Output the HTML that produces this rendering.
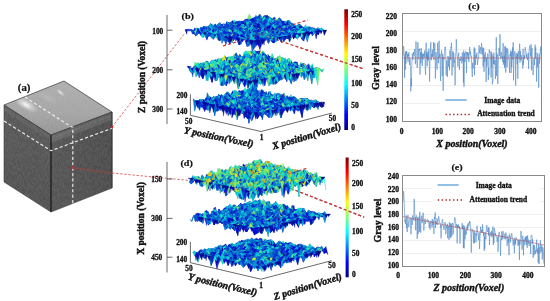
<!DOCTYPE html>
<html><head><meta charset="utf-8"><style>
html,body{margin:0;padding:0;background:#fff;width:550px;height:301px;overflow:hidden}
svg{display:block}
.pl path{stroke-width:3}
text{font-family:"Liberation Serif",serif;font-weight:bold;fill:#111;stroke:#111;stroke-width:.32}
.pl2{stroke-width:.2}
.tt{stroke-width:.42}
.j0{fill:#0a0d6f;stroke:#0a0d6f}.j1{fill:#0a0d88;stroke:#0a0d88}.j2{fill:#0a0da0;stroke:#0a0da0}.j3{fill:#0a0db9;stroke:#0a0db9}.j4{fill:#0a0dd2;stroke:#0a0dd2}.j5{fill:#0a27d2;stroke:#0a27d2}.j6{fill:#0a43d2;stroke:#0a43d2}.j7{fill:#0a5ed2;stroke:#0a5ed2}.j8{fill:#0a7ad2;stroke:#0a7ad2}.j9{fill:#0a95d2;stroke:#0a95d2}.j10{fill:#0ab1d2;stroke:#0ab1d2}.j11{fill:#0accd2;stroke:#0accd2}.j12{fill:#0ae8d2;stroke:#0ae8d2}.j13{fill:#24e8b9;stroke:#24e8b9}.j14{fill:#40e8a0;stroke:#40e8a0}.j15{fill:#5be888;stroke:#5be888}.j16{fill:#77e86f;stroke:#77e86f}.j17{fill:#92e856;stroke:#92e856}.j18{fill:#aee83d;stroke:#aee83d}.j19{fill:#c9e824;stroke:#c9e824}.j20{fill:#e5e80c;stroke:#e5e80c}.j21{fill:#e5cc0c;stroke:#e5cc0c}.j22{fill:#e5b10c;stroke:#e5b10c}.j23{fill:#e5950c;stroke:#e5950c}
</style></head><body>
<svg width="550" height="301" viewBox="0 0 550 301">
<defs><linearGradient id="jet" x1="0" y1="0" x2="0" y2="1"><stop offset="0.0000" stop-color="#7f0000"/><stop offset="0.0625" stop-color="#bf0000"/><stop offset="0.1250" stop-color="#ff0000"/><stop offset="0.1875" stop-color="#ff3f00"/><stop offset="0.2500" stop-color="#ff7f00"/><stop offset="0.3125" stop-color="#ffbf00"/><stop offset="0.3750" stop-color="#ffff00"/><stop offset="0.4375" stop-color="#bfff3f"/><stop offset="0.5000" stop-color="#7fff7f"/><stop offset="0.5625" stop-color="#3fffbf"/><stop offset="0.6250" stop-color="#00ffff"/><stop offset="0.6875" stop-color="#00bfff"/><stop offset="0.7500" stop-color="#007fff"/><stop offset="0.8125" stop-color="#003fff"/><stop offset="0.8750" stop-color="#0000ff"/><stop offset="0.9375" stop-color="#0000bf"/><stop offset="1.0000" stop-color="#00007f"/></linearGradient>
<filter id="nz" x="0" y="0" width="1" height="1"><feTurbulence type="fractalNoise" baseFrequency="0.9 0.25" numOctaves="2" seed="3"/><feColorMatrix values="0 0 0 0 1  0 0 0 0 1  0 0 0 0 1  0 0 0 .25 0"/><feComposite in2="SourceGraphic" operator="in"/></filter><filter id="nz2" x="0" y="0" width="1" height="1"><feTurbulence type="fractalNoise" baseFrequency="1.6 0.35" numOctaves="2" seed="5"/><feColorMatrix values="0 0 0 0 1  0 0 0 0 1  0 0 0 0 1  0 0 0 .3 -.02"/><feComposite in2="SourceGraphic" operator="in"/></filter>
</defs>
<g id="cube">
<linearGradient id="gt" x1="0" y1="0" x2="0" y2="1"><stop offset="0" stop-color="#acacac"/><stop offset=".6" stop-color="#a2a2a2"/><stop offset="1" stop-color="#929292"/></linearGradient>
<linearGradient id="gl" x1="0" y1="0" x2="0" y2="1"><stop offset="0" stop-color="#525252"/><stop offset="1" stop-color="#494949"/></linearGradient>
<linearGradient id="gr" x1="0" y1="0" x2="1" y2="0"><stop offset="0" stop-color="#4e4e4e"/><stop offset="1" stop-color="#444"/></linearGradient>
<radialGradient id="wp"><stop offset="0" stop-color="#fff" stop-opacity=".75"/><stop offset="1" stop-color="#fff" stop-opacity="0"/></radialGradient>
<polygon points="64,81 112,112 51,135 4,105" fill="url(#gt)"/>
<polygon points="4,105 51,135 51,212 4,182" fill="url(#gl)"/>
<polygon points="51,135 112,112 112,188 51,212" fill="url(#gr)"/>
<ellipse cx="26" cy="104.5" rx="14" ry="5.5" transform="rotate(30 26 104.5)" fill="url(#wp)"/>
<ellipse cx="26" cy="105" rx="6" ry="2.5" transform="rotate(30 26 105)" fill="url(#wp)" opacity=".7"/>
<ellipse cx="60.5" cy="92.5" rx="5.5" ry="2.2" transform="rotate(42 60.5 92.5)" fill="url(#wp)" opacity=".85"/>
<ellipse cx="48" cy="98" rx="12" ry="4" transform="rotate(30 48 98)" fill="url(#wp)" opacity=".2"/>
<polygon points="51,135 112,112 112,120 51,143" fill="#fff" opacity=".1"/>
<polygon points="4,105 51,135 51,141 4,111" fill="#fff" opacity=".05"/>
<polygon points="64,81 112,112 51,135 4,105" fill="#fff"  filter="url(#nz)" opacity=".45"/>
<polygon points="4,105 51,135 51,212 4,182" fill="#fff" filter="url(#nz2)" opacity=".55"/>
<polygon points="51,135 112,112 112,188 51,212" fill="#fff" filter="url(#nz2)" opacity=".55"/>
<line x1="51" y1="135" x2="51" y2="212" stroke="#1a1a1a" stroke-width="1.3"/>
<polyline points="4,105 51,135 112,112" fill="none" stroke="#333" stroke-width=".9"/>
<line x1="112" y1="112" x2="112" y2="188" stroke="#2a2a2a" stroke-width=".9"/>
<line x1="52" y1="138.2" x2="111.5" y2="115.8" stroke="#bbb" stroke-width=".5" stroke-dasharray="1 1.2" opacity=".6"/>
<polyline points="4,105 64,81 112,112" fill="none" stroke="#4a4a4a" stroke-width=".8"/>
<polyline points="112,112 112,188 51,212 4,182 4,105" fill="none" stroke="#3c3c3c" stroke-width=".6"/>
<polyline points="25,97 71.5,127 72.8,127 72.8,203.5" fill="none" stroke="#f2f2f2" stroke-width="1.1" stroke-dasharray="3.2 2.2"/>
<polyline points="4,121 51,150.7 112,128.3" fill="none" stroke="#f2f2f2" stroke-width="1.1" stroke-dasharray="3.2 2.2"/>
</g>
<text font-size="9.9" transform="translate(17.8 90.8) scale(1.1 1)" class="pl2">(a)</text>
<line x1="112" y1="127" x2="185" y2="33" stroke="#d45050" stroke-width=".85" stroke-dasharray="2.4 1.7" fill="none"/>
<line x1="72.8" y1="167.8" x2="112" y2="173" stroke="#c04040" stroke-opacity=".35" stroke-width="1.8"/>
<line x1="112" y1="173" x2="190" y2="180.5" stroke="#d45050" stroke-width=".85" stroke-dasharray="2.4 1.7" fill="none"/>
<circle cx="112" cy="127" r="1.3" fill="#e02020"/>
<circle cx="72.8" cy="167.8" r="1.3" fill="#e02020"/>
<line x1="223" y1="46" x2="308" y2="20" stroke="#c83c3c" stroke-width="1.15" stroke-dasharray="3 2.2" fill="none"/>
<line x1="223.6" y1="192.8" x2="308" y2="168" stroke="#c83c3c" stroke-width="1.15" stroke-dasharray="3 2.2" fill="none"/>
<line x1="256" y1="33" x2="364" y2="69" stroke="#c83c3c" stroke-width="1.15" stroke-dasharray="3 2.2" fill="none"/>
<line x1="290.5" y1="188.4" x2="364.2" y2="217.2" stroke="#c83c3c" stroke-width="1.15" stroke-dasharray="3 2.2" fill="none"/><g class="pl"><g transform="scale(.1)"><path class="j4" d="M2616 200l18-20l21-29l-17 10z"/><path class="j5" d="M2578 165l17 21l21 14l-17-60z"/><path class="j8" d="M2599 140l17 60l22-39l-18 21z"/><path class="j1" d="M2514 222l18 22l21-63l-17 12z"/><path class="j4" d="M2574 167l18 10l21-16l-18 25zM2631 198l17 22l21-67l-17 35z"/><path class="j5" d="M2553 181l18 4l21-8l-18-10zM2595 186l18-25l21 19l-18 20zM2652 188l17-35l21 18l-18 1z"/><path class="j6" d="M2634 180l18 8l20-16l-17-21zM2669 153l18 14l21 10l-18-6z"/><path class="j7" d="M2536 193l17-12l21-14l-17-13z"/><path class="j9" d="M2557 154l17 13l21 19l-17-21z"/><path class="j10" d="M2592 177l18 6l21 15l-18-37z"/><path class="j14" d="M2613 161l18 37l21-10l-18-8z"/><path class="j2" d="M2610 183l17 7l21 30l-17-22zM2627 190l18 17l21-15l-18 28z"/><path class="j3" d="M2451 193l18 22l21-22l-18-3zM2532 244l18-71l21 12l-18-4zM2571 185l18 8l21-10l-18-6zM2645 207l17 9l21 10l-17-34z"/><path class="j4" d="M2568 197l17-12l21 6l-17 2zM2722 195l17 5l21-8l-18-23z"/><path class="j5" d="M2529 183l18 1l21 13l-18-24zM2648 220l18-28l21-25l-18-14z"/><path class="j6" d="M2666 192l17 34l21-34l-17-25z"/><path class="j7" d="M2511 184l18-1l21-10l-18 71zM2550 173l18 24l21-4l-18-8z"/><path class="j8" d="M2589 193l17-2l21-1l-17-7z"/><path class="j10" d="M2606 191l18 15l21 1l-18-17zM2704 192l18 3l20-26l-17 15z"/><path class="j12" d="M2490 193l18-1l21-9l-18 1zM2683 226l18-34l21 3l-18-3z"/><path class="j15" d="M2493 138l18 46l21 60l-18-22zM2687 167l17 25l21-8l-17-7z"/><path class="j16" d="M2472 190l18 3l21-9l-18-46z"/><path class="j3" d="M2448 201l18-3l21 9l-18 8zM2487 207l18 39l21-5l-18-49zM2603 218l18 15l20-60l-17 33zM2662 216l18-14l21-10l-18 34z"/><path class="j4" d="M2409 209l18 69l21-77l-18 13zM2508 192l18 49l21-57l-18-1zM2505 246l17-16l21 17l-17-6zM2701 192l17 0l21 8l-17-5zM2718 192l18 58l21-50l-18 0z"/><path class="j5" d="M2427 278l18-45l21-35l-18 3zM2526 241l17 6l21-50l-17-13zM2582 207l18 2l21 24l-18-15zM2698 169l17 35l21 46l-18-58z"/><path class="j6" d="M2388 272l18-27l21 33l-18-69zM2543 247l18-32l21-8l-18-10zM2736 250l18 17l20-65l-17-2z"/><path class="j7" d="M2430 214l18-13l21 14l-18-22zM2469 215l18-8l21-15l-18 1zM2466 198l18 66l21-18l-18-39zM2585 185l18 33l21-12l-18-15zM2641 173l18 6l21 23l-18 14zM2680 202l18-33l20 23l-17 0zM2774 202l18-24l20 16l-17 1z"/><path class="j8" d="M2547 184l17 13l21-12l-17 12z"/><path class="j9" d="M2564 197l18 10l21 11l-18-33zM2659 179l18 50l21-60l-18 33z"/><path class="j12" d="M2624 206l17-33l21 43l-17-9z"/><path class="j13" d="M2621 233l17-29l21-25l-18-6z"/><path class="j15" d="M2757 200l17 2l21-7l-17-2z"/><path class="j18" d="M2739 200l18 0l21-7l-18-1z"/><path class="j2" d="M2463 247l17-35l21-6l-17 58zM2484 264l17-58l21 24l-17 16z"/><path class="j3" d="M2346 204l18 14l21-6l-18 93zM2403 307l18-56l21-22l-18-18zM2733 194l17 44l21 1l-17 28zM2750 238l18-17l21-7l-18 25zM2809 239l18-27l21 2l-18 6z"/><path class="j4" d="M2385 212l18 95l21-96l-18 34zM2442 229l17-8l21-9l-17 35zM2519 226l18-7l21 11l-18 4zM2635 250l18-26l21-5l-18 2zM2789 214l17 15l21-17l-18 27z"/><path class="j5" d="M2501 206l18 20l21 8l-18-4zM2597 266l17 30l21-46l-18-28z"/><path class="j6" d="M2406 245l18-34l21 22l-18 45zM2522 230l18 4l21-19l-18 32zM2540 234l18-4l21-14l-18-1zM2579 216l18 50l20-44l-17-13zM2617 222l18 28l21-29l-18-17zM2638 204l18 17l21 8l-18-50zM2792 178l17 61l21-19l-18-26z"/><path class="j7" d="M2367 305l18-93l21 33l-18 27zM2364 218l18 4l21 85l-18-95zM2561 215l18 1l21-7l-18-2zM2694 203l18 32l21-41l-18 10zM2754 267l17-28l21-61l-18 24z"/><path class="j8" d="M2445 233l18 14l21 17l-18-66zM2600 209l17 13l21-18l-17 29zM2656 221l18-2l20-16l-17 26zM2715 204l18-10l21 73l-18-17zM2771 239l18-25l20 25l-17-61z"/><path class="j9" d="M2558 230l18 15l21 21l-18-50zM2674 219l17 23l21-7l-18-32z"/><path class="j10" d="M2424 211l18 18l21 18l-18-14zM2480 212l18 32l21-18l-18-20z"/><path class="j12" d="M2324 205l18 28l22-15l-18-14zM2677 229l17-26l21 1l-17-35zM2712 235l18 27l20-24l-17-44zM2827 212l17 4l21-5l-17 3z"/><path class="j2" d="M2282 227l18 4l21 15l-18-14zM2300 231l18-8l21 85l-18-62zM2321 246l18 62l22-77l-19 2zM2421 251l18-24l20-6l-17 8zM2498 244l18-6l21-19l-18 7zM2537 219l18 5l21 21l-18-15zM2534 225l18 40l21-22l-18-19zM2614 296l18-45l21-27l-18 26zM2671 274l17-44l21 70l-18-58zM2709 300l18-76l20 2l-17 36z"/><path class="j3" d="M2303 232l18 14l21-13l-18-28zM2342 233l19-2l21-9l-18-4zM2632 251l18-45l21 68l-18-50zM2653 224l18 50l20-32l-17-23z"/><path class="j4" d="M2361 231l18-4l21-18l-18 13zM2379 227l18 9l21-7l-18-20zM2576 245l18-12l20 63l-17-30zM2747 226l18 49l21-19l-18-35zM2806 229l18 25l20-38l-17-4zM2824 254l17-23l21 104l-18-119z"/><path class="j5" d="M2261 239l18-15l21 7l-18-4zM2555 224l18 19l21-10l-18 12zM2727 224l17-7l21 58l-18-49z"/><path class="j6" d="M2477 221l18 2l21 15l-18 6zM2611 219l18 44l21-57l-18 45zM2650 206l18 22l20 2l-17 44zM2691 242l18 58l21-38l-18-27zM2768 221l18 35l20-27l-17-15zM2765 275l18-1l20-57l-17 39zM2841 231l18 16l21-44l-18 132z"/><path class="j7" d="M2382 222l18-13l21 42l-18 56zM2439 227l17-8l21 2l-18 0zM2459 221l18 0l21 23l-18-32zM2495 223l18 42l21-40l-18 13zM2803 217l18 55l20-41l-17 23z"/><path class="j8" d="M2400 209l18 20l21-2l-18 24zM2418 229l18 38l20-48l-17 8zM2516 238l18-13l21-1l-18-5zM2594 233l17-14l21 32l-18 45zM2688 230l18 2l21-8l-18 76zM2730 262l17-36l21-5l-18 17zM2880 203l17 152l21-123l-18-23z"/><path class="j9" d="M2339 308l19-61l21-20l-18 4zM2844 216l18 119l20-98l-17-26zM2862 335l18-132l20 6l-18 28z"/><path class="j10" d="M2786 256l17-39l21 37l-18-25z"/><path class="j11" d="M2456 219l18 67l21-63l-18-2zM2573 243l18-16l20-8l-17 14z"/><path class="j1" d="M2800 333l18-61l21-38l-18 38z"/><path class="j2" d="M2198 226l18 37l21 21l-18-36zM2626 248l18 27l21-33l-18 19zM2685 226l18 61l21-28l-18-27zM2839 234l17 8l21 23l-18-18z"/><path class="j3" d="M2219 248l18 36l21-9l-18-14zM2316 253l18-10l21 18l-18-29zM2397 236l18-19l21 50l-18-38zM2394 285l18 15l21-78l-18-5zM2436 267l18-9l20 28l-18-67zM2433 222l18 38l21-10l-18 8zM2744 217l18 9l21 48l-18 1zM2818 272l18 48l20-78l-17-8zM2859 247l18 18l20 90l-17-152z"/><path class="j4" d="M2415 217l18 5l21 36l-18 9zM2474 286l18-54l21 33l-18-42zM2513 265l18-37l21 37l-18-40zM2591 227l17 8l21 28l-18-44zM2608 235l18 13l21 13l-18 2zM2703 287l18-4l21-67l-18 43zM2894 262l18 24l20-48l-17-4z"/><path class="j5" d="M2258 275l18-31l21 2l-18-22zM2358 247l18-6l21-5l-18-9zM2355 261l18-16l21 40l-18-44zM2821 272l18-38l20 13l-18-16zM2856 242l18 24l20-4l-17 3z"/><path class="j6" d="M2279 224l18 22l21-23l-18 8zM2297 246l19 7l21-21l-19-9zM2318 223l19 9l21 15l-19 61zM2454 258l18-8l20-18l-18 54zM2549 235l18 68l21-64l-18 15zM2629 263l18-2l21-33l-18-22zM2647 261l18-19l20-16l-17 2zM2668 228l17-2l21 6l-18-2zM2706 232l18 27l20-42l-17 7z"/><path class="j7" d="M2240 261l18 14l21-51l-18 15zM2237 284l18-41l21 1l-18 31zM2276 244l19 18l21-9l-19-7zM2376 241l18 44l21-68l-18 19zM2492 232l18 11l21-15l-18 37zM2552 265l18-11l21-27l-18 16zM2665 242l18 1l20 44l-18-61zM2742 216l17 21l21 37l-18-48zM2780 274l18-4l20 2l-18 61zM2877 265l17-3l21-28l-18 121zM2897 355l18-121l20 126l-17-128z"/><path class="j8" d="M2472 250l18-20l20 13l-18-11zM2510 243l18 38l21-46l-18-7zM2531 228l18 7l21 19l-18 11zM2762 226l18 48l20 59l-17-59zM2783 274l17 59l21-61l-18-55zM2915 234l17 4l20 63l-17 59z"/><path class="j10" d="M2570 254l18-15l20-4l-17-8zM2724 259l18-43l20 10l-18-9zM2932 238l18 72l20-53l-18 44z"/><path class="j11" d="M2337 232l18 29l21-20l-18 6zM2588 239l18 4l20 5l-18-13z"/><path class="j1" d="M2795 329l17-46l21 18l-18-43z"/><path class="j2" d="M2370 258l18 59l21-71l-18 1zM2700 244l18 18l21 12l-18 9zM2798 270l17-12l21 62l-18-48zM2836 320l17-52l21-2l-18-24zM2909 363l18-60l20-46l-18-3zM2985 331l17-84l20 18l-17 4z"/><path class="j3" d="M2134 259l19-18l21 40l-18-15zM2412 300l18-61l21 21l-18-38zM2567 303l18-73l21 13l-18-4zM2644 275l18-32l21 0l-18-1zM2721 283l18-9l20-37l-17-21zM2853 268l18-18l20-1l-17 17zM2967 269l18 62l20-62l-17-23z"/><path class="j4" d="M2216 263l18-23l21 3l-18 41zM2213 248l19 52l21-53l-19-7zM2352 272l18-14l21-11l-18-2zM2391 247l18-1l21-7l-18 61zM2487 263l18-4l21 2l-18-21zM2546 255l18 14l21-39l-18 73zM2564 269l18-31l21 13l-18-21zM2606 243l18 1l20 31l-18-27zM2624 244l17-22l21 21l-18 32zM2739 274l18-45l20 31l-18-23zM2759 237l18 23l21 10l-18 4zM2757 229l17 18l21 82l-18-69zM2833 301l18-3l20-48l-18 18zM2912 286l17-32l21 56l-18-72z"/><path class="j5" d="M2234 240l19 7l21 31l-19-35zM2253 247l18 2l21-3l-18 32zM2373 245l18 2l21 53l-18-15zM2430 239l18 14l21 53l-18-46zM2469 306l18-43l21-23l-18-10zM2526 261l18-21l20 29l-18-14zM2683 243l17 1l21 39l-18 4zM2874 266l17-17l21 37l-18-24zM2891 249l18 114l20-109l-17 32z"/><path class="j6" d="M2156 266l18 15l21-39l-18-2zM2174 281l18-29l21-4l-18-6zM2195 242l18 6l21-8l-18 23zM2255 243l19 35l21-16l-19-18zM2292 246l18 47l21-44l-18-21zM2331 249l18 6l21 3l-18 14zM2490 230l18 10l20 41l-18-38zM2508 240l18 21l20-6l-18 26zM2777 260l18 69l20-71l-17 12zM2929 254l18 3l20 12l-17 41z"/><path class="j7" d="M2274 278l18-32l21-18l-18 34zM2295 262l18-34l21 15l-18 10zM2448 253l18-6l21 16l-18 43zM2528 281l18-26l21 48l-18-68zM2662 243l18-23l20 24l-17-1zM2871 250l18 35l20 78l-18-114zM2950 310l17-41l21-23l-18 11z"/><path class="j8" d="M2177 240l18 2l21 21l-18-37zM2313 228l18 21l21 23l-18-29zM2603 251l18 36l20-65l-17 22zM2815 258l18 43l20-33l-17 52z"/><path class="j9" d="M2585 230l18 21l21-7l-18-1zM2641 222l18 37l21-39l-18 23z"/><path class="j10" d="M2680 220l18 27l20 15l-18-18z"/><path class="j11" d="M2718 262l18-23l21-10l-18 45zM2947 257l17 3l21 71l-18-62z"/><path class="j12" d="M2451 260l18 46l21-76l-18 20z"/><path class="j13" d="M2409 246l18 58l21-51l-18-14z"/><path class="j17" d="M2334 243l18 29l21-27l-18 16z"/><path class="j1" d="M2812 283l18-2l21 17l-18 3z"/><path class="j2" d="M2310 293l18 5l21-43l-18-6zM2406 263l19-9l20 39l-18 11zM2427 304l18-11l21-46l-18 6zM2810 262l18 69l20-75l-18 25zM2889 285l17-41l21 59l-18 60z"/><path class="j3" d="M2347 254l18 4l21 17l-19-14zM2562 267l18 38l20-57l-18-10zM2580 305l18-48l20 40l-18-49zM2754 277l18-2l20-20l-18-8zM2774 247l18 8l20 28l-17 46zM2772 275l17-6l21-7l-18-7zM2906 244l18 10l20 61l-17-12z"/><path class="j4" d="M2388 317l18-54l21 41l-18-58zM2386 275l18 50l21-71l-19 9zM2463 256l19-5l20 9l-18-9zM2502 260l18 4l21-20l-18 11zM2544 240l18 27l20-29l-18 31zM2541 244l18 60l21 1l-18-38zM2582 238l18 10l21 39l-18-36zM2621 287l18-35l20 7l-18-37zM2639 252l18 5l20 15l-18-13zM2695 256l18 31l20 27l-17-58zM2982 245l18 12l20 52l-18-62z"/><path class="j5" d="M2192 252l19 43l21 5l-19-52zM2307 287l19 5l21-38l-19 44zM2367 261l19 14l20-12l-18 54zM2677 272l18-16l21 0l-18-9zM2698 247l18 9l20-17l-18 23z"/><path class="j6" d="M2092 256l19-13l21 9l-19 31zM2132 252l18 34l21-25l-18-20zM2153 241l18 20l21-9l-18 29zM2232 300l18-42l21-9l-18-2zM2657 257l18 3l20-4l-18 16zM2848 256l18 49l20-45l-18-8zM2944 315l18-41l20-29l-18 15zM2964 260l18-15l20 2l-17 84zM3020 309l17-24l21-38l-18 28z"/><path class="j7" d="M2071 265l19 21l21-43l-19 13zM2211 295l18-10l21-27l-18 42zM2349 255l18 6l21 56l-18-59zM2466 247l18 4l21 8l-18 4zM2484 251l18 9l21-5l-18 4zM2523 255l18-11l21 23l-18-27zM2736 239l18 38l20-30l-17-18zM2830 281l18-25l20-4l-17 46zM2851 298l17-46l21 33l-18-35z"/><path class="j8" d="M2111 243l18 60l21-17l-18-34zM2268 216l19 43l20 28l-18-49zM2289 238l18 49l21 11l-18-5zM2792 255l18 7l20 19l-18 2zM3000 257l17 5l20 23l-17 24z"/><path class="j9" d="M2171 261l19-24l21 58l-19-43zM2271 249l18-11l21 55l-18-47zM2733 314l18-56l21 17l-18 2zM2927 303l17 12l20-55l-17-3zM2962 274l17 12l21-29l-18-12z"/><path class="j10" d="M2113 283l19-31l21-11l-19 18zM2190 237l18 39l21 9l-18 10zM2229 285l18-21l21-48l-18 42zM2425 254l18 38l20-36l-18 37zM2659 259l18 13l21-25l-18-27zM2924 254l18 21l20-1l-18 41z"/><path class="j11" d="M2600 248l18 49l21-45l-18 35zM2716 256l17 58l21-37l-18-38zM2868 252l18 8l20-16l-17 41zM3002 247l18 62l20-34l-18-10z"/><path class="j12" d="M2328 298l19-44l20 7l-18-6zM2445 293l18-37l21-5l-18-4zM2505 259l18-4l21-15l-18 21zM2618 297l18-47l21 7l-18-5zM2886 260l18-4l20-2l-18-10zM3037 285l18-10l20 7l-17-35z"/><path class="j13" d="M2150 286l19-24l21-25l-19 24zM2250 258l18-42l21 22l-18 11z"/><path class="j2" d="M2108 263l19 65l21-15l-19-10zM2129 303l19 10l21-51l-19 24zM2127 328l18 25l21-77l-18 37zM2559 304l18-33l21-14l-18 48zM2942 275l17-2l20 13l-17-12z"/><path class="j3" d="M2047 276l19 60l21-19l-18-44zM2245 272l18 91l21-122l-18 79zM2365 258l18 13l21 54l-18-50zM2520 264l18 54l21-14l-18-60zM2556 264l19 76l20-65l-18-4zM2577 271l18 4l21 0l-18-18zM2595 275l18 2l21-12l-18 10zM2654 279l18 14l20-8l-17-25zM2675 260l17 25l21 2l-18-31zM2672 293l18 22l20-51l-18 21zM2789 269l18 38l21 24l-18-69zM2828 331l17-73l21 47l-18-49zM2863 269l18 118l20-103l-18-17zM2979 286l18 23l20-47l-17-5zM3072 272l18 9l20 0l-18-15zM3090 281l18 9l20-13l-18 4z"/><path class="j4" d="M2362 265l18 16l21-19l-18 9zM2443 292l18-32l21-9l-19 5zM2482 251l18 33l20-20l-18-4zM2692 285l18-21l21 3l-18 20zM2866 305l17-38l21-11l-18 4zM2921 272l18-7l20 8l-17 2zM2977 258l18 36l20-4l-18 19zM2997 309l18-19l20 69l-18-97zM3052 288l18-17l20 10l-18-9z"/><path class="j5" d="M2090 286l18-23l21 40l-18-60zM2205 252l19 22l21-2l-19-6zM2344 292l18-27l21 6l-18-13zM2634 265l18 50l20-22l-18-14zM2713 287l18-20l20-9l-18 56zM2749 266l18 11l20-19l-18 0zM3017 262l18 97l20-84l-18 10z"/><path class="j6" d="M2029 270l18 6l22-3l-19-7zM2148 313l18-37l21-14l-18 0zM2208 276l18-10l21-2l-18 21zM2226 266l19 6l21 48l-19-56zM2247 264l19 56l21-61l-19-43zM2287 259l18 36l21-3l-19-5zM2323 259l18 38l21-32l-18 27zM2383 271l18-9l21-18l-18 81zM2518 251l18 14l20-1l-18 54zM2538 318l18-54l21 7l-18 33zM2883 267l18 17l20-12l-17-16zM2901 284l18 45l20-64l-18 7z"/><path class="j7" d="M2087 317l19-82l21 93l-19-65zM2326 292l18 0l21-34l-18-4zM2616 275l18-10l20 14l-18-29zM2636 250l18 29l21-19l-18-3z"/><path class="j8" d="M2050 266l19 7l21 13l-19-21zM2169 262l18 0l21 14l-18-39zM2266 320l18-79l21 54l-18-36zM2479 267l18 58l21-74l-18 33zM2710 264l18 4l21-2l-18 1zM2751 258l18 0l20 11l-17 6zM2825 273l18-18l20 14l-18-11zM3015 290l17-16l20 14l-17 71z"/><path class="j9" d="M2069 273l18 44l21-54l-18 23zM2422 244l18 42l21-26l-18 32zM2904 256l17 16l21 3l-18-21z"/><path class="j10" d="M2008 271l18 12l21-7l-18-6zM2187 262l18-10l21 14l-18 10zM2404 325l18-81l21 48l-18-38zM2401 262l18 13l21 11l-18-42zM2461 260l18 7l21 17l-18-33zM2500 284l18-33l20 67l-18-54zM2598 257l18 18l20-25l-18 47zM2787 258l18-8l20 23l-18 34zM2939 265l18-6l20-1l-18 15zM2959 273l18-15l20 51l-18-23z"/><path class="j11" d="M2166 276l19-9l20-15l-18 10zM2284 241l18 47l21-29l-18 36zM2440 286l18-25l21 6l-18-7zM2731 267l18-1l20-8l-18 0zM2769 258l18 0l20 49l-18-38zM2845 258l18 11l20-2l-17 38zM3035 359l17-71l20-16l-17 3z"/><path class="j12" d="M2305 295l18-36l21 33l-18 0zM2807 307l18-34l20-15l-17 73zM3055 275l17-3l20-6l-17 16z"/><path class="j1" d="M2321 309l18 7l21-29l-19 10zM2575 340l18-10l20-53l-18-2z"/><path class="j2" d="M2026 283l19-1l21 54l-19-60zM2045 282l19 41l21-47l-19 60zM2164 338l18-39l21 53l-18-85zM2339 316l18-28l21 4l-18-5zM2536 265l18 84l21-9l-19-76zM2746 275l18 101l20-32l-17-67zM2764 376l18-86l20-18l-18 72zM2992 309l18-25l20 27l-18 2z"/><path class="j3" d="M2224 274l18 5l21 84l-18-91zM2302 288l19 21l20-12l-18-38zM2360 287l18 5l21-17l-19 6zM2458 261l19 20l20 44l-18-58zM2670 377l18-70l20 9l-18-1zM2899 285l17-4l21-4l-18 52zM2974 292l18 17l20 4l-17-19zM3108 290l17 9l20-16l-17-6zM3143 283l17 10l20 9l-18 86z"/><path class="j4" d="M2066 336l19-60l21-41l-19 82zM2064 323l18-50l21 54l-18-51zM2456 283l18 48l21-52l-18 2zM2515 261l18 24l21 64l-18-84zM2708 316l18-46l20 5l-18-7zM2843 255l18 14l20 118l-18-118zM2861 269l18 118l20-102l-18 102zM2919 329l18-52l20-18l-18 6zM2916 281l18 5l20 15l-17-24zM2937 277l17 24l20-9l-17-33z"/><path class="j5" d="M2182 299l19 22l20-14l-18 45zM2263 363l19-91l20 16l-18-47zM2378 292l18-18l21-8l-18 9zM2477 281l18-2l20-18l-18 64zM2533 285l19 52l20-52l-18 64zM2554 349l18-64l21 45l-18 10zM2613 277l18-13l21 51l-18-50zM2652 315l18 62l20-62l-18-22zM2767 277l17 67l21-94l-18 8zM2784 344l18-72l21-2l-18-20zM2840 283l18 0l21 104l-18-118zM2879 387l17-79l20-27l-17 4zM3125 299l18-16l19 105l-17-105z"/><path class="j6" d="M1987 299l18 18l21-34l-18-12zM2106 235l18 47l21 71l-18-25zM2145 353l19-15l21-71l-19 9zM2143 286l18 0l21 13l-18 39zM2185 267l18 85l21-78l-19-22zM2203 352l18-45l21-28l-18-5zM2221 307l19-18l21-7l-19-3zM2242 279l19 3l21-10l-19 91zM2261 282l18 1l21 2l-18-13zM2341 297l19-10l20-6l-18-16zM2572 285l18-7l21 6l-18 46zM2802 272l18 47l20-36l-17-13zM2881 387l18-102l20 44l-18-45zM2954 301l18-43l20 51l-18-17zM3012 313l18-2l20 41l-18-78zM3105 287l18 72l20-76l-18 16z"/><path class="j7" d="M2024 280l19-20l21 63l-19-41zM2495 279l18 0l20 6l-18-24zM2631 264l18 13l21 100l-18-62zM2688 307l18 11l20-48l-18 46zM3032 274l18 78l20-81l-18 17zM3030 311l18 14l20-48l-18 75zM3068 277l17 15l20-5l-17 30z"/><path class="j8" d="M1966 280l18 10l21 27l-18-18zM2124 282l19 4l21 52l-19 15zM2300 285l18-7l21 38l-18-7zM2593 330l18-46l20-20l-18 13zM2690 315l18 1l20-48l-18-4zM2805 250l18 20l20-15l-18 18zM2995 294l17 19l20-39l-17 16zM3070 271l18 46l20-27l-18-9z"/><path class="j9" d="M2726 270l18 23l20 83l-18-101zM3050 352l18-75l20 40l-18-46z"/><path class="j10" d="M2005 317l19-37l21 2l-19 1zM2085 276l18 51l21-45l-18-47zM2103 327l19 57l21-98l-19-4zM2380 281l19-6l20 0l-18-13zM2419 275l19 6l20-20l-18 25zM2611 284l18 21l20-28l-18-13zM2649 277l18 43l21-13l-18 70zM2957 259l17 33l21 2l-18-36zM3088 317l17-30l20 12l-17-9z"/><path class="j11" d="M1944 279l19 36l21-25l-18-10zM2417 266l18 96l21-79l-18-2z"/><path class="j12" d="M1984 290l19 17l21-27l-19 37zM2438 281l18 2l21-2l-19-20zM2823 270l17 13l21-14l-18-14z"/><path class="j14" d="M2282 272l18 13l21 24l-19-21zM2728 268l18 7l21 2l-18-11z"/><path class="j15" d="M2497 325l18-64l21 4l-18-14z"/><path class="j16" d="M2399 275l18-9l21 15l-19-6z"/><path class="j2" d="M1921 299l19 16l21 35l-19-12zM2159 298l19 66l20-58l-18-22zM2198 306l19 39l21-32l-19-35zM2552 337l18-26l20-33l-18 7zM2629 305l18 15l20 0l-18-43zM2667 320l18-29l21 27l-18-11zM2858 283l18 8l20 17l-17 79z"/><path class="j3" d="M2082 273l19 11l21 100l-19-57zM2298 293l18 2l21 2l-19-19zM2394 308l18-16l21-3l-18-3zM2435 362l19-73l20 42l-18-48zM2549 352l19-55l20-16l-18 30zM2570 311l18-30l20 39l-18-42zM2590 278l18 42l21-15l-18-21zM2665 311l18-25l20 49l-18-44zM2706 318l18-1l20-24l-18-23zM2703 335l18-37l21 31l-18-12zM2818 339l18 35l20-88l-18 13zM2876 291l18-16l20 44l-18-11zM3045 335l18-21l20-25l-18 2z"/><path class="j4" d="M1923 337l19 1l21-23l-19-36zM1942 338l19 12l21-51l-19 16zM1982 299l19 0l21 20l-19-12zM2001 299l18 39l21-46l-18 27zM2101 284l18 39l21-33l-18 94zM2238 313l18-14l21-19l-19 72zM2279 283l19 10l20-15l-18 7zM2277 280l18 10l21 5l-18-2zM2376 292l18 16l21-22l-19-12zM2472 275l18 73l21-35l-19-28zM2511 313l18-14l20 53l-18-83zM2744 293l18-13l20 10l-18 86zM2762 280l18 17l20-24l-18 17zM2782 290l18-17l20 46l-18-47zM2780 297l18-5l20 47l-18-66zM3028 281l17 54l20-44l-17 34zM3103 272l17 11l20 56l-17 20zM3160 293l18-15l20 12l-18 12z"/><path class="j5" d="M2003 307l19 12l21-59l-19 20zM2022 319l18-27l21 15l-18-47zM2415 286l18 3l21 0l-19 73zM2531 269l18 83l21-41l-18 26zM2626 285l19 34l20-8l-18 9zM2742 329l18-31l20-1l-18-17zM2838 299l18-13l20 5l-18-8zM2856 286l18 50l20-61l-18 16zM3010 284l18-3l20 44l-18-14zM3140 339l18-38l20-23l-18 15z"/><path class="j6" d="M1881 292l19 10l21-3l-19-6zM1902 293l19 6l21 39l-19-1zM2061 307l19-22l21-1l-19-11zM2080 285l19 55l20-17l-18-39zM2119 323l19-36l21 11l-19-8zM2219 278l19 35l20 39l-18-63zM2258 352l19-72l21 13l-19-10zM2337 297l18-21l21 16l-19-4zM2820 319l18-20l20-16l-18 0zM3083 289l17 10l20-16l-17-11z"/><path class="j7" d="M2396 274l19 12l20 76l-18-96zM2433 289l18 6l21-20l-18 14zM2685 291l18 44l21-18l-18 1zM2724 317l18 12l20-49l-18 13zM2896 308l18 11l20-33l-18-5zM2894 275l18 27l20-12l-18 29zM2934 286l18 3l20-31l-18 43zM2972 258l18 33l20-7l-18 25zM3065 291l18-2l20-17l-18 20z"/><path class="j8" d="M2040 292l19 25l21-32l-19 22zM2161 286l19-2l21 37l-19-22zM2180 284l18 22l21-28l-18 43zM2240 289l18 63l21-69l-18-1zM2318 278l19 19l20-9l-18 28zM2800 273l18 66l20-40l-18 20zM3085 292l18-20l20 87l-18-72zM3123 359l17-20l20-46l-17-10z"/><path class="j9" d="M2140 290l19 8l21-14l-19 2zM2201 321l18-43l21 11l-19 18zM2357 288l19 4l20-18l-18 18zM2588 281l18 32l20-28l-18 35zM2932 290l18-1l20-9l-18 9zM3008 308l17 2l20 25l-17-54zM3048 325l17-34l20 1l-17-15zM3178 278l17 18l20-20l-17 14z"/><path class="j10" d="M1961 350l19-69l21 18l-19 0zM2043 260l18 47l21-34l-18 50zM2122 384l18-94l21-4l-18 0zM2355 276l18 2l21 30l-18-16zM2492 285l19 28l20-44l-18 10zM2647 320l18-9l20-20l-18 29z"/><path class="j11" d="M1963 315l19-16l21 8l-19-17zM2454 289l18-14l20 10l-18 46zM2513 279l18-10l21 68l-19-52zM2914 319l18-29l20-1l-18-3zM2952 289l18-9l20 11l-18-33zM2970 280l18 16l20 12l-18-17zM3195 296l18 28l19-34l-17-14z"/><path class="j12" d="M2316 295l18 3l21-22l-18 21zM2474 331l18-46l21-6l-18 0zM2990 291l18 17l20-27l-18 3zM3158 301l17-12l20 7l-17-18z"/><path class="j13" d="M2608 320l18-35l21 35l-18-15zM3120 283l18 7l20 11l-18 38z"/><path class="j2" d="M2038 304l19 48l21-53l-19 18zM2078 299l18 62l21-51l-18 30zM2096 361l19-45l21 8l-19-14zM2217 345l18-47l21 1l-18 14zM2488 331l18-27l21-1l-19 49z"/><path class="j3" d="M2057 352l19-5l20 14l-18-62zM2117 310l19 14l21 4l-19-41zM2175 345l19-45l21 30l-19-32zM2235 298l19 0l21 30l-19-29zM2314 309l18-14l21 5l-19-2zM2392 322l18-17l21 63l-19-76zM2410 305l19-15l20 17l-18 61zM2565 296l19 64l20-55l-18-21zM2624 274l18 73l21 18l-18-46zM2816 306l18 10l20-17l-18 75zM2892 328l18 36l20-78l-18 16zM2988 296l17 7l20 7l-17-2z"/><path class="j4" d="M1879 308l19 0l21-11l-19 5zM1900 302l19-5l21 18l-19-16zM1919 297l19 19l21-19l-19 18zM2157 328l18 17l21-47l-18 66zM2451 295l19 18l20 35l-18-73zM2490 348l18 4l21-53l-18 14zM2701 359l18-17l20-3l-18-41zM2721 298l18 41l21-41l-18 31zM2719 342l18-40l20 53l-18-16zM2760 298l18-13l20 7l-18 5zM2834 316l18-8l20 9l-18-18zM2872 317l18-31l20 78l-18-36zM3005 303l18 37l20-31l-18 1zM3175 289l18 12l20 23l-18-28zM3173 310l18 2l20 1l-18-12z"/><path class="j5" d="M1860 301l19 7l21-6l-19-10zM1940 315l19-18l21-16l-19 69zM1977 281l19 31l21 51l-19-37zM2099 340l18-30l21-23l-19 36zM2178 364l18-66l21 47l-19-39zM2254 298l18 28l21 7l-18-5zM2470 313l18 18l20 21l-18-4zM2508 352l19-49l20-32l-18 28zM2529 299l18-28l21 26l-19 55zM2586 284l18 21l20-31l-18 39zM2796 299l18 3l20 14l-18-10zM2874 336l18-8l20-26l-18-27zM2910 364l18-31l20-45l-18-2zM3098 281l18 52l20-21l-18-15zM3136 312l17 10l20-12l-17 34zM3156 344l17-34l20-9l-18-12z"/><path class="j6" d="M1998 326l19 37l21-59l-19 34zM2138 287l19 41l21 36l-19-66zM2295 290l19 19l20-11l-18-3zM2293 333l19-24l20-14l-18 14zM2373 278l19 44l20-30l-18 16zM2431 368l18-61l21 6l-19-18zM2547 271l18 25l21-12l-18 13zM2645 319l18 46l20-79l-18 25zM2836 374l18-75l20 37l-18-50zM2950 289l18 18l20-11l-18-16zM2948 288l17 32l20 47l-17-60zM3023 340l18-25l20 38l-18-44z"/><path class="j7" d="M1898 308l19 5l21 3l-19-19zM2017 363l19-33l21 22l-19-48zM2196 298l19 32l20-32l-18 47zM2334 298l19 2l20-22l-18-2zM2353 300l18 51l21-29l-19-44zM2412 292l19 76l20-73l-18-6zM2604 305l18 29l20 13l-18-73zM2642 347l19-50l20 5l-18 63zM2663 365l18-63l20 57l-18-73zM2683 286l18 73l20-61l-18 37zM2739 339l18 16l21-70l-18 13zM3043 309l18 44l20-34l-18-5zM3138 290l18 54l19-55l-17 12z"/><path class="j8" d="M2256 299l19 29l20-38l-18-10zM2371 351l19-60l20 14l-18 17zM2527 303l18 1l20-8l-18-25zM2681 302l18 53l20-13l-18 17zM2968 307l17 60l20-64l-17-7zM3025 310l18-1l20 5l-18 21zM3193 301l18 12l19-17l-17 28z"/><path class="j9" d="M1959 297l18-16l21 45l-18-45zM2019 338l19-34l21 13l-19-25zM2332 295l19 83l20-27l-18-51zM2757 355l18-53l21-3l-18-14zM2854 299l18 18l20 11l-18 8zM2912 302l18-16l20 3l-18 1zM2985 367l18-64l20 37l-18-37zM3063 314l18 5l19-20l-17-10zM3061 353l17-13l20-59l-17 38zM3100 299l18-2l20-7l-18-7z"/><path class="j10" d="M2059 317l19-18l21 41l-19-55zM2215 330l18-31l21-1l-19 0z"/><path class="j11" d="M1980 281l18 45l21 12l-18-39zM2449 307l18-9l21 33l-18-18zM3081 319l17-38l20 16l-18 2zM3118 297l18 15l20 32l-18-54zM3213 324l17-28l20 36l-18-42z"/><path class="j12" d="M2606 313l18-39l21 45l-19-34zM2778 285l18 14l20 7l-18-14zM2798 292l18 14l20 68l-18-35z"/><path class="j13" d="M2568 297l18-13l20 29l-18-32zM2930 286l18 2l20 19l-18-18z"/><path class="j14" d="M1938 316l19 37l20-72l-18 16zM2136 324l19-16l20 37l-18-17z"/><path class="j15" d="M2275 328l18 5l21-24l-19-19z"/><path class="j2" d="M1994 324l19 28l21-39l-19 26zM2015 339l19-26l21 63l-19-46zM2055 376l19 1l20-42l-18 12zM2312 309l18 100l21-31l-19-83zM2525 314l18 84l20-86l-18-8z"/><path class="j3" d="M1936 314l18 45l21-16l-18 10zM1975 343l19-19l21 15l-19-27zM2113 301l19 67l21-9l-19 34zM2134 393l19-34l20-65l-18 14zM2153 359l18 3l21-33l-19-35zM2173 294l19 35l21 25l-19-54zM2194 300l19 54l20-55l-18 31zM2310 302l18 36l21-22l-19 93zM2447 313l18-3l21 35l-19-47zM2465 310l19 50l20 15l-18-30zM2543 398l18-78l20-18l-18 10zM2602 295l18 67l20-52l-18 24zM2658 301l19 25l20 46l-18-72zM2814 302l18 15l20-9l-18 8zM2850 314l18-13l20 32l-18 35zM2890 286l18 23l20 24l-18 31zM2963 337l18 11l20-11l-18-29zM3153 322l18 14l20-24l-18-2z"/><path class="j4" d="M1957 353l18-10l21-31l-19-31zM2115 316l19 77l21-85l-19 16zM2369 319l19-6l20-3l-18-19zM2563 312l18-10l21-7l-18 65zM2735 313l18 21l20-18l-18-9zM2755 307l18 9l20-12l-18-2zM2812 322l18-16l20 8l-18 3zM2908 309l18 8l19-14l-17 30zM2945 303l18 34l20-29l-18 12zM3039 368l18-51l19-2l-17-2z"/><path class="j5" d="M1996 312l19 27l21-9l-19 33zM2076 347l18-12l21-19l-19 45zM2074 377l18-60l21-16l-19 34zM2330 409l19-93l20 3l-18 59zM2390 291l18 19l21-20l-19 15zM2584 360l18-65l20 39l-18-29zM2661 297l18 3l20 55l-18-53zM2699 355l18-53l20 0l-18 40zM2775 302l18 2l21-2l-18-3zM2793 304l19 18l20-5l-18-15zM2852 308l18 60l20-82l-18 31zM2928 333l17-30l20 17l-17-32zM3078 340l18-28l20 21l-18-52zM3096 312l18-19l20 22l-18 18zM3134 315l17-6l20 27l-18-14z"/><path class="j6" d="M2192 329l19-18l20 16l-18 27zM2252 314l18 31l21 9l-19-28zM2291 354l19-52l20 107l-18-100zM2427 311l18 39l20-40l-18 3zM2581 302l19 17l20 43l-18-67zM2622 334l18-24l21-13l-19 50zM2640 310l18-9l21-1l-18-3zM2679 300l18 72l20-70l-18 53z"/><path class="j7" d="M1917 313l19 1l21 39l-19-37zM1954 359l19-51l21 16l-19 19zM2272 326l19 28l21-45l-19 24zM2467 298l19 47l20-41l-18 27zM2545 304l18 8l21 48l-19-64zM2697 372l18-59l20 0l-18-11zM3001 337l18 54l20-23l-18-56z"/><path class="j8" d="M2213 354l18-27l21-13l-19-15zM2231 327l19-2l20 20l-18-31zM2408 310l19 1l20 2l-18-23zM2506 304l19 10l20-10l-18-1zM2620 362l18-41l20-20l-18 9zM2717 302l18 11l20-6l-18-5zM2773 316l18-21l21 27l-19-18zM2832 317l18-3l20 54l-18-60zM3059 313l17 2l20-3l-18 28zM3116 333l18-18l19 7l-17-10zM3114 293l18 27l19-11l-17 6z"/><path class="j9" d="M2155 308l18-14l21 6l-19 45zM2233 299l19 15l20 12l-18-28zM2351 378l18-59l21-28l-19 60zM2388 313l18 3l21-5l-19-1zM2486 345l18 30l21-61l-19-10zM2737 302l18 5l20-5l-18 53z"/><path class="j10" d="M2034 313l19-10l21 74l-19-1zM2349 316l18-16l21 13l-19 6zM2504 375l19-34l20 57l-18-84zM2983 308l18 29l20-25l-18-9zM3041 315l18-2l19 27l-17 13zM3076 315l18-7l20-15l-18 19z"/><path class="j11" d="M2870 368l18-35l20-24l-18-23zM2888 333l18-19l20 3l-18-8zM2926 317l17-4l20 24l-18-34zM3021 312l18 56l20-55l-18 2z"/><path class="j12" d="M2036 330l19 46l21-29l-19 5zM2094 335l19-34l21 92l-19-77z"/><path class="j13" d="M2429 290l18 23l20-15l-18 9zM2965 320l18-12l20-5l-18 64zM3003 303l18 9l20 3l-18 25z"/><path class="j14" d="M2270 345l19-25l21-18l-19 52z"/><path class="j1" d="M2484 360l18-39l21 20l-19 34zM3019 391l18 20l20-94l-18 51z"/><path class="j2" d="M2425 315l18 32l20-24l-18 27zM2502 321l19 48l20-36l-18 8zM2961 348l18-12l20-2l-18 14z"/><path class="j3" d="M2404 345l19-17l20 19l-18-32zM2638 321l18 65l21-60l-19-25zM2753 334l18 27l20-66l-18 21zM2866 303l18 40l20 45l-18-62zM2941 328l18 5l20 3l-18 12zM2999 334l18 48l20 29l-18-20z"/><path class="j4" d="M1973 308l19 26l21 18l-19-28zM2013 352l19-33l21-16l-19 10zM2169 319l19 15l21-2l-19-30zM2229 311l19-8l20 47l-18-25zM2445 350l18-27l21 37l-19-50zM2482 314l18 13l21 42l-19-48zM2561 320l18 4l21-5l-19-17zM2790 348l18-20l20 61l-18-73zM2981 348l18-14l20 57l-18-54zM3057 317l17 102l20-111l-18 7z"/><path class="j5" d="M2053 303l19 23l20-9l-18 60zM2151 317l18 2l21-17l-19 60zM2406 316l19-1l20 35l-18-39zM2656 386l19-8l20-54l-18 2zM2715 313l18 47l20-26l-18-21zM2791 295l19 21l20-10l-18 16zM2830 306l18 28l20-33l-18 13z"/><path class="j6" d="M2211 311l18 0l21 14l-19 2zM2287 316l19 69l20-28l-18-43zM2386 323l18 22l21-30l-19 1zM2463 323l19-9l20 7l-18 39zM2521 369l18-47l20-14l-18 25zM2541 333l18-25l20 16l-18-4zM2675 378l18-4l20-20l-18-30zM2695 324l18 30l20 6l-18-47zM2733 360l18-35l20 36l-18-27zM2828 389l18-77l20-9l-18 31zM3017 382l18-49l20 12l-18 66zM3037 411l18-66l19 74l-17-102z"/><path class="j7" d="M2090 347l19 20l21-39l-19-17zM2308 314l18 43l21-64l-19 45zM2365 347l19-19l20 17l-18-22zM2443 347l19 31l20-64l-19 9zM2523 341l18-8l20-13l-18 78zM2559 308l19 18l20 25l-19-27zM2600 319l18-10l20 12l-18 41zM2979 336l18-6l20 52l-18-48z"/><path class="j8" d="M1992 334l19 23l21-38l-19 33zM2051 323l19 67l20-43l-18-21zM2130 328l19 4l20-13l-18-2zM2171 362l19-60l21 9l-19 18zM2328 338l19-45l20 7l-18 16zM2751 325l18 80l21-57l-19 13zM2906 314l18-3l19 2l-17 4zM2904 388l18-39l19-21l-17-17zM2924 311l17 17l20 20l-18-35z"/><path class="j9" d="M2032 319l19 4l21 3l-19-23zM2250 325l18 25l21-30l-19 25zM2367 300l19 23l20-7l-18-3zM2618 309l18 7l20 70l-18-65zM2636 316l19-6l20 68l-19 8zM2677 326l18-2l20-11l-18 59zM2771 361l19-13l20-32l-19-21zM3055 345l17-9l20-14l-18 97z"/><path class="j10" d="M2209 332l18-17l21-12l-19 8zM2326 357l19-36l20 26l-18-54zM2579 324l19 27l20-42l-18 10zM2713 354l18-11l20-18l-18 35zM2868 301l18 25l20-12l-18 19zM2886 326l18 62l20-77l-18 3zM2943 313l18 35l20 0l-18-11z"/><path class="j11" d="M2092 317l19-6l21 57l-19-67zM2132 368l19-51l20 45l-18-3zM2190 302l19 30l20-21l-18 0zM2268 350l19-34l21-2l-19 6zM2347 293l18 54l21-24l-19-23zM3074 419l18-97l20-16l-18 2zM3094 308l18-2l20 14l-18-27z"/><path class="j12" d="M2011 357l19 22l21-56l-19-4zM2072 326l18 21l21-36l-19 6zM2248 303l19 19l20-6l-19 34zM2848 334l18-31l20 23l-18-25z"/><path class="j13" d="M2111 311l19 17l21-11l-19 51zM2598 351l18-29l20-6l-18-7z"/><path class="j14" d="M2289 320l19-6l20 24l-18-36z"/><path class="j18" d="M2810 316l18 73l20-55l-18-28z"/><path class="j1" d="M2304 369l19-14l20 33l-19-38z"/><path class="j2" d="M2691 396l18-25l20-34l-18-1zM2977 383l18-29l20-19l-18-5z"/><path class="j3" d="M2049 314l19 87l20-78l-18 67zM2225 336l19 24l21-36l-19 35zM2267 322l18 9l21 54l-19-69zM2324 350l19 38l20-62l-18-5zM2421 350l18 44l21-95l-19 76zM2500 327l19 18l20-23l-18 47zM2557 327l19 4l20 33l-18-38zM2578 326l18 38l20-42l-18 29zM2922 349l18-9l19-7l-18-5zM3015 335l18 26l20-34l-18 6z"/><path class="j4" d="M2068 401l19-67l20 1l-19-12zM2149 332l18-24l21 26l-19-15zM2207 390l18-54l21 23l-19-44zM2246 359l19-35l20 7l-18-9zM2265 324l18 7l21 38l-19-38zM2480 312l18 34l21-1l-19-18zM2537 395l19-15l20-49l-19-4zM2596 364l18 37l20-75l-18-4zM2614 401l19-66l20-28l-19 19zM2673 311l18 85l20-60l-18 38zM2864 327l18 8l20-7l-18 15zM3035 333l18-6l19 9l-17 9z"/><path class="j5" d="M2227 315l19 44l21-37l-19-19zM2539 322l18 5l21-1l-19-18zM2729 337l19 13l20 17l-19-40zM2846 312l18 15l20 16l-18-40zM2884 343l18-15l20 21l-18 39zM2920 346l18-2l20 34l-18-38zM2940 340l18 38l19 5l-18-50zM2959 333l18 50l20-53l-18 6z"/><path class="j6" d="M2070 390l18-67l21 44l-19-20zM2167 308l19 24l21 58l-19-56zM2306 385l18-35l21-29l-19 36zM2343 388l19-9l20-76l-19 23zM2902 328l18 18l20-6l-18 9zM2958 378l18-33l19 9l-18 29z"/><path class="j7" d="M2088 323l19 12l21 15l-19 17zM2285 331l19 38l20-19l-18 35zM2363 326l19-23l20 14l-18 11zM2423 328l18 47l21 3l-19-31zM2462 378l18-66l20 15l-18-13zM2460 299l18 31l20 16l-18-34zM2498 346l19-17l20 66l-18-50zM2576 331l18 3l20 67l-18-37zM2616 322l18 4l21-16l-19 6zM2653 307l18 56l20 33l-18-85zM2693 374l18-38l20 7l-18 11zM2731 343l18-16l20 78l-18-80zM2768 367l18-13l20-14l-18 0zM2826 333l18-6l20 0l-18-15zM2844 327l18 56l20-48l-18-8zM2995 354l18-13l20 20l-18-26z"/><path class="j8" d="M2030 379l19-65l21 76l-19-67zM2788 340l18 0l20-7l-18-5zM2882 335l18-12l20 23l-18-18z"/><path class="j9" d="M2188 334l19 56l20-75l-18 17zM2345 321l18 5l21 2l-19 19zM2382 303l18 82l21-35l-19-33zM2402 317l19 33l20 25l-18-47zM2634 326l19-19l20 4l-18-1z"/><path class="j10" d="M2109 367l19-17l21-18l-19-4zM2384 328l18-11l21 11l-19 17zM2519 345l18 50l20-68l-18-5zM2711 336l18 1l20-10l-18 16zM2769 405l19-65l20-12l-18 20zM2808 328l18 5l20-21l-18 77z"/><path class="j11" d="M2147 335l19-3l20 0l-19-24zM2186 332l19-10l20 14l-18 54z"/><path class="j12" d="M2107 335l19-3l21 3l-19 15zM2128 350l19-15l20-27l-18 24zM2806 340l18-18l20 5l-18 6z"/><path class="j13" d="M2655 310l18 1l20 63l-18 4zM2997 330l18 5l20-2l-18 49z"/><path class="j14" d="M2441 375l19-76l20 13l-18 66z"/><path class="j15" d="M2749 327l19 40l20-27l-19 65z"/><path class="j1" d="M2669 391l19-7l20-23l-19 18zM2842 395l18-5l20-50l-18 43z"/><path class="j2" d="M2203 399l19-65l20 79l-18-53zM2689 379l19-18l20-24l-19 34zM2936 386l18-40l20 48l-18-42z"/><path class="j3" d="M2164 340l19 61l20-2l-19-70zM2380 343l19 28l20-43l-19 57zM2613 335l18 63l20 13l-18-76zM2860 390l18-49l20 2l-18-3zM2898 343l18-11l20 54l-18-28zM2918 358l18 28l20-34l-18-8z"/><path class="j4" d="M2087 334l19 7l20-9l-19 3zM2283 331l19-9l21 33l-19 14zM2321 427l18-82l21-10l-19-12zM2400 385l19-57l20 66l-18-44zM2574 341l18-2l21-4l-19-1zM2784 346l18 30l20-27l-18-24zM2862 383l18-43l20-17l-18 12zM2976 345l18-14l19 10l-18 13z"/><path class="j5" d="M2106 341l18 0l21 41l-19-50zM2282 422l18-41l21 46l-19-105zM2323 355l18-32l21 56l-19 9zM2341 323l19 12l20 8l-18 36zM2439 394l19-60l20-4l-18-31zM2786 354l18-29l20-3l-18 18zM2804 325l18 24l20 46l-18-73zM2880 340l18 3l20 15l-18-35zM2938 344l18 8l20-7l-18 33z"/><path class="j6" d="M2145 382l19-42l20-11l-18 3zM2205 322l19 38l20 0l-19-24zM2244 360l19 0l20-29l-18-7zM2242 413l19-60l21 69l-19-62zM2263 360l19 62l20-100l-19 9zM2302 322l19 105l20-104l-18 32zM2360 335l18 8l21 28l-19-28zM2458 334l18-27l21 38l-19-15zM2535 336l19 11l20-6l-18 39zM2594 334l19 1l20 0l-19 66zM2631 398l18-16l20 9l-18 20zM2651 411l18-20l20-12l-18-16zM2709 371l19-34l20 13l-19-13zM2728 337l18-11l20 15l-18 9zM2824 322l18 73l20-12l-18-56z"/><path class="j7" d="M2184 329l19 70l21-39l-19-38zM2224 360l18 53l21-53l-19 0zM2517 329l18 7l21 44l-19 15zM2708 361l18-18l20-17l-18 11zM2822 349l18 38l20 3l-18 5z"/><path class="j8" d="M2166 332l18-3l21-7l-19 10zM2476 307l19 119l20-86l-18 5zM2515 340l19 63l20-56l-19-11zM2554 347l18 1l20-9l-18 2z"/><path class="j9" d="M2124 341l19-26l21 25l-19 42zM2478 330l19 15l20-16l-19 17zM2633 335l18 76l20-48l-18-56zM2766 341l18 5l20-21l-18 29z"/><path class="j10" d="M2126 332l19 50l21-50l-19 3zM2419 328l19 41l20-35l-19 60zM2556 380l18-39l20-7l-18-3zM2748 350l18-9l20 13l-18 13z"/><path class="j11" d="M2362 379l18-36l20 42l-18-82zM2497 345l18-5l20-4l-18-7zM2900 323l18 35l20-14l-18 2z"/><path class="j12" d="M2399 371l18-26l21 24l-19-41zM2438 369l18-5l20-57l-18 27zM2671 363l18 16l20-8l-18 25zM2956 352l18 42l20-63l-18 14z"/><path class="j14" d="M2592 339l19 5l20 54l-18-63zM2746 326l18 20l20 0l-18-5z"/><path class="j1" d="M2162 367l19-1l21 38l-19-3z"/><path class="j2" d="M2455 356l18 19l20 12l-18-33zM2475 354l18 33l21 24l-19 15zM2514 411l18-60l20 47l-18 5zM2534 403l18-5l20-50l-18-1zM2724 351l19 79l20-82l-19 56zM2840 387l19-32l19-14l-18 49z"/><path class="j3" d="M2183 401l19 3l20-70l-19 65zM2220 357l19 23l21-25l-19-12zM2706 379l18-28l20 53l-18-61zM2744 404l19-56l19 19l-18-21zM2763 348l18 9l20 38l-19-28zM2877 334l18 83l20-42l-18 31z"/><path class="j4" d="M2260 355l18 24l21-29l-19-9zM2358 364l19-28l20 22l-19-15zM2397 358l19-13l20-7l-19 7zM2532 351l19 20l20-48l-19 75zM2611 344l18 1l20 37l-18 16zM2668 336l18 23l20 20l-18 5zM2686 359l18 34l20-42l-18 28zM2821 317l18 99l20-61l-19 32z"/><path class="j5" d="M2377 336l19 25l20-16l-19 13zM2417 345l19-7l20 26l-18 5zM2416 345l18 11l21 0l-19-18zM2591 350l18 50l20-55l-18-1zM2649 382l19-46l20 48l-19 7zM2782 367l19 28l20-78l-19 59zM2802 376l19-59l19 70l-18-38zM2801 395l18-58l20 79l-18-99zM2916 332l18 7l20 7l-18 40z"/><path class="j6" d="M2181 366l19-24l20 15l-18 47zM2202 404l18-47l21-14l-19-9zM2319 344l19-2l20 22l-19-19zM2339 345l19 19l20-21l-18-8zM2436 338l19 18l20-2l-19 10zM2456 364l19-10l20 72l-19-119zM2493 387l19 13l20-49l-18 60zM2764 346l18 21l20 9l-18-30zM2839 416l18-65l20-17l-18 21zM2878 341l19 65l19-74l-18 11z"/><path class="j7" d="M2280 341l19 9l20-6l-19 37zM2338 342l19 42l20-48l-19 28zM2552 398l19-75l20 27l-19-2zM2572 348l19 2l20-6l-19-5zM2726 343l18 61l20-58l-18-20z"/><path class="j8" d="M2222 334l19 9l20 10l-19 60zM2261 353l19-12l20 40l-18 41zM2571 323l18 32l20 45l-18-50zM2609 400l19-53l20 2l-19-4z"/><path class="j9" d="M2378 343l19 15l20-13l-18 26zM2648 349l18 10l20 0l-18-23zM2859 355l18-21l20 72l-19-65z"/><path class="j10" d="M2299 350l19 20l20-28l-19 2zM2897 406l18-31l19-36l-18-7z"/><path class="j12" d="M2143 315l19 52l21 34l-19-61zM2495 426l19-15l20-8l-19-63zM2629 345l19 4l20-13l-19 46z"/><path class="j13" d="M2241 343l19 12l20-14l-19 12z"/><path class="j15" d="M2688 384l18-5l20-36l-18 18z"/><path class="j17" d="M2300 381l19-37l20 1l-18 82z"/><path class="j1" d="M2277 377l19 1l20 22l-19 39z"/><path class="j2" d="M2239 380l19 6l20-7l-18-24zM2355 382l19 9l20-12l-19-17zM2492 378l18-29l21 58l-19-7zM2512 400l19 7l20-36l-19-20zM2510 349l19 123l20-107l-18 42zM2646 358l19 37l20 39l-19-75zM2723 422l18 4l20-68l-18 72zM2741 426l19-53l19-3l-18-12z"/><path class="j3" d="M2278 379l19 60l21-69l-19-20zM2414 381l19-5l20-12l-19-8zM2453 364l19 12l20 2l-19-3zM2569 359l19 30l20-16l-19-18zM2589 355l19 18l20-26l-19 53z"/><path class="j4" d="M2318 370l18-4l21 18l-19-42zM2357 384l18-22l21-1l-19-25zM2396 361l18 20l20-25l-18-11zM2549 365l19 45l20-21l-19-30zM2703 354l18 64l20 8l-18-4z"/><path class="j5" d="M2219 434l19-60l20 12l-19-6zM2394 379l19 16l20-19l-19 5zM2588 389l18-39l20 14l-18 9zM2666 359l19 75l19-41l-18-34zM2704 393l19 29l20 8l-19-79zM2819 337l18 15l20-1l-18 65z"/><path class="j6" d="M2258 386l19-9l20 62l-19-60zM2531 407l18-42l20-6l-18 12zM2551 371l18-12l20-4l-18-32zM2779 370l19 23l20-34l-19 10z"/><path class="j7" d="M2238 374l19 74l20-71l-19 9zM2297 439l19-39l20-34l-18 4zM2473 375l19 3l20 22l-19-13zM2472 376l18 33l20-60l-18 29zM2665 395l18-30l20-11l-18 80zM2685 434l18-80l20 68l-19-29z"/><path class="j8" d="M2200 342l19 92l20-54l-19-23zM2336 366l19 16l20-20l-18 22zM2608 373l18-9l20-6l-18-11zM2781 357l18 12l20-32l-18 58zM2857 351l18 7l20 59l-18-83z"/><path class="j9" d="M2628 347l18 11l20 1l-18-10zM2743 430l18-72l20-1l-18-9z"/><path class="j10" d="M2433 376l19 24l20-24l-19-12zM2761 358l18 12l20-1l-18-12zM2799 369l19-10l19-7l-18-15z"/><path class="j11" d="M2434 356l19 8l20 11l-18-19zM2818 359l18 4l20 23l-19-34zM2837 352l19 34l19-28l-18-7z"/><path class="j12" d="M2316 400l19-42l20 24l-19-16zM2626 364l19 37l20-6l-19-37z"/><path class="j13" d="M2375 362l19 17l20 2l-18-20z"/><path class="j1" d="M2470 463l19-2l20-83l-19 31zM2529 472l19-88l20 26l-19-45z"/><path class="j2" d="M2257 448l19-72l20 2l-19-1zM2432 374l18-5l20 94l-18-63zM2509 378l19-2l20 8l-19 88zM2778 377l18-5l20 56l-18-35z"/><path class="j3" d="M2276 376l18-5l21-6l-19 13zM2296 378l19-13l20-7l-19 42zM2452 400l18 63l20-54l-18-33zM2548 384l18-7l20-12l-18 45zM2605 439l18-53l20-15l-18-2z"/><path class="j4" d="M2411 418l19-37l20-12l-18 5zM2528 376l18-17l20 18l-18 7zM2566 377l19-19l20 81l-19-74zM2721 418l19-42l20-3l-19 53z"/><path class="j5" d="M2335 358l19 47l20-14l-19-9zM2334 354l18 31l21-22l-19 42zM2373 363l18 9l20 46l-18-45zM2413 395l19-21l20 26l-19-24zM2720 367l18-3l20 55l-18-43z"/><path class="j6" d="M2315 365l19-11l20 51l-19-47zM2682 419l18-17l20-35l-18 5zM2702 372l18-5l20 9l-19 42zM2798 393l18 35l20-65l-18-4z"/><path class="j7" d="M2683 365l19 7l19 46l-18-64zM2758 419l19-32l19-15l-18 5z"/><path class="j8" d="M2294 371l19 37l21-54l-19 11zM2450 369l19 22l20 70l-19 2zM2643 371l19-7l20 55l-19-60z"/><path class="j9" d="M2354 405l19-42l20 10l-19 18zM2374 391l19-18l20 22l-19-16zM2586 365l19 74l20-70l-19-19zM2625 369l18 2l20-12l-18 42zM2645 401l18-42l20 6l-18 30z"/><path class="j10" d="M2760 373l18 4l20 16l-19-23z"/><path class="j11" d="M2568 410l18-45l20-15l-18 39z"/><path class="j12" d="M2393 373l18 45l21-44l-19 21zM2740 376l18 43l20-42l-18-4z"/><path class="j13" d="M2606 350l19 19l20 32l-19-37z"/><path class="j14" d="M2490 409l19-31l20 94l-19-123z"/><path class="j15" d="M2489 461l19-124l20 39l-19 2z"/><path class="j16" d="M2663 359l19 60l20-47l-19-7z"/><path class="j2" d="M2351 382l19 6l20 62l-19-44zM2506 394l19-7l20 60l-19-36z"/><path class="j3" d="M2565 440l19-33l20-24l-19-25zM2719 396l18 10l20-23l-19-19z"/><path class="j4" d="M2313 408l19-43l20 20l-18-31zM2352 385l19 21l20-34l-18-9zM2429 377l19 7l20 30l-19-15zM2546 359l19 81l20-82l-19 19zM2545 447l19-39l20-1l-19 33z"/><path class="j5" d="M2468 414l19-37l19 17l-18 7z"/><path class="j6" d="M2391 372l19 3l20 6l-19 37zM2430 381l19 18l20-8l-19-22zM2469 391l19 10l20-64l-19 124zM2585 358l19 25l19 3l-18 53zM2622 384l19 2l20 8l-19-35zM2662 364l18 12l20 26l-18 17z"/><path class="j7" d="M2332 365l19 17l20 24l-19-21zM2390 450l19-13l20-60l-19-2zM2526 411l19 36l20-7l-19-81zM2642 359l19 35l19-18l-18-12zM2661 394l18-6l20-2l-19-10z"/><path class="j8" d="M2449 399l19 15l20-13l-19-10zM2604 383l18 1l20-25l-19 27zM2680 376l19 10l20 10l-19 6z"/><path class="j9" d="M2738 364l19 19l20 4l-19 32z"/><path class="j10" d="M2371 406l19 44l20-75l-19-3zM2488 401l18-7l20 17l-18-74zM2584 407l18-20l20-3l-18-1z"/><path class="j11" d="M2623 386l19-27l20 5l-19 7zM2699 386l19 4l19 16l-18-10z"/><path class="j13" d="M2410 375l19 2l20 22l-19-18zM2508 337l18 74l20-52l-18 17zM2700 402l19-6l19-32l-18 3z"/><path class="j2" d="M2370 388l19-9l20 58l-19 13z"/><path class="j3" d="M2505 394l19-16l20 41l-19-32zM2601 436l19-59l20 32l-19-20z"/><path class="j4" d="M2428 392l19-4l20-2l-19-2zM2467 386l18 34l20-26l-18-17zM2525 387l19 32l20-11l-19 39zM2564 408l19 30l19-51l-18 20zM2602 387l19 2l20-3l-19-2zM2679 388l19-11l20 13l-19-4z"/><path class="j5" d="M2389 379l19 66l20-53l-19 45zM2448 384l19 2l20-9l-19 37zM2583 438l18-2l20-47l-19-2z"/><path class="j6" d="M2447 388l18-7l20 39l-18-34zM2621 389l19 20l19-21l-18-2zM2641 386l18 2l20 0l-18 6z"/><path class="j7" d="M2485 420l19-41l20-1l-19 16zM2524 378l19 17l20-19l-19 43zM2640 409l18-21l20 9l-19-9zM2659 388l19 9l20-20l-19 11z"/><path class="j8" d="M2544 419l19-43l20 62l-19-30z"/><path class="j9" d="M2408 445l19-67l20 10l-19 4zM2487 377l18 17l20-7l-19 7z"/><path class="j10" d="M2409 437l19-45l20-8l-19-7zM2563 376l18 53l20 7l-18 2z"/><path class="j4" d="M2543 395l19 12l19 22l-18-53zM2581 429l19-33l20-19l-19 59zM2580 394l19 101l20-54l-19-45z"/><path class="j5" d="M2465 381l19 60l20-62l-19 41zM2503 402l19-8l20 5l-19-11zM2542 399l19-5l19 0l-18 13z"/><path class="j6" d="M2464 407l19-6l20 1l-19 39zM2600 396l19 45l20-50l-19-14zM2620 377l19 14l19-3l-18 21z"/><path class="j7" d="M2562 407l18-13l20 2l-19 33z"/><path class="j9" d="M2446 401l18 6l20 34l-19-60z"/><path class="j10" d="M2427 378l19 23l19-20l-18 7z"/><path class="j11" d="M2523 388l19 11l20 8l-19-12z"/><path class="j12" d="M2484 441l19-39l20-14l-19-9zM2504 379l19 9l20 7l-19-17z"/><path class="j3" d="M2561 394l18 50l20 51l-19-101z"/><path class="j5" d="M2541 405l19 55l19-16l-18-50z"/><path class="j6" d="M2521 522l19-35l20-27l-19-55z"/><path class="j7" d="M2502 393l19 129l20-117l-19-11z"/><path class="j9" d="M2483 401l19-8l20 1l-19 8z"/><path class="j13" d="M2522 394l19 11l20-11l-19 5z"/><path class="j1" d="M2026 326l39 0l-17 25zM2283 370l39 0l-18 47zM2369 384l32 0l-17 21zM3024 332l38 0l-14 56zM2625 395l21 0l-5 57zM2497 405l31 0l-13 48zM2924 348l29 0l-17 44zM3166 310l34 0l-14 42zM3063 326l36 0l-16 41zM2788 369l28 0l-21 25zM2876 356l30 0l-8 62zM3228 300l40 0l-26 55z"/><path class="j2" d="M2556 406l24 0l-19 30zM3164 311l25 0l-13 38zM2305 372l23 0l-13 40zM3078 325l25 0l-19 16zM2134 344l30 0l-18 22zM2977 340l31 0l-12 27zM2566 403l38 0l-18 41zM3194 307l28 0l-11 33zM3092 321l39 0l-22 20zM1849 295l26 0l-7 48zM2540 407l34 0l-15 29zM2291 370l21 0l-7 13zM2766 373l22 0l-10 31zM3077 324l36 0l-22 32zM2932 347l26 0l-18 30zM2607 397l39 0l-20 48zM2489 403l25 0l-14 49zM2511 408l31 0l-22 34zM2291 370l29 0l-18 21zM2562 404l37 0l-17 49z"/><path class="j3" d="M2460 398l22 0l-18 35zM2837 361l35 0l-20 33z"/><path class="j4" d="M2408 391l35 0l-21 32z"/></g>
<g transform="scale(.1)"><path class="j4" d="M2531 514l19 43l19-45l-19 9zM2550 557l19 20l19-67l-19 2z"/><path class="j14" d="M2512 520l19 8l19 29l-19-43z"/><path class="j4" d="M2531 557l19 58l19-87l-19-23zM2550 505l19 23l19 47l-19 2z"/><path class="j5" d="M2493 535l19 2l19 20l-19-47zM2569 577l19-2l20-71l-20 6z"/><path class="j8" d="M2493 516l19-6l19 18l-19-8z"/><path class="j10" d="M2512 510l19 47l19-52l-19 23z"/><path class="j11" d="M2569 528l20 56l19-47l-20 38z"/><path class="j12" d="M2531 528l19-23l19 72l-19-20z"/><path class="j13" d="M2456 508l18 15l19 12l-19-20zM2474 515l19 20l19-25l-19 6z"/><path class="j16" d="M2608 537l19-27l19 19l-19 15z"/><path class="j20" d="M2588 575l20-38l19 7l-19-40z"/><path class="j3" d="M2569 598l19-66l20 76l-19-24z"/><path class="j4" d="M2646 537l19 16l19-7l-19 34z"/><path class="j5" d="M2399 629l19-26l19 17l-19-6zM2512 567l19-28l19 1l-19 1z"/><path class="j8" d="M2512 537l19 4l19 74l-19-58zM2627 510l19 27l19 43l-19-51zM2627 526l19 15l19 12l-19-16z"/><path class="j9" d="M2531 541l19-1l19 58l-19 17z"/><path class="j10" d="M2456 659l18-119l19-31l-19 14zM2588 532l20 83l19-89l-19 82z"/><path class="j11" d="M2474 540l19 12l19 15l-19-58zM2550 615l19-17l20-14l-20-56z"/><path class="j12" d="M2437 528l19 131l18-136l-18-15zM2589 584l19 24l19-98l-19 27zM2608 608l19-82l19 11l-19-27z"/><path class="j13" d="M2418 614l19 6l19 39l-19-131z"/><path class="j14" d="M2437 620l18-79l19-1l-18 119zM2550 540l19-1l19-7l-19 66zM2665 553l19 90l19-64l-19-33z"/><path class="j17" d="M2474 523l19-14l19 28l-19-2z"/><path class="j19" d="M2493 509l19 58l19-26l-19-4z"/><path class="j1" d="M2684 643l19 15l19 4l-19-83z"/><path class="j2" d="M2380 629l19-81l19 55l-19 26z"/><path class="j3" d="M2380 565l19 75l18-66l-18-26zM2418 603l18-50l19-12l-18 79z"/><path class="j4" d="M2399 548l18 26l19-21l-18 50zM2493 552l19 66l19-79l-19 28zM2646 557l19 76l19-78l-19 27zM2684 555l19 13l19 3l-19 87z"/><path class="j5" d="M2569 539l19 12l20 64l-20-83zM2608 615l19-35l19-39l-19-15zM2646 541l19 41l19 61l-19-90z"/><path class="j6" d="M2342 550l19 23l19-8l-19-38zM2531 539l19 67l19-67l-19 1z"/><path class="j7" d="M2474 596l19-34l19 56l-19-66zM2493 562l19 2l19-3l-19 57zM2627 580l19-23l19 25l-19-41z"/><path class="j8" d="M2361 527l19 38l19-17l-19 81zM2455 606l19 54l19-98l-19 34zM2703 658l19-87l20 30l-20 61z"/><path class="j10" d="M2436 553l19 53l19-10l-19-55zM2455 541l19 55l19-44l-19-12zM2569 586l19-20l19-27l-19 12zM2722 571l19 20l20 23l-19-13z"/><path class="j11" d="M2417 574l19-14l19 46l-19-53zM2588 551l19-12l20 41l-19 35z"/><path class="j13" d="M2550 606l19-20l19-35l-19-12z"/><path class="j14" d="M2512 618l19-57l19 45l-19-67zM2531 561l19 63l19-38l-19 20zM2665 582l19-27l19 103l-19-15z"/><path class="j17" d="M2607 539l19 31l20-13l-19 23z"/><path class="j3" d="M2436 560l19 5l19 95l-19-54zM2665 633l19-11l19-54l-19-13z"/><path class="j4" d="M2436 561l19 63l19-37l-19-22zM2512 564l19 1l19 59l-19-63zM2664 578l19-7l20 41l-19 10z"/><path class="j5" d="M2342 547l19 59l19 3l-19-36zM2399 640l18-67l19-13l-19 14zM2493 562l19 22l19-19l-19-1zM2531 565l19 57l19-55l-19 57zM2607 602l19-42l19-1l-19 11zM2741 591l20-8l19-9l-19 40z"/><path class="j6" d="M2361 606l18-6l19-55l-18 64z"/><path class="j7" d="M2380 609l18-64l19 28l-18 67zM2398 545l19 76l19-60l-19 12zM2588 562l19 45l19-47l-19 42z"/><path class="j8" d="M2323 565l19 47l19-6l-19-59zM2474 587l18 29l20-32l-19-22zM2550 622l19 12l19-72l-19 5zM2722 538l19 82l20-37l-20 8zM2780 637l19-50l19 65l-19-98z"/><path class="j9" d="M2361 573l19 36l19 31l-19-75zM2569 567l19-5l19 40l-19-36zM2741 620l19-6l20 23l-19-54z"/><path class="j10" d="M2455 565l19 22l19-25l-19 98zM2550 624l19-57l19-1l-19 20zM2588 566l19 36l19-32l-19-31zM2626 570l19-11l20 74l-19-76zM2645 559l19 19l20 44l-19 11z"/><path class="j11" d="M2474 660l19-98l19 2l-19-2zM2512 584l18 48l20-10l-19-57z"/><path class="j12" d="M2286 570l18 44l19-49l-19-1zM2417 573l19-12l19 4l-19-5z"/><path class="j13" d="M2626 560l19-1l19 19l-19-19zM2703 612l19-37l19 45l-19-82z"/><path class="j14" d="M2304 564l19 1l19-18l-19 65zM2684 622l19-10l19-74l-19 30zM2703 568l19-30l19 53l-19-20zM2761 583l19 54l19-83l-19 20z"/><path class="j19" d="M2323 612l19-65l19 26l-19-23z"/><path class="j2" d="M2492 616l19 61l19-45l-18-48z"/><path class="j3" d="M2416 571l19 81l19 21l-18-89zM2511 677l19-40l19-52l-19 47z"/><path class="j4" d="M2549 585l19 34l19-31l-18 46zM2664 639l19-24l19-27l-19-17z"/><path class="j5" d="M2360 576l19 9l19-5l-19 20zM2645 559l19 80l19-68l-19 7zM2702 588l19-4l20 26l-19-35z"/><path class="j6" d="M2721 584l19 19l20-10l-19 17z"/><path class="j7" d="M2285 595l19-7l19 15l-19 11zM2323 603l18 23l19-50l-18 36zM2568 619l19-40l19 3l-19 6zM2799 587l19-12l20 8l-20 69zM2837 657l19 0l20-17l-19-56z"/><path class="j8" d="M2248 571l18 13l19 11l-18-19zM2304 614l19-11l19 9l-19-47zM2304 588l18-15l19 53l-18-23zM2341 626l19-38l19-3l-19-9zM2379 600l19-20l19 41l-19-76zM2398 580l18-9l20 13l-19 37zM2417 621l19-37l19 40l-19-63zM2454 673l19-44l19-17l-19-11zM2530 632l19-47l20 49l-19-12zM2683 571l19 17l20-13l-19 37zM2683 615l19 38l19-69l-19 4zM2722 575l19 35l19 4l-19 6zM2760 614l19-48l20 21l-19 50zM2798 578l19 32l20 47l-19-82z"/><path class="j9" d="M2492 612l19-22l19 47l-19 40zM2569 634l18-46l20 19l-19-45zM2606 582l19-3l19-1l-18 69z"/><path class="j10" d="M2267 576l18 19l19 19l-18-44zM2436 584l18 89l19-72l-18 23z"/><path class="j11" d="M2229 628l18-71l19 27l-18-13zM2342 612l18-36l19 24l-18 6zM2455 624l18-23l19 15l-18-29zM2473 601l19 11l19 65l-19-61zM2626 647l18-69l20 61l-19-80zM2818 575l19 82l20-73l-19-1z"/><path class="j12" d="M2741 610l19-17l19-27l-19 48z"/><path class="j13" d="M2266 584l19-14l19 18l-19 7zM2530 637l19-61l19 43l-19-34zM2587 588l19-6l20 65l-19-40z"/><path class="j14" d="M2607 607l19 40l19-88l-19 1zM2760 593l19-8l19-7l-19-12z"/><path class="j15" d="M2644 578l19 9l20 28l-19 24z"/><path class="j16" d="M2779 566l19 12l20-3l-19 12z"/><path class="j18" d="M2379 585l18-4l19-10l-18 9z"/><path class="j1" d="M2435 652l19 74l19-97l-19 44z"/><path class="j3" d="M2454 726l18-42l19-86l-18 31zM2682 632l19 25l20-26l-19 22zM2894 659l20 14l19-13l-19-53z"/><path class="j4" d="M2191 623l18-24l19-17l-18 8zM2360 588l18 102l19-109l-18 4zM2359 683l19-78l19-14l-19 99zM2434 592l19-16l19 108l-18 42zM2511 590l18 63l20-77l-19 61zM2548 651l19-23l19-59l-18 91z"/><path class="j5" d="M2644 590l19 38l19 4l-19-45zM2702 653l19-22l19-28l-19-19z"/><path class="j6" d="M2247 557l19 78l19-65l-19 14zM2856 642l19-10l19 27l-19-68z"/><path class="j7" d="M2247 599l18 33l19-28l-18 31zM2378 690l19-99l19 46l-19-56zM2529 653l19-2l20 9l-19-84z"/><path class="j8" d="M2285 570l18 17l19-14l-18 15zM2397 591l18 6l19-5l-18 45zM2625 579l19 11l19-3l-19-9zM2817 587l19 29l20 26l-20-46zM2856 657l19-66l20-8l-19 57z"/><path class="j9" d="M2209 599l19 36l19-36l-19-17zM2472 684l19-67l19-16l-19-3z"/><path class="j10" d="M2549 576l19 84l19-81l-19 40zM2701 657l19-46l20 25l-19-5zM2836 596l20 46l19-51l-19 66z"/><path class="j11" d="M2172 592l18-5l19 12l-18 24zM2284 604l18-12l19 0l-18-5zM2321 592l19 10l19 81l-18-89zM2491 598l19 3l19 52l-18-63zM2663 628l19-16l19 45l-19-25z"/><path class="j12" d="M2303 587l18 5l20 2l-19-21zM2341 594l18 89l19 7l-18-102zM2416 637l18-45l20 134l-19-74zM2473 629l18-31l20-8l-19 22zM2568 660l18-91l20 55l-19-45z"/><path class="j13" d="M2397 581l19 56l19 15l-19-81zM2587 579l19 45l19-45l-19 3zM2721 631l19 5l19 31l-19-64zM2759 667l19-82l20-19l-19 19zM2798 566l19 21l19 9l-19 14zM2817 610l19-14l20 61l-19 0z"/><path class="j14" d="M2266 635l18-31l19-17l-18-17zM2510 601l19 34l19 16l-19 2zM2586 569l19 41l19-48l-18 62zM2663 587l19 45l20 21l-19-38zM2740 636l19-23l19-28l-19 82zM2779 585l19-19l19 44l-19-32zM2875 591l19 68l20-52l-19-24z"/><path class="j15" d="M2606 624l18-62l20 28l-19-11z"/><path class="j16" d="M2322 573l19 21l19-6l-19 38zM2624 562l19 44l20 22l-19-38zM2740 603l19 64l20-82l-19 8z"/><path class="j17" d="M2778 585l19 67l20-65l-19-21z"/><path class="j19" d="M2210 590l18-8l19-25l-18 71z"/><path class="j20" d="M2228 582l19 17l19 36l-19-78z"/><path class="j3" d="M2227 638l18-30l19 16l-18 85zM2358 638l19-30l19 67l-18-70zM2509 657l19-40l19 7l-18 11zM2643 606l19 106l20-100l-19 16zM2777 648l19-14l20-5l-19 23zM2914 673l19-48l19-8l-19 43z"/><path class="j4" d="M2491 617l18 40l20-22l-19-34zM2529 635l18-11l20 4l-19 23zM2547 624l19 52l20-83l-19 35zM2759 613l18 35l20 4l-19-67zM2758 625l19 13l19-4l-19 14zM2952 714l19-79l20 44l-19-59z"/><path class="j5" d="M2134 602l19 77l19-72l-19 1zM2228 635l18 74l19-77l-18-33zM2414 698l19-98l19-1l-18 7zM2681 626l19-4l19 87l-19-98zM2700 611l19 98l20-117l-19 19zM2739 592l19 33l19 23l-18-35zM2874 638l19-14l20 29l-19-35zM2933 625l19 89l20-94l-20-3z"/><path class="j6" d="M2396 675l18 23l20-92l-19-9zM2453 576l19-3l19 44l-19 67zM2662 712l19-86l19-15l-18 1zM2719 709l19-88l20 4l-19-33z"/><path class="j7" d="M2209 588l18 50l19 71l-18-74zM2378 605l18 70l19-78l-18-6zM2415 597l19 9l19-30l-19 16zM2567 628l19-35l19 17l-19-41zM2605 610l19 26l19-30l-19-44zM2816 629l19 108l20-130l-19 9zM2835 737l19-121l20 22l-19-31zM2875 632l19-14l20 55l-20-14z"/><path class="j8" d="M2153 608l19-1l18-20l-18 5zM2190 652l18-9l19-5l-18-50zM2302 592l19-1l19 11l-19-10zM2472 573l18 40l19 44l-18-40zM2490 613l19 35l19-31l-19 40zM2566 676l19-62l19-5l-18-16zM2604 609l19 53l19-16l-18-10zM2642 646l19-13l20-7l-19 86zM2682 612l18-1l20 0l-19 46z"/><path class="j9" d="M2321 591l18 17l19 30l-18-36zM2340 602l18 36l20-33l-19 78zM2339 608l19-9l19 9l-19 30zM2377 608l18 72l19 18l-18-23z"/><path class="j10" d="M2116 649l18-47l19 77l-19-77zM2153 679l18-78l19 51l-18-45zM2586 593l18 16l20 27l-19-26zM2796 634l19 23l20 80l-19-108zM2894 618l19 35l20-28l-19 48z"/><path class="j11" d="M2190 587l19 1l19 47l-19-36zM2246 709l18-85l19-37l-18 45zM2264 624l19-19l19-5l-19-13zM2528 617l19 25l19 34l-19-52zM2624 636l18 10l20 66l-19-106zM2797 652l19-23l20-13l-19-29z"/><path class="j12" d="M2452 599l19-3l19 17l-18-40zM2855 607l19 31l20-20l-19 14zM2913 653l19-11l20 72l-19-89z"/><path class="j13" d="M2172 607l18 45l19-64l-19-1zM2302 600l18 93l19-85l-18-17zM2720 611l19-19l20 21l-19 23zM2836 616l19-9l20 25l-19 10z"/><path class="j14" d="M2434 606l18-7l20-26l-19 3z"/><path class="j16" d="M2283 587l19 13l19-9l-19 1z"/><path class="j17" d="M2265 632l18-45l19 5l-18 12z"/><path class="j2" d="M2301 683l18-65l19 37l-18 38z"/><path class="j3" d="M2207 635l18 29l19-44l-18 102zM2283 605l18 78l19 10l-18-93zM2585 614l18 83l20-35l-19-53zM2584 661l18 17l20-69l-19 88zM2603 697l19-88l20 43l-19 10zM2718 630l19 9l20 60l-19-78z"/><path class="j4" d="M2320 693l18-38l20-56l-19 9zM2376 682l18-69l20 70l-19-3zM2951 633l19 39l20-4l-19-33z"/><path class="j5" d="M2226 722l18-102l19 29l-18-41zM2338 655l19-8l19 35l-18-83zM2414 683l18-69l19 4l-18-18zM2432 614l18 16l20 42l-19-54zM2623 662l19-10l19-19l-19 13zM2776 667l19-23l19-17l-18 18zM2892 650l19-4l20-17l-19 12z"/><path class="j6" d="M2097 632l18-27l19-3l-18 47zM2208 643l18 79l19-114l-18 30zM2394 613l19 36l19-35l-18 69zM2661 633l19-8l20-3l-19 4zM2700 622l18 8l20-9l-19 88zM2834 622l19-13l20 118l-19-111zM2931 629l19 11l20 32l-19-39z"/><path class="j7" d="M2244 620l18 11l20 31l-19-13zM2358 599l18 83l19-2l-18-72zM2527 596l19 16l19 36l-18-6zM2565 648l19 13l19 36l-18-83zM2642 652l18-21l20-6l-19 8zM2815 657l19-35l20-6l-19 121zM2971 635l19 33l20-12l-19 23zM2970 672l19 83l20-127l-19 40zM2990 668l19-40l20 13l-19 15z"/><path class="j8" d="M2078 635l18 20l19-50l-18 27zM2152 619l18-4l19 38l-18-52zM2171 601l18 52l19-10l-18 9zM2395 680l19 3l19-83l-19 98zM2680 625l19 41l19-36l-18-8zM2854 616l19 111l20-103l-19 14zM2873 727l19-77l20-9l-19-17z"/><path class="j9" d="M2133 668l18-72l19 19l-18 4zM2509 648l18-52l20 46l-19-25zM2546 612l18 31l20 18l-19-13zM2893 624l19 17l20 1l-19 11zM2932 642l19-9l20 2l-19 79z"/><path class="j10" d="M2189 653l18-18l19 87l-18-79zM2263 649l19 13l19 21l-18-78zM2470 672l18 1l20-51l-19-41zM2508 622l18 38l20-48l-19-16zM2814 627l19 62l20-80l-19 13z"/><path class="j11" d="M2059 612l18-1l19 44l-18-20zM2170 615l18 53l19-33l-18 18zM2282 662l18-19l19-25l-18 65zM2357 647l18-17l19-17l-18 69zM2433 600l18 18l20-22l-19 3z"/><path class="j12" d="M2115 605l18 63l19-49l-18-17zM2245 608l18 41l20-44l-19 19zM2738 621l19 78l20-61l-19-13zM2777 638l19 7l19 12l-19-23z"/><path class="j13" d="M2096 655l18-19l19 32l-18-63zM2134 602l18 17l19-18l-18 78zM2319 618l18 9l20 20l-19 8zM2471 596l18-15l20 67l-19-35zM2660 631l19 8l20 27l-19-41zM2796 645l18-18l20-5l-19 35zM2853 609l19 19l20 22l-19 77zM2912 641l19-12l20 4l-19 9z"/><path class="j14" d="M2489 581l19 41l19-26l-18 52zM2547 642l18 6l20-34l-19 62zM2699 666l19-34l19 7l-19-9zM2737 639l19 14l20 14l-19 32z"/><path class="j15" d="M2451 618l19 54l19-91l-18 15zM2622 609l19 12l19 10l-18 21zM2757 699l19-32l20-22l-19-7z"/><path class="j18" d="M3009 628l19 6l20 92l-19-85z"/><path class="j3" d="M2488 673l19 7l19-20l-18-38z"/><path class="j4" d="M2113 681l18-47l19 8l-18-1zM2188 668l18-54l19 50l-18-29zM2243 743l18-114l20-4l-19 6zM2318 631l18 8l20 15l-19-27zM2337 627l19 27l19-24l-18 17zM2621 636l19 44l19-15l-18-44zM2988 700l19 13l20-74l-19 2z"/><path class="j5" d="M2151 596l18 103l19-31l-18-53zM2281 625l18 19l19-13l-18 12zM2300 643l18-12l19-4l-18-9zM2375 630l18 4l20 15l-19-36zM2545 630l18 94l20-66l-19-15zM2756 653l19-38l20 29l-19 23zM2871 650l19 22l20 25l-19-71zM3028 634l19 5l21 16l-20 71zM3047 639l19 53l21-54l-19 17z"/><path class="j6" d="M2076 643l18 34l19 4l-18-12zM2132 641l18 1l19 57l-18-103zM2261 629l19 10l19 5l-18-19zM2374 637l18 75l20-30l-19-48zM2525 685l19-38l19 77l-18-94zM2601 641l19 1l20 38l-19-44zM2679 639l19 3l20-10l-19 34zM2872 628l19-2l20 20l-19 4zM2910 697l19-6l20-57l-19-2zM2969 686l19 14l20-59l-19 114z"/><path class="j7" d="M2393 634l19 48l19-43l-18 10zM2891 626l19 71l20-65l-19 14zM3008 641l19-2l20 0l-19-5z"/><path class="j8" d="M2040 697l18-53l19-33l-18 1zM2077 611l18 58l19-33l-18 19zM2095 669l18 12l19-40l-18-5zM2225 664l18 79l19-112l-18-11zM2469 634l18 26l20 20l-19-7zM2736 645l19 7l20-37l-19 38zM2795 644l18-4l20 49l-19-62z"/><path class="j9" d="M2299 644l18-22l19 17l-18-8zM2412 682l18-39l19 42l-18-46zM2431 639l18 46l20-51l-19-4zM2507 680l18 5l20-55l-19 30zM2564 643l19 15l19 20l-18-17zM2563 724l19-92l19 9l-18 17zM2678 637l19 37l19 39l-18-71zM2813 640l19 9l20-4l-19 44zM2950 640l19 46l20 69l-19-83zM3066 692l20 2l20-33l-19-23z"/><path class="j10" d="M2021 631l18-6l19 19l-18 53zM2058 644l18-1l19 26l-18-58zM2150 642l18-1l19 51l-18 7zM2336 639l19-19l19 17l-18 17zM2356 654l18-17l19-3l-18-4zM2449 685l19-39l19 14l-18-26zM2755 652l19 4l20-5l-19-36zM2833 689l19-44l20-17l-19-19zM2930 632l19 2l20 52l-19-46zM2949 634l19 28l20 38l-19-14z"/><path class="j11" d="M2187 692l18-28l19-53l-18 3zM2262 631l19-6l19 18l-18 19zM2413 649l18-10l19-9l-18-16zM2718 632l18 13l20 8l-19-14zM2832 649l19-17l20 18l-19-5zM2911 646l19-14l20 8l-19-11z"/><path class="j12" d="M2114 636l18 5l19-45l-18 72zM2450 630l19 4l19 39l-18-1zM2526 660l19-30l19 13l-18-31zM2794 651l18-14l20 12l-19-9z"/><path class="j13" d="M2224 611l18 8l19 10l-18 114zM2602 678l19-42l20-15l-19-12zM2698 642l18 71l20-68l-18-13zM2852 645l19 5l20-24l-19 2zM2989 755l19-114l20-7l-19-6z"/><path class="j14" d="M2039 625l18 5l19 13l-18 1zM2169 699l18-7l19-78l-18 54zM2583 658l18-17l20-5l-19 42zM2775 615l19 36l19-11l-18 4z"/><path class="j15" d="M2206 614l18-3l19 132l-18-79zM2487 660l19-16l19 41l-18-5z"/><path class="j16" d="M2002 628l18 41l19-44l-18 6zM2640 680l18-37l20-6l-19 28z"/><path class="j17" d="M2659 665l19-28l20 5l-19-3z"/><path class="j18" d="M3027 639l19 15l20 38l-19-53z"/><path class="j19" d="M2641 621l18 44l20-26l-19-8zM2716 713l19-61l20 0l-19-7z"/><path class="j3" d="M2373 670l18 9l20-37l-19 70zM2392 712l19-70l19 1l-18 39zM2391 679l18-26l20 116l-18-127zM2677 683l19 88l19-34l-18-63zM2850 703l19 0l20 44l-19-83zM2968 662l19 1l20 50l-19-13zM3006 671l19 75l20-51l-19-24z"/><path class="j4" d="M2001 697l18-65l19 47l-18-10zM2429 769l18-127l20-4l-19 66zM2544 647l18 39l20-54l-19 92zM2543 740l18-79l20-1l-19 26zM2715 737l19-43l20-57l-19 15zM2773 712l18-79l20 92l-19-55zM2870 664l19 83l20-93l-19 18z"/><path class="j5" d="M1964 631l18 56l19 10l-18-40zM2355 620l18 50l19 42l-18-75zM2468 646l18 15l20-17l-19 16zM2506 644l18-9l20 12l-19 38zM2524 635l19 105l19-54l-18-39zM2562 686l19-26l19-9l-18-19zM2600 651l19 31l20-33l-19-7zM2889 747l19-73l20-5l-19-15z"/><path class="j6" d="M2131 634l18-15l19 22l-18 1zM2167 621l18 81l19-18l-18-64zM2316 692l18-36l19 31l-18-45zM2657 661l19-3l20 113l-19-88z"/><path class="j7" d="M1983 657l18 40l19-28l-18-41zM2038 679l18-62l19 30l-18-17zM2811 725l19-75l20 53l-19-79zM2909 654l19 15l20-31l-19 53zM2928 669l19-6l20-5l-19-20zM3007 713l19-42l20-17l-19-15zM3045 695l19 57l20-106l-19 100zM3084 646l20 47l20 60l-19-76z"/><path class="j8" d="M2112 637l18 7l19-25l-18 15zM2223 661l18 38l19-86l-18 6zM2298 643l18 49l19-50l-18-20zM2505 635l18 24l20 81l-19-105z"/><path class="j9" d="M2335 642l18 45l20-17l-18-50zM2448 704l19-66l19 23l-18-15zM2582 632l18 19l20-9l-19-1zM2639 649l18 12l20 22l-19-40zM2658 643l19 40l20-9l-19-37zM2697 674l18 63l20-85l-19 61zM2812 637l19-13l20 8l-19 17zM2831 624l19 79l20-39l-19-32z"/><path class="j10" d="M2075 647l18 1l19-11l-18 40zM2186 620l18 64l19-23l-18 3zM2205 664l18-3l19-42l-18-8zM2278 662l19-17l19 47l-18-49zM2620 642l19 7l19-6l-18 37zM2696 771l18-106l20 29l-19 43zM2734 694l19 44l20-26l-19-75zM2890 672l19-18l20 37l-19 6zM2967 658l19 14l20-1l-19-8zM3046 654l19 92l21-52l-20-2z"/><path class="j11" d="M1982 687l18-37l19-18l-18 65zM2020 669l18 10l19-49l-18-5zM2019 632l18-1l19-14l-18 62zM2260 613l18 49l20-19l-18-4zM2792 670l19 55l20-101l-19 13zM2851 632l19 32l20 8l-19-22zM2929 691l19-53l20 24l-19-28zM3026 671l19 24l20 51l-19-92zM3105 677l19 76l20-50l-19-66z"/><path class="j12" d="M2057 630l18 17l19 30l-18-34zM2204 684l18-26l19 41l-18-38zM2317 622l18 20l20-22l-19 19zM2735 652l19-15l20 19l-19-4z"/><path class="j13" d="M2242 619l18-6l20 26l-19-10zM2241 699l18-40l19 3l-18-49zM2774 656l18 14l20-33l-18 14z"/><path class="j14" d="M2056 617l18 21l19 10l-18-1zM2411 642l18 127l19-65l-18-61zM2619 682l18 81l20-102l-18-12zM2948 638l19 20l20 5l-19-1zM3086 694l19-17l20-40l-19 24zM3124 753l19-64l20-15l-19 29z"/><path class="j15" d="M2094 677l18-40l19-3l-18 47zM2149 619l18 2l19-1l-18 21zM2168 641l18-21l19 44l-18 28zM2353 687l19-48l19 40l-18-9zM2467 638l18-20l20 17l-19 26z"/><path class="j16" d="M2093 648l17 41l20-45l-18-7zM3065 746l19-100l21 31l-19 17z"/><path class="j17" d="M1946 625l17 5l19 57l-18-56zM2130 644l18-29l19 6l-18-2zM2280 639l18 4l19-21l-18 22z"/><path class="j18" d="M2430 643l18 61l20-58l-19 39zM2486 661l19-26l19 0l-18 9zM2754 637l19 75l19-42l-18-14zM2987 663l19 8l20 0l-19 42z"/><path class="j20" d="M2581 660l18-32l20 54l-19-31z"/><path class="j2" d="M2906 759l19-57l20 6l-18 72zM3063 766l19-24l20-19l-19-39z"/><path class="j3" d="M1889 688l17 33l19-38l-17-4zM2523 659l18 36l20-34l-18 79zM2714 665l19 2l20 71l-19-44zM3024 679l19 117l20-30l-19-93zM3083 684l19 39l21-40l-19 10zM3142 761l19-44l20-36l-19 31z"/><path class="j4" d="M1908 679l17 4l19-26l-17 114zM2074 638l17 30l19 21l-17-41zM2315 659l18 50l19-56l-18 3zM2656 650l18 43l20 24l-18-59zM2676 658l18 59l20-52l-18 106zM2947 663l19 80l20-71l-19-14zM3064 752l19-68l21 9l-20-47zM3104 693l19-10l20 6l-19 64z"/><path class="j5" d="M1925 683l18 26l19-70l-18 18zM2222 658l18-13l19 14l-18 40zM2372 639l18 34l19-20l-18 26zM2503 643l19 15l19 37l-18-36zM2771 670l19 4l20 59l-19-100zM2791 633l19 100l20-83l-19 75zM2984 677l19 44l21-42l-19 22z"/><path class="j6" d="M1999 671l17 39l19-24l-17 19zM2185 702l18-17l19-27l-18 26zM2240 645l18 41l19-34l-18 7zM2277 652l18 82l20-75l-18-14zM2370 703l19 46l19-102l-18 26zM2694 717l19-62l20 12l-19-2zM2751 672l19-30l20 32l-19-4zM2829 673l18 45l21-49l-19-28zM2849 641l19 28l20 37l-19-3zM2888 706l18 53l21 21l-19-106z"/><path class="j7" d="M2018 705l17-19l19-52l-17-3zM2054 634l18 1l19 33l-17-30zM2221 741l18-63l19 8l-18-41zM2258 686l18-35l19 83l-18-82zM2637 763l19-113l20 8l-19 3zM2868 669l18 17l20 73l-18-53zM3162 712l19-31l21 5l-20-2z"/><path class="j8" d="M1963 630l18 25l19-5l-18 37zM2522 658l18-2l20 13l-19 26zM2560 669l18 3l20-17l-19 10zM2713 655l18 101l20-84l-18-5zM2810 733l19-60l20-32l-19 9zM2966 743l18-66l21 24l-19-29z"/><path class="j9" d="M2446 661l18 44l20 27l-19-66zM2465 666l19 66l19-89l-18-25zM2908 674l19 106l20-117l-19 6zM3102 723l19-58l21 96l-19-78z"/><path class="j10" d="M2000 650l18 55l19-74l-18 1zM2072 635l18 18l19 39l-18-24zM2091 668l18 24l19-10l-18 7zM2165 766l18-120l20 39l-18 17zM2259 659l18-7l20-7l-19 17zM2295 734l18-4l20-21l-18-50zM2333 709l18 0l19-6l-18-50zM2409 653l19-18l19 7l-18 127zM2674 693l19-22l20-16l-19 62zM2790 674l19 8l20-9l-19 60zM2945 708l19 1l20-32l-18 66zM3123 683l19 78l20-49l-19-23z"/><path class="j11" d="M2183 646l18 19l20 76l-18-56zM2334 656l18-3l20-14l-19 48zM2636 659l19 93l19-59l-18-43zM2733 667l18 5l20-2l-18 68zM2986 672l19 29l20 45l-19-75zM3005 701l19-22l20-6l-19 73zM3025 746l19-73l20 79l-19-57zM3143 689l19 23l20-28l-19-10z"/><path class="j12" d="M2128 682l18 45l19 39l-17-151zM2148 615l17 151l20-64l-18-81zM2203 685l18 56l19-96l-18 13zM2541 695l19-26l19-4l-18-4zM2579 665l19-10l20-26l-19-1zM2598 655l18 18l20-14l-18-30zM2927 780l18-72l21 35l-19-80z"/><path class="j13" d="M1927 771l17-114l19-27l-17-5z"/><path class="j14" d="M2109 692l18-1l19 36l-18-45zM2428 635l18 26l19 5l-18-24zM2484 732l18-60l20-14l-19-15zM2561 661l18 4l20-37l-18 32zM2599 628l19 1l19 134l-18-81zM2830 650l19-9l20 62l-19 0zM3044 673l19 93l20-82l-19 68z"/><path class="j15" d="M2037 631l17 3l20 4l-18-21zM2035 686l18-21l19-30l-18-1zM2110 689l18-7l20-67l-18 29zM2485 618l18 25l20 16l-18-24z"/><path class="j16" d="M1981 655l18 16l19 34l-18-55zM2352 653l18 50l20-30l-18-34zM2753 738l18-68l20-37l-18 79z"/><path class="j17" d="M2390 673l18-26l20-12l-19 18zM2447 642l18 24l20-48l-18 20zM2618 629l18 30l20-9l-19 113zM2869 703l19 3l20-32l-19 73z"/><path class="j18" d="M2297 645l18 14l19-3l-18 36z"/><path class="j19" d="M1962 639l18-12l19 44l-18-16zM2146 727l18-80l19-1l-18 120zM3181 681l19 20l21 22l-19-37z"/><path class="j20" d="M1944 657l18-18l19 16l-18-25z"/><path class="j21" d="M2408 647l18 2l20 12l-18-26z"/><path class="j2" d="M2016 710l18 58l19-103l-18 21zM2052 704l17 38l20-48l-18 63zM2219 719l18-2l19-27l-17-12zM2276 651l18 95l19-16l-18 4zM2351 709l18-27l20 67l-19-46zM2635 702l18 9l20 10l-18 31zM2886 686l19 74l20-58l-19 57z"/><path class="j3" d="M1906 721l18 10l19-22l-18-26zM1942 672l17-7l19 77l-17 23zM2015 669l17 5l20 30l-18 64zM2071 757l18-63l19 27l-18-68zM2090 653l18 68l19-30l-18 1zM2444 687l19 11l19 10l-18-3zM2464 705l18 3l20-36l-18 60zM2482 708l19-24l19 12l-18-24zM2577 696l18 93l20-108l-19-9zM3061 691l19 52l21-19l-19 18zM3101 724l19 18l20 39l-19-116z"/><path class="j4" d="M1997 667l18 2l19 99l-18-58zM2034 768l18-64l19 53l-18-92zM2201 665l18 54l20-41l-18 63zM2200 671l18 24l19 22l-18 2zM2711 704l19-25l20-8l-19 85zM2885 742l19 23l20-84l-19 79zM3080 743l19-56l21 55l-19-18z"/><path class="j5" d="M2126 671l17 11l20-32l-18 62zM2331 667l18 11l20 4l-18 27zM2502 672l18 24l20-40l-18 2zM2501 684l18 36l20-42l-19 18zM2944 671l19 25l20 0l-19 13zM3002 732l19-44l20 12l-19 40zM3140 781l19-105l21 4l-19 37z"/><path class="j6" d="M1870 666l18-5l18 60l-17-33zM1980 627l17 40l19 43l-17-39zM2127 691l18 21l19-65l-18 80zM2164 647l18 35l19-17l-18-19zM2163 650l17 36l20-15l-18 11zM2425 695l18-28l20 31l-19-11zM2963 696l19-16l20 52l-19-36zM2983 696l19 36l20 8l-19-19zM3003 721l19 19l21 56l-19-117zM3022 740l19-40l20-9l-18 105z"/><path class="j7" d="M1905 680l17 45l20-53l-18 59zM1924 731l18-59l19 93l-18-56zM1978 742l18-49l19-24l-18-2zM2239 678l17 12l20-39l-18 35zM2256 690l18 33l20 23l-18-95zM2653 711l19-20l20 13l-19 17zM2692 704l18-3l20-22l-19 25z"/><path class="j8" d="M2237 717l18-9l19 15l-18-33zM2312 737l18-34l19-25l-18-11zM2693 671l18 33l20 52l-18-101zM2769 674l18 74l20-67l-18 82zM2809 682l18-8l20 44l-18-45zM2846 688l19 9l20 45l-19-92zM3041 700l19 0l20 43l-19-52zM3161 717l19-37l20 21l-19-20z"/><path class="j9" d="M2108 721l18-50l19 41l-18-21zM2349 678l19 23l19-29l-18 10zM2369 682l18-10l20-3l-18 80zM2407 669l18 26l19-8l-18-38zM2426 649l18 38l20 18l-18-44zM2463 698l18 51l20-65l-19 24zM2655 752l18-31l20-50l-19 22zM2847 718l19-68l20 36l-18-17zM2964 709l19-13l20 25l-19-44z"/><path class="j10" d="M1888 661l17 19l19 51l-18-10zM2294 746l18-9l19-70l-18 63zM2520 696l19-18l19-10l-18-12zM2540 656l18 12l20 4l-18-3zM2925 702l19-31l20 38l-19-1zM2924 681l18 8l21 7l-19-25zM3043 796l18-105l21 51l-19 24zM3121 665l19 116l21-64l-19 44zM3120 742l19-57l20-9l-19 105zM3200 701l19 0l21-14l-19 36z"/><path class="j11" d="M1961 765l17-23l19-75l-17-40zM2313 730l18-63l20 42l-18 0zM2731 756l19-85l20-29l-19 30zM2730 679l19 65l20-70l-19-3zM2789 763l18-82l20-7l-18 8zM2807 681l19 63l20-56l-19-14zM2827 674l19 14l20-38l-19 68zM2866 650l19 92l20 18l-19-74z"/><path class="j12" d="M1943 709l18 56l19-138l-18 12zM2145 712l18-62l19 32l-18-35zM2274 723l18-54l20 68l-18 9zM2387 672l18 65l20-42l-18-26zM2558 668l19 28l19-24l-18 0zM2770 642l19 121l20-81l-19-8z"/><path class="j13" d="M2053 665l18 92l19-104l-18-18zM2673 721l19-17l19 0l-18-33zM3082 742l19-18l20-59l-19 58z"/><path class="j14" d="M2089 694l17-21l20-2l-18 50zM2539 678l18 28l20-10l-19-28zM2616 673l19 29l20 50l-19-93zM2905 760l19-79l20-10l-19 31zM3180 680l19 6l20 15l-19 0z"/><path class="j16" d="M2182 682l18-11l19 48l-18-54zM2578 672l18 0l20 1l-18-18zM2750 671l19 3l20 89l-19-121zM3159 676l19 176l21-166l-19-6z"/><path class="j17" d="M2389 749l18-80l19-20l-18-2zM2596 672l19 9l20 21l-19-29z"/><path class="j19" d="M2615 681l18 3l20 27l-18-9z"/><path class="j2" d="M2218 695l18 72l19-59l-18 9zM2517 681l18 87l20-8l-18-52z"/><path class="j3" d="M1994 779l18-84l19 62l-18-81zM2537 708l18 52l20-76l-18 22z"/><path class="j4" d="M1959 665l18 10l19 18l-18 49zM2013 676l18 81l19-77l-18-6zM2273 678l18 58l19-23l-18-44zM2595 789l18-115l20 10l-18-3zM2708 695l19 68l20 0l-19-86zM2787 748l19-61l20 57l-19-63zM2922 716l19 98l20-133l-19 8zM3058 694l19 113l21-77l-19-30zM3079 700l19 30l20 106l-19-149zM3099 687l19 149l21-151l-19 57z"/><path class="j5" d="M1958 667l17 49l19 63l-17-104zM2105 688l17 8l20-7l-18-13zM2328 675l18 30l20-15l-18 11zM2404 723l18-29l19-23l-18 8zM2652 688l18 6l20-15l-18 12z"/><path class="j6" d="M2180 686l18-1l20 10l-18-24zM2557 706l18-22l20 105l-18-93zM2593 685l19 11l20 51l-19-73zM2672 691l18-12l20 22l-18 3zM2826 744l18-46l21-1l-19-9zM2883 718l19 65l20-67l-18 49zM2982 680l18 6l21 2l-19 44z"/><path class="j7" d="M2031 757l18-28l19-50l-18 1zM2068 679l17 65l20-56l-18-25zM2253 715l18-30l20 51l-18-58zM2690 679l18 16l20-18l-18 24zM2728 677l19 86l20-56l-18 37zM2904 765l18-49l20-27l-18-8z"/><path class="j8" d="M2142 689l17-3l20 26l-18-44zM2161 668l18 44l19-27l-18 1zM2216 670l18 59l19-14l-17 52zM2461 707l18 22l20-38l-18 58zM2844 698l19 68l20-48l-18-21z"/><path class="j9" d="M1922 725l18-27l19-33l-17 7zM1996 693l17-17l19-2l-17-5zM2106 673l18 3l19 6l-17-11zM2236 767l17-52l20-37l-18 30zM2310 713l18-38l20 26l-18 2zM2330 703l18-2l20 0l-19-23zM2368 701l18-51l19 87l-18-65zM2443 667l18 40l20 42l-18-51zM2710 701l18-24l21 67l-19-65zM2749 744l18-37l20 41l-18-74zM2747 763l18-32l21-35l-19 11zM2824 794l19-93l20 65l-19-68zM2902 783l19-70l20 101l-19-98zM2941 814l19-131l20 36l-19-38zM3098 730l19-17l20-18l-19 141z"/><path class="j10" d="M2069 742l18-79l19 10l-17 21zM2087 663l18 25l19-12l-18-3zM2198 685l18-15l20 97l-18-72zM2366 690l18-1l20 34l-18-73zM2575 684l18 1l20-11l-18 115zM2632 747l18-65l20 12l-18-6zM2670 694l18 9l20-8l-18-16zM2961 681l19 38l20-33l-18-6zM3118 836l19-141l21 79l-19-89z"/><path class="j11" d="M1940 698l18-31l19 8l-18-10zM2179 712l18-9l19-33l-18 15zM2255 708l18-30l19-9l-18 54zM2441 671l18 26l20 32l-18-22zM2942 689l19-8l21-1l-19 16zM3019 721l19-11l20-16l-18 20zM3060 700l19 0l20-13l-19 56z"/><path class="j12" d="M2386 650l18 73l19-44l-18 58zM2481 749l18-58l20 29l-18-36zM2613 674l19 73l20-59l-19-4zM2767 707l19-11l20-9l-19 61zM2863 766l19-21l20 38l-19-65zM3139 685l19 89l20 78l-19-176z"/><path class="j13" d="M2292 669l18 44l20-10l-18 34zM2499 691l18-10l20 27l-18 12zM2786 696l18 69l20 29l-18-107zM2806 687l18 107l20-96l-18 46zM2980 719l19 2l20 0l-19-35zM3021 688l19 26l20-14l-19 0z"/><path class="j14" d="M2291 736l18-39l19-22l-18 38zM2423 679l18-8l20 36l-18-40zM2865 697l18 21l21 47l-19-23zM3040 714l18-20l21 6l-19 0z"/><path class="j15" d="M2032 674l18 6l19 62l-17-38zM2143 682l18-14l19 18l-17-36zM2479 729l18-38l20-10l-18 10zM2555 760l19-103l19 28l-18-1zM2633 684l19 4l20 3l-19 20z"/><path class="j16" d="M2124 676l18 13l19-21l-18 14zM2348 701l18-11l20-40l-18 51zM2405 737l18-58l20-12l-18 28z"/><path class="j17" d="M1977 675l17 104l19-103l-17 17zM2519 720l18-12l20-2l-18-28zM3000 686l19 35l21-7l-19-26z"/><path class="j19" d="M2050 680l18-1l19-16l-18 79z"/><path class="j2" d="M2012 695l17 93l20-59l-18 28zM2103 775l18 49l19-133l-18 5zM2214 752l18 17l20-86l-18 46zM2725 778l19-61l20 9l-19 33zM2882 745l18 23l21-55l-19 70z"/><path class="j3" d="M2010 756l18-61l19 10l-18 83zM2029 788l18-83l19-10l-17 34zM2066 695l18 1l19 79l-18-31z"/><path class="j4" d="M1992 733l18 23l19 32l-17-93zM2232 769l18-33l20 54l-18-107zM2271 685l18 46l20-34l-18 39zM2384 689l18 40l20-35l-18 29zM2707 692l18 86l20-19l-18 4zM2880 707l19 14l20 5l-19 42zM2900 768l19-42l20-22l-18 9z"/><path class="j5" d="M2084 696l17 7l20 121l-18-49zM2122 696l18-5l19-5l-17 3zM2121 824l17-71l20-52l-18-10zM2535 768l19-82l20-29l-19 103zM2648 820l19-108l20 25l-19-34zM2688 703l19-11l20 71l-19-68zM2765 731l19 31l20 3l-18-69zM2764 726l18-21l20 5l-18 52zM2802 710l19 38l20-32l-18-24zM2843 701l18 47l21-3l-19 21zM2841 716l19 10l20-19l-19 41zM2921 713l18-9l21-21l-19 131zM2958 809l19-74l20-29l-19 51z"/><path class="j6" d="M2159 686l18 45l20-28l-18 9zM2309 697l18-3l19 11l-18-30zM2440 784l18-103l20 15l-19 1zM2668 703l19 34l20-45l-19 11zM2919 726l19-7l20 90l-19-105z"/><path class="j7" d="M1975 716l17 17l20-38l-18 84zM2402 729l18-33l20 88l-18-90zM2516 685l18 67l20-66l-19 82zM2534 752l18-49l20 91l-18-108zM2554 686l18 108l20-102l-18-35zM2612 696l18-6l20-8l-18 65zM2630 690l18 130l20-117l-18-21z"/><path class="j8" d="M2197 703l17 49l20-23l-18-59zM2252 683l18 107l19-59l-18-46zM2289 731l18-36l20-1l-18 3zM2307 695l18 12l20 17l-18-30zM2346 705l18 45l20-61l-18 1zM2459 697l19-1l19-5l-18 38zM2458 681l18 63l20-20l-18-28zM2496 724l18-22l20 50l-18-67zM2997 706l19 67l20-83l-18 20zM3038 710l19-19l20 116l-19-113z"/><path class="j9" d="M2047 705l17 2l20-11l-18-1zM2085 744l18 31l19-79l-17-8zM2234 729l18-46l19 2l-18 30zM2422 694l18 90l19-87l-18-26zM2572 794l18-84l20-19l-18 1zM2745 759l19-33l20 36l-19-31z"/><path class="j10" d="M2270 790l17 7l20-102l-18 36zM2420 696l18-1l20-14l-18 103zM2592 692l18-1l20-1l-18 6zM2610 691l18 13l20 116l-18-130zM2784 762l18-52l21-18l-19 73zM2861 748l19-41l20 61l-18-23zM2939 704l19 105l20-52l-18-74z"/><path class="j11" d="M2049 729l17-34l19 49l-17-65zM2158 701l17-22l20 39l-18 13zM2727 763l18-4l20-28l-18 32zM3057 691l19 30l20 20l-19 66z"/><path class="j12" d="M2650 682l18 21l20 0l-18-9zM3018 710l18-20l21 1l-19 19z"/><path class="j13" d="M2140 691l18 10l19 30l-18-45zM2177 731l18-13l19 34l-17-49zM2195 718l18-14l19 65l-18-17zM2497 691l19-6l19 83l-18-87zM3036 690l19 48l21-17l-19-30z"/><path class="j14" d="M2327 694l18 30l19 26l-18-45zM2804 765l19-73l20 9l-19 93z"/><path class="j15" d="M2382 689l18 17l20-10l-18 33z"/><path class="j16" d="M2478 696l18 28l20-39l-19 6zM3077 807l19-66l21-28l-19 17z"/><path class="j17" d="M2345 724l17-26l20-9l-18 61zM2364 750l18-61l20 40l-18-40zM2574 657l18 35l20 4l-19-11zM2978 757l19-51l21 4l-19 11z"/><path class="j18" d="M2687 737l18 5l20 36l-18-86zM2823 692l18 24l20 32l-18-47zM2960 683l18 74l21-36l-19-2z"/><path class="j20" d="M2999 721l19-11l20 0l-19 11z"/><path class="j1" d="M2211 748l18 20l19 30l-18-63z"/><path class="j2" d="M2101 703l18 34l19 16l-17 71z"/><path class="j3" d="M2268 689l18 48l19 29l-18 31zM2436 706l18 77l20-59l-18 44zM2742 810l18-51l20-43l-18 16zM2878 717l19 81l20-16l-18-61zM2936 815l18-90l21 7l-19 31z"/><path class="j4" d="M2028 695l17 20l19-8l-17-2zM2119 737l17-37l20-1l-18 54zM2286 737l17-27l20 26l-18 30zM2325 707l18 42l19-51l-17 26zM2476 744l18 59l20-101l-18 22zM2685 796l18-72l20-36l-18 54zM2899 721l18 61l21-63l-19 7z"/><path class="j5" d="M2064 707l18 4l19-8l-17-7zM2138 753l18-54l19-20l-17 22zM2418 733l18-27l20 62l-18-73zM2456 768l18-44l20 79l-18-59zM2628 704l18-10l21 18l-19 108zM2723 688l19 122l20-78l-18-15zM2821 748l18-32l21 10l-19-10zM2819 721l18 6l21 18l-19-29zM2897 798l18-77l21 94l-19-33zM2995 740l19 15l20-30l-18 48z"/><path class="j6" d="M2099 728l18 38l19-66l-17 37zM2398 753l18-3l20-44l-18 27zM2438 695l18 73l20-24l-18-63zM2780 716l19 5l20 0l-18-2zM2938 719l18 44l21-28l-19 74z"/><path class="j7" d="M2082 711l17 17l20 9l-18-34zM2175 679l18 29l20-4l-18 14zM2305 766l18-30l20 13l-18-42zM2705 742l18-54l21 29l-19 61zM2917 782l19 33l20-52l-18-44z"/><path class="j8" d="M2550 814l18-71l20-25l-18 10zM2626 705l19 27l20 24l-19-62zM2667 712l18 84l20-54l-18-5zM2801 719l18 2l20-5l-18 32z"/><path class="j9" d="M2287 797l18-31l20-59l-18-12zM2323 736l18 15l20-49l-18 47zM2512 713l18 63l20 38l-18-113zM2762 732l18-16l21 3l-19-14zM2839 716l19 29l20-28l-18 9z"/><path class="j10" d="M2045 715l17 91l20-95l-18-4zM2062 806l18 2l19-80l-17-17zM2156 699l18 88l19-79l-18-29zM2213 704l17 31l20 1l-18 33zM2362 698l18-2l20 10l-18-17zM2532 701l18 113l20-86l-18-25zM2744 717l18 15l20-27l-18 21zM2782 705l19 14l20 29l-19-38zM3016 773l18-48l21 13l-19-48z"/><path class="j11" d="M2343 749l18-47l19-6l-18 2zM2400 706l18 27l20-38l-18 1zM2494 803l18-90l20-12l-18 1zM2552 703l18 25l20-18l-18 84zM2588 718l18 46l20-59l-18-9zM2665 756l18-19l20-13l-18 72zM2858 745l18-17l21 70l-19-81z"/><path class="j12" d="M2230 735l18 63l20-109l-18 47zM2361 702l18 18l19 33l-18-57zM2570 728l18-10l20-22l-18 14zM2860 726l18-9l21 4l-19-14zM2956 763l19-31l20 8l-18-5zM2977 735l18 5l21 33l-19-67z"/><path class="j13" d="M2136 700l18 4l20 83l-18-88zM2193 708l18 40l19-13l-17-31zM2514 702l18-1l20 2l-18 49z"/><path class="j14" d="M2474 724l18 22l20-33l-18 90z"/><path class="j15" d="M2250 736l18-47l19 108l-17-7zM2248 798l18-12l20-49l-18-48zM2975 732l18-22l21 45l-19-15z"/><path class="j16" d="M2380 696l18 57l20-20l-18-27zM2646 694l19 62l20 40l-18-84z"/><path class="j18" d="M2174 787l17-36l20-3l-18-40z"/><path class="j20" d="M2590 710l18-14l20 8l-18-13zM2608 696l18 9l20-11l-18 10z"/><path class="j21" d="M2703 724l18-24l21 110l-19-122z"/><path class="j3" d="M2246 744l18 54l20-73l-18 61zM2303 710l18 32l20 9l-18-15zM2379 720l17 3l20 27l-18 3zM2416 750l18-25l20 58l-18-77z"/><path class="j4" d="M2264 798l18-71l19 30l-17-32zM2284 725l17 32l20-15l-18-32zM2301 757l18-25l20-22l-18 32zM2528 874l18-147l20-2l-18 27zM2719 812l19 32l20-82l-18-32z"/><path class="j5" d="M2227 703l17 13l20 82l-18-54zM2341 751l18-29l20-2l-18-18zM2339 710l18 16l20 105l-18-109zM2530 776l18-24l20-9l-18 71zM2778 756l19 44l20-12l-18-67zM2856 725l18 7l21 53l-19-57zM2913 841l19-121l20 23l-18-9z"/><path class="j6" d="M2115 693l17 37l20-10l-17 2zM2377 831l17-109l20 7l-18-6zM2681 755l18-13l20 70l-18-56zM2797 800l18-1l20-34l-18 23z"/><path class="j7" d="M2117 766l18-44l19-18l-18-4zM2154 704l18 14l19 33l-17 36zM2229 768l17-24l20 42l-18 12zM2396 723l18 6l20-4l-18 25zM2586 706l18 34l20-36l-18 60z"/><path class="j8" d="M2209 702l18 1l19 41l-17 24zM2606 764l18-60l21 28l-19-27zM2624 704l19 26l20 11l-18-9zM2663 741l18 14l20 1l-18-19z"/><path class="j9" d="M2359 722l18 109l19-108l-17-3zM2492 746l18-16l20 46l-18-63zM2548 752l18-27l20-19l-18 37zM2566 725l18 13l20 2l-18-34z"/><path class="j10" d="M2191 751l18-49l20 66l-18-20zM2414 729l18 4l20 29l-18-37zM2472 697l18 35l20-2l-18 16zM2568 743l18-37l20 58l-18-46zM2701 756l18 56l21-82l-19-30zM2874 732l19 55l20 54l-18-56z"/><path class="j11" d="M2098 722l17-29l20 29l-18 44zM2152 720l18 85l19-66l-17-21zM2266 786l18-61l19-15l-17 27zM2452 762l18-30l20 0l-18-35zM2510 730l18 144l20-122l-18 24zM2604 740l18-18l21 8l-19-26zM2643 730l18 10l20 15l-18-14zM2683 737l18 19l20-56l-18 24zM2799 721l18 67l20-61l-18-6zM2895 785l18 56l21-107l-19-13z"/><path class="j12" d="M2490 732l18-8l20 150l-18-144zM2721 700l19 30l20 29l-18 51z"/><path class="j13" d="M2080 808l18-86l19 44l-18-38zM2837 727l19-2l20 3l-18 17zM2835 765l19-34l20 1l-18-7zM2934 734l18 9l21-16l-19-2zM2954 725l19 2l20-17l-18 22z"/><path class="j14" d="M2758 762l18-31l21 69l-19-44zM2817 788l18-23l21-40l-19 2zM2876 728l19 57l20-64l-18 77zM2915 721l19 13l20-9l-18 90z"/><path class="j15" d="M2321 742l18-32l20 12l-18 29zM2434 725l18 37l20-65l-18 86zM2454 783l18-86l20 49l-18-22zM2645 732l18 9l20-4l-18 19zM2740 730l18 32l20-6l-18 3z"/><path class="j16" d="M2135 722l17-2l20-2l-18-14zM2172 718l17 21l20-37l-18 49z"/><path class="j18" d="M2189 739l18 41l20-77l-18-1z"/><path class="j19" d="M2760 759l18-3l21-35l-19-5z"/><path class="j1" d="M2736 826l18 16l20-50l-18 23z"/><path class="j3" d="M2132 730l18 77l20-2l-18-85zM2170 805l17-49l20 24l-18-41zM2262 859l17-40l20-73l-17-19zM2526 798l18-18l20-21l-18-32z"/><path class="j4" d="M2244 716l18 143l20-132l-18 71zM2602 763l18 46l21-67l-19-20zM2620 809l18-52l21 2l-18-17zM2661 740l18 3l20-1l-18 13zM2795 748l18 45l20-6l-18 12zM2833 787l19-53l20 67l-18-70z"/><path class="j5" d="M2242 773l18-41l19 87l-17 40zM2299 746l18-16l20-6l-18 8zM2317 730l18 16l20 4l-18-26zM2374 736l18-13l20 56l-18-57zM2412 779l18-38l20 77l-18-85zM2699 742l18-6l21 108l-19-32zM2697 772l18-33l21 87l-19-90zM2738 844l18-29l20-84l-18 31zM2872 801l19-27l20 47l-18-34z"/><path class="j6" d="M2224 735l18 38l20 86l-18-143zM2430 741l18 10l20-13l-18 80zM2774 792l18 6l21-5l-18-45z"/><path class="j7" d="M2392 723l18 23l20-5l-18 38zM2470 732l18-26l20 18l-18 8zM2544 780l18-41l20 5l-18 15zM2659 759l18-7l20 20l-18-29zM2679 743l18 29l20-36l-18 6zM2756 815l18-23l21-44l-19-17zM2893 787l18 34l21-101l-19 121z"/><path class="j8" d="M2168 747l17-31l20 2l-18 38zM2355 750l17-8l20-19l-18 13zM2776 731l19 17l20 51l-18 1zM2813 793l18-13l21-46l-19 53z"/><path class="j9" d="M2357 726l17 10l20-14l-17 109zM2641 742l18 17l20-16l-18-3z"/><path class="j10" d="M2150 807l18-60l19 9l-17 49zM2337 724l18 26l19-14l-17-10zM2394 722l18 57l20-46l-18-4zM2468 738l18 8l20-24l-18-16zM2508 724l18 74l20-71l-18 147zM2717 736l19 90l20-11l-18 29zM2854 731l18 70l21-14l-19-55z"/><path class="j11" d="M2205 718l17 80l20-25l-18-38z"/><path class="j12" d="M2187 756l18-38l19 17l-17 45zM2207 780l17-45l20-19l-17-13zM2564 759l18-15l20 19l-18-25zM2582 744l18-1l20 66l-18-46zM2852 734l18 85l21-45l-19 27z"/><path class="j13" d="M2282 727l17 19l20-14l-18 25zM2432 733l18 85l20-86l-18 30z"/><path class="j14" d="M2546 727l18 32l20-21l-18-13z"/><path class="j15" d="M2450 818l18-80l20-32l-18 26zM2622 722l19 20l20-2l-18-10z"/><path class="j16" d="M2279 819l18-84l20-5l-18 16zM2488 706l18 16l20 76l-18-74zM2584 738l18 25l20-41l-18 18z"/><path class="j17" d="M2319 732l18-8l20 2l-18-16zM2815 799l18-12l21-56l-19 34z"/><path class="j21" d="M2506 722l18-3l20 61l-18 18z"/><path class="j2" d="M2202 851l18 7l20-8l-18-52zM2295 804l17 9l20-22l-17-46zM2733 781l18-14l21 57l-18 18z"/><path class="j3" d="M2240 850l17-32l20-82l-17-4zM2713 775l18 43l20-51l-18 14zM2754 842l18-18l20-26l-18-6zM2772 824l18-16l21-64l-19 54zM2831 780l18 3l21 36l-18-85z"/><path class="j4" d="M2335 746l17 33l20-37l-17 8zM2332 791l18-41l20-14l-18 43zM2560 750l18 67l20-61l-18-1zM2636 758l18-2l20 41l-18-42z"/><path class="j5" d="M2297 735l18 10l20 1l-18-16zM2408 733l17 73l21 22l-18-34zM2790 808l18-52l21 4l-18-16z"/><path class="j6" d="M2352 779l18-43l20 21l-18-15zM2524 719l18 27l20-7l-18 41zM2521 772l18 24l21-46l-18-4zM2600 743l18 1l20 13l-18 52z"/><path class="j7" d="M2410 746l18 48l20-43l-18-10zM2580 755l18 1l20-12l-18-1zM2656 755l18 42l21-41l-18-4zM2792 798l19-54l20 36l-18 13z"/><path class="j8" d="M2220 858l18-120l19 80l-17 32zM2260 732l17 4l20-1l-18 84zM2562 739l18 16l20-12l-18 1zM2618 744l18 14l20-3l-18 2zM2638 757l18-2l21-3l-18 7z"/><path class="j9" d="M2222 798l18 52l20-118l-18 41zM2370 736l18 16l20-19l-18 24zM2504 745l17 27l21-26l-18-27z"/><path class="j10" d="M2428 794l18 34l20-65l-18-12zM2598 756l18 24l20-22l-18-14zM2677 752l18 4l20-17l-18 33z"/><path class="j11" d="M2185 716l17 135l20-53l-17-80zM2257 818l18-64l20 50l-18-68zM2277 736l18 68l20-59l-18-10zM2466 763l17-17l21-1l-18 1zM2483 746l18-8l20 34l-17-27zM2674 797l18-31l21 9l-18-19zM2751 767l19-19l20 60l-18 16z"/><path class="j12" d="M2446 828l17-27l20-55l-17 17zM2695 756l18 19l20 6l-18-42z"/><path class="j13" d="M2315 745l17 46l20-12l-17-33z"/><path class="j14" d="M2542 746l18 4l20 5l-18-16zM2715 739l18 42l21 61l-18-16zM2811 744l18 16l20 23l-18-3z"/><path class="j15" d="M2390 757l18-24l20 61l-18-48zM2486 746l18-1l20-26l-18 3z"/><path class="j16" d="M2372 742l18 15l20-11l-18-23z"/><path class="j18" d="M2448 751l18 12l20-17l-18-8z"/><path class="j3" d="M2330 792l18 9l20-10l-18-41zM2595 836l18-73l21 98l-18-81zM2692 766l19 4l20 48l-18-43z"/><path class="j4" d="M2385 793l18 39l20-79l-18-2zM2501 738l18 37l20 21l-18-24zM2537 807l18 0l20-13l-18-66z"/><path class="j5" d="M2575 794l18-11l20-20l-18 73zM2770 748l18 22l20-14l-18 52z"/><path class="j6" d="M2405 751l18 2l20-19l-18 72zM2749 768l18-4l21 6l-18-22z"/><path class="j7" d="M2275 754l17-7l20 66l-17-9zM2423 753l18 9l20-4l-18-24zM2539 796l18-68l21 89l-18-67zM2654 756l18-18l20 28l-18 31zM2652 791l18-26l20-17l-18-10z"/><path class="j8" d="M2272 759l18 83l20-31l-18-64zM2310 811l18-25l20 15l-18-9zM2425 806l18-72l20 67l-17 27zM2499 840l18 69l20-102l-18-32zM2578 817l17 19l21-56l-18-24z"/><path class="j9" d="M2350 750l18 41l20-39l-18-16zM2443 734l18 24l20 6l-18 37zM2731 818l18-50l21-20l-19 19z"/><path class="j10" d="M2616 780l18 81l20-105l-18 2zM2711 770l18 27l20-29l-18 50zM2729 797l18 34l20-67l-18 4z"/><path class="j11" d="M2255 748l17 11l20-12l-17 7zM2292 747l18 64l20-19l-18 21zM2312 813l18-21l20-42l-18 41zM2461 758l18 125l20-43l-18-76zM2519 775l18 32l20-79l-18 68zM2634 861l18-70l20-53l-18 18z"/><path class="j12" d="M2348 801l17-55l20 47l-17-2zM2463 801l18-37l20-26l-18 8zM2613 763l18 0l21 28l-18 70z"/><path class="j13" d="M2388 752l17-1l20 55l-17-73zM2557 728l18 66l20 42l-17-19z"/><path class="j14" d="M2368 791l17 2l20-42l-17 1zM2672 738l18 10l21 22l-19-4z"/><path class="j16" d="M2481 764l18 76l20-65l-18-37z"/><path class="j17" d="M2690 748l18 10l21 39l-18-27z"/><path class="j18" d="M2238 738l17 10l20 6l-18 64z"/><path class="j1" d="M2479 883l17-114l21 140l-18-69z"/><path class="j3" d="M2365 746l18 143l20-57l-18-39zM2667 778l18 12l21 50l-18 17z"/><path class="j4" d="M2383 889l17-121l21 43l-18 21zM2514 771l18 20l20 6l-18 10zM2552 797l18-21l20 40l-17-38z"/><path class="j5" d="M2328 786l17 54l20-94l-17 55zM2534 807l18-10l21-19l-18 29zM2629 766l18 91l20-79l-18 0z"/><path class="j6" d="M2458 771l18 4l20-6l-17 114zM2517 909l17-102l21 0l-18 0zM2573 778l17 38l21-16l-18-17zM2708 758l18 84l21-11l-18-34z"/><path class="j7" d="M2593 783l18 17l20-37l-18 0z"/><path class="j8" d="M2345 840l18-45l20 94l-18-143zM2441 762l17 9l21 112l-18-125z"/><path class="j9" d="M2290 842l18-78l20 22l-18 25zM2308 764l17-1l20 77l-17-54zM2555 807l18-29l20 5l-18 11z"/><path class="j10" d="M2438 792l18-11l20-6l-18-4zM2611 800l18-34l20 12l-18-15zM2688 857l18-17l20 2l-18-84z"/><path class="j11" d="M2403 832l18-21l20-49l-18-9zM2649 778l18 0l21 79l-18-92z"/><path class="j12" d="M2421 811l17-19l20-21l-17-9z"/><path class="j13" d="M2496 769l18 2l20 36l-17 102z"/><path class="j14" d="M2363 795l17 80l20-107l-17 121zM2400 768l18 6l20 18l-17 19z"/><path class="j15" d="M2631 763l18 15l21-13l-18 26zM2670 765l18 92l20-99l-18-10z"/><path class="j16" d="M2325 763l17 39l21-7l-18 45zM2590 816l18 11l21-61l-18 34z"/><path class="j17" d="M2476 775l18 4l20-8l-18-2z"/><path class="j3" d="M2360 796l18 42l20-59l-18 96zM2532 791l18 61l20-76l-18 21z"/><path class="j4" d="M2436 803l17-21l20 4l-17-5zM2473 786l18 22l20-19l-17-10zM2491 808l18 1l20-31l-18 11zM2626 798l18-26l20 19l-17 66z"/><path class="j5" d="M2398 779l17-7l21 31l-18-29zM2567 778l18 5l21 61l-18-69z"/><path class="j6" d="M2418 774l18 29l20-22l-18 11zM2494 779l17 10l21 2l-18-20z"/><path class="j7" d="M2378 838l17-54l20-12l-17 7zM2570 776l18-1l20 52l-18-11zM2608 827l18-29l21 59l-18-91zM2647 857l17-66l21-1l-18-12z"/><path class="j8" d="M2453 782l18 5l20 21l-18-22zM2606 844l17-57l21-15l-18 26z"/><path class="j9" d="M2588 775l18 69l20-46l-18 29z"/><path class="j10" d="M2415 772l18 46l20-36l-17 21zM2511 789l18-11l21 74l-18-61z"/><path class="j11" d="M2529 778l18 147l20-147l-17 74z"/><path class="j14" d="M2342 802l18-6l20 79l-17-80zM2380 875l18-96l20-5l-18-6z"/><path class="j18" d="M2456 781l17 5l21-7l-18-4z"/><path class="j19" d="M2550 852l17-74l21-3l-18 1z"/><path class="j3" d="M2544 794l18 34l20 9l-17 51z"/><path class="j4" d="M2430 840l18 33l20-51l-18-28z"/><path class="j6" d="M2450 794l18 28l20 13l-17-48zM2547 925l18-37l20-105l-18-5z"/><path class="j7" d="M2468 822l17-31l21 14l-18 30z"/><path class="j8" d="M2412 782l18 58l20-46l-17 24zM2471 787l17 48l21-26l-18-1zM2509 809l17-18l21 134l-18-147zM2506 805l18-3l20-8l-18-3zM2526 791l18 3l21 94l-18 37z"/><path class="j10" d="M2565 888l17-51l21-19l-18-35z"/><path class="j11" d="M2488 835l18-30l20-14l-17 18z"/><path class="j12" d="M2395 784l17-2l21 36l-18-46zM2585 783l18 35l20-31l-17 57z"/><path class="j14" d="M2433 818l17-24l21-7l-18-5z"/><path class="j6" d="M2524 802l17 47l21-21l-18-34z"/><path class="j7" d="M2465 845l17-69l21 26l-18-11z"/><path class="j10" d="M2448 873l17-28l20-54l-17 31z"/><path class="j12" d="M2485 791l18 11l21 0l-18 3zM2482 776l18 111l21-78l-18-7z"/><path class="j14" d="M2503 802l18 7l20 40l-17-47z"/><path class="j1" d="M2917 739l39 0l-18 61zM2491 808l39 0l-23 37zM2475 807l21 0l-16 48zM2427 797l36 0l-14 16zM2609 791l22 0l-10 51zM2552 799l29 0l-10 35zM2549 800l25 0l-14 31zM2193 739l20 0l-10 44zM2398 790l36 0l-11 30zM2047 705l25 0l-11 50zM1966 687l31 0l-15 51zM2121 723l30 0l-21 25zM2954 735l21 0l-12 45zM2102 719l33 0l-12 24zM2212 746l37 0l-12 18zM2405 791l29 0l-19 22z"/><path class="j2" d="M2925 739l28 0l-17 49zM2200 743l34 0l-11 35zM2722 772l31 0l-23 35zM2483 809l25 0l-10 21zM2319 771l36 0l-14 53zM1957 684l24 0l-19 28zM1872 665l39 0l-13 18zM3112 709l23 0l-6 42zM2042 705l30 0l-9 36zM1950 682l25 0l-6 35zM2284 762l30 0l-15 40zM2535 802l25 0l-10 56zM2960 732l39 0l-23 63zM1956 684l26 0l-13 34zM2481 808l23 0l-7 36zM2212 746l34 0l-11 13zM3061 716l38 0l-12 38z"/><path class="j3" d="M2525 804l29 0l-15 21zM2279 762l39 0l-20 15z"/></g>
<g transform="scale(.1)"><path class="j6" d="M2468 901l21 30l16-49l-21 8z"/><path class="j7" d="M2484 890l21-8l16 67l-21 62z"/><path class="j10" d="M2505 882l20-34l16 36l-20 65z"/><path class="j2" d="M2493 906l20 34l16 22l-20-55zM2529 962l21-43l16 11l-20-21z"/><path class="j6" d="M2457 933l20-12l16-15l-20-1zM2509 907l20 55l17-53l-21-61zM2546 909l20 21l16-22l-20-21zM2566 930l20 75l17-83l-21-14z"/><path class="j7" d="M2421 924l20 80l16-71l-20-36z"/><path class="j8" d="M2473 905l20 1l16 1l-20 24zM2525 848l21 61l16-22l-21-3z"/><path class="j11" d="M2489 931l20-24l16-59l-20 34z"/><path class="j12" d="M2437 897l20 36l16-28l-21-25z"/><path class="j14" d="M2452 880l21 25l16 26l-21-30z"/><path class="j2" d="M2441 1004l20-87l16 4l-20 12zM2554 959l20 39l16-82l-20 13zM2570 929l20-13l17 54l-21 35z"/><path class="j4" d="M2389 905l20 8l16-9l-20 48zM2461 917l20-26l16 40l-20-10zM2477 921l20 10l16 9l-20-34zM2497 931l20-21l16-18l-20 48zM2517 910l20 26l17 23l-21-67z"/><path class="j5" d="M2425 904l20 51l16-38l-20 87z"/><path class="j6" d="M2373 932l20 31l16-50l-20-8zM2513 940l20-48l17 27l-21 43zM2607 970l20-68l17 24l-21-30z"/><path class="j7" d="M2405 952l20-48l16 100l-20-80zM2409 913l20 2l16 40l-20-51z"/><path class="j8" d="M2533 892l21 67l16-30l-20-10zM2627 902l21 53l16-39l-20 10z"/><path class="j9" d="M2481 891l20 8l16 11l-20 21zM2550 919l20 10l16 76l-20-75zM2590 916l21 49l16-63l-20 68z"/><path class="j12" d="M2445 955l20-35l16-29l-20 26z"/><path class="j15" d="M2586 1005l21-35l16-74l-20 26z"/><path class="j1" d="M2358 936l19 76l16-49l-20-31zM2377 1012l20-84l16 11l-20 24z"/><path class="j2" d="M2651 964l21 6l17-52l-21 44z"/><path class="j4" d="M2393 963l20-24l16-24l-20-2zM2429 915l20 53l16-48l-20 35zM2501 899l20 38l16-1l-20-26z"/><path class="j5" d="M2413 939l19 23l17 6l-20-53zM2449 968l19-45l17 30l-20-33zM2557 921l21 5l16-18l-20 90zM2611 965l20-45l17 35l-21-53z"/><path class="j6" d="M2505 933l19-25l17 19l-20 10zM2537 936l20-15l17 77l-20-39zM2578 926l20 18l16-46l-20 10zM2594 908l20-10l17 22l-20 45zM2648 955l20 7l17 18l-21-64z"/><path class="j7" d="M2361 922l20 27l16-21l-20 84zM2397 928l19 1l16 33l-19-23zM2432 962l20-19l16-20l-19 45zM2541 927l20 74l17-75l-21-5z"/><path class="j8" d="M2689 918l20 87l17-15l-20-75z"/><path class="j9" d="M2342 903l19 19l16 90l-19-76zM2465 920l20 33l16-54l-20-8zM2485 953l20-20l16 4l-20-38z"/><path class="j10" d="M2631 920l20 44l17-2l-20-7z"/><path class="j11" d="M2574 998l20-90l17 57l-21-49zM2614 898l21 21l16 45l-20-44z"/><path class="j12" d="M2668 962l21-44l17-3l-21 65z"/><path class="j13" d="M2326 908l19 67l16-53l-19-19zM2468 923l20 22l17-12l-20 20zM2521 937l20-10l16-6l-20 15z"/><path class="j2" d="M2472 963l19-26l17 6l-20 2zM2655 937l20 82l17-83l-20 34zM2692 936l20 9l18 50l-21 10zM2712 945l21 5l17 7l-20 38z"/><path class="j3" d="M2294 959l19 49l16-71l-19 5zM2400 958l20-36l16 30l-20-23zM2420 922l19 58l16-42l-19 14zM2561 1001l20-68l17 11l-20-18zM2672 970l20-34l17 69l-20-87zM2709 1005l21-10l17-65l-21 60z"/><path class="j4" d="M2310 942l19-5l16 38l-19-67zM2384 955l19-11l17-22l-20 36zM2416 929l20 23l16-9l-20 19zM2488 945l20-2l16-35l-19 25zM2601 1050l20-94l17-29l-20 52zM2618 979l20-52l17 10l-20-18zM2638 927l20 12l17 80l-20-82zM2675 1019l20-59l17-15l-20-9z"/><path class="j5" d="M2345 975l20-66l16 40l-20-27zM2349 932l19 5l16 18l-19-46zM2455 938l20 7l16-8l-19 26zM2528 967l20 27l16-10l-20-46zM2544 938l20 46l17-51l-20 68zM2598 944l20 35l17-60l-21-21zM2635 919l20 18l17 33l-21-6z"/><path class="j6" d="M2313 1008l19-79l17 3l-20 5zM2436 952l19-14l17 25l-20-20zM2750 957l20 65l18-90l-21 4z"/><path class="j8" d="M2278 917l19 21l16 70l-19-49zM2365 909l19 46l16 3l-19-9zM2581 933l20 117l17-71l-20-35z"/><path class="j9" d="M2508 943l20 24l16-29l-20-30zM2564 984l20-31l17 97l-20-117z"/><path class="j10" d="M2381 949l19 9l16-29l-19-1zM2524 908l20 30l17 63l-20-74z"/><path class="j11" d="M2329 937l20-5l16-23l-20 66zM2491 937l20 3l17 27l-20-24z"/><path class="j12" d="M2452 943l20 20l16-18l-20-22zM2730 995l20-38l17-21l-20-6z"/><path class="j1" d="M2548 994l19-15l17-26l-20 31z"/><path class="j2" d="M2587 976l20-18l17-8l-20 57zM2624 950l20 54l17-58l-20 51zM2733 950l20 25l17 47l-20-65zM2736 974l20 33l17-63l-20 31zM2811 965l21 83l17-64l-20-40z"/><path class="j3" d="M2247 947l18 106l16-115l-19-14zM2265 1053l19-47l16 16l-19-84zM2423 953l19-29l17 34l-20 22zM2495 931l19 88l17-48l-20-31zM2604 1007l20-57l17 47l-20-41zM2678 1018l20-86l18 39l-21-11zM2698 932l20 65l18-23l-20-3zM2716 971l20 3l17 1l-20-25zM2773 944l21 16l17 5l-20 0z"/><path class="j4" d="M2403 944l20 9l16 27l-19-58zM2567 979l20-3l17 31l-20-54zM2641 997l20-51l17 72l-20-79z"/><path class="j5" d="M2231 959l19-8l15 102l-18-106zM2297 938l19 11l16-20l-19 79zM2478 988l19 23l17 8l-19-88zM2584 953l20 54l17-51l-20 94zM2753 975l20-31l18 21l-21 57z"/><path class="j6" d="M2475 945l20-14l16 9l-20-3zM2514 1019l20-63l17-30l-20 45zM2658 939l20 79l17-58l-20 59z"/><path class="j7" d="M2300 1022l19-59l16 22l-19-36zM2387 922l19 16l17 15l-20-9zM2442 924l19 17l17 47l-19-30zM2551 926l19 30l17 20l-20 3zM2695 960l21 11l17-21l-21-5zM2791 965l20 0l18-21l-21-2z"/><path class="j8" d="M2262 924l19 14l16 0l-19-21zM2368 937l19-15l16 22l-19 11zM2531 971l20-45l16 53l-19 15zM2621 956l20 41l17-58l-20-12zM2661 946l20 11l17-25l-20 86zM2770 1022l21-57l17-23l-20-10z"/><path class="j9" d="M2332 929l20-27l16 35l-19-5zM2335 985l20-41l16-6l-19-36zM2371 938l19 19l16-19l-19-16zM2406 938l20 21l16-35l-19 29zM2459 958l19 30l17-57l-20 14z"/><path class="j10" d="M2511 940l20 31l17 23l-20-27z"/><path class="j11" d="M2316 949l19 36l17-83l-20 27z"/><path class="j12" d="M2281 938l19 84l16-73l-19-11z"/><path class="j14" d="M2439 980l20-22l16-13l-20-7z"/><path class="j15" d="M2352 902l19 36l16-16l-19 15z"/><path class="j1" d="M2284 1006l19-4l16-39l-19 59z"/><path class="j2" d="M2218 970l18 8l16-20l-18 103zM2303 1002l19-20l16-26l-19 7zM2497 1011l20-54l17-1l-20 63zM2647 964l19 23l18-13l-20-9z"/><path class="j3" d="M2390 957l19 35l17-33l-20-21zM2664 965l20 9l17-22l-20 5zM2684 974l20 29l17-2l-20-49zM2739 948l20 10l17 34l-20 15zM2794 960l20 21l18 67l-21-83zM2852 973l21-13l18 17l-21-19z"/><path class="j4" d="M2199 967l19 3l16 91l-19-120zM2338 956l19 78l17-84l-19-6zM2409 992l19 47l17-84l-19 4zM2573 1011l19 51l18-99l-20 24zM2607 958l20 6l17 40l-20-54zM2610 963l19 25l18-24l-20 0zM2814 981l20-8l18 0l-20 75zM2832 1048l20-75l18-15l-21 26zM2834 973l21 16l18-29l-21 13z"/><path class="j5" d="M2250 951l18-18l16 73l-19 47zM2268 933l19 11l16 58l-19 4zM2287 944l19 10l16 28l-19 20zM2500 981l20 3l16 20l-19-47zM2759 958l20 27l17 44l-20-37z"/><path class="j6" d="M2570 956l20 31l17-29l-20 18zM2627 964l20 0l17 1l-20 39zM2776 992l20 37l18-48l-20-21z"/><path class="j7" d="M2252 958l19-3l16-11l-19-11zM2534 956l19-12l17 12l-19-30zM2553 944l20 67l17-24l-20-31zM2590 987l20-24l17 1l-20-6zM2718 997l21-49l17 59l-20-33zM2721 1001l20 67l18-110l-20-10z"/><path class="j8" d="M2234 1061l18-103l16-25l-18 18zM2357 1034l19-71l17 41l-19-54zM2426 959l19-4l16-14l-19-17zM2461 941l20 7l16 63l-19-23zM2536 1004l20-37l17 44l-20-67zM2796 1029l21 32l17-88l-20 8zM2873 960l20 39l18-53l-20 31z"/><path class="j9" d="M2393 1004l19-53l16 88l-19-47zM2517 957l19 47l17-60l-19 12zM2701 952l20 49l18-53l-21 49z"/><path class="j11" d="M2319 963l19-7l17-12l-20 41zM2644 1004l20-39l17-8l-20-11z"/><path class="j12" d="M2355 944l19 6l16 7l-19-19zM2374 950l19 54l16-12l-19-35zM2428 1039l19-76l17 21l-19-29zM2464 984l19-26l17 23l-19-33zM2481 948l19 33l17-24l-20 54zM2681 957l20-5l17 45l-20-65zM2756 1007l20-15l18-32l-21-16z"/><path class="j13" d="M2183 953l19 3l16 14l-19-3zM2322 982l19-46l16 98l-19-78zM2445 955l19 29l17-36l-20-7z"/><path class="j14" d="M2215 941l19 120l16-110l-19 8z"/><path class="j1" d="M2520 984l19 42l17-59l-20 37zM2704 1003l20-21l17 86l-20-67z"/><path class="j2" d="M2857 989l20 25l18-45l-20 51z"/><path class="j3" d="M2273 949l19 23l16 12l-19 70zM2486 967l19-2l17 53l-19-27zM2595 988l19 11l18-39l-20 9zM2724 982l19-20l18 15l-20 91zM2761 977l20 9l18-20l-20 19zM2779 985l20-19l18 95l-21-32z"/><path class="j4" d="M2170 1008l18-14l16 36l-18-86zM2186 944l18 86l16-76l-18 2zM2236 978l19-33l16 10l-19 3zM2271 955l18 99l17-100l-19-10zM2343 996l19-11l16-8l-18-30zM2539 1026l19-46l17-7l-19-6zM2632 960l19 15l18-11l-20 8zM2649 972l20-8l17-4l-20 27zM2686 960l20 25l18-3l-20 21z"/><path class="j5" d="M2204 1030l18-66l17 4l-19-14zM2255 945l18 4l16 105l-18-99zM2289 1054l19-70l16 51l-18-81zM2308 984l19-5l16 17l-19 39zM2431 989l19-1l17 21l-20-46zM2503 991l19 27l17 8l-19-42zM2522 1018l19-73l17 35l-19 46zM2592 1062l20-93l17 19l-19-25zM2741 1068l20-91l18 8l-20-27zM2855 989l20 31l18-21l-20-39z"/><path class="j6" d="M2136 997l18-15l16 26l-18 2zM2202 956l18-2l16 24l-18-8zM2414 950l19-3l17 41l-19 1zM2450 988l19-13l17-8l-19 42zM2483 958l20 33l17-7l-20-3zM2799 966l20 36l18-4l-20 63zM2819 1002l20-69l18 56l-20 9zM2934 965l20 52l19 7l-21-51z"/><path class="j7" d="M2168 980l18-36l16 12l-19-3zM2669 964l19 18l18 3l-20-25zM2914 975l20-10l18 8l-20 33z"/><path class="j8" d="M2152 1010l18-2l16-64l-18 36zM2341 936l19 11l16 16l-19 71zM2412 951l19 38l16-26l-19 76zM2447 963l20 46l16-51l-19 26zM2575 973l20 15l17-19l-20 93zM2612 969l20-9l17 12l-20 16zM2666 987l20-27l18 43l-20-29zM2743 962l20 72l18-48l-20-9z"/><path class="j9" d="M2220 954l19 14l16-23l-19 33zM2306 954l18 81l17-99l-19 46zM2376 963l19-13l17 1l-19 53zM2395 950l19 0l17 39l-19-38zM2467 1009l19-42l17 24l-20-33zM2556 967l19 6l17 89l-19-51zM2875 1020l20-51l19 6l-21 24z"/><path class="j10" d="M2239 968l18-2l16-17l-18-4zM2558 980l20-3l17 11l-20-15zM2629 988l20-16l17 15l-19-23zM2817 1061l20-63l18-9l-21-16zM2837 998l20-9l18 31l-20-31z"/><path class="j11" d="M2324 1035l19-39l17-49l-19-11zM2706 985l20-17l17-6l-19 20zM2781 986l20 9l18 7l-20-36z"/><path class="j12" d="M2893 999l21-24l18 31l-21-60z"/><path class="j13" d="M2378 977l19-4l17-23l-19 0z"/><path class="j14" d="M2895 969l21 4l18-8l-20 10z"/><path class="j20" d="M2360 947l18 30l17-27l-19 13z"/><path class="j1" d="M2154 982l18 28l16-16l-18 14zM2954 1017l21 94l18-100l-20 13zM2956 1052l21-42l18-20l-20 121zM2975 1111l20-121l19 28l-21-7z"/><path class="j2" d="M2138 962l18 51l16-3l-18-28zM2294 1029l18-28l17-28l-19 33zM2763 1034l20-60l18 21l-20-9z"/><path class="j3" d="M2104 991l18-14l16-15l-18 74zM2190 954l18 47l16-13l-18-2zM2364 985l18 35l17-45l-18-7zM2803 984l20 0l18 3l-20 10zM2877 1014l21-27l18-14l-21-4zM2936 988l20 64l19 59l-21-94z"/><path class="j4" d="M2156 1013l18-38l16-21l-18 56zM2224 988l19-12l16-16l-18 7zM2310 1006l19-33l16-18l-18 24zM2381 968l18 7l17-3l-19 1zM2399 975l19 90l17-104l-19 11zM2653 971l20 26l17 1l-19 23z"/><path class="j5" d="M2241 967l18-7l16 14l-18-8zM2345 955l19 30l17-17l-19 17zM2433 947l19 23l17 5l-19 13zM2452 970l19 13l17-5l-19-3zM2541 945l19 16l18 16l-20 3zM2578 977l19-42l17 64l-19-11z"/><path class="j6" d="M2222 964l19 3l16-1l-18 2zM2362 985l19-17l16 5l-19 4zM2397 973l19-1l17-25l-19 3zM2416 972l19-11l17 9l-19-23zM2505 965l19-6l17-14l-19 73zM2560 961l20 86l17-112l-19 42zM2597 935l19 141l18-75l-20-2zM2634 1001l19-30l18 50l-20-46zM2783 974l20 10l18 13l-20-2zM2801 995l20 2l18-64l-20 69zM2821 997l20-10l18-19l-20-35z"/><path class="j7" d="M2122 977l18 33l16 3l-18-51zM2188 994l18-8l16-22l-18 66zM2327 979l18-24l17 30l-19 11zM2469 975l19 3l17-13l-19 2zM2471 983l19 9l17-1l-19-13zM2726 968l20-32l17 98l-20-72zM2841 987l20-11l18-5l-20-3zM2918 975l20-1l18 78l-20-64z"/><path class="j8" d="M2524 959l19 22l17-20l-19-16zM2671 1021l19-23l18-35l-20 19zM2688 982l20-19l18 5l-20 17zM2728 1041l19-31l18-27l-19-47zM2898 987l20-12l18 13l-20-15zM2995 990l21-5l18 4l-20 29z"/><path class="j9" d="M2088 976l18-3l16 4l-18 14zM2292 972l18 34l17-27l-19 5zM2507 991l19-9l17-1l-19-22zM2580 1047l19-26l17 55l-19-141zM2651 975l20 46l17-39l-19-18zM2690 998l20-10l18 53l-20-78zM2916 973l20 15l18 29l-20-52z"/><path class="j10" d="M2488 978l19 13l17-32l-19 6zM2543 981l19-2l18 68l-20-86zM2879 971l21 11l18-7l-20 12z"/><path class="j11" d="M2120 1036l18-74l16 20l-18 15zM2206 986l18 2l17-21l-19-3zM2275 974l19 55l16-23l-18-34zM2435 961l19 25l17-3l-19-13zM2746 936l19 47l18-9l-20 60z"/><path class="j12" d="M2172 1010l18-56l16 32l-18 8zM2329 973l18 67l17-55l-19-30zM2614 999l20 2l17-26l-19-15zM2616 1076l20-117l17 12l-19 30zM2765 983l20 60l18-59l-20-10z"/><path class="j13" d="M2257 966l18 8l17-2l-19-23zM2259 960l18-11l17 80l-19-55zM2708 963l20 78l18-105l-20 32zM2859 968l20 3l19 16l-21 27z"/><path class="j17" d="M2839 933l20 35l18 46l-20-25z"/><path class="j2" d="M2296 985l18 7l16 44l-18-35zM2312 1001l18 35l17 4l-18-67zM2330 1036l19-45l17-12l-19 61zM2767 989l20 41l18-46l-20 59zM2787 1030l20 5l18-12l-20-39z"/><path class="j3" d="M2041 999l17-7l16 0l-17 29zM2124 981l18 42l16-57l-18 44zM2208 1001l18-16l17-9l-19 12zM2226 985l18 57l17-62l-18-4zM2401 993l19-12l17-7l-19 91zM2473 1020l18-46l18 16l-19 2zM2490 992l19-2l17-8l-19 9zM2673 997l19-10l18 1l-20 10zM2785 1043l20-59l18 0l-20 0zM2881 1023l20-22l19 19l-20-38zM3016 985l20 11l19 23l-21-30z"/><path class="j4" d="M2192 976l18 1l16 8l-18 16zM2244 1042l18-57l17-10l-18 5zM2314 992l18 8l17-9l-19 45zM2347 1040l19-61l16 41l-18-35zM2382 1020l19-27l17 72l-19-90zM2526 982l19 7l17-10l-19 2zM2528 990l19 27l17-38l-19 10zM2562 979l19-19l18 61l-19 26zM2710 988l20 9l17 13l-19 31zM2805 984l20 39l18-33l-20-6zM2938 974l20 4l19 32l-21 42z"/><path class="j5" d="M2090 968l18 7l16 6l-18-8zM2142 1023l17-46l17-11l-18 0zM2176 966l17 26l17-15l-18-1zM2418 1065l19-91l17 12l-19-25zM2712 1027l19-46l18 36l-19-20zM2730 997l19 20l18-28l-20 21zM2861 976l20 47l19-41l-21-11zM2900 982l20 38l18-46l-20 1zM3057 985l20 16l19 2l-20-17z"/><path class="j6" d="M2158 966l18 0l16 10l-18-1zM2243 976l18 4l16-31l-18 11zM2454 986l19 34l17-28l-19-9zM2491 974l19 36l18-20l-19 0zM2564 979l19-1l18 14l-20-32zM2977 1010l20-22l19-3l-21 5zM2997 988l21 4l18 4l-20-11z"/><path class="j7" d="M2057 1021l17-29l16-24l-18-41zM2210 977l18-8l16 73l-18-57zM2545 989l19-10l17-19l-19 19zM2618 987l19 39l18-28l-19-39zM2940 1052l20-13l19-42l-21-19zM3018 992l20 0l19-7l-21 11zM3036 996l21-11l19 1l-21 33z"/><path class="j8" d="M2277 949l19 36l16 16l-18 28zM2366 979l18 4l17 10l-19 27zM2455 985l19 12l17-23l-18 46zM2601 992l19 43l17-9l-19-39zM2636 959l19 39l18-1l-20-26zM2674 987l20 73l18-33l-20-40zM2747 1010l20-21l18 54l-20-60zM2843 990l20 35l18-2l-20-47z"/><path class="j9" d="M2072 927l18 41l16 5l-18 3zM2140 1010l18-44l16 9l-18 38zM2261 980l18-5l17 10l-19-36zM2349 991l18-12l17 4l-18-4zM2823 984l20 6l18-14l-20 11zM2825 1023l20-30l18 32l-20-35zM2863 1025l20-32l18 8l-20 22zM2901 1001l20 47l19 4l-20-32zM2920 1020l20 32l18-74l-20-4z"/><path class="j10" d="M2074 992l18-22l16 5l-18-7zM2108 975l17 58l17-10l-18-42zM2749 1017l20-30l18 43l-20-41zM2958 978l21 19l18-9l-20 22z"/><path class="j11" d="M2174 975l18 1l16 25l-18-47zM2279 975l18 1l17 16l-18-7zM2509 990l19 0l17-1l-19-7z"/><path class="j12" d="M2420 981l18 6l17-2l-18-11zM2437 974l18 11l18 35l-19-34zM2692 987l20 40l18-30l-20-9z"/><path class="j13" d="M2106 973l18 8l16 29l-18-33zM2599 1021l19-34l18-28l-20 117z"/><path class="j14" d="M2581 960l20 32l17-5l-19 34zM2655 998l19-11l18 0l-19 10z"/><path class="j15" d="M2384 983l19 20l17-22l-19 12zM2637 1026l20-30l17-9l-19 11z"/><path class="j16" d="M2979 997l20 46l19-51l-21-4z"/><path class="j1" d="M1993 1051l17-59l16 25l-17 54z"/><path class="j2" d="M2009 1071l17-54l16 23l-17 34zM2125 1033l18-16l16-40l-17 46zM2143 1017l18 13l16 16l-18-69zM2177 1046l18-34l16-8l-18-12zM2602 1011l19 20l18-28l-19 32zM2620 1035l19-32l18-7l-20 30z"/><path class="j3" d="M2092 970l17 80l16-17l-17-58zM2246 1003l18 19l16-36l-18-1zM2386 1023l18-30l17 24l-18-14zM2510 1010l19-15l18 22l-19-27zM2584 1053l19-39l18 17l-19-20zM2676 993l19 9l18 26l-19 32zM2713 1028l20-3l18-21l-20-23zM2751 1004l19 11l18-6l-19-22zM2769 987l19 22l19 26l-20-5zM2883 993l20 19l18 36l-20-47z"/><path class="j4" d="M2042 1040l18-63l16 9l-18 6zM2193 992l18 12l17-35l-18 8zM2228 969l18 34l16-18l-18 57zM2264 1022l18-19l16-19l-18 2zM2297 976l18 21l17 3l-18-8zM2350 992l19 4l17 27l-19-44zM2404 993l18 5l18-3l-19 22zM2440 995l18 63l18-68l-19 0zM2512 1031l18-31l18 78l-19-83zM2548 1078l19-11l17-14l-19-66zM2565 987l19 66l18-42l-19-33zM2731 981l20 23l18-17l-20 30zM2770 1015l20 55l18-63l-20 2zM2826 1033l20-30l18-22l-19 12zM2903 1012l20 81l18-125l-20 80zM2961 1102l20-45l19 47l-20-83zM3077 1001l21 6l19-6l-21 2z"/><path class="j5" d="M2127 1032l17 11l17-13l-18-13zM2229 993l18 1l17 28l-18-19zM2333 989l19-8l17 15l-19-4zM2476 990l18 13l18 28l-19-76zM2657 996l19-3l18 67l-20-73zM2788 1009l20-2l18 26l-19 2zM2884 1020l20-12l19 85l-20-81zM2923 1093l19-47l19 56l-20-134zM2960 1039l20-18l19 22l-20-46zM3058 1051l21-55l19 11l-21-6zM3098 1007l20-3l19 55l-20-58z"/><path class="j6" d="M2026 1017l18 56l16-96l-18 63zM2093 986l18 15l16 31l-18 18zM2421 1017l19-22l17-5l-19-3zM2457 990l19 0l17-35l-19 42zM2583 978l19 33l18 24l-19-43zM2621 1031l19-22l18 42l-19-48zM2658 1051l19-61l18 12l-19-9zM2941 968l20 134l19-81l-20 18zM2980 1021l20 83l19-103l-20 42zM3000 1104l20-32l19-88l-20 17z"/><path class="j7" d="M2159 977l18 69l16-54l-17-26zM2195 1012l18-18l16-1l-18 11zM2298 984l19 34l16-29l-18 8zM2369 996l18 18l17-21l-18 30zM2845 993l19-12l19 12l-20 32zM3118 1004l20 15l20-11l-21 51z"/><path class="j8" d="M2315 997l18-8l17 3l-18 8zM2403 1003l18 14l17-30l-18-6zM2694 1060l19-32l18-47l-19 46zM2864 981l20 39l19-8l-20-19zM2921 1048l20-80l19 71l-20 13zM2999 1043l20-42l19-9l-20 0z"/><path class="j9" d="M2058 992l18-6l16-16l-18 22zM2109 1050l18-18l16-15l-18 16zM2262 985l18 1l17-10l-18-1zM2367 979l19 44l17-20l-19-20zM2438 987l19 3l17 7l-19-12zM2695 1002l19 6l19 17l-20 3zM2733 1025l19 66l18-76l-19-11zM2807 1035l19-2l19-40l-20 30zM2808 1007l20 37l18-41l-20 30zM2846 1003l20 23l18-6l-20-39z"/><path class="j10" d="M2025 1074l17-34l16-48l-17 7zM2076 986l17 0l16 64l-17-80zM2161 1030l17 46l17-64l-18 34zM2211 1004l18-11l17 10l-18-34zM2332 1000l18-8l17-13l-18 12zM2493 955l19 76l17-36l-19 15zM2529 995l19 83l17-91l-18 30zM2547 1017l18-30l18-9l-19 1zM2639 1003l19 48l18-58l-19 3z"/><path class="j12" d="M2060 977l17 10l16-1l-17 0zM2280 986l18-2l17 13l-18-21zM3019 1001l20-17l19 67l-20-59zM3039 984l20 15l20-3l-21 55z"/><path class="j13" d="M2474 997l19-42l17 55l-19-36z"/><path class="j14" d="M3079 996l20 35l19-27l-20 3z"/><path class="j16" d="M3038 992l20 59l19-50l-20-16z"/><path class="j0" d="M2981 1057l20 48l19-33l-20 32z"/><path class="j1" d="M2982 1018l20 53l19 104l-20-70zM3179 1053l21-18l19 40l-20-16z"/><path class="j2" d="M2028 994l17 8l16 97l-17-26zM2162 1027l17-26l17 6l-18 69zM2300 998l18 29l17 16l-18-25zM2530 1000l19 7l18 60l-19 11zM2641 1050l19 38l18-73l-19-2zM2714 1008l20 31l18 52l-19-66zM2734 1039l19-21l18-11l-19 84z"/><path class="j3" d="M2010 992l18 2l16 79l-18-56zM2011 1010l17 28l17-36l-17-8zM2045 1002l17 8l16 62l-17 27zM2094 1026l18-30l16 38l-17-33zM2265 1000l18 23l17-25l-18 5zM2318 1027l18-24l17-6l-18 46zM2513 1009l18 26l18-28l-19-7zM2622 1010l19 40l18-37l-19-4zM2715 1081l20-68l18 5l-19 21zM2924 1013l20 37l18-42l-20 38zM2942 1046l20-38l19 49l-20 45z"/><path class="j4" d="M1979 1077l16-83l16 16l-17-9zM2077 987l17 39l17-25l-18-15zM2317 1018l18 25l17-62l-19 8zM2352 981l18 31l17 2l-18-18zM2459 992l19 36l17 42l-18-65zM2477 1005l18 65l18-61l-19-6zM2549 1007l19 18l18-23l-19 65zM2696 1006l19 75l19-42l-20-31zM2752 1091l19-84l19 63l-20-55zM2904 1008l20 5l18 33l-19 47zM2944 1050l19-41l19 9l-20-10zM2962 1008l20 10l19 87l-20-48zM3060 1014l21 9l19-15l-20 6zM3138 1019l21-21l19 26l-20-16zM3159 998l20 55l20 6l-21-35z"/><path class="j5" d="M1978 1025l16-24l16-9l-17 59zM2044 1073l17 26l16-112l-17-10zM2078 1072l17-31l17-45l-18 30zM2213 994l17 43l17-43l-18-1zM2370 1012l18-12l17-7l-18 21zM2640 1009l19 4l18-23l-19 61zM2678 1015l19 75l18-9l-19-75zM2791 1017l19 9l19-34l-20 13zM3021 1175l20-152l19-9l-20-31z"/><path class="j6" d="M1962 999l17 78l15-76l-16 24zM2111 1001l17 33l16 9l-17-11zM2178 1076l18-69l17-13l-18 18zM2282 1003l18-5l17 20l-19-34zM2441 1013l18-21l18 13l-19 53zM2603 1014l19-4l18-1l-19 22zM2753 1018l19 50l19-51l-20-10zM2847 1007l20 31l18-21l-19 9zM3001 1105l20 70l19-192l-20 89zM3100 1008l20 46l20-50l-21 10z"/><path class="j7" d="M2061 1099l17-27l16-46l-17-39zM2230 1037l18-45l17 8l-18-6zM2247 994l18 6l17 3l-18 19zM2248 992l18 45l17-14l-18-23zM2494 1003l19 6l17-9l-18 31zM2495 1070l19-52l17 17l-18-26zM2531 1035l19 44l18-54l-19-18zM2790 1070l19-65l19 39l-20-37zM3080 1014l20-6l19 6l-20 17z"/><path class="j8" d="M2335 1043l18-46l17 15l-18-31zM2387 1014l18-21l17 5l-18-5zM2422 998l19 15l17 45l-18-63zM2458 1058l19-53l17-2l-18-13zM2567 1067l19-65l17 12l-19 39zM2677 990l19 16l18 2l-19-6zM2885 1017l20 9l19-13l-20-5zM2905 1026l20 9l19 15l-20-37zM3119 1014l21-10l19-6l-21 21z"/><path class="j9" d="M1946 1112l17-61l16 26l-17-78zM2112 996l17 19l16-12l-17 31zM2145 1003l18-5l16 3l-17 26zM2586 1002l18 68l18-60l-19 4zM2809 1005l20-13l18 15l-19 37zM2829 992l19 45l19 1l-20-31z"/><path class="j10" d="M2144 1043l18-16l16 49l-17-46zM2283 1023l18-20l17 24l-18-29zM2353 997l18 11l17-8l-18 12zM2771 1007l20 10l18-12l-19 65zM3040 983l20 31l20 0l-21-15zM3099 1031l20-17l19 5l-20-15z"/><path class="j11" d="M1994 1001l17 9l17-16l-18-2zM2179 1001l18 41l17 39l-18-74zM2405 993l19 17l17 3l-19-15zM2828 1044l19-37l19 19l-20-23zM2867 1038l19-19l19 7l-20-9zM3020 1072l20-89l19 16l-20-15zM3059 999l21 15l19 17l-20-35zM3140 1004l20 11l19 38l-20-55z"/><path class="j12" d="M2214 1081l17-17l17-72l-18 45zM2568 1025l18-22l18 67l-18-68zM2604 1070l19-15l18-5l-19-40zM2659 1013l19 2l18-9l-19-16zM2866 1026l19-9l19-9l-20 12z"/><path class="j13" d="M2128 1034l17-31l17 24l-18 16zM2388 1000l18-6l18 16l-19-17z"/><path class="j16" d="M2196 1007l18 74l16-44l-17-43zM2424 1010l18 5l17-23l-18 21z"/><path class="j1" d="M2587 1030l19 77l18 88l-19-160zM2605 1035l19 160l18-138l-19-2zM2623 1055l19 2l18 31l-19-38z"/><path class="j2" d="M1947 1001l16 12l16 45l-16-7zM1963 1013l17-11l16 100l-17-44zM2371 1063l18-26l18-21l-18 18zM2550 1079l19-7l17-69l-18 22zM2698 1049l19 26l18-67l-19 74zM2925 1035l19 103l19-129l-19 41zM3200 1035l20-17l20 46l-21 11z"/><path class="j3" d="M2095 1041l17-18l17-8l-17-19zM2197 1042l17 3l17 19l-17 17zM2231 1064l18-40l17 13l-18-45zM2496 1019l18 30l18-28l-18-3zM2569 1072l18-42l18 5l-19-32zM2642 1057l19-48l18 7l-19 72zM2773 1021l19 8l19-11l-20 47zM2925 1095l20-64l19 0l-20 107zM2983 1012l20 15l19 7l-20 37zM3002 1071l20-37l19-11l-20 152zM3081 1048l20-19l20 34l-20-41z"/><path class="j4" d="M2129 1015l17-8l17-9l-18 5zM2146 1007l18 69l16-80l-17 2zM2267 1106l17-60l17-1l-17-35zM2354 979l17 84l18-29l-18-26zM2407 1016l18 46l18-52l-19-3zM2849 1076l19-81l19 32l-19-8zM3042 1025l20 32l19-9l-20 51zM3101 1022l20 41l19-18l-20 9zM3140 1045l21 17l19-48l-20 1z"/><path class="j5" d="M2029 1014l17 3l16 4l-17-7zM2130 1007l17 64l17 5l-18-69zM2460 1018l18-7l18 8l-18 9zM2810 1026l19 60l19-49l-19-45zM2811 1018l19 7l19 51l-20 10zM2887 1027l19-2l19 70l-19-28zM2944 1138l20-107l19-19l-20-3zM3121 1063l20 16l20-17l-21-17z"/><path class="j6" d="M1963 1051l16 7l16-64l-16 83zM2062 1021l17 82l17-85l-17-23zM2112 1023l18-16l16 0l-17 8zM2163 998l17-2l17 46l-18-41zM2180 996l18 6l16 43l-17-3zM2198 1002l17-27l17 41l-18 29zM2336 1003l18-24l17 29l-18-11zM2586 1003l19 32l18 20l-19 15zM2679 1016l19 33l18 33l-19 8zM2754 1025l19-4l18 44l-19 3zM2772 1068l19-3l19-39l-19-9zM2906 1067l19 28l19 43l-19-103z"/><path class="j7" d="M1979 1058l17 44l16-72l-17-36zM2012 1030l17-16l16 0l-17 24zM2028 1038l17-24l17-4l-17-8zM2045 1014l17 7l17-26l-17 15zM2164 1076l17 29l17-103l-18-6zM2214 1045l18-29l17 8l-18 40zM2266 1037l18-27l17-7l-18 20zM2478 1011l19-4l17 42l-18-30zM2886 1019l20 48l19-32l-20-9zM3180 1014l21 12l19-8l-20 17z"/><path class="j8" d="M1930 985l17 16l16 50l-17 61zM2336 1000l18 21l17 42l-17-84zM2389 1034l18-18l17-9l-18-13zM2532 1021l19 2l18 49l-19 7zM2551 1023l18 23l18-16l-18 42zM3081 1023l20-1l19 32l-20-46z"/><path class="j9" d="M1995 994l17 36l16 8l-17-28zM2062 1010l17-15l16 46l-17 31zM2249 1024l18 82l17-96l-18 27zM2442 1015l18 3l18 10l-19-36zM2478 1028l18-9l18-1l-19 52zM2514 1018l18 3l18 58l-19-44zM2514 1049l19-41l18 15l-19-2zM2624 1195l19-120l18-66l-19 48zM2697 1090l19-8l19-69l-20 68zM2716 1082l19-74l19 17l-19-12zM2735 1013l19 12l18 43l-19-50zM2735 1008l19 13l19 0l-19 4zM2829 1086l20-10l19-57l-20 18zM3022 1034l20-9l19 74l-20-76zM3160 1015l20-1l20 21l-21 18zM3161 1062l20 34l20-70l-21-12z"/><path class="j10" d="M2301 1003l17 1l18-1l-18 24zM2318 1004l18-4l18-21l-18 24zM2406 994l18 13l18 8l-18-5zM2424 1007l19 3l17 8l-18-3zM2443 1010l18 53l17-52l-18 7zM2661 1009l19 11l18 29l-19-33zM2791 1065l20-47l18 68l-19-60zM2868 1019l19 8l19 40l-20-48zM2964 1031l20-8l19 4l-20-15zM3003 1027l20 24l19-26l-20 9zM3061 1099l20-51l20-26l-20 1zM3120 1054l20-9l20-30l-20-11z"/><path class="j11" d="M1996 1102l17-80l16-8l-17 16zM2079 995l17 23l16 5l-17 18zM2232 1016l18-30l17 120l-18-82zM2284 1010l17 35l17-41l-17-1zM2660 1088l19-72l18 74l-19-75zM2963 1009l20 3l19 59l-20-53z"/><path class="j12" d="M2301 1045l18-24l17-21l-18 4zM2848 1037l20-18l18 0l-19 19z"/><path class="j13" d="M2096 1018l17-27l17 16l-18 16z"/><path class="j14" d="M2371 1008l18 26l17-40l-18 6z"/><path class="j15" d="M3041 1023l20 76l20-76l-21-9z"/><path class="j1" d="M2080 1068l17 57l16-71l-17 3zM2130 1024l17 132l17-102l-17 17z"/><path class="j2" d="M2461 1049l18 108l18-106l-18-36zM2570 1035l18 33l18 36l-18-68zM3023 1051l20 5l19 1l-20-32zM3101 1029l20 17l20 33l-20-16z"/><path class="j3" d="M2013 1022l17 28l16-33l-17-3zM2113 1054l17 12l17 90l-17-132zM2250 986l17 73l17-13l-17 60zM2443 1082l18-33l18-34l-18 48zM2588 1036l18 68l18-62l-18 65zM2680 1020l19 9l18 46l-19-26zM2773 1023l19 33l19-21l-19-6zM2869 1040l19 3l19 42l-20-59zM2965 1089l19-34l19-20l-19-12zM3062 1089l20-74l20 31l-20 53z"/><path class="j4" d="M2013 1019l17 63l16-67l-16 35zM2030 1050l16-35l17-5l-17 7zM2046 1015l17 17l17 36l-17-58zM2113 991l17 33l17 47l-17-64zM2164 1054l17-33l17 34l-17 50zM2284 1046l18-52l17 27l-18 24zM2699 1029l18 6l19-27l-19 67zM2754 1021l19 2l19 6l-19-8zM2830 1025l19 8l19-38l-19 81zM2830 1024l20 19l19-3l-20-7zM2945 1075l20-38l19 18l-19 34zM2984 1055l20-23l19 26l-20-23zM3003 1035l20 23l20-2l-20-5z"/><path class="j5" d="M1980 1002l17 12l16 8l-17 80zM2063 1010l17 58l16-11l-17 46zM2181 1105l17-50l17-80l-17 27zM2354 1021l18 29l17-13l-18 26zM2425 1062l18 20l18-19l-18-53zM2606 1104l19-65l18-16l-19 19zM2717 1075l19-67l18 13l-19-13zM2792 1029l19 6l19-10l-19-7z"/><path class="j6" d="M2147 1156l17-125l17-10l-17 33zM2215 1001l18 36l17-42l-18 30zM2479 1015l18 36l18-45l-18 1zM2515 1006l18 20l18 3l-18-21zM2533 1026l19 11l18-2l-19-6zM2606 1107l18-65l19 33l-19 120zM2717 1035l19 34l19-39l-19-22zM3082 1099l20-53l19 0l-20-17z"/><path class="j7" d="M2147 1071l17-17l17 51l-17-29zM2232 1025l18-30l17 64l-17-73zM2267 1059l18-20l17-45l-18 52zM2355 994l17 74l18-20l-18 2zM2624 1042l19-19l18 9l-18 43zM2643 1023l19 12l18 37l-19-40zM2926 1046l19 29l20 14l-20-58zM3023 1058l20-48l19 79l-19-33zM3102 1046l20 8l19-14l-20 6z"/><path class="j8" d="M2079 1103l17-46l17-66l-17 27zM2096 1057l17-3l17-30l-17-33zM2215 975l17 50l18-39l-18 30zM2533 1008l18 21l18 17l-18-23zM2569 1046l19-10l18 71l-19-77zM2643 1075l18-43l19-12l-19-11zM3141 1079l20-49l20 66l-20-34z"/><path class="j9" d="M2250 995l17 46l18-2l-18 20zM2285 1039l17-21l17 11l-17-35zM2497 1051l18-14l18-11l-18-20zM2755 1030l19-2l18 28l-19-33zM2792 1056l20-15l18-17l-19 11zM2887 1026l20 59l19-39l-20-21zM2907 1085l19-65l19 55l-19-29zM2945 1031l20 58l19-66l-20 8zM3062 1057l20 42l19-70l-20 19zM3121 1046l20-6l20-10l-20 49z"/><path class="j10" d="M1997 1014l16 5l17 31l-17-28zM2046 1017l17-7l16 93l-17-82zM2337 1027l18-33l17 56l-18-29zM2425 1001l18 35l18 13l-18 33zM2497 1007l18-1l18 2l-19 41zM2661 1032l19 40l19-43l-19-9zM2849 1033l20 7l18-14l-19-31zM2906 1025l20 21l19-15l-20 64z"/><path class="j11" d="M2181 1021l17 46l17-66l-17 54zM2390 1048l18 11l17-58l-18 20zM2407 1021l18-20l18 81l-18-20zM2680 1072l19-35l18-2l-18-6zM2984 1023l19 12l20 16l-20-24z"/><path class="j12" d="M2198 1055l17-54l17 24l-17-50zM2319 1021l18 6l17-6l-18-21zM2319 1029l18 51l18-86l-18 33zM2461 1063l18-48l18-8l-19 4zM2551 1029l19 6l18 1l-19 10z"/><path class="j13" d="M2736 1008l19 22l18-7l-19-2zM2811 1035l19-11l19 9l-19-8zM2868 995l19 31l19-1l-19 2zM3043 1056l19 33l20 10l-20-42z"/><path class="j14" d="M2372 1050l18-2l17-27l-18 16zM2389 1037l18-16l18 41l-18-46z"/><path class="j17" d="M2302 994l17 35l18-2l-18-6z"/><path class="j0" d="M2570 1086l18 16l18 32l-18-66z"/><path class="j1" d="M2588 1102l18-64l19 61l-19 35z"/><path class="j2" d="M2080 1036l17 33l17-46l-17 102zM2302 1134l18-103l17 24l-17 121zM2337 1055l18-27l17 50l-17-8zM2355 1070l17 8l18-50l-18 40zM2372 1068l18-40l18 31l-18-11zM2533 1064l19-11l18 33l-18-49zM2552 1037l18 49l18-18l-18-33zM2699 1037l19 30l18 2l-19-34zM2831 1034l19 38l19 36l-19-65zM2850 1043l19 65l19-65l-19-3z"/><path class="j3" d="M2030 1082l17 34l16-84l-17-17zM2047 1116l16-89l17 9l-17-4zM2164 1031l17-3l17 39l-17-46zM2164 1034l17 30l18-29l-18-7zM2320 1176l17-121l18 15l-18 10zM2552 1053l18-10l18 59l-18-16zM2774 1106l19-22l19-39l-19-12z"/><path class="j4" d="M2130 1090l17-80l17 24l-17-5zM2199 1035l17-10l17 67l-17-51zM2233 1092l17-25l17 11l-17-26zM2426 1020l17 163l18-164l-18 17zM2515 1043l18-12l19 22l-19 11zM2625 1099l18-50l19-18l-19 74zM2643 1105l19-74l18 42l-18-38zM2662 1031l18-6l19 30l-19 18zM2755 1042l19 64l19-73l-19-5zM2793 1033l19 12l19-11l-19 7zM2926 1039l20 8l19 4l-19-7zM3023 1119l20-62l20-11l-20-36z"/><path class="j5" d="M2097 1125l17-102l16 43l-17-12zM2302 1018l18 158l17-96l-18-51zM2390 1028l18 5l18-13l-18 39zM2479 1157l18-92l18-28l-18 14zM2869 1108l19-54l19-12l-19 1zM2946 1044l19 7l19-31l-19 17z"/><path class="j6" d="M2233 1037l17 15l17-11l-17-46zM2267 1078l18-45l17 101l-17-101zM2408 1059l18-39l17 16l-18-35zM2443 1036l18-17l18 138l-18-108zM2461 1019l18 42l18 4l-18 92zM2625 1039l18 66l19-70l-19-12zM2736 1069l19-27l19-14l-19 2zM2850 1072l19-32l19 14l-19 54zM2888 1054l19-2l19-13l-19 3zM2926 1020l20 24l19-7l-20 38zM3063 1046l19 6l20 46l-20-83z"/><path class="j7" d="M2114 1023l16 67l17-61l-17 37zM2147 1029l17 5l17-6l-17 3zM2408 1033l18 57l17 93l-17-163zM2443 1183l18-73l18-49l-18-42zM2497 1065l18-22l18 21l-18-27zM2812 1041l19-7l19 9l-20-19zM2812 1045l19 71l19-44l-19-38zM2965 1037l19-17l20 12l-20 23zM2965 1051l19-32l20 15l-20-14zM3004 1034l19 19l20 4l-20 62z"/><path class="j8" d="M2130 1066l17-37l17 2l-17 125zM2515 1037l18 27l19-27l-19-11zM2588 1068l18 66l19-95l-19 65zM2606 1134l19-35l18 6l-18-66zM2680 1073l19-18l19 12l-19-30z"/><path class="j9" d="M2267 1041l18-8l17-15l-17 21zM2662 1035l18 38l19-36l-19 35zM2699 1055l19-8l18 28l-18-8zM2774 1028l19 5l19 8l-20 15zM3004 1032l19 87l20-109l-20 48zM3043 1057l19 24l20-29l-19-6zM3082 1015l20 83l20-44l-20-8z"/><path class="j10" d="M2063 1027l17 11l17 31l-17-33zM2181 1028l18 7l17 6l-18 26zM2198 1067l18-26l17-4l-18-36z"/><path class="j11" d="M2063 1032l17 4l17 89l-17-57zM2097 1069l17-28l16 49l-16-67zM2337 1080l18-10l17-2l-17-74zM2718 1067l18 8l19-33l-19 27zM2907 1042l19-3l20 5l-20-24z"/><path class="j12" d="M2250 1052l17 26l18-45l-18 8zM2736 1075l19-28l19 59l-19-64zM3043 1010l20 36l19-31l-20 74z"/><path class="j13" d="M2984 1020l20 14l19 85l-19-87z"/><path class="j14" d="M2479 1061l18-19l18 1l-18 22zM2888 1043l19-1l19-22l-19 65z"/><path class="j15" d="M2285 1033l17 101l18 42l-18-158zM2372 1078l18-82l18 37l-18-5z"/><path class="j17" d="M2216 1041l17 51l17-40l-17-15z"/><path class="j1" d="M2426 1090l17-17l18 37l-18 73z"/><path class="j2" d="M2643 1058l18-13l19 75l-18-28zM2793 1084l18-28l20 60l-19-71zM2984 1095l19-14l20 70l-19-94z"/><path class="j3" d="M2354 1059l18 137l18-178l-18 59zM2408 1047l17 73l18-47l-17 17zM2717 1054l19 29l19 6l-19-43zM2811 1056l19 23l19-24l-18 61zM2888 1044l19 19l19 41l-19-52zM2907 1063l19 1l19-11l-19 51z"/><path class="j4" d="M2147 1010l17 71l17-17l-17-30zM2285 1033l17 13l18-15l-18 103zM2479 1052l18 70l18-5l-18-75zM2497 1042l18 75l18-86l-18 12zM2588 1099l18 24l19-102l-19 17zM2643 1049l19 43l18-67l-18 6zM2680 1120l18-17l19-49l-18 20zM2718 1047l18-1l19 1l-19 28zM2945 1053l19 3l20 39l-19-45z"/><path class="j5" d="M2080 1038l17 1l17 2l-17 28zM2114 1041l16-4l17-27l-17 80zM2164 1081l17 28l17-92l-17 47zM2181 1064l17-47l18 8l-17 10zM2215 1045l17 50l18-39l-17-5zM2302 1046l17 4l18 23l-17-42zM2355 1028l17 49l18-81l-18 82zM2390 996l18 51l18 43l-18-57zM2461 1053l18-22l18 91l-18-70zM2533 1068l18-11l19-20l-19-2zM2606 1123l18-71l19 6l-18-37zM2736 1046l19 43l19-41l-19-1zM2755 1047l19 1l19 36l-19 22zM2755 1089l18-28l19 44l-18-57zM3004 1057l19 94l20-100l-20 2z"/><path class="j6" d="M2113 1038l17 8l17 22l-17-31zM2198 1017l17 28l18 6l-17-26zM2233 1051l17 5l17-29l-17 40zM2792 1105l19-4l19-22l-19-23zM2984 1019l20 38l19-4l-19-19z"/><path class="j7" d="M2337 1073l17-14l18 18l-17-49zM2372 1077l18-59l18 29l-18-51zM2390 1018l17 43l18 59l-17-73zM2443 1073l18-20l18-1l-18 58zM2515 1117l18-49l18-33l-18-4zM2662 1092l18 28l19-46l-19-49zM2831 1116l18-61l20-15l-19 32z"/><path class="j8" d="M2181 1109l17-52l17-12l-17-28zM2284 1053l18-14l17 11l-17-4zM2425 1120l18 2l18-69l-18 20zM2461 1110l18-58l18-10l-18 19zM2774 1048l18 57l19-49l-18 28zM2830 1079l19 3l19-25l-19-2zM2965 1050l19 45l20-38l-20-38zM3023 1053l20-2l19 30l-19-24z"/><path class="j9" d="M2147 1068l17 44l17-3l-17-28zM2570 1043l18 56l18-61l-18 64zM2849 1055l19 2l20-13l-19-4zM2869 1040l19 4l19 8l-19 2z"/><path class="j10" d="M2130 1037l17 31l17 13l-17-71zM2216 1025l17 26l17 16l-17 25zM2250 1067l17-40l18 6l-18 45zM2320 1031l17 42l18-45l-18 27zM2533 1031l18 4l19 8l-18 10zM2625 1021l18 37l19 34l-19-43zM2680 1025l19 49l19-27l-19 8zM2699 1074l18-20l19-8l-18 1zM2868 1057l19-21l20 27l-19-19z"/><path class="j11" d="M2497 1122l18-85l18 31l-18 49zM2551 1035l19 2l18 62l-18-56zM2907 1052l19 52l20-57l-20-8z"/><path class="j12" d="M2097 1039l16-1l17-1l-16 4zM2319 1050l18-4l17 13l-17 14zM2570 1037l18-16l18 102l-18-24zM2926 1104l19-51l20-3l-19-3zM2946 1047l19 3l19-31l-19 32z"/><path class="j14" d="M2606 1038l19-17l18 28l-18 50z"/><path class="j15" d="M2250 1056l17-4l17 1l-17-26zM2267 1027l17 26l18-7l-17-13z"/><path class="j2" d="M2266 1058l17 44l18-45l-17 16zM2407 1061l18-13l18 74l-18-2z"/><path class="j3" d="M2147 1044l16 66l18-23l-17 25zM2163 1110l17-53l17-15l-16 45zM2198 1057l17-13l17 51l-17-50zM2887 1065l19 42l19-36l-19-4z"/><path class="j4" d="M2232 1052l17 7l17-1l-17-8zM2249 1050l17 8l18 15l-17-21zM2302 1039l17 54l18-47l-18 4zM2319 1093l17-47l18 7l-17-7zM2588 1021l18 63l18-32l-18 71zM2754 1116l19-57l19 6l-19-4zM2925 1071l19 0l20-1l-19-19z"/><path class="j5" d="M2181 1087l16-45l18 2l-17 13zM2232 1095l17-45l18 2l-17 4zM2336 1046l17 22l18-23l-17 8zM2372 1196l17-56l18-79l-17-43zM2389 1140l18-92l18 0l-18 13zM2407 1048l17 17l18-21l-17 4zM2515 1037l18 5l18 15l-18 11zM2569 1046l18 46l19-8l-18-63zM2587 1092l18-10l19-18l-18 20zM2624 1052l18 5l19-12l-18 13zM2849 1082l19-20l19-26l-19 21zM2849 1062l18 12l20-9l-19-3zM2887 1036l19 31l20-3l-19-1zM2926 1064l19-13l19 5l-19-3zM2964 1056l20 57l19-32l-19 14z"/><path class="j6" d="M2164 1112l17-25l17-30l-17 52zM2301 1057l17 7l18-18l-17 47zM2371 1045l18 93l18-90l-18 92zM2442 1044l18 7l18 12l-17-8zM2479 1031l18 67l18-61l-18 85zM2514 1066l18 2l19-4l-18-22zM2551 1057l18-11l19-25l-18 16zM2698 1103l19-53l19 33l-19-29zM2773 1059l18 22l20-32l-19 16zM2906 1067l19 4l20-20l-19 13z"/><path class="j7" d="M2130 1046l17-2l17 68l-17-44zM2197 1042l17 13l18-3l-17-8zM2354 1053l17-8l18 95l-17 56zM2606 1084l18-20l18-7l-18-5zM2661 1045l19 5l18 53l-18 17zM2735 1052l19 42l19-35l-19 57zM2773 1061l19 4l19 36l-19 4z"/><path class="j8" d="M2215 1044l17 8l17-2l-17 45zM2284 1073l17-16l18 36l-17-54zM2425 1048l17-4l19 11l-18 67zM2533 1042l18 22l18-18l-18 11zM2551 1064l17 1l19 27l-18-46zM2642 1057l19-6l19-1l-19-5zM2792 1065l19-16l19-19l-19 71z"/><path class="j9" d="M2661 1051l18 16l19 18l-18-35zM2945 1051l19 19l20 43l-20-57z"/><path class="j10" d="M2443 1122l18-67l18-24l-18 22zM2717 1050l18 2l19 64l-18-33zM2736 1083l18 33l19-55l-18 28z"/><path class="j11" d="M2478 1063l18-6l18 9l-17 32z"/><path class="j12" d="M2267 1052l17 21l18-34l-18 14zM2337 1046l17 7l18 143l-18-137zM2624 1064l18 26l19-39l-19 6zM2811 1101l19-71l19 52l-19-3zM2830 1030l19 32l19 0l-19 20zM2868 1062l19 3l19 2l-19-31z"/><path class="j13" d="M2461 1055l17 8l19 35l-18-67zM2497 1098l17-32l19-24l-18-5zM2698 1085l18-24l19-9l-18-2z"/><path class="j14" d="M2680 1050l18 35l19-35l-19 53z"/><path class="j15" d="M2811 1049l18 24l20-11l-19-32z"/><path class="j2" d="M2266 1057l16 32l18-4l-17 17zM2282 1089l17 23l18-50l-17 23zM2772 1060l18 62l20-17l-19-24z"/><path class="j3" d="M2214 1055l17 47l18-43l-17-7zM2283 1102l17-17l18-21l-17-7zM2317 1062l17 11l18-7l-17 47zM2353 1068l18-6l18 76l-18-93zM2406 1048l17 86l19-39l-18-30zM2532 1068l18-1l18-2l-17-1zM2531 1071l18 14l19-4l-18-14zM2753 1057l18 70l19-5l-18-62zM2791 1081l19 24l19-32l-18-24zM2828 1102l19 2l19-32l-18 9z"/><path class="j4" d="M2231 1102l17-50l18 5l-17 2zM2477 1063l18 15l18-7l-17-14zM2550 1067l18 14l18 38l-18-54zM2679 1067l18-4l19-2l-18 24z"/><path class="j5" d="M2352 1066l18 59l18-88l-17 25zM2371 1062l17-25l18 11l-17 90zM2460 1051l17 12l19-6l-18 6zM2568 1081l17-3l19 68l-18-27zM2715 1074l18 2l20-19l-19 12zM2754 1094l18-34l19 21l-18-22z"/><path class="j6" d="M2248 1052l17 18l17 19l-16-32zM2388 1037l17 34l18 63l-17-86zM2459 1065l17 36l19-23l-18-15zM2586 1119l18 27l19-2l-18-62zM2623 1144l18-79l19-22l-18 47zM2660 1043l18 20l19 0l-18 4zM2678 1063l18 0l19 11l-18-11zM2886 1065l19 48l19-24l-18 18z"/><path class="j7" d="M2318 1064l17 49l18-45l-17-22zM2513 1071l18 0l19-4l-18 1zM2697 1063l18 11l19-5l-18-8zM2734 1069l19-12l19 3l-18 34zM2790 1122l19 57l19-77l-18 3zM2810 1105l18-3l20-21l-19-8zM2829 1073l19 8l19-7l-18-12zM2867 1074l19-9l20 42l-19-42z"/><path class="j8" d="M2180 1057l17 2l17-4l-17-13zM2249 1059l17-2l17 45l-17-44zM2335 1113l17-47l19-4l-18 6zM2424 1065l18 30l18-44l-18-7zM2442 1095l17-30l18-2l-17-12zM2605 1082l18 62l19-54l-18-26zM2866 1072l19 12l20 29l-19-48z"/><path class="j9" d="M2197 1059l16 26l18 17l-17-47zM2300 1085l17-23l18 51l-17-49zM2423 1134l18-48l18-21l-17 30zM2604 1146l18-78l19-3l-18 79zM2906 1107l18-18l20-18l-19 0z"/><path class="j10" d="M2642 1090l18-47l19 24l-18-16z"/><path class="j11" d="M2496 1057l17 14l19-3l-18-2zM2495 1078l17-15l19 8l-18 0zM2568 1065l18 54l19-37l-18 10z"/><path class="j12" d="M2716 1061l18 8l20 25l-19-42zM2848 1081l18-9l20-7l-19 9z"/><path class="j13" d="M2213 1085l17 38l18-71l-17 50zM2389 1138l17-90l18 17l-17-17zM2641 1065l18 4l19-6l-18-20z"/><path class="j1" d="M2333 1123l17 16l18-15l-17-44zM2809 1179l18-48l20-27l-19-2z"/><path class="j2" d="M2494 1115l17 18l19-14l-18-56zM2530 1119l18-27l18-12l-17 5zM2658 1144l18-33l19-24l-18 28zM2789 1073l19 10l19 48l-18 48z"/><path class="j3" d="M2298 1082l17-1l18 42l-17-52zM2368 1124l17-1l19-65l-17 25zM2458 1115l17-42l19 42l-18-14zM2476 1101l18 14l18-52l-17 15zM2584 1072l18 66l19-14l-18-40zM2714 1074l18 44l20-31l-19-11z"/><path class="j4" d="M2404 1058l17 76l18-56l-17-11zM2441 1086l17 29l18-14l-17-36zM2752 1087l18-15l19 1l-18 54zM2808 1083l18-2l20 13l-19 37z"/><path class="j5" d="M2281 1084l17-2l18-11l-17 41zM2603 1084l18 40l19-49l-18-7zM2621 1124l17 13l20 7l-18-69zM2640 1075l18 69l19-29l-18-46zM2659 1069l18 46l19-52l-18 0zM2733 1076l19 11l19 40l-18-70z"/><path class="j6" d="M2230 1123l17-61l18 8l-17-18zM2247 1062l16 16l18 6l-16-14zM2265 1070l16 14l18 28l-17-23zM2405 1071l17-4l19 19l-18 48zM2511 1133l18-51l19 10l-18 27zM2549 1085l17-5l19-2l-17 3z"/><path class="j7" d="M2316 1071l17 52l18-43l-17-7zM2548 1092l17-3l19-17l-18 8zM2696 1063l18 11l19 2l-18-2zM2732 1118l18 4l20-50l-18 15zM2827 1131l19-37l19 3l-18 7zM2847 1104l18-7l20-13l-19-12z"/><path class="j8" d="M2334 1073l17 7l19 45l-18-59z"/><path class="j9" d="M2387 1083l17-25l18 9l-17 4zM2566 1080l18-8l19 12l-18-6zM2585 1078l18 6l19-16l-18 78zM2622 1068l18 7l19-6l-18-4zM2771 1127l18-54l20 106l-19-57z"/><path class="j10" d="M2263 1078l17 79l18-75l-17 2zM2299 1112l17-41l18 2l-17-11zM2351 1080l17 44l19-41l-17 42zM2439 1078l18-12l18 7l-17 42zM2677 1115l18-28l19-13l-18-11zM2695 1087l18 92l19-61l-18-44z"/><path class="j11" d="M2422 1067l17 11l19 37l-17-29zM2512 1063l18 56l19-34l-18-14zM2770 1072l18-5l20 16l-19-10z"/><path class="j13" d="M2475 1073l17 0l19 60l-17-18z"/><path class="j15" d="M2370 1125l17-42l18-12l-17-34z"/><path class="j1" d="M2350 1139l17 27l18-43l-17 1zM2713 1179l18-45l19-12l-18-4z"/><path class="j2" d="M2280 1157l17-23l18-53l-17 1zM2419 1088l17 47l19 2l-17-16zM2438 1121l17 16l19 50l-17-121z"/><path class="j3" d="M2421 1134l17-13l19-55l-18 12zM2455 1137l17-43l19 14l-17 79zM2510 1099l17-25l19 59l-17-51zM2565 1089l18 8l19 41l-18-66zM2674 1084l18 94l19-95l-18 37z"/><path class="j4" d="M2367 1166l17-74l18 38l-17-7zM2384 1092l17 13l18-17l-17 42zM2676 1111l17 9l20 59l-18-92zM2750 1122l18 14l20-69l-18 5z"/><path class="j5" d="M2313 1134l17 7l18-65l-16-5zM2656 1088l18-4l19 36l-17-9zM2731 1134l18-41l19 43l-18-14zM2749 1093l18 64l19-59l-18 38z"/><path class="j6" d="M2457 1066l17 121l18-114l-17 0zM2527 1074l17 14l20 35l-18 10zM2546 1133l18-10l19-26l-18-8zM2564 1123l17-5l19-35l-17 14zM2619 1119l18-25l19-6l-18 49zM2638 1137l18-49l20 23l-18 33zM2637 1094l18-2l19-8l-18 4z"/><path class="j7" d="M2332 1071l16 5l19 90l-17-27zM2492 1073l18 26l19-17l-18 51zM2491 1108l17-7l19-27l-17 25z"/><path class="j8" d="M2297 1134l16 0l19-63l-17 10zM2474 1187l17-79l19-9l-18-26zM2529 1082l17 51l19-44l-17 3zM2583 1097l17-14l19 36l-17 19zM2768 1136l18-38l20-7l-18-24zM2788 1067l18 24l20-10l-18 2z"/><path class="j9" d="M2402 1130l17-42l19 33l-17 13zM2600 1083l18 81l19-70l-18 25z"/><path class="j10" d="M2385 1123l17 7l19 4l-17-76zM2693 1120l18-37l20 51l-18 45z"/><path class="j11" d="M2315 1081l17-10l18 68l-17-16zM2602 1138l17-19l19 18l-17-13z"/><path class="j12" d="M2711 1083l18 14l20-4l-18 41z"/><path class="j17" d="M2348 1076l17-1l19 17l-17 74z"/><path class="j2" d="M2472 1094l17 138l19-131l-17 7zM2562 1166l17-61l19 21l-17-8zM2579 1105l17-7l20 73l-18-45zM2618 1164l17-28l20-44l-18 2z"/><path class="j3" d="M2330 1141l17 3l18-69l-17 1zM2436 1135l17-38l19-3l-17 43zM2434 1091l17 41l19-25l-17-10zM2655 1092l17 68l20 18l-18-94zM2653 1115l17-14l20-7l-18 66z"/><path class="j4" d="M2382 1078l17 70l19-57l-17 14zM2453 1097l17 10l19 125l-17-138zM2506 1139l17-6l20-50l-18 4zM2598 1126l18 45l19-35l-17 28z"/><path class="j5" d="M2365 1075l17 3l19 27l-17-13zM2363 1087l17 63l19-2l-17-70zM2508 1101l17-14l19 1l-17-14zM2544 1088l18 78l19-48l-17 5z"/><path class="j6" d="M2489 1232l17-93l19-52l-17 14zM2581 1118l17 8l20 38l-18-81zM2672 1160l18-66l19 24l-17 60z"/><path class="j7" d="M2401 1105l17-14l18 44l-17-47zM2635 1136l18-21l19 45l-17-68z"/><path class="j8" d="M2470 1107l17-22l19 54l-17 93zM2709 1118l18 50l20-68l-18-3z"/><path class="j9" d="M2525 1087l18-4l19 83l-18-78zM2543 1083l17 11l19 11l-17 61zM2692 1178l17-60l20-21l-18-14z"/><path class="j10" d="M2347 1144l16-57l19-9l-17-3zM2616 1171l17-35l20-21l-18 21zM2690 1094l18 37l19 37l-18-50z"/><path class="j11" d="M2418 1091l16 0l19 6l-17 38z"/><path class="j17" d="M2729 1097l18 3l20 57l-18-64z"/><path class="j20" d="M2399 1148l17-57l18 0l-16 0z"/><path class="j2" d="M2380 1150l17-39l19-20l-17 57zM2432 1096l17 68l19-39l-17 7z"/><path class="j3" d="M2487 1085l17 55l19-7l-17 6zM2633 1136l18-32l19-3l-17 14z"/><path class="j4" d="M2468 1125l17 14l19 1l-17-55zM2485 1139l17 43l19-74l-17 32zM2540 1100l18 5l19 45l-17-56zM2560 1094l17 56l19-52l-17 7z"/><path class="j5" d="M2397 1111l16-1l19-14l-16-5zM2451 1132l17-7l19-40l-17 22zM2558 1105l17 15l19-2l-17 32zM2596 1098l18 11l19 27l-17 35z"/><path class="j6" d="M2449 1164l17 8l19-33l-17-14zM2521 1108l17 1l20-4l-18-5zM2631 1094l17 23l20-32l-17 19z"/><path class="j7" d="M2504 1140l17-32l19-8l-17 33z"/><path class="j8" d="M2523 1133l17-33l20-6l-17-11zM2577 1150l17-32l20-9l-18-11z"/><path class="j9" d="M2670 1101l18-15l20 45l-18-37z"/><path class="j10" d="M2416 1091l16 5l19 36l-17-41zM2413 1110l17 2l19 52l-17-68z"/><path class="j12" d="M2614 1109l17-15l20 10l-18 32z"/><path class="j14" d="M2594 1118l17 43l20-67l-17 15z"/><path class="j16" d="M2651 1104l17-19l20 1l-18 15z"/><path class="j1" d="M2447 1121l16 38l20 25l-17-12zM2463 1159l17 4l19-3l-16 24z"/><path class="j2" d="M2499 1160l17 50l20-46l-17-27zM2555 1116l17 74l20-39l-17-31zM2572 1190l17-29l20-42l-17 32zM2592 1151l17-32l20 26l-18 16z"/><path class="j4" d="M2430 1112l17 9l19 51l-17-8zM2466 1172l17 12l19-2l-17-43zM2483 1184l16-24l20-23l-17 45z"/><path class="j6" d="M2575 1120l17 31l19 10l-17-43z"/><path class="j7" d="M2519 1137l17 27l19-48l-17-7z"/><path class="j8" d="M2502 1182l17-45l19-28l-17-1zM2538 1109l17 7l20 4l-17-15zM2536 1164l17-40l19 66l-17-74zM2611 1161l18-16l19-28l-17-23z"/><path class="j3" d="M2516 1210l17-92l20 6l-17 40zM2513 1132l17 46l20-41l-17-19z"/><path class="j4" d="M2553 1124l16 0l20 37l-17 29z"/><path class="j5" d="M2480 1163l17-42l19 89l-17-50zM2533 1118l17 19l19-13l-16 0z"/><path class="j10" d="M2497 1121l16 11l20-14l-17 92z"/><path class="j1" d="M2737 1096l23 0l-7 61zM3009 1053l31 0l-19 38zM2036 1026l31 0l-16 26zM3191 1025l29 0l-9 51zM2262 1075l24 0l-10 60zM3148 1032l34 0l-19 41zM2484 1124l38 0l-14 29zM2216 1064l22 0l-16 29zM3023 1051l38 0l-21 46zM2120 1044l28 0l-15 78zM2928 1066l36 0l-16 22zM2201 1063l40 0l-18 53zM2853 1077l35 0l-11 44zM2998 1056l21 0l-6 67zM2259 1075l37 0l-16 45zM2997 1056l22 0l-14 34zM2546 1126l25 0l-16 67z"/><path class="j2" d="M2320 1087l22 0l-15 77zM2254 1074l37 0l-21 43zM3225 1021l22 0l-9 44zM3055 1046l33 0l-17 67zM2381 1100l23 0l-5 59zM2852 1078l27 0l-12 38zM2660 1107l39 0l-20 24zM2442 1115l34 0l-18 43zM2228 1067l23 0l-17 95zM2715 1100l22 0l-7 52zM2484 1123l24 0l-19 44zM2276 1077l22 0l-5 26zM1955 1009l33 0l-12 59zM2376 1100l27 0l-12 58zM2856 1077l34 0l-14 50zM3128 1035l31 0l-12 46zM2362 1096l23 0l-12 50zM2183 1059l36 0l-18 50zM2055 1031l38 0l-23 33zM2967 1059l37 0l-19 22zM1959 1010l32 0l-14 41zM2376 1100l30 0l-9 34zM2283 1080l34 0l-14 68zM3166 1029l36 0l-21 48zM2237 1069l20 0l-5 36z"/><path class="j3" d="M2242 1072l36 0l-15 72zM2097 1039l24 0l-7 41z"/><path class="j4" d="M2317 1088l37 0l-20 63z"/></g>
<g transform="scale(.1)"><path class="j14" d="M2546 1622l19 13l19 46l-18-76zM2566 1605l18 76l20-90l-19 9z"/><path class="j15" d="M2584 1681l19-85l19 26l-18-31z"/><path class="j5" d="M2508 1705l18-6l20-96l-19 12z"/><path class="j6" d="M2603 1596l19 78l19-32l-19-20z"/><path class="j7" d="M2546 1603l18 28l20 70l-19-66z"/><path class="j9" d="M2622 1674l19-37l19 136l-19-131z"/><path class="j10" d="M2584 1701l19-64l19 37l-19-78z"/><path class="j11" d="M2641 1637l18-23l20-1l-19 160z"/><path class="j13" d="M2488 1636l19 45l19 18l-18 6z"/><path class="j14" d="M2527 1615l19-12l19 32l-19-13z"/><path class="j15" d="M2564 1631l19 12l20-6l-19 64z"/><path class="j16" d="M2526 1699l19-30l19-38l-18-28zM2565 1635l19 66l19-105l-19 85z"/><path class="j17" d="M2603 1637l18-6l20 6l-19 37z"/><path class="j4" d="M2431 1642l18 11l19 48l-18 49z"/><path class="j6" d="M2544 1637l19 8l19 4l-18 1z"/><path class="j7" d="M2469 1660l19-30l19 51l-19-45zM2621 1642l18 44l20-44l-19 0zM2697 1631l19 3l19 20l-19-3z"/><path class="j8" d="M2526 1636l18 1l20 13l-19 19z"/><path class="j10" d="M2507 1681l19-45l19 33l-19 30zM2640 1642l19 0l19 2l-19-30z"/><path class="j11" d="M2468 1701l19-55l19-10l-18-6zM2582 1649l19 4l20-11l-19 10z"/><path class="j12" d="M2621 1631l19 11l19-28l-18 23z"/><path class="j14" d="M2583 1643l19 9l19-21l-18 6zM2678 1644l19-13l19 20l-18-36z"/><path class="j15" d="M2450 1750l18-49l20-71l-19 30zM2659 1642l18-8l20-3l-19 13z"/><path class="j16" d="M2506 1636l19 2l19-1l-18-1zM2545 1669l19-19l19-7l-19-12zM2602 1652l19-10l19 0l-19-11z"/><path class="j18" d="M2488 1630l18 6l20 0l-19 45zM2564 1650l18-1l20 3l-19-9z"/><path class="j23" d="M2659 1614l19 30l20-29l-19-2z"/><path class="j4" d="M2411 1748l19-84l19-11l-18-11z"/><path class="j6" d="M2430 1664l18 9l20-27l-19 7zM2449 1653l19-7l19 0l-19 55zM2544 1720l18-81l20 20l-19-14zM2563 1645l19 14l19-6l-19-4z"/><path class="j8" d="M2638 1654l19 5l20 4l-19-42z"/><path class="j9" d="M2506 1715l18-61l20 66l-19-82zM2525 1638l19 82l19-75l-19-8zM2696 1704l19-31l19 3l-18-42zM2716 1634l18 42l20-35l-19 13z"/><path class="j10" d="M2411 1665l18 11l19-3l-18-9zM2601 1653l19-12l19 45l-18-44zM2753 1699l19-3l19-39l-19 18z"/><path class="j11" d="M2639 1686l19-65l19 13l-18 8z"/><path class="j12" d="M2373 1756l18-99l20 8l-19-1zM2524 1654l19 54l19-69l-18 81zM2562 1639l19-20l19 49l-18-9z"/><path class="j13" d="M2468 1646l18 1l20 68l-19-69zM2677 1634l19 70l20-70l-19-3zM2677 1663l18-30l20 40l-19 31z"/><path class="j14" d="M2487 1646l19 69l19-77l-19-2zM2734 1676l19 23l19-24l-18-34z"/><path class="j16" d="M2486 1647l19 2l19 5l-18 61zM2582 1659l18 9l20-27l-19 12z"/><path class="j17" d="M2600 1668l19-9l19-5l-18-13z"/><path class="j18" d="M2392 1664l19 1l19-1l-19 84z"/><path class="j19" d="M2620 1641l18 13l20-33l-19 65zM2715 1673l19-23l19 49l-19-23z"/><path class="j20" d="M2658 1621l19 42l19 41l-19-70z"/><path class="j21" d="M2448 1673l19 11l19-37l-18-1z"/><path class="j4" d="M2390 1674l19 66l19-18l-18-44zM2428 1722l19-52l19 1l-18 132z"/><path class="j5" d="M2600 1706l18-35l20 34l-19-46z"/><path class="j6" d="M2353 1651l19 17l19-11l-18 99zM2391 1657l19 21l19-2l-18-11z"/><path class="j7" d="M2315 1677l18 8l20-31l-19 29zM2505 1649l19 6l19 53l-19-54zM2542 1667l19 16l19 35l-18-57zM2619 1659l19 46l19-46l-19-5zM2618 1671l19 40l19 0l-18-6zM2714 1640l19 88l19-55l-18-23zM2734 1650l18 23l20 23l-19 3z"/><path class="j8" d="M2657 1659l19 26l19-52l-18 30z"/><path class="j9" d="M2429 1676l19 127l19-119l-19-11zM2695 1641l18 39l20 48l-19-88z"/><path class="j10" d="M2467 1684l19-15l19-20l-19-2zM2581 1619l19 87l19-47l-19 9z"/><path class="j11" d="M2543 1708l19-47l19-42l-19 20zM2656 1711l19 25l20-95l-19 44z"/><path class="j12" d="M2410 1678l18 44l20 81l-19-127zM2580 1718l19-48l19 1l-18 35z"/><path class="j13" d="M2448 1803l18-132l20-2l-19 15zM2524 1655l18 12l20-6l-19 47zM2695 1633l19 7l20 10l-19 23z"/><path class="j14" d="M2334 1683l19-29l19 14l-19-17zM2466 1671l19-17l19 49l-18-34zM2504 1703l19-20l19-16l-18-12zM2638 1705l18 6l20-26l-19-26z"/><path class="j15" d="M2372 1668l18 6l20 4l-19-21zM2733 1728l18-10l20-69l-19 24z"/><path class="j16" d="M2790 1653l19-3l20-13l-19 135zM2809 1650l19 36l20-14l-19-35z"/><path class="j17" d="M2771 1649l19 27l19-26l-19 3z"/><path class="j18" d="M2353 1654l18 15l19 5l-18-6zM2486 1669l18 34l20-48l-19-6z"/><path class="j20" d="M2772 1696l18-43l20 119l-19-115z"/><path class="j21" d="M2676 1685l19-44l19-1l-19-7z"/><path class="j22" d="M2562 1661l18 57l20-12l-19-87z"/><path class="j23" d="M2752 1673l19-24l19 4l-18 43z"/><path class="j3" d="M2408 1737l19 28l19 2l-19-97z"/><path class="j4" d="M2446 1767l18-69l20 3l-19-14zM2751 1690l18 41l20-37l-19 8z"/><path class="j5" d="M2503 1696l19-19l19 65l-18-59zM2561 1683l18-5l20-8l-19 48zM2732 1677l19 13l19 12l-19 16zM2828 1686l19 108l19-74l-18-48z"/><path class="j6" d="M2598 1682l19 16l19 32l-19-11zM2617 1719l19 11l20 77l-19-96z"/><path class="j7" d="M2427 1670l19 97l19-80l-18-17z"/><path class="j8" d="M2276 1748l19-72l19 33l-19 11zM2409 1740l18-70l20 0l-19 52zM2447 1670l18 17l20-33l-19 17z"/><path class="j9" d="M2485 1654l18 42l20-13l-19 20zM2560 1693l18 19l20-30l-19-4zM2637 1711l19 96l19-71l-19-25zM2790 1676l18 3l20 7l-19-36z"/><path class="j10" d="M2295 1720l19-11l19-24l-18-8zM2371 1669l19 13l19 58l-19-66zM2390 1682l18 55l19-67l-18 70zM2675 1736l19-28l19-28l-18-39zM2674 1689l19-15l19 2l-18 32zM2713 1680l19-3l19 41l-18 10zM2789 1694l18-12l20-12l-19 9z"/><path class="j11" d="M2314 1709l18-15l20-5l-19-4zM2751 1718l19-16l20-26l-19-27z"/><path class="j12" d="M2257 1794l18-29l20-89l-19 72zM2333 1685l19 4l19-20l-18-15zM2465 1687l19 14l19-5l-18-42zM2865 1685l19 4l20-1l-19-22z"/><path class="j13" d="M2484 1701l18-6l20-18l-19 19zM2523 1683l18 59l20-59l-19-16zM2636 1730l19 38l19-79l-18 118z"/><path class="j14" d="M2332 1694l19 56l19-66l-18 5zM2656 1807l18-118l20 19l-19 28z"/><path class="j15" d="M2599 1670l18 49l20-8l-19-40zM2770 1702l19-8l19-15l-18-3zM2808 1679l19-9l20 124l-19-108z"/><path class="j16" d="M2352 1689l18-5l20-2l-19-13zM2370 1684l19 37l19 16l-18-55zM2522 1677l18 53l20-37l-19 49z"/><path class="j17" d="M2295 1676l18-13l19 31l-18 15zM2712 1676l19 68l20-54l-19-13z"/><path class="j18" d="M2541 1742l19-49l19-15l-18 5zM2694 1708l18-32l20 1l-19 3z"/><path class="j20" d="M2579 1678l19 4l19 37l-18-49zM2847 1794l18-109l20-19l-19 54z"/><path class="j21" d="M2827 1670l19 18l19-3l-18 109z"/><path class="j3" d="M2238 1718l18-23l19 70l-18 29z"/><path class="j5" d="M2369 1705l19 20l19-27l-18 23zM2711 1697l19 3l20-12l-19 56zM2845 1753l19-21l19-28l-19-13zM2922 1695l18 6l20-3l-19 32z"/><path class="j6" d="M2427 1765l18-64l19-3l-18 69zM2464 1698l19 0l19-3l-18 6zM2501 1715l19 82l19-102l-18-16zM2521 1679l18 16l20 12l-19 23zM2864 1691l19 13l20 139l-19-154z"/><path class="j7" d="M2351 1750l18-45l20 16l-19-37zM2483 1698l18 17l20-36l-19 16zM2540 1730l19-23l19 5l-18-19zM2768 1695l19 72l20-97l-19 17z"/><path class="j8" d="M2199 1744l18-10l20-23l-19-20zM2218 1691l19 20l19-16l-18 23zM2274 1711l19 10l19-13l-18 31z"/><path class="j9" d="M2237 1711l18 62l19-62l-18-16zM2445 1701l19-20l19 17l-19 0z"/><path class="j10" d="M2426 1707l18-1l20-25l-19 20zM2597 1697l19 43l19-46l-18 4zM2616 1740l18-40l20-7l-19 1z"/><path class="j11" d="M2275 1765l19-26l19-76l-18 13zM2407 1698l19 9l19-6l-18 64zM2693 1674l18 23l20 47l-19-68zM2846 1688l18 3l20-2l-19-4z"/><path class="j12" d="M2388 1725l18-23l20 5l-19-9zM2655 1768l18-65l20-29l-19 15zM2673 1703l19 15l19-21l-18-23zM2750 1688l18 7l20-8l-19 44zM2884 1689l19 154l19-124l-18-31z"/><path class="j13" d="M2502 1695l19-16l19 51l-18-53zM2578 1712l19-15l20 1l-19-16z"/><path class="j14" d="M2256 1695l18 16l20 28l-19 26zM2350 1684l18 133l20-92l-19-20zM2617 1698l18-4l20 74l-19-38zM2692 1718l18 33l20-51l-19-3zM2731 1744l19-56l19 43l-18-41zM2730 1700l19-23l19 18l-18-7zM2769 1731l19-44l19-5l-18 12zM2883 1704l19 81l20-90l-19 148z"/><path class="j15" d="M2464 1681l18 90l19-56l-18-17zM2539 1695l19 14l20 12l-19-14zM2559 1707l19 14l19-24l-19 15zM2807 1682l19 70l20-64l-19-18zM2903 1843l19-148l19 35l-19-11z"/><path class="j16" d="M2635 1694l19-1l19 10l-18 65zM2654 1693l18 1l20 24l-19-15zM2807 1670l18 15l20 68l-19-1z"/><path class="j17" d="M2312 1708l18 27l20-51l-19 3z"/><path class="j18" d="M2294 1739l18-31l19-21l-18-24zM2389 1721l18-23l20 67l-19-28zM2578 1721l18-66l20 85l-19-43zM2826 1752l19 1l19-62l-18-3z"/><path class="j19" d="M2313 1663l18 24l20 63l-19-56zM2331 1687l19-3l19 21l-18 45z"/><path class="j21" d="M2788 1687l19-17l19 82l-19-70z"/><path class="j4" d="M2463 1706l18 22l20 7l-19 36zM2520 1797l19-56l19-32l-19-14zM2539 1741l18 56l20-100l-19 12zM2767 1700l19 40l20-8l-19 35z"/><path class="j5" d="M2349 1701l18 22l20-21l-19 115zM2368 1817l19-115l19 0l-18 23zM2519 1799l19-116l19 114l-18-56zM2824 1704l19 15l20-8l-19 42z"/><path class="j6" d="M2330 1735l19-34l19 116l-18-133zM2444 1706l19 0l19 65l-18-90zM2595 1733l19-25l19 2l-18 33zM2710 1751l19-39l20-35l-19 23zM2825 1685l19 68l20-21l-19 21zM2902 1785l19-94l19 10l-18-6z"/><path class="j7" d="M2179 1719l18 82l19-5l-18-29zM2406 1702l19 9l19-5l-18 1zM2425 1711l18 43l20-48l-19 0zM2864 1732l18-22l20 75l-19-81zM2939 1720l19-2l20-15l-19 15z"/><path class="j8" d="M2311 1862l19-61l19-100l-19 34zM2596 1655l19 88l19-43l-18 40zM2615 1743l18-33l20 12l-19-22zM2729 1712l19-1l19-11l-18-23z"/><path class="j9" d="M2217 1734l19-21l19 60l-18-62zM2293 1721l18 141l19-127l-18-27zM2557 1797l19-72l19 8l-18-36zM2671 1856l19-26l19-87l-18-50z"/><path class="j10" d="M2180 1683l18 84l19-33l-18 10zM2273 1694l19 27l19 141l-18-141zM2672 1694l19-1l19 58l-18-33zM2691 1693l18 50l20-31l-19 39zM2863 1711l18 5l20 25l-19-31z"/><path class="j11" d="M2198 1767l18 29l20-83l-19 21zM2236 1713l18-5l19-14l-18 79z"/><path class="j12" d="M2558 1709l19-12l19-42l-18 66zM2901 1741l19-12l19-9l-18-29z"/><path class="j13" d="M2160 1793l19-74l19 48l-18-84zM2405 1766l19-2l19-10l-18-43zM2443 1754l19-39l19 13l-18-22zM2482 1771l19-36l19 62l-19-82zM2501 1735l18 64l20-58l-19 56zM2709 1743l19-21l20-11l-19 1zM2787 1767l19-35l19-47l-18-15zM2882 1710l19 31l20-50l-19 94zM2959 1718l19-15l20 35l-19-41z"/><path class="j14" d="M2978 1703l19 4l19 11l-18 20z"/><path class="j15" d="M2292 1721l18-17l20 97l-19 61zM2749 1677l18 23l20 67l-19-72z"/><path class="j16" d="M2367 1723l19-11l19 54l-18-64zM2786 1740l19 3l19-39l-18 28zM2806 1732l18-28l20 49l-19-68z"/><path class="j17" d="M2387 1702l18 64l20-55l-19-9zM2653 1722l18 134l20-163l-19 1zM2921 1691l18 29l20-2l-19-17z"/><path class="j18" d="M2141 1719l18 25l20-25l-19 74zM2481 1728l19-30l19 101l-18-64zM2748 1711l18-12l20 41l-19-40z"/><path class="j19" d="M2254 1708l18-8l20 21l-19-27zM2634 1700l19 22l19-28l-18-1zM2633 1710l19-5l19 151l-18-134z"/><path class="j20" d="M2255 1773l18-79l20 27l-19-10zM2577 1697l18 36l20 10l-19-88zM2844 1753l19-42l19-1l-18 22z"/><path class="j21" d="M2216 1796l19-76l19-12l-18 5zM2330 1801l18-86l19 8l-18-22z"/><path class="j22" d="M2940 1701l19 17l20-21l-19 1z"/><path class="j3" d="M2404 1780l19 10l19-76l-18 50zM2900 1765l19 11l19-23l-18-24z"/><path class="j4" d="M2498 1774l19-8l19-39l-18-6zM2670 1727l19 127l19-150l-18 126zM2785 1775l19 14l19-82l-18 36z"/><path class="j5" d="M2575 1716l18 84l20-48l-19-31zM2651 1718l18 13l20 123l-19-127zM2862 1708l18 32l20 25l-19-49zM2920 1729l18 24l20-35l-19 2z"/><path class="j6" d="M2309 1749l18-17l20-19l-19 64zM2347 1713l18 101l20-99l-19 58zM2823 1707l19 96l20-95l-19 11zM2881 1716l19 49l20-36l-19 12zM2880 1740l19-43l20 79l-19-11z"/><path class="j7" d="M2328 1777l19-64l19 60l-18-58zM2536 1727l19 1l20-12l-19 24zM2690 1830l18-126l20 18l-19 21zM2843 1719l19-11l19 8l-18-5zM2958 1718l19 12l20-23l-19-4zM3015 1724l19-23l20 1l-19 76z"/><path class="j8" d="M2083 1738l18 13l20-42l-19 4zM2235 1720l18 18l19-38l-18 8zM2424 1764l18-50l20 1l-19 39z"/><path class="j9" d="M2386 1712l18 68l20-16l-19 2zM2442 1714l19 7l19 23l-18-29zM2556 1740l19-24l19 5l-18 4zM2652 1705l18 22l20 103l-19 26zM2689 1854l18-129l20-30l-19 9zM2766 1699l19 76l20-32l-19-3zM2957 1757l19-36l19-3l-18 12zM2997 1707l18 17l20 54l-19-60z"/><path class="j10" d="M2102 1713l19-4l19 51l-18-33zM2159 1744l19-28l19 85l-18-82zM2272 1700l19 22l19-18l-18 17zM2271 1735l19 39l19-25l-18-27zM2480 1744l18 30l20-53l-18-23zM2708 1704l19-9l20 27l-19 0zM2842 1803l18-76l20 13l-18-32zM2919 1776l18-18l20-1l-19-4zM2977 1730l18-12l20 6l-18-17z"/><path class="j11" d="M2140 1760l18 9l20-53l-19 28zM2178 1716l18-32l19 48l-18 69zM2197 1801l18-69l20-12l-19 76zM2805 1743l18-36l20 12l-19-15zM2938 1753l19 4l20-27l-19-12zM3034 1701l19 138l19-123l-18-14z"/><path class="j12" d="M2122 1727l18 33l19-16l-18-25zM2348 1715l18 58l20-61l-19 11zM2461 1721l18 10l19 43l-18-30zM2518 1721l18 6l20 13l-18-57zM2804 1789l18-41l20 55l-19-96z"/><path class="j13" d="M2158 1769l19-59l19-26l-18 32zM2253 1738l18-3l20-13l-19-22zM2462 1715l18 29l20-46l-19 30zM2614 1708l18 27l20-30l-19 5zM2727 1695l19 87l19-88l-18 28z"/><path class="j14" d="M2215 1732l19-8l19 14l-18-18zM2234 1724l18 20l19-9l-18 3zM2594 1721l19 31l19-17l-18-27z"/><path class="j15" d="M2310 1704l18 73l20-62l-18 86z"/><path class="j16" d="M2995 1718l19 11l20-28l-19 23z"/><path class="j17" d="M2121 1709l18 20l19 40l-18-9zM2385 1715l18-3l20 78l-19-10zM2765 1694l19 39l20 56l-19-14z"/><path class="j18" d="M2291 1722l18 27l19 28l-18-73zM2632 1735l19-17l19 9l-18-22z"/><path class="j19" d="M2366 1773l19-58l19 65l-18-68zM2423 1790l18 72l20-141l-19-7zM2538 1683l18 57l20-15l-19 72z"/><path class="j20" d="M2196 1684l18 41l20-1l-19 8zM2576 1725l18-4l20-13l-19 25zM2747 1722l18-28l20 81l-19-76z"/><path class="j22" d="M2613 1752l18-32l20-2l-19 17zM2728 1722l19 0l19-23l-18 12z"/><path class="j23" d="M2500 1698l18 23l20-38l-19 116z"/><path class="j3" d="M2044 1828l19-45l19-36l-18-5zM2630 1780l19-25l19 38l-18-6zM2669 1731l19 88l19-94l-18 129zM2668 1793l19-43l19-1l-18 70z"/><path class="j4" d="M2289 1738l18 16l19 68l-18-31zM2918 1746l18 19l20-28l-19 21zM2936 1765l19 22l20-22l-19-28z"/><path class="j5" d="M2516 1764l18-26l20 77l-19-83zM2822 1748l19 86l19-107l-18 76z"/><path class="j6" d="M2327 1732l19-4l19 86l-18-101zM2346 1728l18 5l20 45l-19 36zM2365 1814l19-36l19-66l-18 3zM2403 1712l19 138l19 12l-18-72zM2440 1778l18 40l20-84l-19 16zM2517 1766l18-34l20-4l-19-1zM2573 1752l19-10l20 83l-19-25zM2745 1736l18 62l20-66l-19-4zM3033 1727l19 18l19 67l-18 27z"/><path class="j7" d="M2364 1733l19 31l19 52l-18-38zM2402 1816l18-16l20-22l-18 72zM2441 1862l18-112l20-19l-18-10zM2726 1727l19 9l19-8l-18 54zM2802 1788l19-59l20 105l-19-86zM2956 1737l19 28l19-25l-18-19zM3014 1729l19-2l20 112l-19-138z"/><path class="j8" d="M2025 1754l18 44l20-15l-19 45zM2120 1799l18-38l19-13l-18-19zM2479 1731l18-19l20 54l-19 8zM2784 1733l18 55l20-40l-18 41zM3052 1745l18-38l20 25l-19 80z"/><path class="j9" d="M2688 1819l18-70l20-22l-19-2z"/><path class="j10" d="M2841 1834l18-102l20-22l-19 17z"/><path class="j11" d="M2214 1725l19 15l19 4l-18-20zM2252 1744l18-17l20 47l-19-39zM2326 1822l19-80l19-9l-18-5zM2422 1850l18-72l19-28l-18 112zM2535 1732l19 83l19-63l-18-24zM2592 1742l18 36l20 2l-18 45zM2707 1725l19 2l20 55l-19-87zM2783 1732l18 16l20-19l-19 59zM2860 1727l19-17l20-13l-19 43zM2859 1732l19 37l20 12l-19-71zM3013 1707l19 38l20 0l-19-18z"/><path class="j12" d="M2101 1751l19 48l19-70l-18-20zM2593 1800l19 25l19-105l-18 32zM2612 1825l18-45l20 7l-19-67zM2650 1787l18 6l20 26l-19-88zM2899 1697l19 49l19 12l-18 18zM3053 1839l18-27l20 38l-19-134z"/><path class="j13" d="M2251 1777l18-17l20-22l-19-11zM2270 1727l19 11l19 53l-18-17zM2478 1734l18 108l20-78l-19-52zM2554 1815l18-67l20-6l-19 10zM2898 1781l18 21l20-37l-18-19zM2975 1765l18-20l20-38l-19 33zM3090 1732l19 22l20-11l-19-21z"/><path class="j14" d="M2175 1779l19-39l19-8l-18 47zM2459 1750l19-16l19-22l-18 19zM2976 1721l18 19l20-11l-19-11z"/><path class="j15" d="M2063 1783l18-36l19-29l-18 29zM2138 1761l18-8l19 26l-18-31zM2631 1720l19 67l19-56l-18-13zM2746 1782l18-54l20 5l-19-39z"/><path class="j16" d="M2064 1742l18 5l19 4l-18-13zM2157 1748l18 31l20 0l-18-69zM2177 1710l18 69l19-54l-18-41zM2497 1712l19 52l19-32l-18 34zM2706 1749l19 6l20-19l-19-9zM2764 1728l19 4l19 56l-18-55zM3071 1812l19-80l20-10l-19 128z"/><path class="j17" d="M2100 1718l18 15l20 28l-18 38zM2213 1732l18 11l20 34l-18-37zM2233 1740l18 37l19-50l-18 17zM2290 1774l18 17l19-59l-18 17zM2937 1758l19-21l20-16l-19 36z"/><path class="j18" d="M2139 1729l18 19l20-38l-19 59zM2384 1778l18 38l20 34l-19-138z"/><path class="j19" d="M2195 1779l18-47l20 8l-19-15zM2308 1791l18 31l20-94l-19 4zM2821 1729l19-6l19 9l-18 102zM2994 1740l19-33l20 20l-19 2z"/><path class="j21" d="M2082 1747l18-29l20 81l-19-48zM2555 1728l18 24l20 48l-18-84z"/><path class="j22" d="M2879 1710l19 71l20-35l-19-49z"/><path class="j3" d="M2024 1762l18 53l20-48l-19 31zM2155 1810l18 25l20-20l-19-21zM2383 1764l18-9l19 45l-18 16zM2458 1818l19-44l19 68l-18-108z"/><path class="j4" d="M2230 1814l19-44l19 40l-18-45zM2250 1765l18 45l19-54l-18 4zM2307 1754l18 6l20-18l-19 80zM2705 1749l19-3l19 140l-18-131zM2858 1805l19-54l20 39l-19-21zM2916 1802l19-55l20 40l-19-22z"/><path class="j5" d="M2156 1753l18 41l20-54l-19 39zM2212 1744l18 70l20-49l-19-22zM2800 1754l19 28l20-44l-19 128zM3128 1752l18-15l20 40l-18 71z"/><path class="j6" d="M1967 1849l18-87l20 41l-18-37zM2099 1907l18-139l20 0l-19-35zM2439 1743l18 2l20 29l-19 44zM2649 1755l18 21l20-26l-19 43zM2840 1723l18 82l20-36l-19-37zM3109 1754l19-2l20 96l-19-105zM3108 1773l18-19l20-17l-18 15z"/><path class="j7" d="M2043 1798l19-31l19-20l-18 36zM2268 1810l18-47l20-7l-19 0zM2877 1751l18 11l20-12l-18 40zM3012 1831l19-95l19 12l-18-3z"/><path class="j8" d="M2325 1760l19 1l19 67l-18-86zM2363 1828l18-3l20-70l-18 9zM2629 1740l18 28l20 8l-18-21zM2878 1769l19 21l19 12l-18-21z"/><path class="j9" d="M2062 1767l18-6l19 146l-18-160zM2080 1761l18 5l19 2l-18 139zM2534 1738l19-8l19 18l-18 67zM2610 1778l19-38l20 15l-19 25zM2609 1748l19 7l19 13l-18-28zM2687 1750l18-1l20 6l-19-6zM2820 1866l19-128l19 67l-18-82zM2897 1790l18-40l20-3l-19 55zM2955 1787l18-7l20-35l-18 20zM2992 1775l19 54l20-93l-19 95z"/><path class="j10" d="M1987 1766l18 37l19-41l-18 28zM2042 1815l18 1l20-55l-18 6zM2137 1768l18 42l19-16l-18-41zM2193 1815l18 8l19-9l-18-70zM2420 1800l19-57l19 75l-18-40zM2496 1842l19-43l19-61l-18 26zM2571 1753l19 9l19-14l-18-3zM2667 1776l19-18l19-9l-18 1zM2724 1746l18 25l20 27l-19 88zM2839 1738l18-3l20 16l-19 54zM2973 1780l19-5l20 56l-19-86zM3070 1707l19 30l20 17l-19-22z"/><path class="j11" d="M2118 1733l19 35l19-15l-18 8zM2194 1740l18 4l19-1l-18-11zM2457 1745l19 16l19 21l-18-8zM2993 1745l19 86l20-86l-19-38z"/><path class="j12" d="M2117 1768l18 20l20 22l-18-42zM2762 1798l18-39l20-5l-18 47zM2935 1747l19 20l19 13l-18 7z"/><path class="j13" d="M2231 1743l19 22l19-5l-18 17zM2287 1756l19 0l19 4l-18-6zM2401 1755l18-1l20-11l-19 57zM2419 1754l19 24l19-33l-18-2zM2495 1782l19-23l19-7l-18 47zM2801 1748l19 118l20-143l-19 6zM2915 1750l19 118l20-101l-19-20zM3031 1736l18 82l20-92l-19 22z"/><path class="j14" d="M2174 1794l19 21l19-71l-18-4zM2269 1760l18-4l20-2l-18-16zM2306 1756l18 8l20-3l-19-1zM2344 1761l18 36l19 28l-18 3zM2381 1825l19-12l19-59l-18 1zM2477 1774l18 8l20 17l-19 43zM2591 1745l18 3l20-8l-19 38zM3050 1748l19-22l20 11l-19-30z"/><path class="j15" d="M2005 1803l18 62l19-50l-18-53zM2533 1752l19 14l19-13l-18-23zM2725 1755l18 131l20-88l-18-62zM2763 1798l19 3l19-53l-18-16zM3146 1737l19-15l20 60l-19-5z"/><path class="j16" d="M2553 1730l18 23l20-8l-19 3zM2743 1886l19-88l20 3l-19-3zM3032 1745l18 3l20-41l-18 38z"/><path class="j17" d="M2954 1767l18-6l20 14l-19 5z"/><path class="j18" d="M2782 1801l18-47l20 112l-19-118zM3069 1726l19 32l20 15l-19-36zM3089 1737l19 36l20-21l-19 2z"/><path class="j19" d="M2572 1748l19-3l19 33l-18-36zM2647 1768l19-4l20-6l-19 18z"/><path class="j20" d="M2006 1790l18-28l19 36l-18-44zM2345 1742l18 86l20-64l-19-31zM2686 1758l18-8l20-4l-19 3z"/><path class="j21" d="M2081 1747l18 160l19-174l-18-15z"/><path class="j22" d="M2515 1799l18-47l20-22l-19 8z"/><path class="j3" d="M2023 1865l18-89l19 40l-18-1zM2041 1776l18 43l20-34l-19 31zM2059 1819l18 28l20-71l-18 9zM2532 1808l18 24l20-36l-18-30zM3184 1813l19-50l19 66l-18-67z"/><path class="j4" d="M2003 1859l19-110l19 27l-18 89zM2211 1823l18-57l20 4l-19 44zM3125 1757l19 82l20-20l-19-55z"/><path class="j5" d="M1984 1795l18 4l20-50l-19 110zM2079 1785l18-9l19 11l-18-21zM2285 1781l18 0l20-28l-18 54zM2380 1758l19 17l19-6l-18 44zM2570 1796l18-25l20 22l-18-31zM2608 1793l18-9l20 30l-18-59zM2818 1765l18 74l20-71l-19 5zM3049 1818l19 15l20-75l-19-32zM3107 1803l18-46l20 7l-19-10z"/><path class="j6" d="M1966 1768l18 27l19 64l-18-97zM2247 1771l19 21l19-11l-18-32zM2267 1749l18 32l20 26l-19-44zM2323 1753l18 25l20 66l-19-87zM2741 1811l19 49l19-55l-18-21zM2894 1855l19-54l20-69l-19 14z"/><path class="j7" d="M2098 1766l18 21l19 1l-18-20zM2135 1788l19-20l19 67l-18-25zM2229 1766l18 5l20-22l-18 21zM2305 1807l18-54l19 4l-18 7zM2400 1813l18-44l20 9l-19-24zM2474 1761l19 20l19-34l-18 31zM2494 1778l18-31l20 61l-18-49zM2588 1771l19 67l19-54l-18 9zM2972 1761l19 24l20 44l-19-54zM3010 1806l18-39l20-12l-19 81z"/><path class="j8" d="M1909 1793l18 34l20-33l-18-39zM1985 1762l18 97l20 6l-18-62zM2191 1759l19 35l19-28l-18 57zM2286 1763l19 44l19-43l-18-8zM2342 1757l19 87l19-86l-18 39zM2456 1764l18-3l20 17l-18-17zM2512 1747l19 28l19 57l-18-24zM2552 1766l18 30l20-34l-19-9zM2665 1820l18-56l20 56l-19-68zM2684 1752l19 68l20-68l-19-2zM2742 1771l19 13l19-25l-18 39zM2991 1785l19 21l19 30l-18-7zM3048 1755l19 21l20 56l-19 1zM3087 1832l18-60l20-15l-18 46z"/><path class="j9" d="M1947 1794l18 34l19-33l-18-27zM2116 1787l18-7l20-12l-19 20zM2361 1844l18-16l20-53l-19-17zM2761 1784l18 21l20-49l-19 3zM2779 1805l19-49l20 9l-19-9zM2933 1732l18 32l20-14l-19 84zM2952 1834l19-84l20 35l-19-24zM3068 1833l19-1l20-29l-19-45zM3145 1764l19 55l20-6l-19-91z"/><path class="j10" d="M2060 1816l19-31l19-19l-18-5zM2172 1776l18-12l20 30l-19-35zM2550 1832l19-65l19 4l-18 25zM2590 1762l18 31l20-38l-19-7zM2837 1773l19-5l20-21l-19-12zM2856 1768l18 27l20 60l-18-108z"/><path class="j11" d="M2173 1835l18-76l20 64l-18-8zM2324 1764l18-7l20 40l-18-36zM2436 1777l19 35l19-51l-18 3zM2704 1750l19 2l19 19l-18-25zM2780 1759l19-3l20 26l-19-28zM2934 1868l18-34l20-73l-18 6zM2971 1750l19 219l20-163l-19-21zM3088 1758l19 45l19-49l-18 19z"/><path class="j12" d="M1929 1755l18 39l19-26l-18-3zM2134 1780l18-38l20 34l-18-8zM2154 1768l18 8l19-17l-18 76zM2418 1769l18 8l20-13l-18 14zM2438 1778l18-14l20-3l-19-16zM2723 1752l18 59l20-27l-19-13zM2819 1782l18-9l20-38l-18 3zM2857 1735l19 12l19 15l-18-11zM2914 1746l19-14l19 102l-18 34zM3029 1836l19-81l20 78l-19-15z"/><path class="j13" d="M2097 1776l18 10l19-6l-18 7zM2210 1794l18-15l19-8l-18-5zM2646 1814l19 6l19-68l-18 12zM2799 1756l19 9l19 8l-18 9zM3164 1819l19-48l20-8l-19 50zM3203 1763l18 22l20-16l-19 60z"/><path class="j14" d="M2476 1761l18 17l20-19l-19 23z"/><path class="j15" d="M1948 1765l18 3l19-6l-18 87zM2249 1770l18-21l19 14l-18 47zM2362 1797l18-39l20 55l-19 12zM3126 1754l19 10l20-42l-19 15z"/><path class="j16" d="M2022 1749l18 25l19 45l-18-43zM2399 1775l18 45l19-43l-18-8zM2628 1755l18 59l20-50l-19 4zM2666 1764l18-12l20-2l-18 8z"/><path class="j17" d="M2626 1784l19-27l20 63l-19-6zM2703 1820l18-49l20 40l-18-59zM2895 1762l19-16l20 122l-19-118zM3011 1829l18 7l20-18l-18-82z"/><path class="j18" d="M2876 1747l18 108l20-109l-19 16zM3165 1722l19 91l20-51l-19 20z"/><path class="j19" d="M2514 1759l18 49l20-42l-19-14z"/><path class="j2" d="M2587 1867l19-58l19-10l-18 39zM2874 1795l19 24l20-18l-19 54z"/><path class="j3" d="M2114 1805l18 41l19-34l-18 19zM2227 1899l18-119l19 37l-18 41zM2302 1838l18-26l20-21l-18 37zM2341 1778l18 63l20-13l-18 16zM2417 1820l18-23l20 15l-19-35zM2740 1778l18 27l20 3l-18 52zM3067 1776l18 37l20-41l-18 60zM3144 1839l19 27l20-95l-19 48z"/><path class="j4" d="M1908 1841l18-28l19-36l-18 50zM1927 1827l18-50l20 51l-18-34zM2095 1794l19 11l19 26l-18-45zM2151 1812l18 47l20-51l-18-34zM2266 1792l18 3l19-14l-18 0zM2359 1841l19-20l19 18l-18-11zM2760 1860l18-52l20-52l-19 49zM2836 1839l19-77l19 33l-18-27z"/><path class="j5" d="M2625 1799l19 47l19-72l-18-17zM2835 1773l18 43l20 89l-18-143zM3047 1747l18 92l20-26l-18-37z"/><path class="j6" d="M2322 1828l18-37l19 50l-18-63zM2549 1765l18 5l20 97l-18-100zM2567 1770l19 21l20 18l-19 58zM2683 1764l19 72l19-65l-18 49zM2702 1836l18 45l20-103l-19-7zM2816 1773l19 0l20-11l-19 77z"/><path class="j7" d="M1890 1821l18 20l19-14l-18-34zM2133 1831l18-19l20-38l-19-32zM2378 1821l18-25l20-14l-19 57zM2435 1797l18 63l20-87l-18 39zM2493 1781l18 9l20-15l-19-28zM3105 1772l19-12l20 79l-19-82zM3181 1775l19 77l20-66l-19 11z"/><path class="j8" d="M1945 1777l19 11l19 4l-18 36zM1965 1828l18-36l19 7l-18-4zM2208 1769l19 130l19-41l-18-79zM2606 1809l18-39l20 76l-19-47zM2645 1757l18 17l20-10l-18 56zM2682 1791l18-21l20 111l-18-45zM2951 1764l19 22l20 183l-19-219zM3008 1760l19 31l20-44l-19 20zM3201 1797l19-11l20 4l-19-5z"/><path class="j9" d="M1983 1792l18-8l19 43l-18-28zM2002 1799l18 28l20-53l-18-25zM2228 1779l18 79l20-66l-19-21zM2511 1790l18-19l20-6l-18 10zM2569 1767l18 100l20-29l-19-67zM2720 1881l18-105l20 29l-18-27zM2778 1808l19 45l19-80l-18-17zM2855 1762l18 143l20-86l-19-24zM3163 1866l18-91l20 22l-18-26z"/><path class="j10" d="M2340 1791l18-9l20 39l-19 20zM2455 1812l18-39l20 8l-19-20zM2607 1838l18-39l20-42l-19 27zM2663 1774l19 17l20 45l-19-72zM2988 1733l19 39l20 19l-19-31z"/><path class="j11" d="M1926 1813l18-14l20-11l-19-11zM2058 1787l18 7l19 0l-18 53zM2077 1847l18-53l20-8l-18-10zM2076 1794l18 17l20-6l-19-11zM2284 1795l18 43l20-10l-19-47zM2397 1839l19-57l19 15l-18 23zM2531 1775l18-10l20 2l-19 65zM2644 1846l18-65l20 10l-19-17zM2893 1819l19-54l19 81l-18-45zM2913 1801l18 45l20-82l-18-32zM2970 1786l18-53l20 27l-18 209zM3028 1767l19-20l20 29l-19-21z"/><path class="j12" d="M2001 1784l18 21l19-17l-18 39zM2246 1858l18-41l20-22l-18-3zM2721 1771l19 7l20 82l-19-49zM2758 1805l19 6l20 42l-19-45zM2873 1905l19-116l20-24l-19 54zM3027 1791l19 62l19-14l-18-92zM3085 1813l19-69l20 16l-19 12zM3221 1785l19 5l20 110l-19-131z"/><path class="j13" d="M2020 1827l18-39l20-1l-18-13zM2473 1773l18 28l20-11l-18-9z"/><path class="j14" d="M2038 1788l19 47l19-41l-18-7zM2190 1764l18 5l20 10l-18 15zM2453 1860l19-59l19 0l-18-28zM2529 1771l19 10l19-11l-18-5zM2912 1765l18 145l20-139l-19 75zM2950 1771l19 12l19-50l-18 53zM3143 1767l18 10l20-2l-18 91z"/><path class="j15" d="M2189 1808l18-25l20 116l-19-130zM2303 1781l19 47l19-50l-18-25zM2416 1782l18 0l19 78l-18-63zM2931 1846l19-75l20 15l-19-22zM3124 1760l19 7l20 99l-19-27zM3183 1771l18 26l20-12l-18-22z"/><path class="j16" d="M2171 1774l18 34l19-39l-18-5z"/><path class="j17" d="M1964 1788l18 3l19-7l-18 8zM2040 1774l18 13l19 60l-18-28zM2152 1742l19 32l19-10l-18 12zM2491 1801l19-37l19 7l-18 19zM2990 1969l18-209l20 7l-18 39z"/><path class="j18" d="M2264 1817l18 49l20-28l-18-43zM2379 1828l18 11l20-19l-18-45z"/><path class="j19" d="M2798 1756l18 17l20 66l-18-74zM2797 1853l18-97l20 17l-19 0z"/><path class="j21" d="M3065 1839l19-61l20-34l-19 69z"/><path class="j22" d="M2115 1786l18 45l19-89l-18 38z"/><path class="j23" d="M3104 1744l19 31l20-8l-19-7z"/><path class="j2" d="M2452 1859l18-3l20-22l-18-33z"/><path class="j3" d="M2263 1860l18-66l20 19l-19 53zM2434 1782l18 77l20-58l-19 59zM2585 1819l18-10l20 7l-19 77zM2757 1847l18-31l20 42l-18-47zM2834 1830l18 12l20-50l-19 24z"/><path class="j4" d="M2169 1859l19-58l19-18l-18 25zM2319 1828l18-26l20 79l-18-60zM2376 1807l19 74l19-99l-18 14zM2433 1792l18 7l19 57l-18 3zM2681 1826l18 46l20-46l-19-56zM2699 1872l18 10l20-84l-18 28zM2719 1826l18-28l20 49l-19-71z"/><path class="j5" d="M2207 1783l18 90l20-93l-18 119zM2320 1812l19 9l19-39l-18 9zM2472 1801l18 33l20-70l-19 37zM2604 1893l19-77l19-27l-18-19zM2642 1789l19 31l20 6l-19-45zM3121 1788l19 50l20-40l-19 14z"/><path class="j6" d="M2872 1792l18-23l20 57l-18-37zM2890 1769l19 10l20 68l-19-21zM3083 1799l18-3l20-8l-18 3z"/><path class="j7" d="M2245 1780l18 80l19 6l-18-49zM2548 1781l18 10l20 0l-19-21zM2815 1756l19 74l19-14l-18-43zM3064 1805l19-6l20-8l-19-13z"/><path class="j8" d="M2093 1781l18 33l19-11l-18 29zM2206 1795l18 13l19 38l-18 27zM2243 1846l19 23l19-75l-18 66zM2282 1866l19-53l19-1l-18 26zM2395 1881l18-50l20-39l-19-10zM2949 1763l18 21l20 6l-18-7zM3084 1778l19 13l20-16l-19-31zM3103 1791l18-3l20 24l-18-37z"/><path class="j9" d="M2130 1803l19 0l19 100l-18-119zM2168 1903l18-48l20-60l-18 6zM2508 1828l19-28l19 20l-18-39zM2546 1820l19 63l20-64l-19-28zM2586 1791l18 102l20-123l-18 39zM2700 1770l19 56l19-50l-18 105zM2738 1776l19 71l20-36l-19-6zM3007 1772l19 10l20 71l-19-62zM3046 1853l18-48l20-27l-19 61zM3141 1812l19-14l20-6l-19-15z"/><path class="j10" d="M2150 1784l18 119l20-102l-19 58zM2301 1813l18 15l20-7l-19-9zM2470 1856l19 16l19-44l-18 6zM2490 1834l18-6l20-47l-18-17zM3006 1787l18 23l20-33l-18 5zM3044 1777l19 85l20-63l-19 6z"/><path class="j11" d="M2094 1811l18 21l20 14l-18-41zM2528 1781l18 39l20-29l-18-10zM2566 1791l19 28l19 74l-18-102zM2623 1816l18 1l20 3l-19-31zM2661 1820l18 28l20 24l-18-46zM2892 1789l18 37l20 84l-18-145z"/><path class="j12" d="M1944 1799l18 8l20-16l-18-3zM1962 1807l18-21l20 3l-18 2zM2018 1816l18 16l19-34l-18 62zM2057 1835l18-38l19 14l-18-17zM2112 1832l18-29l20-19l-18 62zM2358 1782l18 25l20-11l-18 25zM2775 1816l19-15l20-35l-19 92zM2814 1766l18 2l20 74l-18-12zM2929 1847l18-8l20-55l-18-21z"/><path class="j13" d="M1982 1791l18-2l19 16l-18-21zM2019 1805l18 55l20-25l-19-47zM2037 1860l18-62l20-1l-18 38zM2075 1797l18-16l19 51l-18-21zM2281 1794l18-8l20 42l-18-15zM2357 1881l18-100l20 100l-19-74zM2414 1782l19 10l19 67l-18-77zM2777 1811l18 47l20-102l-18 97zM3161 1777l19 15l20 60l-19-77z"/><path class="j14" d="M2000 1789l18 27l19 44l-18-55zM2225 1873l18-27l20 14l-18-80zM2737 1798l19-8l19 26l-18 31zM2795 1858l19-92l20 64l-19-74z"/><path class="j15" d="M2132 1846l18-62l19 75l-18-47zM2188 1801l18-6l19 78l-18-90zM2396 1796l18-14l20 0l-18 0zM2969 1783l18 7l20-18l-19-39zM3123 1775l18 37l20-35l-18-10z"/><path class="j16" d="M2339 1821l18 60l19-74l-18-25zM2624 1770l18 19l20-8l-18 65zM2662 1781l19 45l19-56l-18 21zM2910 1826l19 21l20-84l-19 147zM2930 1910l19-147l20 20l-19-12z"/><path class="j18" d="M3026 1782l18-5l20 28l-18 48z"/><path class="j19" d="M2853 1816l19-24l20-3l-19 116zM2967 1784l19 16l20-13l-19 3z"/><path class="j20" d="M2510 1764l18 17l20 0l-19-10zM2852 1842l19-51l19-22l-18 23z"/><path class="j22" d="M1980 1786l18 19l20 11l-18-27zM2055 1798l18 73l20-90l-18 16z"/><path class="j23" d="M2987 1790l19-3l20-5l-19-10z"/><path class="j3" d="M2054 1813l18 51l19-27l-18 34zM3043 1832l18-31l20 31l-18 30z"/><path class="j4" d="M2111 1814l18 47l20-58l-19 0zM2527 1800l18 44l20 39l-19-63zM2583 1815l19-5l19 21l-18-22zM2640 1883l18-78l20 55l-19-64zM3063 1862l18-30l20-36l-18 3z"/><path class="j5" d="M2149 1803l18-14l19 66l-18 48zM2186 1855l18 76l20-123l-18-13zM2223 1814l18 10l19 4l-18-26zM2469 1797l18 12l20-13l-18 76zM3081 1832l19-21l20-19l-19 4z"/><path class="j6" d="M2016 1807l18 26l20-20l-18 19zM2260 1828l18 31l20-70l-18 51zM2375 1781l18 69l20-19l-18 50zM2754 1800l19 76l19-82l-18 1zM2812 1796l19 34l20 79l-19-141zM2889 1901l19-94l19 2l-18-30zM2908 1807l18 68l20-86l-19 20zM2947 1839l19-51l20 12l-19-16zM3023 1789l18 26l20-14l-18 31z"/><path class="j7" d="M2204 1931l19-117l19-12l-18 6zM2337 1802l18-30l20 9l-18 100zM2431 1807l18-15l20 5l-18 2z"/><path class="j8" d="M2036 1832l18-19l19 58l-18-73zM2262 1869l18-29l19-54l-18 8zM2603 1809l18 22l20-14l-18-1zM2756 1790l18 5l20 6l-19 15zM2792 1794l19 35l20 1l-19-34zM3024 1810l19 22l20 30l-19-85z"/><path class="j9" d="M2147 1814l18 22l20-23l-18-24zM2318 1787l18 17l19-32l-18 30zM2355 1772l19 78l19 0l-18-69zM2451 1799l18-2l20 75l-19-16zM2909 1779l18 30l20 30l-18 8zM2984 1831l19-17l20-25l-19 6z"/><path class="j10" d="M2091 1837l19-18l19 42l-18-47zM2129 1861l18-47l20-25l-18 14zM2280 1840l18-51l20-2l-19-1zM2489 1872l18-76l20 4l-19 28zM2563 1766l19 47l20-3l-19 5zM2832 1768l19 141l20-118l-19 51zM2851 1909l18-87l20 79l-18-110z"/><path class="j11" d="M2072 1864l18-39l20-6l-19 18zM2185 1813l18 23l20-22l-19 117zM2413 1831l18-24l20-8l-18-7zM2412 1909l18-87l19-30l-18 15zM2487 1809l19 4l19-9l-18-8zM2507 1796l18 8l20 40l-18-44zM2717 1882l19-84l20-8l-19 8zM3004 1795l19-6l20 43l-19-22zM3101 1796l19-4l20 46l-19-50z"/><path class="j12" d="M2374 1850l18 1l20 58l-19-59zM2545 1844l18-78l20 49l-18 68zM2698 1782l18 3l20 13l-19 84zM2774 1795l18-1l20 2l-18 5zM2831 1830l18-27l20 19l-18 87z"/><path class="j13" d="M2678 1860l18-55l20-20l-18-3zM2946 1789l18 22l20 20l-18-43zM3061 1801l19-11l20 21l-19 21z"/><path class="j14" d="M2110 1819l18 8l19-13l-18 47zM2299 1786l19 1l19 15l-18 26zM2449 1792l19 23l19-6l-18-12zM2641 1817l18-21l20 52l-18-28zM2679 1848l19-66l19 100l-18-10zM2986 1800l18-5l20 15l-18-23z"/><path class="j15" d="M2167 1789l18 24l19 118l-18-76zM2393 1850l19 59l19-102l-18 24zM2602 1810l18-26l20 99l-19-52zM2871 1791l18 110l20-122l-19-10zM2966 1788l18 43l20-36l-18 5z"/><path class="j16" d="M2224 1808l18-6l20 67l-19-23zM2242 1802l18 26l20 12l-18 29zM2336 1804l18 36l20 10l-19-78z"/><path class="j17" d="M2034 1833l18 4l20 27l-18-51zM2525 1804l19 32l19-70l-18 78zM2659 1796l19 64l20-78l-19 66zM2794 1801l18-5l20-28l-18-2z"/><path class="j18" d="M2298 1789l18-2l20 17l-18-17zM2565 1883l18-68l20-6l-18 10zM2736 1798l18 2l20-5l-18-5zM2869 1822l19-28l20 13l-19 94z"/><path class="j19" d="M2621 1831l19 52l19-87l-18 21z"/><path class="j20" d="M2073 1871l18-34l20-23l-18-33z"/><path class="j21" d="M1998 1805l18 2l20 25l-18-16z"/><path class="j22" d="M2927 1809l19-20l20-1l-19 51z"/><path class="j23" d="M2716 1785l18 38l20-23l-18-2z"/><path class="j3" d="M2071 1913l18-32l19-57l-18 1zM2848 1861l18-37l20 108l-18-119zM3001 1820l19 49l20-15l-19-19z"/><path class="j4" d="M2542 1891l19-64l19-3l-18-8zM2886 1932l19-44l20-65l-19-22z"/><path class="j5" d="M2090 1825l18-1l20 3l-18-8zM2448 1979l18-109l20-21l-18-34zM2466 1870l19-32l19-24l-18 35zM2715 1867l18-51l20 2l-19 5zM2791 1817l18 1l20-5l-18 16zM2811 1829l18-16l20-10l-18 27z"/><path class="j6" d="M2108 1824l18 24l20 39l-18-60zM2146 1887l18-70l19-9l-18 28zM2278 1859l19 73l19-145l-18 2zM2297 1932l18-127l19 31l-18-49zM2353 1837l18-4l19-22l-18 8zM2410 1871l18-13l20 121l-18-157zM2430 1822l18 157l20-164l-19-23zM2506 1813l18 30l20-7l-19-32zM2618 1816l19 56l20-49l-19-9zM2657 1823l18 21l20 18l-19-28zM2926 1875l19-76l19 12l-18-22zM2983 1798l18 22l20 15l-18-21z"/><path class="j7" d="M2164 1817l18 5l20 5l-19-19zM2202 1827l18-14l19 13l-18 28zM2241 1824l18 116l19-81l-18-31zM2392 1851l18 20l20-49l-18 87zM2428 1858l19 45l19-33l-18 109zM2544 1836l18-20l20-3l-19-47zM2753 1818l18 3l20-4l-18 59zM2771 1821l19-11l19 8l-18-1zM2829 1813l19 48l20-48l-19-10z"/><path class="j8" d="M2277 1827l18 27l20-49l-18 127zM2468 1815l18 34l20-36l-19-4zM2524 1843l18 48l20-75l-18 20zM2582 1813l18-16l20-13l-18 26zM2580 1824l19 52l19-60l-18-19z"/><path class="j9" d="M2239 1826l18 55l20-54l-18 113zM2259 1940l18-113l20 105l-19-73zM2676 1834l19 28l20 5l-19-62zM2963 1797l19 9l19 14l-18-22z"/><path class="j10" d="M2183 1808l19 19l19 27l-18-18zM2221 1854l18-28l20 114l-18-116zM2316 1787l18 49l20 4l-18-36zM2354 1840l18-21l20 32l-18-1zM2638 1814l19 9l19 11l-18-29zM3003 1814l18 21l20-20l-18-26z"/><path class="j11" d="M2126 1848l18 12l20-43l-18 70zM2165 1836l18-28l20 28l-18-23zM2334 1836l19 1l19-18l-18 21zM2504 1814l19 34l19 43l-18-48zM2695 1862l18-31l20-15l-18 51zM2945 1799l18-2l20 1l-19 13z"/><path class="j12" d="M2390 1811l19 10l19 37l-18 13zM2486 1849l18-35l20 29l-18-30zM2600 1797l18 19l20-2l-18-30zM2849 1803l19 10l20-19l-19 28z"/><path class="j13" d="M2089 1881l18-9l19-24l-18-24zM2658 1805l18 29l20-29l-18 55zM2734 1823l19-5l20 58l-19-76zM2809 1818l19-8l20 51l-19-48z"/><path class="j14" d="M2906 1801l19 22l20-24l-19 76z"/><path class="j15" d="M2052 1837l19 76l19-88l-18 39zM2128 1827l18 60l19-51l-18-22zM2562 1816l18 8l20-27l-18 16zM2696 1805l19 62l19-44l-18-38zM2733 1816l18 34l20-29l-18-3zM2964 1811l19-13l20 16l-19 17z"/><path class="j16" d="M2372 1819l18-8l20 60l-18-20zM3041 1815l19-4l20-21l-19 11z"/><path class="j17" d="M2888 1794l18 7l20 74l-18-68z"/><path class="j19" d="M2203 1836l18 18l20-30l-18-10zM2773 1876l18-59l20 12l-19-35zM2925 1823l18-21l20-5l-18 2z"/><path class="j20" d="M2315 1805l18 46l20-14l-19-1zM2868 1813l18 119l20-131l-18-7zM3021 1835l19 19l20-43l-19 4z"/><path class="j22" d="M2620 1784l18 30l20-9l-18 78z"/><path class="j1" d="M2256 1960l18-13l20-55l-19-46z"/><path class="j3" d="M2107 1872l18 23l19-35l-18-12z"/><path class="j4" d="M2483 1867l18 32l20-23l-18-30zM2503 1846l18 30l20-49l-18 21zM2713 1831l18 75l20-56l-18-34z"/><path class="j5" d="M2445 1829l18 93l20-55l-18-61zM2712 1879l18-39l20-37l-19 103z"/><path class="j6" d="M2144 1860l18-19l20-19l-18-5zM2200 1909l18-51l20-22l-18-23zM2313 1862l18-43l20 2l-18 30zM2655 1863l18 5l20-73l-18 49z"/><path class="j7" d="M2295 1854l18 8l20-11l-18-46zM2673 1868l19-51l20 62l-19-84zM2770 1864l18-42l20-4l-18-8zM2808 1818l18 5l20 6l-18-19zM2905 1888l18 0l20-86l-18 21z"/><path class="j8" d="M2125 1895l18-66l19 12l-18 19zM2143 1829l18 16l19-15l-18 11zM2523 1848l18-21l20 0l-19 64zM2599 1876l18 17l20-21l-19-56zM2693 1795l19 84l19 27l-18-75zM2846 1829l19-9l20-10l-19 14z"/><path class="j9" d="M2257 1881l18-35l20 8l-18-27zM2333 1851l18-30l20 12l-18 4zM2351 1821l18 106l20-56l-18-38zM2427 1853l18-24l20-23l-18 97zM2597 1877l18-68l20 21l-18 63zM2637 1872l18-9l20-19l-18-21z"/><path class="j10" d="M2238 1836l18 124l19-114l-18 35zM2369 1927l18-107l20 7l-18 44zM2521 1876l18-31l20-27l-18 9zM2751 1850l19 14l20-54l-19 11zM2942 1859l18 4l20-29l-18-11z"/><path class="j11" d="M2182 1822l18 87l20-96l-18 14zM2220 1813l18 23l19 45l-18-55zM2579 1818l18 59l20 16l-18-17zM2731 1906l19-103l20 61l-19-14zM2828 1810l18 19l20-5l-18 37zM2923 1888l19-29l20-36l-19-21z"/><path class="j12" d="M2218 1858l18-16l20 118l-18-124zM2275 1846l19 46l19-30l-18-8zM2389 1871l18-44l20 26l-18-32zM2485 1838l18 8l20 2l-19-34zM2635 1830l19 7l19 31l-18-5zM2885 1810l18 102l20-24l-18 0z"/><path class="j13" d="M2409 1821l18 32l20 50l-19-45zM2826 1823l19 11l20-14l-19 9zM2866 1824l19-14l20 78l-19 44z"/><path class="j14" d="M2162 1841l18-11l20 79l-18-87zM2331 1819l19 1l19 107l-18-106zM2407 1827l18 6l20-4l-18 24zM2447 1903l18-97l20 32l-19 32zM2561 1827l18-9l20 58l-19-52zM2962 1823l18 11l20-10l-18-18z"/><path class="j15" d="M2541 1827l18-9l20 0l-18 9zM2559 1818l18 22l20 37l-18-59zM2675 1844l18-49l20 36l-18 31z"/><path class="j16" d="M2903 1912l19-100l20 47l-19 29zM2982 1806l18 18l20 45l-19-49z"/><path class="j17" d="M2294 1892l18-69l19-4l-18 43z"/><path class="j18" d="M2180 1830l19 29l19-1l-18 51zM2617 1893l18-63l20 33l-18 9zM2750 1803l18 62l20-43l-18 42z"/><path class="j19" d="M2465 1806l18 61l20-21l-18-8zM2788 1822l18 11l20-10l-18-5zM2943 1802l19 21l20-17l-19-9z"/><path class="j21" d="M2371 1833l18 38l20-50l-19-10zM2790 1810l18 8l20-8l-19 8z"/><path class="j22" d="M2865 1820l18-8l20 100l-18-102z"/><path class="j1" d="M2728 1905l19 19l20 2l-19-62z"/><path class="j2" d="M2179 1907l18-26l20 37l-18-59zM2748 1864l19 62l20-11l-19-50z"/><path class="j4" d="M2424 1841l18 118l20-114l-18 10z"/><path class="j5" d="M2634 1829l18 20l20 39l-18-51zM2654 1837l18 51l20-71l-19 51zM2843 1826l19 57l20 59l-19-111zM2922 1812l18 45l20 6l-18-4z"/><path class="j6" d="M2161 1845l18 62l20-48l-19-29zM2236 1842l18 29l20 76l-18 13zM2272 1847l18 33l20-31l-18-9zM2310 1849l18-8l20 74l-18-79zM2577 1840l19-1l19-30l-18 68zM2672 1888l18-58l20 50l-18-63zM2710 1880l18 25l20-41l-18-24zM2863 1831l19 111l20-90l-19-40z"/><path class="j7" d="M2217 1918l18-20l19-27l-18-29zM2387 1820l19 50l19-37l-18-6zM2538 1844l18 11l20-21l-18 6zM2558 1840l18-6l20 5l-19 1zM2652 1849l18 36l20-55l-18 58zM2692 1817l18 63l20-40l-18 39z"/><path class="j8" d="M2199 1859l18 59l19-76l-18 16zM2197 1881l18-47l20 64l-18 20zM2463 1922l18-44l20 21l-18-32zM2615 1809l19 20l20 8l-19-7zM2730 1840l18 24l20 1l-18-62zM2806 1833l19-25l20 26l-19-11z"/><path class="j9" d="M2406 1870l18-29l20 14l-19-22zM2519 1935l19-91l20-4l-19 5z"/><path class="j10" d="M2444 1855l18-10l19 33l-18 44zM2845 1834l18-3l20-19l-18 8zM2882 1942l18-84l20-20l-18 14z"/><path class="j11" d="M2235 1898l18-27l19-24l-18 24zM2614 1920l18-72l20 1l-18-20z"/><path class="j12" d="M2254 1871l18-24l20-7l-18 107zM2274 1947l18-107l20-17l-18 69zM2350 1820l18 8l19-8l-18 107zM2348 1915l18 38l20-97l-18-28zM2425 1833l19 22l19 67l-18-93zM2481 1878l19-56l19 113l-18-36zM2576 1834l18 71l20 15l-18-81zM2787 1915l18-88l20-19l-19 25zM2883 1812l19 40l20-40l-19 100z"/><path class="j13" d="M2462 1845l18 70l20-93l-19 56zM2596 1839l18 81l20-91l-19-20zM2768 1865l19 50l19-82l-18-11zM2902 1852l18-14l20 19l-18-45z"/><path class="j14" d="M2312 1823l18 13l20-16l-19-1zM2501 1899l18 36l20-90l-18 31z"/><path class="j15" d="M2690 1830l18 30l20 45l-18-25z"/><path class="j16" d="M2500 1822l18-2l20 24l-19 91zM2767 1926l18-61l20-38l-18 88z"/><path class="j17" d="M2330 1836l18 79l20-87l-18-8zM2368 1828l18 28l20 14l-19-50zM2539 1845l19-5l19 0l-18-22zM2805 1827l18 128l20-129l-18-18zM2825 1808l18 18l20 5l-18 3z"/><path class="j18" d="M2386 1856l18 15l20-30l-18 29z"/><path class="j22" d="M2292 1840l18 9l20-13l-18-13z"/><path class="j3" d="M2650 1855l19 97l20-62l-19-5z"/><path class="j4" d="M2251 1926l18 8l20-75l-18-16zM2327 1853l18 61l20-51l-19 30zM2402 1986l19-120l19-6l-18 9zM2442 1959l18-111l20 67l-18-70zM2460 1848l18 114l20-100l-18 53zM2707 1852l18 14l20 19l-18 34zM2822 1914l18 60l20-116l-18-18zM2862 1883l18 29l20-54l-18 84z"/><path class="j5" d="M2233 1910l18 16l20-83l-18 28zM2594 1905l18-45l20-12l-18 72zM2708 1860l19 59l20 5l-19-19zM2823 1955l19-115l20 43l-19-57z"/><path class="j6" d="M2365 1863l18 86l19 37l-18-141zM2765 1894l18-73l20 44l-18 0zM2783 1821l19 38l20 55l-19-49z"/><path class="j7" d="M2612 1860l19 20l19-25l-18-7zM2727 1919l18-34l20 9l-18 30z"/><path class="j8" d="M2384 1845l18 141l20-117l-18 2zM2556 1855l18 2l20 48l-18-71zM2747 1924l18-30l20-29l-18 61zM2785 1865l18 0l20 90l-18-128zM2803 1865l19 49l20-74l-19 115z"/><path class="j9" d="M2440 1860l18-24l20 126l-18-114z"/><path class="j10" d="M2215 1834l18 76l20-39l-18 27zM2309 1841l18 12l19 40l-18-52zM2404 1871l18-2l20 90l-18-118zM2518 1820l18 35l20 0l-18-11zM2842 1840l18 18l20 54l-18-29z"/><path class="j11" d="M2328 1841l18 52l20 60l-18-38zM2366 1953l18-108l20 26l-18-15z"/><path class="j12" d="M2346 1893l19-30l19-18l-18 108zM2632 1848l18 7l20 30l-18-36z"/><path class="j13" d="M2253 1871l18-28l19 37l-18-33zM2271 1843l18 16l20-18l-19 39zM2574 1857l18-4l20 7l-18 45zM2592 1853l19-16l20 43l-19-20zM2689 1890l18-38l20 67l-19-59z"/><path class="j14" d="M2422 1869l18-9l20-12l-18 111z"/><path class="j15" d="M2290 1880l19-39l19 0l-18 8zM2554 1840l19 14l19-1l-18 4zM2745 1885l18-43l20-21l-18 73z"/><path class="j16" d="M2289 1859l18-17l20 11l-18-12zM2480 1915l18-53l20-42l-18 2zM2536 1855l18-15l20 17l-18-2zM2631 1880l18 21l20 51l-19-97z"/><path class="j17" d="M2498 1862l18-12l20 5l-18-35zM2516 1850l18 8l20-18l-18 15z"/><path class="j18" d="M2478 1962l18-92l20-20l-18 12z"/><path class="j19" d="M2670 1885l19 5l19-30l-18-30z"/><path class="j20" d="M2669 1952l18-94l20-6l-18 38z"/><path class="j1" d="M2363 1918l18 12l20 44l-18-25z"/><path class="j3" d="M2345 1914l18 4l20 31l-18-86zM2457 1904l18-31l20 20l-18 46z"/><path class="j5" d="M2381 1930l18 4l20 59l-18-19zM2401 1974l18 19l20-164l-18 37zM2477 1939l18-46l20-44l-19 21zM2609 1886l18 1l20 29l-18-56zM2782 1873l18-2l20 10l-18-22z"/><path class="j6" d="M2287 1921l18-26l20-36l-18-17zM2725 1866l18-1l20-23l-18 43z"/><path class="j7" d="M2705 1863l18-12l20 14l-18 1zM2743 1865l19-8l20 16l-19-31z"/><path class="j8" d="M2383 1949l18 25l20-108l-19 120z"/><path class="j9" d="M2325 1859l18 43l20 16l-18-4zM2419 1993l18-55l20-34l-18-75zM2685 1869l19 63l19-81l-18 12zM2763 1842l19 31l20-14l-19-38z"/><path class="j10" d="M2305 1895l18-6l20 13l-18-43z"/><path class="j11" d="M2591 1862l18 24l20-26l-18-23zM2649 1901l18-43l20 0l-18 94zM2667 1858l18 11l20-6l-18-5zM2802 1859l18 22l20 93l-18-60z"/><path class="j12" d="M2553 1881l18 5l20-24l-18-8zM2611 1837l18 23l20 41l-18-21zM2687 1858l18 5l20 3l-18-14z"/><path class="j13" d="M2343 1902l18-21l20 49l-18-12zM2458 1836l19 103l19-69l-18 92zM2495 1893l18 11l20-54l-18-1z"/><path class="j14" d="M2439 1829l18 75l20 35l-19-103zM2515 1849l18 1l20 31l-19-23zM2534 1858l19 23l20-27l-19-14zM2571 1886l18-17l20 17l-18-24zM2647 1916l18-47l20 0l-18-11zM2723 1851l19 46l20-40l-19 8z"/><path class="j15" d="M2421 1866l18-37l19 7l-18 24zM2762 1857l18 41l20-27l-18 2z"/><path class="j16" d="M2269 1934l18-13l20-79l-18 17z"/><path class="j18" d="M2496 1870l19-21l19 9l-18-8zM2573 1854l18 8l20-25l-19 16zM2629 1860l18 56l20-58l-18 43z"/><path class="j19" d="M2307 1842l18 17l20 55l-18-61z"/><path class="j21" d="M2533 1850l18 64l20-28l-18-5z"/><path class="j2" d="M2399 1934l18-25l20 29l-18 55z"/><path class="j4" d="M2531 1880l18 40l20-41l-18 35zM2569 1879l18 48l20 6l-18-64zM2589 1869l18 64l20-46l-18-1z"/><path class="j5" d="M2323 1889l18-16l20 8l-18 21zM2625 1884l19 47l20-70l-19 75zM2722 1893l18-14l20 13l-18 5z"/><path class="j6" d="M2417 1909l18-29l20 20l-18 38zM2455 1900l18 21l20-46l-18-2zM2551 1914l18-35l20-10l-18 17zM2587 1927l18 1l20-44l-18 49z"/><path class="j8" d="M2607 1933l18-49l20 52l-18-49z"/><path class="j9" d="M2513 1904l18-24l20 34l-18-64zM2664 1861l18 61l20-44l-18 37zM2684 1915l18-37l20 15l-18 39zM2704 1932l18-39l20 4l-19-46z"/><path class="j10" d="M2435 1880l18 4l20 37l-18-21zM2475 1873l18 2l20 29l-18-11zM2627 1887l18 49l20-67l-18 47zM2645 1936l19-75l20 54l-19-46z"/><path class="j11" d="M2359 1917l19 72l19-108l-18 30z"/><path class="j12" d="M2361 1881l18 30l20 23l-18-4zM2493 1875l18 0l20 5l-18 24zM2511 1875l18 21l20 24l-18-40z"/><path class="j13" d="M2437 1938l18-38l20-27l-18 31zM2549 1920l18-47l20 54l-18-48z"/><path class="j14" d="M2397 1881l18 85l20-86l-18 29zM2665 1869l19 46l20 17l-19-63z"/><path class="j15" d="M2473 1921l18 1l20-47l-18 0zM2742 1897l18-5l20 6l-18-41z"/><path class="j18" d="M2702 1878l18 59l20-58l-18 14z"/><path class="j19" d="M2341 1873l18 44l20-6l-18-30zM2379 1911l18-30l20 28l-18 25z"/><path class="j3" d="M2566 1885l18 91l20-64l-18 32z"/><path class="j4" d="M2414 1909l18-28l20 73l-19 46zM2433 2000l19-46l19-68l-18-2z"/><path class="j5" d="M2452 1954l18-60l20 7l-19-15zM2644 1931l18-18l20 9l-18-61zM2682 1922l18-35l20 50l-18-59z"/><path class="j6" d="M2453 1884l18 2l20 36l-18-1zM2528 2007l18-32l20-90l-19 1z"/><path class="j7" d="M2415 1966l18 34l20-116l-18-4zM2547 1886l19-1l20 59l-19-71zM2586 1944l18-32l20-3l-19 19zM2624 1909l18-14l20 18l-18 18z"/><path class="j8" d="M2491 1922l18 45l20-71l-18-21zM2605 1928l19-19l20 22l-19-47z"/><path class="j9" d="M2662 1913l18-21l20-5l-18 35z"/><path class="j10" d="M2378 1989l18-86l19 63l-18-85zM2567 1873l19 71l19-16l-18-1z"/><path class="j11" d="M2471 1886l19 15l19 66l-18-45z"/><path class="j12" d="M2396 1903l18 6l19 91l-18-34zM2509 1967l19 40l19-121l-18 10z"/><path class="j14" d="M2490 1901l18 25l20 81l-19-40zM2529 1896l18-10l20-13l-18 47z"/><path class="j15" d="M2604 1912l18 48l20-65l-18 14z"/><path class="j18" d="M2642 1895l18 51l20-54l-18 21z"/><path class="j2" d="M2584 1976l18-37l20 21l-18-48z"/><path class="j4" d="M2468 1942l18 46l20-75l-18 11zM2546 1975l18-72l20 73l-18-91z"/><path class="j5" d="M2432 1881l18 137l20-124l-18 60z"/><path class="j6" d="M2582 1956l18-40l20-14l-18 37zM2602 1939l18-37l20-3l-18 61z"/><path class="j7" d="M2450 2018l18-76l20-18l-18-30z"/><path class="j8" d="M2488 1924l18-11l20-1l-18 14zM2526 1912l18-26l20 17l-18 72z"/><path class="j10" d="M2508 1926l18-14l20 63l-18 32z"/><path class="j11" d="M2506 1913l18-4l20-23l-18 26zM2564 1903l18 53l20-17l-18 37z"/><path class="j15" d="M2622 1960l18-61l20 47l-18-51z"/><path class="j17" d="M2470 1894l18 30l20 2l-18-25z"/><path class="j22" d="M2544 1886l18 25l20 45l-18-53z"/><path class="j4" d="M2562 1911l18 62l20-57l-18 40z"/><path class="j5" d="M2504 1989l18-49l20-19l-18-12z"/><path class="j7" d="M2522 1940l18-1l20-2l-18-16z"/><path class="j10" d="M2524 1909l18 12l20-10l-18-25z"/><path class="j13" d="M2542 1921l18 16l20 36l-18-62z"/><path class="j14" d="M2486 1988l18 1l20-80l-18 4z"/><path class="j1" d="M2185 1846l23 0l-18 22zM2240 1859l36 0l-15 43zM2268 1864l22 0l-6 18zM2095 1827l25 0l-11 30zM2840 1852l29 0l-8 22zM2716 1879l24 0l-6 33zM2219 1854l30 0l-21 37zM2784 1865l27 0l-20 26zM1909 1786l22 0l-7 18zM3016 1814l30 0l-17 22zM1906 1786l22 0l-13 25zM1988 1804l27 0l-20 32z"/><path class="j2" d="M1958 1799l39 0l-17 30zM3077 1801l33 0l-17 27zM2010 1809l30 0l-22 15zM1939 1794l35 0l-12 45zM2302 1872l27 0l-10 16zM2296 1871l36 0l-22 24zM3211 1771l39 0l-20 22zM2477 1909l21 0l-13 32zM1880 1782l39 0l-14 14zM3208 1772l38 0l-25 23zM2245 1859l28 0l-18 25zM2988 1821l26 0l-19 30zM2588 1907l21 0l-10 42zM2314 1875l31 0l-13 36zM1981 1803l29 0l-18 24zM2457 1905l29 0l-14 17z"/><path class="j3" d="M2440 1903l38 0l-17 25zM2634 1896l39 0l-25 20z"/></g>
<g transform="scale(.1)"><path class="j2" d="M2532 2026l20-14l19 31l-21 5z"/><path class="j5" d="M2514 2055l20-40l18-3l-20 14zM2552 2012l21 2l18 36l-20-7z"/><path class="j2" d="M2496 2031l20-2l18-14l-20 40z"/><path class="j4" d="M2555 2001l20 82l18-85l-20 16z"/><path class="j5" d="M2478 2025l20 16l18-12l-20 2zM2573 2014l20-16l19 6l-21 46z"/><path class="j6" d="M2498 2041l20-16l19 63l-21-59zM2516 2029l21 59l18-87l-21 14zM2614 2047l20-50l19 37l-21 24z"/><path class="j8" d="M2575 2083l21-79l18 43l-21-49z"/><path class="j9" d="M2537 2088l20-57l18 52l-20-82z"/><path class="j10" d="M2534 2015l21-14l18 13l-21-2z"/><path class="j12" d="M2460 2027l20-3l18 17l-20-16z"/><path class="j14" d="M2593 1998l21 49l18 11l-20-54z"/><path class="j2" d="M2424 2043l20-6l18 0l-20 44z"/><path class="j3" d="M2444 2037l20 22l18-21l-20-1z"/><path class="j4" d="M2480 2024l20-12l18 13l-20 16zM2559 2042l20 34l19-37l-21-27z"/><path class="j5" d="M2634 1997l21 25l18-4l-20 16zM2636 2009l21 19l18 44l-20-50zM2675 2072l21-2l18 37l-20-96z"/><path class="j6" d="M2520 2031l21 22l18-11l-20-26z"/><path class="j7" d="M2598 2039l20 0l18-30l-20 29z"/><path class="j8" d="M2577 2012l21 27l18-1l-20-34z"/><path class="j9" d="M2406 2078l20-18l18-23l-20 6zM2462 2037l20 1l18-26l-20 12zM2500 2012l20 19l19-15l-21 9zM2557 2031l20-19l19-8l-21 79zM2596 2004l20 34l18-41l-20 50zM2655 2022l20 50l19-61l-21 7z"/><path class="j10" d="M2442 2081l20-44l18-13l-20 3zM2518 2025l21-9l18 15l-20 57z"/><path class="j12" d="M2539 2016l20 26l18-30l-20 19z"/><path class="j13" d="M2482 2038l20-4l18-3l-20-19z"/><path class="j16" d="M2616 2038l20-29l19 13l-21-25z"/><path class="j2" d="M2446 2046l20 42l18-27l-20-2zM2541 2053l20-2l18 25l-20-34zM2581 2065l20 28l19-52l-20 19zM2638 2074l21 5l18-5l-20-46zM2677 2074l21 73l18 3l-20-80z"/><path class="j3" d="M2369 2112l20-56l19-24l-20 23z"/><path class="j4" d="M2388 2055l20-23l18 28l-20 18zM2408 2032l19 41l19-27l-20 14zM2426 2060l20-14l18 13l-20-22z"/><path class="j5" d="M2351 2051l20 30l18-25l-20 56zM2389 2056l20 29l18-12l-19-41zM2600 2060l20-19l18 33l-20-35zM2657 2028l20 46l19-4l-21 2zM2716 2150l21-106l19-5l-21-1z"/><path class="j6" d="M2484 2061l20-17l18 9l-20-19z"/><path class="j7" d="M2466 2088l20 53l18-97l-20 17zM2620 2041l20 17l19 21l-21-5zM2696 2070l20 80l19-112l-21 69zM2737 2044l20-30l19 26l-20-1z"/><path class="j8" d="M2464 2059l20 2l18-27l-20 4zM2502 2034l20 19l19 0l-21-22z"/><path class="j9" d="M2504 2044l20-2l19 15l-21-4zM2579 2076l21-16l18-21l-20 0z"/><path class="j10" d="M2543 2057l20 12l18-4l-20-14zM2698 2147l20-104l19 1l-21 106z"/><path class="j11" d="M2659 2079l20-22l19 90l-21-73z"/><path class="j12" d="M2427 2073l21-25l18 40l-20-42zM2522 2053l21 4l18-6l-20 2zM2561 2051l20 14l19-5l-21 16z"/><path class="j14" d="M2618 2039l20 35l19-46l-21-19z"/><path class="j2" d="M2488 2054l20 50l18 23l-20-71zM2563 2069l20-11l18 35l-20-28zM2759 2058l21 65l18 3l-20-33z"/><path class="j3" d="M2391 2080l20-36l18 15l-20 26zM2409 2085l20-26l19-11l-21 25z"/><path class="j4" d="M2315 2085l20-30l18-4l-20 1zM2411 2044l20 9l18 104l-20-98zM2524 2042l20 16l19 11l-20-12zM2564 2054l21 7l18 1l-20-4zM2640 2058l21 9l18-10l-20 22zM2778 2093l20 33l19 34l-20-111z"/><path class="j5" d="M2333 2052l20-1l18 30l-20-30zM2371 2081l20-1l18 5l-20-29zM2468 2082l20-28l18 2l-20 85zM2506 2056l20 71l18-69l-20-16zM2601 2093l21 14l18-49l-20-17zM2642 2058l20-13l19 78l-20-56zM2700 2037l20 19l19-1l-21-12z"/><path class="j6" d="M2429 2059l20 98l19-75l-20-34zM2720 2056l20 32l19-30l-20-3z"/><path class="j7" d="M2353 2051l20 33l18-4l-20 1zM2526 2127l20-46l18-27l-20 4zM2544 2058l20-4l19 4l-20 11z"/><path class="j8" d="M2622 2107l20-49l19 9l-21-9z"/><path class="j9" d="M2335 2055l20 11l18 18l-20-33zM2448 2048l20 34l18 59l-20-53zM2583 2058l20 4l19 45l-21-14z"/><path class="j10" d="M2373 2084l20-37l18-3l-20 36zM2449 2157l20-109l19 6l-20 28zM2603 2062l20 66l19-70l-20 49zM2718 2043l21 12l18-41l-20 30zM2739 2055l20 3l19 35l-21-79z"/><path class="j11" d="M2297 2050l20 12l18-7l-20 30zM2486 2141l20-85l18-14l-20 2zM2757 2014l21 79l19-44l-21-9z"/><path class="j12" d="M2661 2067l20 56l19-86l-21 20zM2679 2057l21-20l18 6l-20 104z"/><path class="j14" d="M2798 2126l21-75l19-10l-21 119z"/><path class="j17" d="M2681 2123l20-71l19 4l-20-19z"/><path class="j1" d="M2780 2123l20-10l19-62l-21 75z"/><path class="j2" d="M2508 2104l20-38l18 15l-20 46zM2586 2071l20 5l19 42l-20-20zM2761 2053l20 30l19 30l-20 10z"/><path class="j3" d="M2243 2098l20-33l18 6l-20 31zM2394 2115l20-6l18-24l-19-23zM2703 2069l20 47l19-44l-21-9z"/><path class="j4" d="M2261 2102l20-31l18-26l-20 18zM2317 2062l20 26l18-22l-20-11zM2432 2085l20 24l19-40l-20-18zM2471 2069l20 11l18 88l-20-97zM2489 2071l20 97l19-102l-20 38zM2509 2168l20-94l19-3l-20-5zM2528 2066l20 5l18-20l-20 30zM2566 2051l20 20l19 27l-20-37zM2742 2072l20 6l19 5l-20-30z"/><path class="j5" d="M2413 2062l19 23l19-34l-20 2zM2451 2051l20 18l18 2l-20-23zM2721 2063l21 9l19-19l-21 35zM2819 2051l20 53l19-49l-20-14zM2820 2062l21 4l19-7l-21 45zM2860 2059l20 46l19 49l-20-99z"/><path class="j6" d="M2393 2047l20 15l18-9l-20-9z"/><path class="j7" d="M2337 2088l19-16l19-5l-20-1zM2548 2071l20-24l18 24l-20-20zM2585 2061l20 37l18 30l-20-66zM2605 2098l20 20l19-95l-21 105zM2662 2045l20 39l19-32l-20 71zM2740 2088l21-35l19 70l-21-65z"/><path class="j8" d="M2355 2066l20 1l18-20l-20 37zM2356 2072l20-1l18 44l-19-48zM2375 2067l19 48l19-53l-20-15z"/><path class="j9" d="M2431 2053l20-2l18-3l-20 109zM2546 2081l20-30l19 10l-21-7zM2664 2065l20 4l19 0l-21 15zM2682 2084l21-15l18-6l-20-11zM2701 2052l20 11l19 25l-20-32zM2781 2083l20-39l19 18l-20 51z"/><path class="j10" d="M2281 2071l19 82l18-87l-19-21zM2299 2045l19 21l19 22l-20-26zM2625 2118l20-11l19-42l-20-42z"/><path class="j11" d="M2469 2048l20 23l19 33l-20-50z"/><path class="j12" d="M2279 2063l20-18l18 17l-20-12zM2644 2023l20 42l18 19l-20-39zM2800 2113l20-51l19 42l-20-53zM2839 2104l21-45l19-4l-21 0z"/><path class="j15" d="M2318 2066l20 5l18 1l-19 16z"/><path class="j16" d="M2623 2128l21-105l18 22l-20 13z"/><path class="j1" d="M2207 2133l19-28l18 15l-19-12z"/><path class="j2" d="M2434 2136l20-45l18-7l-20 25zM2606 2076l20-1l19 32l-20 11zM2861 2112l21-41l19 46l-21-12z"/><path class="j3" d="M2339 2155l20-21l18-34l-19-38zM2841 2066l20 46l19-7l-20-46zM2921 2073l21 63l19 56l-20-135z"/><path class="j4" d="M2189 2095l19 43l18-33l-19 28zM2302 2082l19-8l18 81l-19-72zM2396 2076l19 20l19 40l-20-27zM2415 2096l20-1l19-4l-20 45zM2704 2094l20-19l19-12l-20 53zM2723 2116l20-53l19 15l-20-6z"/><path class="j5" d="M2454 2091l19-10l19-16l-20 19zM2510 2072l20-2l19 10l-20-6zM2646 2123l20-33l19-7l-20-17zM2724 2075l20 59l19-47l-20-24zM2901 2117l20-44l20-16l-21-1z"/><path class="j6" d="M2282 2136l20-54l18 1l-20 70zM2529 2074l20 6l19-33l-20 24zM2549 2080l20-20l19 51l-20-64zM2608 2084l20 69l18-30l-20-48zM2743 2063l20 24l19 0l-20-9zM2842 2077l20 64l20-70l-21 41z"/><path class="j7" d="M2376 2071l20 5l18 33l-20 6zM2377 2100l20-14l18 10l-19-20zM2684 2069l20 25l19 22l-20-47zM2801 2044l21 14l19 8l-21-4z"/><path class="j8" d="M2226 2105l20-26l18 32l-20 9zM2244 2120l20-9l18 25l-19-71zM2338 2071l20-9l18 9l-20 1zM2452 2109l20-25l19-4l-20-11zM2491 2080l19-8l19 2l-20 94zM2588 2111l20-27l18-9l-20 1zM2762 2078l20 9l19-43l-20 39zM2880 2105l21 12l19-61l-21 98zM2882 2071l20 16l19-14l-20 44z"/><path class="j9" d="M2225 2108l19 12l19-55l-20 33zM2414 2109l20 27l18-27l-20-24zM2568 2047l20 64l18-35l-20-5zM2665 2066l20 17l19 11l-20-25zM2822 2058l20 19l19 35l-20-46z"/><path class="j10" d="M2472 2084l20-19l18 7l-19 8zM2492 2065l20 31l18-26l-20 2zM2530 2070l20 50l19-60l-20 20zM2645 2107l20-41l19 3l-20-4zM2763 2087l21 3l19-15l-21 12z"/><path class="j11" d="M2263 2065l19 71l18 17l-19-82zM2626 2075l20 48l19-57l-20 41zM2685 2083l20 4l19-12l-20 19z"/><path class="j12" d="M2300 2153l20-70l18-12l-20-5z"/><path class="j13" d="M2320 2083l19 72l19-93l-20 9z"/><path class="j14" d="M2569 2060l20 93l19-69l-20 27z"/><path class="j15" d="M2782 2087l21-12l19-17l-21-14z"/><path class="j16" d="M2358 2062l19 38l19-24l-20-5zM2803 2075l20-29l19 31l-20-19z"/><path class="j18" d="M2264 2111l19-17l19-12l-20 54z"/><path class="j1" d="M2436 2095l20 32l18 48l-19 23z"/><path class="j2" d="M2190 2091l19 31l19-20l-20 36zM2398 2113l20 45l18-63l-19 46zM2589 2153l20-60l19 60l-20-69zM2864 2109l20-1l19-14l-20 72z"/><path class="j3" d="M2208 2138l20-36l18-23l-20 26zM2359 2134l20-40l18-8l-20 14zM2435 2095l20 103l18-117l-19 10zM2706 2130l21-36l19 35l-21-39zM2883 2166l20-72l20-6l-21-1zM2903 2094l21 35l19-30l-20-11zM2943 2099l20-1l20 10l-21-5z"/><path class="j4" d="M2172 2150l19-41l18 13l-19-31zM2228 2102l19-4l18-13l-19-6zM2246 2079l19 6l18 9l-19 17zM2590 2094l20 18l19-15l-20-4zM2823 2046l20 72l19 23l-20-64zM2923 2088l20 11l19 4l-20 33z"/><path class="j5" d="M2135 2085l19 12l18 53l-19-80zM2265 2085l19-7l19 49l-20-33zM2303 2127l19-24l19-19l-20-10zM2341 2084l19 2l19 8l-20 40zM2512 2096l19-18l19 42l-20-50zM2666 2090l20 73l19-76l-20-4zM2668 2117l20 26l18-13l-20 33zM2725 2090l21 39l19-36l-21 41zM2843 2118l21-9l19 57l-21-25zM2942 2136l20-33l20-18l-21 107z"/><path class="j6" d="M2153 2070l19 80l18-59l-19 72zM2171 2163l19-72l18 47l-19-43zM2284 2078l20 52l18-27l-19 24zM2455 2198l19-23l19-61l-20-33zM2550 2120l20-39l19 72l-20-93zM2609 2093l20 4l19-6l-20 62zM2648 2091l20 26l18 46l-20-73zM2744 2134l21-41l19-3l-21-3zM2785 2151l20-26l19-27l-20-5z"/><path class="j7" d="M2283 2094l20 33l18-53l-19 8zM2379 2094l19 19l19 28l-20-55zM2397 2086l20 55l18-46l-20 1zM2551 2103l20-29l19 20l-20-13zM2686 2163l20-33l19-40l-20-3zM2765 2093l20 58l19-58l-20-3z"/><path class="j8" d="M2321 2074l20 10l18 50l-20 21zM2784 2090l20 3l19-47l-20 29z"/><path class="j9" d="M2473 2081l20 33l19-18l-20-31zM2862 2141l21 25l19-79l-20-16zM2983 2108l20-19l20 22l-21-33z"/><path class="j10" d="M2247 2098l19 54l18-74l-19 7zM2513 2097l20 54l18-48l-20-25zM2531 2078l20 25l19-22l-20 39zM2570 2081l20 13l19-1l-20 60zM2746 2129l20-37l19 59l-20-58zM2824 2098l20-1l20 12l-21 9z"/><path class="j11" d="M2209 2122l20-13l18-11l-19 4zM2628 2153l20-62l18-1l-20 33zM2629 2097l20 19l19 1l-20-26z"/><path class="j12" d="M2322 2103l20 6l18-23l-19-2zM2962 2103l21 5l19-30l-20 7z"/><path class="j13" d="M2360 2086l20 27l18 0l-19-19zM2493 2114l20-17l18-19l-19 18zM2804 2093l20 5l19 20l-20-72zM2902 2087l21 1l19 48l-21-63z"/><path class="j15" d="M2474 2175l20-30l19-48l-20 17zM2705 2087l20 3l19 44l-20-59z"/><path class="j16" d="M2417 2141l19-46l19 103l-20-103z"/><path class="j1" d="M2099 2161l19-34l18-4l-19 23zM2248 2148l19-11l18 56l-19-41z"/><path class="j2" d="M2210 2152l20-44l18 40l-19-39zM2323 2137l20-8l18-20l-19 0zM2418 2158l19-11l19-20l-20-32zM2766 2092l20 23l19 10l-20 26zM3044 2121l21 6l19-24l-20 27z"/><path class="j3" d="M2173 2125l19 33l18-6l-19-43zM2361 2109l20 31l18-44l-19 17zM2380 2113l19-17l19 62l-20-45zM2456 2127l19-27l19 45l-20 30zM2610 2112l20 48l19-44l-20-19zM2884 2108l20-17l20 38l-21-35zM2885 2138l20-28l20 75l-21-94zM2924 2129l20-27l19-4l-20 1zM3004 2163l21-51l19 9l-20-37z"/><path class="j4" d="M2118 2127l19-14l18 50l-19-40zM2230 2108l19-6l18 35l-19 11zM2630 2160l20 44l19-103l-20 15zM2688 2143l20 49l19-98l-21 36zM2747 2099l20 3l19 13l-20-23zM2786 2115l20-23l19 10l-20 23zM2944 2102l20 4l20-4l-21-4z"/><path class="j5" d="M2342 2109l19 0l19 4l-20-27zM2533 2151l19-63l19-14l-20 29zM2611 2104l20 57l19 43l-20-44zM2805 2125l20-23l19-5l-20 1zM3003 2089l21-5l19 2l-20 25z"/><path class="j6" d="M2081 2114l19 84l18-71l-19 34zM2155 2163l19-30l18 25l-19-33zM2266 2152l19 41l19-63l-20-52zM2304 2130l19 7l19-28l-20-6zM2399 2096l20 45l18 6l-19 11zM2495 2110l20 6l19-7l-20-5zM2514 2104l20 5l18-21l-19 63zM2728 2111l20-3l19-6l-20-3zM2925 2185l20-32l19-47l-20-4z"/><path class="j7" d="M2154 2097l19 28l18-16l-19 41zM2267 2137l19-23l19 13l-20 66zM2305 2127l19-2l19 4l-20 8zM2343 2129l19 44l19-33l-20-31zM2494 2145l20-41l19 47l-20-54zM2844 2097l21 4l19 7l-20 1zM2904 2091l21 94l19-83l-20 27zM2964 2106l21 0l19 57l-20-61z"/><path class="j8" d="M2285 2193l20-66l18 10l-19-7zM2381 2140l19-19l19 20l-20-45zM2419 2141l19-33l19-3l-20 42zM2437 2147l20-42l18-5l-19 27zM2475 2100l20 10l19-6l-20 41zM2669 2101l19 9l20 82l-20-49zM2825 2102l20-6l20 5l-21-4z"/><path class="j9" d="M2229 2109l19 39l18 4l-19-54zM2571 2074l20 32l19 6l-20-18zM2572 2112l20 77l19-85l-20 2zM2649 2116l20-15l19 42l-20-26zM2708 2192l20-81l19-12l-20-5zM2865 2101l20 37l19-47l-20 17zM2963 2098l21 4l19-13l-20 19zM3024 2084l20 37l20 9l-21-44z"/><path class="j10" d="M2117 2146l19-23l18-26l-19-12zM2191 2109l19 43l19-43l-20 13zM2192 2158l19-51l19 1l-20 44zM2534 2109l19 122l19-119l-20-24zM2591 2106l20-2l19 56l-20-48z"/><path class="j11" d="M2767 2102l20 10l19-20l-20 23zM2845 2096l21 5l19 37l-20-37z"/><path class="j12" d="M2136 2123l19 40l18-38l-19-28zM2457 2105l19-2l19 7l-20-10zM2984 2102l20 61l20-79l-21 5z"/><path class="j14" d="M2552 2088l20 24l19-6l-20-32zM2727 2094l20 5l19-7l-20 37z"/><path class="j15" d="M2688 2110l20 6l20-5l-20 81z"/><path class="j16" d="M2650 2204l19-91l19-3l-19-9zM2806 2092l20 21l19-17l-20 6z"/><path class="j0" d="M2343 2164l20 28l18-6l-19-13z"/><path class="j1" d="M2212 2180l19-33l19 3l-20 15z"/><path class="j2" d="M2081 2125l19 46l18 4l-18 23zM2325 2172l19 8l19 12l-20-28zM2534 2118l20 8l19 72l-20 33zM2553 2231l20-33l19-9l-20-77zM3025 2112l20 75l20-60l-21-6z"/><path class="j3" d="M2174 2133l19-11l18-15l-19 51zM2286 2114l20 1l18 10l-19 2zM2287 2107l19 33l19 32l-19-57zM2362 2173l19 13l19-65l-19 19zM2515 2116l19 2l19 113l-19-122zM2515 2131l20-5l19 0l-20-8zM2689 2114l20 78l19-35l-20-41zM2768 2157l20-2l19 0l-20-43zM2788 2155l20 14l19-57l-20 43zM2886 2096l20 81l19-13l-20-54zM2985 2106l20 8l20-2l-21 51z"/><path class="j4" d="M2137 2118l19 30l19-24l-19-2zM2306 2115l19 57l18-8l-19-39zM2400 2121l19-13l19 0l-19 33zM2439 2124l19-10l19-9l-19 83zM2458 2188l19-83l19 14l-20-16zM2945 2153l20-54l20 7l-21 0zM2946 2158l20-47l19 77l-20-89zM3085 2103l21 22l20-9l-21-3z"/><path class="j5" d="M2044 2117l19 12l18-4l-19-23zM2324 2125l19 39l19 9l-19-44zM2381 2186l20-82l18 4l-19 13zM2438 2108l20 80l18-85l-19 2zM2477 2105l20 7l18 19l-19-12zM2650 2106l20-2l19 10l-20-1zM2748 2129l20-14l20 40l-20 2zM2827 2112l20 21l19 4l-20-50zM2905 2110l20 54l20-11l-20 32zM3025 2120l21-4l20 14l-21 57zM3106 2125l20 1l20-6l-20-4z"/><path class="j6" d="M2063 2129l19 0l18 42l-19-46zM2100 2198l18-23l19-62l-19 14zM2137 2113l19 9l18 11l-19 30zM2193 2122l19 58l18-15l-19-58zM2250 2150l19 34l18-77l-19 8zM2670 2104l20 60l19 28l-20-78zM2728 2157l20-28l20 28l-20-49zM2748 2108l20 49l19-45l-20-10zM2925 2164l21-6l19-59l-20 54zM3045 2187l21-57l19-27l-20 24z"/><path class="j7" d="M2062 2102l19 23l19 73l-19-84zM2100 2171l19-60l18 7l-19 57zM2156 2122l19 2l18-2l-19 11zM2175 2124l19 10l18 46l-19-58zM2230 2165l20-15l18-35l-19-13zM2249 2102l19 13l18-1l-19 23zM2631 2096l20 36l19-28l-20 2zM2709 2192l20-74l19 11l-20 28zM2985 2188l21-38l19-30l-20-6zM3005 2114l20 6l20 67l-20-75z"/><path class="j8" d="M2363 2192l19-81l19-7l-20 82zM2476 2103l20 16l19-3l-20-6zM2554 2126l20 60l19-64l-20 76zM2631 2161l19-55l19 7l-19 91zM2826 2113l20-26l20 14l-21-5zM2846 2087l20 50l20-41l-20 5zM2866 2101l20-5l19 14l-20 28zM2906 2177l20-5l20-14l-21 6zM3065 2127l20-24l20 10l-21-10z"/><path class="j9" d="M2211 2107l19 58l19-63l-19 6zM2593 2122l19 4l19-30l-19 50zM2612 2146l19-50l19 10l-19 55zM3066 2130l20-4l20-1l-21-22z"/><path class="j10" d="M2118 2175l19-57l19 4l-19-9zM2268 2115l19-8l19 8l-20-1zM2496 2119l19 12l19-13l-19-2zM2669 2113l20 1l19 2l-20-6z"/><path class="j11" d="M2401 2104l19 47l19-27l-20-16zM2573 2198l20-76l19 24l-20 43zM2592 2189l20-43l19 15l-20-57zM2708 2116l20 41l20-49l-20 3zM2866 2137l20 49l20-9l-20-81z"/><path class="j12" d="M2419 2108l20 16l19 64l-20-80zM2965 2099l20 89l20-74l-20-8z"/><path class="j13" d="M2026 2161l19 16l18-48l-19-12z"/><path class="j16" d="M2807 2155l20-43l19-25l-20 26z"/><path class="j17" d="M2787 2112l20 43l19-42l-20-21z"/><path class="j1" d="M2194 2134l19 46l18-33l-19 33zM2383 2190l19-7l19-20l-20-13z"/><path class="j2" d="M1990 2138l19 82l18-85l-19 22zM2008 2157l19-22l18 42l-19-16zM2045 2177l19 5l18-53l-19 0zM2231 2147l19-19l19 56l-19-34zM2307 2200l19-41l19 14l-19-19zM2459 2130l19 58l19-28l-19 16zM2690 2164l20-34l19-12l-20 74zM2808 2169l20 14l19-50l-20-21zM2828 2183l20-59l19 24l-20-15zM2847 2133l20 15l19 38l-20-49z"/><path class="j3" d="M2213 2180l19-39l18-13l-19 19zM2632 2177l20 28l19 7l-20-80zM3126 2126l21-5l20 15l-21-16z"/><path class="j4" d="M2083 2155l18 22l19-25l-19 20zM2119 2111l19 38l18-1l-19-30zM2120 2152l19-13l18-1l-19 11zM2156 2148l19-34l19 20l-19-10zM2175 2114l19 38l19 28l-19-46zM2269 2184l19-73l18 29l-19-33zM2420 2151l20-29l18-8l-19 10zM2574 2186l19-81l19 21l-19-4zM2651 2132l20 80l19-48l-20-60zM2671 2212l20-92l19 10l-20 34zM2867 2148l20-7l20 46l-21-1zM2907 2187l20-54l19-19l-20 58zM3066 2131l21 6l19-14l-20 3z"/><path class="j5" d="M2046 2180l18-47l19 22l-19 27zM2138 2149l19-11l18-24l-19 34zM2710 2130l20 2l19 0l-20-14zM2769 2127l20 18l19-13l-20-37zM2966 2166l21-53l19 4l-20 6zM2986 2123l20-6l20 22l-20 11zM3087 2137l20-8l20-5l-21-1zM3127 2124l20 22l20 2l-20-27z"/><path class="j6" d="M2269 2129l19 7l19 64l-19-89zM2421 2163l19-29l19-4l-19-8zM2478 2176l19-16l19-40l-19-8zM2593 2105l20 27l19 45l-20-51zM2613 2132l19 56l20 17l-20-28zM3006 2117l21 20l19-31l-20 33zM3046 2116l20 15l20-5l-20 4zM3147 2121l20 27l20-23l-20 11z"/><path class="j7" d="M2027 2135l19 45l18 2l-19-5zM2064 2182l19-27l18 17l-19-43zM2082 2129l19 43l18-61l-19 60zM2194 2152l19-22l19 11l-19 39zM2382 2111l19 39l19 1l-19-47zM2536 2136l19 66l19-74l-19-13zM2574 2128l20 76l19-72l-20-27zM2691 2120l19 10l20 2l-20-2zM2730 2132l19 23l20-28l-20 5zM2749 2132l20-5l19-32l-20 20zM2887 2141l20-14l20 6l-20 54zM2966 2111l20 12l20 27l-21 38zM3046 2106l21 60l20-29l-21-6zM3086 2126l20-3l20 3l-20-1z"/><path class="j8" d="M2009 2220l19-59l18 19l-19-45zM2232 2141l19 12l18-24l-19-1zM2288 2111l19 89l19-46l-20-14zM2345 2173l19-38l19 55l-20-39zM2363 2151l20 39l18-40l-19-39zM2458 2114l20 62l19-64l-20-7zM2497 2160l20-16l19-8l-20-16zM2535 2126l20-11l19 71l-20-60zM2768 2115l20-20l20 74l-20-14zM2788 2095l20 37l20 51l-20-14zM2808 2132l20 22l20-30l-20 59zM2886 2186l21 1l19-15l-20 5zM3026 2139l20-33l20 25l-20-15z"/><path class="j9" d="M2101 2172l19-20l18-3l-19-38zM2326 2154l19 19l18-22l-19 29zM2440 2122l19 8l19 46l-20-62zM2497 2112l19 8l19 6l-20 5zM2555 2115l19 13l19-23l-19 81zM2729 2118l20 14l19-17l-20 14zM3006 2150l20-11l20-23l-21 4z"/><path class="j10" d="M1972 2130l19 8l18 82l-19-82zM2306 2140l20 14l18 26l-19-8zM2401 2150l20 13l19-41l-20 29z"/><path class="j11" d="M2157 2138l19-6l18 20l-19-38zM2344 2180l19-29l19-40l-19 81zM2652 2205l19-26l20-59l-20 92zM2848 2124l20 2l19 15l-20 7zM2946 2114l20 52l20-43l-20-12zM3167 2148l21 16l20-28l-21-11z"/><path class="j12" d="M2926 2172l20-58l20-3l-20 47z"/><path class="j13" d="M2250 2128l19 1l19-18l-19 73zM2612 2126l20 51l19-45l-20-36z"/><path class="j14" d="M2927 2133l20 5l19 28l-20-52z"/><path class="j16" d="M3106 2123l21 1l20-3l-21 5z"/><path class="j17" d="M2516 2120l20 16l19-21l-20 11z"/><path class="j1" d="M1918 2208l18-51l19 42l-19-37zM1955 2199l18 7l18-1l-18-68zM2652 2184l20 44l19-86l-20 37z"/><path class="j2" d="M2028 2194l19-18l18-1l-19-25zM2101 2177l19 7l19-45l-19 13zM2288 2136l19 32l19-9l-19 41zM2555 2202l20-43l19 45l-20-76zM2672 2228l19-35l20-47l-20-4z"/><path class="j3" d="M1991 2205l19-21l18 10l-19-55zM2009 2139l19 55l18-44l-18 11zM2102 2149l19-1l18 99l-19-63zM2176 2185l19-2l19-36l-19 71zM2270 2215l19-73l18 26l-19-32zM2307 2168l19-31l19 2l-19 20zM2459 2131l20 32l19-6l-20 31zM2594 2204l19-62l19 46l-19-56zM2633 2140l19 3l20 85l-20-44zM2750 2160l20-10l19 14l-20 43zM3168 2130l20 24l20 12l-20-2zM3188 2164l20 2l20 5l-20-35z"/><path class="j4" d="M1973 2137l18 68l18-66l-18-1zM2195 2218l19-71l18-9l-19-8zM2710 2130l20 11l19 14l-19-23zM3067 2129l20 20l20 12l-20-20zM3147 2146l21-16l20 34l-21-16zM3148 2144l20 19l20-9l-20-24z"/><path class="j5" d="M1954 2142l19-5l18 1l-19-8zM1991 2138l18 1l19 22l-19 59zM2064 2133l19-2l18 46l-18-22zM2139 2139l18 56l19-63l-19 6zM2345 2139l19 12l19-25l-19 9zM2364 2135l19-9l19 57l-19 7zM2498 2157l19-17l19-36l-19 40zM2632 2188l20-4l19-5l-19 26zM2671 2179l20-37l19-12l-19-10zM2730 2141l20 19l19 47l-20-52zM2809 2182l19-48l20 86l-20-66zM2828 2154l20 66l20-94l-20-2zM2868 2126l19 6l20-5l-20 14zM3027 2138l20 53l20-62l-20 23zM3208 2166l21-33l20-19l-21 57z"/><path class="j6" d="M1936 2162l19 37l18-62l-19 5zM2326 2159l19-20l19-4l-19 38zM2383 2126l19 0l19 16l-19 41zM2402 2183l19-41l19-8l-19 29zM2517 2144l19-40l19 98l-19-66zM2769 2207l20-43l20 18l-20-37zM2789 2164l20-24l19-6l-19 48zM2907 2127l20 2l20 9l-20-5zM3047 2152l20-23l20 12l-20 25zM3107 2129l20-9l20 26l-20-22z"/><path class="j7" d="M2120 2184l19 63l18-52l-18-56zM2364 2151l19-26l19 1l-19 0zM2478 2188l20-31l19-13l-20 16zM2556 2142l19 23l19 20l-19-26zM2691 2142l20 4l19-5l-20-11zM2711 2146l19 79l20-65l-20-19zM2789 2145l20 37l19-28l-20-22zM2868 2146l20 0l20 1l-21-15zM2887 2132l21 15l19-18l-20-2zM2927 2129l20 7l20-9l-20 11zM3007 2131l20 7l20 14l-20-15zM3087 2141l20 20l20-41l-20 9z"/><path class="j8" d="M2083 2131l19 18l18 35l-19-7zM2157 2195l19-10l19 33l-19-86zM2232 2138l19 68l19 9l-19-62zM2251 2153l19 62l18-79l-19-7zM2575 2159l19 26l19-43l-19 62zM2848 2220l20-74l19-14l-19-6zM2947 2138l20-11l20-14l-21 53zM3027 2137l20 15l20 14l-21-60zM3107 2161l21-32l20 15l-21-24zM3127 2120l21 24l20-14l-21 16z"/><path class="j9" d="M2046 2150l19 25l18-44l-19 2zM2065 2175l18-29l19 3l-19-18zM2139 2247l19-93l18 31l-19 10zM2214 2147l18 38l19 21l-19-68zM2440 2134l19-3l19 57l-19-58zM2613 2142l20-2l19 44l-20 4zM2749 2155l20 52l20-62l-20-18zM2967 2127l20 38l20-34l-20-18zM2987 2165l20 14l20-41l-20-7zM3188 2154l21-15l20-6l-21 33zM3229 2133l20 7l20 4l-20-30z"/><path class="j10" d="M2213 2130l19 8l19 15l-19-12zM2421 2142l19-4l19-7l-19 3zM2479 2163l19 24l19-47l-19 17z"/><path class="j11" d="M2028 2161l18-11l18-17l-18 47zM2176 2132l19 86l18-88l-19 22zM2289 2142l19 33l18-38l-19 31zM2326 2137l20 44l18-30l-19-12zM2440 2138l20 21l19 4l-20-32zM2908 2147l20 4l19-15l-20-7zM2947 2136l20 3l20 26l-20-38zM3067 2166l20-25l20-12l-20 8z"/><path class="j12" d="M2251 2206l19-53l19-11l-19 73zM2536 2104l20 38l19 17l-20 43zM2594 2185l20-78l19 33l-20 2z"/><path class="j14" d="M2402 2126l20 13l18-1l-19 4zM2987 2113l20 18l20 6l-21-20z"/><path class="j16" d="M2517 2140l19 0l20 2l-20-38zM2828 2134l20 50l20-38l-20 74z"/><path class="j2" d="M2084 2251l18-86l19 14l-19 47zM2158 2154l19 35l18-6l-19 2zM2422 2175l19 36l19-26l-19-1zM2652 2143l20 14l19 36l-19 35zM2809 2186l20-23l20 60l-20-77zM2987 2184l20-24l20 15l-20 4zM3088 2212l20-30l20 34l-20-77z"/><path class="j3" d="M2028 2233l19-66l18-10l-18 19zM2065 2157l19 94l18-25l-19-80zM2498 2155l20 35l19-12l-20-28zM2672 2157l20 1l19 23l-20 12zM2711 2181l20-22l19-1l-20 67zM2868 2168l20 13l20-37l-20 2zM2928 2173l20 64l20-33l-20-30zM2948 2174l20 30l19-20l-20-45zM3047 2191l20-12l20-30l-20-20zM3168 2163l20-11l21-13l-21 15z"/><path class="j4" d="M1973 2168l19-13l18-12l-19 45zM2047 2176l18-19l18-11l-18 29zM2102 2226l19-47l18-24l-18-7zM2139 2155l19 14l19 20l-19-35zM2441 2184l19 1l19-23l-19-3zM2789 2148l20 38l20-40l-20-6zM2848 2184l20-16l20-22l-20 0zM2849 2223l19-59l20 17l-20-13zM2928 2151l20 23l19-35l-20-3zM3209 2139l20 22l20-21l-20-7z"/><path class="j5" d="M1936 2157l19 57l18-8l-18-7zM1955 2214l18-46l18 20l-18 18zM2010 2184l18 49l19-57l-19 18zM2010 2143l18 51l19-27l-19 66zM2270 2147l19 67l19-54l-19 14zM2289 2174l19-14l19 20l-19-5zM2346 2153l19 17l19-9l-19-25zM2517 2150l20 28l19-22l-20-16zM2594 2155l20-4l19 31l-19-75zM2614 2151l19 3l20 23l-20 5zM2731 2159l19 38l20-46l-20 7zM2770 2150l19-2l20-8l-20 24zM2829 2146l20 77l19-55l-20 16zM2888 2146l20-2l20 7l-20-4zM2968 2204l20-46l19 2l-20 24z"/><path class="j6" d="M1937 2157l18 4l18 7l-18 46zM2083 2146l19 80l19-78l-19 1zM2232 2185l19-27l19-5l-19 53zM2251 2158l19-11l19 27l-19-21zM2308 2175l19 5l19 1l-20-44zM2327 2180l19-27l19-17l-19 45zM2365 2136l19 25l19-15l-20-21zM2498 2187l19-37l19-10l-19 0zM2556 2156l19 3l19-4l-19 10zM2750 2158l20-7l19-3l-19 2zM3007 2179l20-4l20 16l-20-53zM3047 2198l21 14l20 0l-21-33zM3168 2155l21 40l20-57l-21 14z"/><path class="j7" d="M1900 2192l18 25l18-60l-18 51zM1973 2206l18-18l19-4l-19 21zM2121 2179l18-23l19 13l-19-14zM2195 2183l19-38l18 40l-18-38zM2346 2181l19-45l18-11l-19 26zM2460 2185l19-42l19 12l-19 7zM2575 2159l20 20l19-28l-20 4zM2633 2182l20-5l19-20l-20-14zM2691 2193l20-12l19 44l-19-79zM2692 2158l19-28l20 29l-20 22zM2770 2151l20-16l19 51l-20-38zM2967 2139l20 45l20-5l-20-14zM3128 2216l20-24l20-37l-20-2z"/><path class="j8" d="M2047 2167l18-10l19 94l-19-94zM2158 2169l19-14l18-3l-18 37zM2214 2145l19 14l18-1l-19 27zM2403 2146l19 29l19 9l-19-45zM2536 2140l20 16l19 9l-19-23zM2575 2165l19-10l20-48l-20 78zM2809 2140l20 6l19 38l-20-50zM2908 2144l20 29l20 1l-20-23zM3087 2149l21-10l20-10l-21 32zM3188 2152l21-14l20 23l-20-22zM3229 2161l20 67l21-76l-21-12zM3249 2140l21 12l20-11l-21 3z"/><path class="j9" d="M1918 2217l19-60l18 57l-19-57zM1991 2188l19-45l18 90l-18-49zM2121 2148l18 7l19-1l-19 93zM2383 2125l20 21l19-7l-20-13zM2422 2139l19 45l19-25l-20-21zM2460 2159l19 3l19 25l-19-24zM2888 2181l20 35l20-43l-20-29zM3128 2129l20 24l20 10l-20-19zM3209 2138l20 12l20 78l-20-67z"/><path class="j10" d="M2177 2189l18-37l19-7l-19 38zM2270 2153l19 21l19 1l-19-33zM2479 2162l19-7l19-5l-19 37zM3067 2179l21 33l20-73l-21 10z"/><path class="j11" d="M2233 2159l19-3l18-9l-19 11zM2308 2160l19 1l19-8l-19 27zM2384 2161l19 6l19 8l-19-29zM2537 2178l19-19l19 0l-19-3zM2614 2107l19 75l19-39l-19-3zM3007 2160l20 55l20-17l-20-23zM3027 2175l20 23l20-19l-20 12zM3108 2139l20 77l20-63l-20-24z"/><path class="j12" d="M2195 2152l19 41l19-34l-19-14zM2653 2177l19-44l20 25l-20-1z"/><path class="j13" d="M3148 2153l20 2l20-3l-20 11z"/><path class="j14" d="M2730 2225l20-67l20-8l-20 10z"/><path class="j1" d="M2308 2235l19 52l19-85l-19-41zM2422 2197l19 56l19-57l-19 15zM3088 2168l20 79l20-16l-20-49z"/><path class="j2" d="M2327 2287l19 20l19-146l-19 41zM2948 2237l20-65l20-14l-20 46zM2948 2193l20-19l20 7l-20-9zM3027 2215l21-12l20 9l-21-14z"/><path class="j3" d="M2010 2214l18-50l19 19l-19 11zM2047 2183l18 10l19-15l-19-21zM2065 2157l19 21l18-13l-18 86zM2177 2175l18 4l19 17l-19-33zM2214 2193l19-12l19-25l-19 3zM2270 2170l19 64l19 1l-19-21zM2365 2170l19-4l19 1l-19-6zM2403 2167l19 30l19 14l-19-36zM2518 2190l19 32l19-63l-19 19zM2518 2173l19-1l19 1l-19 49zM2556 2159l19 38l20-18l-20-20zM2888 2159l20 28l20-38l-20 67zM3108 2247l20-79l20-15l-20 78z"/><path class="j4" d="M2065 2193l19 49l18-76l-18 12zM2479 2143l19 19l20 28l-20-35zM2653 2232l19-34l20-32l-20-33zM2711 2130l20 71l19-4l-19-38zM2849 2156l19 7l20-4l-20 5zM3008 2175l20 16l20 12l-21 12zM3128 2231l20-78l20-6l-20 45z"/><path class="j5" d="M1973 2217l19-70l18 67l-18-59zM2102 2166l19 24l18-34l-18 60zM2289 2234l19 23l19 30l-19-52zM2403 2196l19-18l19 75l-19-56zM2441 2211l19-15l19-53l-19 42zM2460 2196l19-35l19 1l-19-19zM2595 2166l19 10l19-1l-19-14zM2672 2198l20-21l19-16l-19 5zM2692 2166l19-5l20 40l-20-71zM2988 2158l20 17l19 40l-20-55zM3068 2212l20-44l20 14l-20 30zM3168 2147l21 19l20-19l-20 48z"/><path class="j6" d="M2384 2166l19 30l19 1l-19-30zM2614 2161l19 14l20 57l-20-78zM2633 2154l20 78l19-99l-19 44zM2633 2175l20-4l19 27l-19 34zM2750 2197l20 7l20-69l-20 16zM2809 2164l20-5l20-3l-20 7zM2868 2164l20-5l20 57l-20-35zM2968 2172l20 9l20-6l-20-17zM3148 2192l20-45l21 48l-21-40z"/><path class="j7" d="M1955 2161l18 56l19-62l-19 13zM1992 2147l18 21l18-4l-18 50zM2102 2165l19 51l18-60l-18 23zM2158 2174l19 1l18-12l-18-8zM2177 2155l18 8l19 30l-19-41zM2537 2222l19-49l19 24l-19-38zM2770 2204l20-43l19 3l-19-29zM2908 2216l20-67l20 88l-20-64zM3108 2182l20 49l20-39l-20 24z"/><path class="j8" d="M2214 2196l19-24l19 47l-19-38zM2252 2156l18 14l19 44l-19-67zM2252 2219l18-54l19 69l-19-64zM2327 2161l19 41l19-32l-19-17zM2731 2201l19-13l20 16l-20-7zM2750 2188l20 125l20-152l-20 43zM2868 2163l20 12l20 12l-20-28z"/><path class="j9" d="M1992 2155l18 59l18-20l-18-51zM2084 2178l18-12l19 50l-19-51zM2121 2216l18-60l19 18l-19-18zM2289 2214l19 21l19-74l-19-1zM2575 2197l20-31l19-5l-19 18zM2672 2133l20 33l19-36l-19 28zM2928 2149l20 44l20-21l-20 65zM2988 2181l19-19l21 29l-20-16zM3048 2203l20-44l20 9l-20 44zM3068 2159l20 19l20 69l-20-79z"/><path class="j10" d="M2028 2194l19-11l18-26l-18 10zM2365 2161l19 17l19 18l-19-30zM2595 2179l19-18l19-7l-19-3zM2829 2163l20-7l19 8l-19 59z"/><path class="j11" d="M2233 2181l19 38l18-49l-18-14zM2441 2253l19-52l19-40l-19 35zM2498 2162l20 11l19 49l-19-32zM2556 2173l19 1l20-8l-20 31zM2790 2161l19 9l20-11l-20 5zM3028 2191l20-22l20-10l-20 44z"/><path class="j12" d="M2139 2156l19 18l19-19l-19 14zM2139 2156l19 26l19-7l-19-1zM2829 2159l20 3l19 1l-19-7zM2908 2187l20-21l20 27l-20-44zM3189 2195l20-48l20 3l-20-12z"/><path class="j13" d="M2346 2202l19-41l19 5l-19 4zM3148 2153l20 14l21-1l-21-19z"/><path class="j14" d="M2479 2161l19 5l20 7l-20-11z"/><path class="j16" d="M2195 2163l19 33l19-15l-19 12zM2711 2161l20-10l19 37l-19 13z"/><path class="j20" d="M2790 2135l19 29l20-1l-20 23z"/><path class="j21" d="M2028 2164l19-17l18 46l-18-10z"/><path class="j0" d="M2308 2257l19-39l19 89l-19-20z"/><path class="j2" d="M2327 2218l19-54l19 50l-19 93zM2731 2184l19 46l20-50l-20 36zM3027 2201l20 39l20-63l-19-8z"/><path class="j3" d="M2289 2217l19-35l19 36l-19 39zM2346 2307l19-93l19-36l-19-17zM2460 2209l19-24l19 18l-19-34zM2498 2203l19-19l20 63l-20-86zM2633 2272l20-94l19 21l-19-28zM2731 2151l19 65l20 97l-20-125zM2750 2216l20-36l19-7l-19 140zM2770 2180l19 27l20-26l-20-8zM2908 2201l20-17l20-6l-20-12zM2967 2192l20 9l20-9l-20-25zM3088 2178l20 0l20-10l-20 79z"/><path class="j4" d="M2158 2182l19-7l18 4l-18-4zM2308 2182l19 23l19-41l-19 54zM2365 2214l19-1l19-66l-19 31zM2422 2178l19 28l19-5l-19 52zM2441 2206l19 3l19-40l-19 32zM2537 2172l19-6l19 8l-19-1zM2711 2169l20 15l19 32l-19-65zM2868 2170l20-7l20 38l-20-26zM2888 2163l20 22l20-1l-20 17zM3048 2169l19 8l21 1l-20-19zM3067 2177l21-23l20 24l-20 0z"/><path class="j5" d="M2047 2183l18 71l19-73l-19-11zM2270 2187l19-1l19-4l-19 35zM2460 2201l19-32l19-3l-19-5zM2537 2247l19-67l19 48l-19-62zM2595 2196l19 51l19 25l-19-96zM2829 2176l19 7l20-13l-19-8zM2948 2178l19 14l20-25l-19 7zM3007 2162l20 39l21-32l-20 22zM3007 2192l20 49l20-1l-20-39zM3108 2178l20 5l20-33l-20 18z"/><path class="j6" d="M2556 2166l19 62l20-32l-20-22zM2575 2174l20 22l19-20l-19-10zM2653 2171l19 28l20-22l-20 21z"/><path class="j7" d="M2065 2170l19 11l18 58l-18 3zM2084 2242l18-3l19-49l-19-24zM2102 2239l19-57l18 2l-18 6zM2121 2190l18-6l19-2l-19-26zM2158 2179l18 5l19-5l-18-4zM2177 2175l18 4l19 10l-19-10zM2195 2179l19 10l19-17l-19 24zM2251 2181l19 6l19 30l-19-52zM2346 2164l19 56l19-7l-19 1zM2384 2178l19-31l19 31l-19 18zM2653 2178l19 11l20-14l-20 24zM2770 2313l19-140l20-3l-19-9zM2888 2175l20 26l20-35l-20 21zM2928 2166l20 12l20-4l-20 19zM2928 2184l19 4l20 4l-19-14z"/><path class="j8" d="M2139 2184l19-5l19-4l-19 7zM2270 2165l19 52l19 40l-19-23zM2403 2147l19 23l19 36l-19-28zM2479 2169l19 34l19-42l-19 5zM2517 2161l20 86l19-81l-19 6zM2789 2173l20 8l20-5l-20-6zM2968 2174l19-7l20-5l-19 19zM3047 2240l20-55l21-31l-21 23z"/><path class="j9" d="M2614 2176l19 96l20-101l-20 4zM2672 2199l20-24l19-6l-19 8zM2809 2181l20-19l19 21l-19-7z"/><path class="j10" d="M2010 2168l18 4l19-25l-19 17zM2121 2182l18 4l19-7l-19 5zM2195 2179l19 7l19-21l-19 24zM2233 2172l18 9l19-16l-18 54zM2233 2165l18 107l19-85l-19-6zM2498 2166l19-5l20 11l-19 1zM2575 2228l19 0l20 19l-19-51zM2849 2162l19 8l20 5l-20-12z"/><path class="j11" d="M2047 2147l18 23l19 72l-19-49zM2084 2181l18-3l19 4l-19 57zM2384 2213l18-28l20-15l-19-23zM2692 2175l19 12l20-3l-20-15zM2809 2170l20 6l20-14l-20-3zM2848 2183l20 4l20-24l-20 7z"/><path class="j12" d="M2214 2189l19-24l18 16l-18-9zM2422 2170l19 51l19-12l-19-3zM2692 2177l19-8l20-18l-20 10zM3128 2168l20-18l20 17l-20-14z"/><path class="j13" d="M2028 2172l19 11l18-13l-18-23zM2987 2167l20 25l20 9l-20-39zM3088 2154l20 31l20-2l-20-5z"/><path class="j17" d="M2614 2247l19-76l20 7l-20 94z"/><path class="j1" d="M2213 2233l19-4l19 69l-19-63zM2251 2298l19-45l19-55l-19 88z"/><path class="j2" d="M2139 2249l18-33l19-19l-18 27zM2365 2220l18 7l19-42l-18 28zM2364 2215l19 62l19-81l-19 31z"/><path class="j3" d="M2270 2286l19-88l19-15l-19 3zM2345 2171l19 44l19 12l-18-7zM2441 2221l19 10l19-46l-19 24zM2556 2180l19 103l19-55l-19 0zM2769 2260l20-79l20 8l-20 18zM2947 2188l20-12l20 25l-20-9zM2947 2208l20 9l20-22l-20-19z"/><path class="j4" d="M2120 2173l19 76l19-25l-19-38zM2214 2186l18 49l19 37l-18-107zM2251 2272l19 14l19-100l-19 1zM2289 2186l19-3l19 22l-19-23zM2289 2198l18 57l19-74l-18 2zM2421 2196l19 15l20 20l-19-10zM2479 2212l18 16l20-33l-19-16zM2829 2162l19 57l20-32l-20-4zM2868 2187l20 5l20-7l-20-22zM2907 2215l20-29l20 22l-20-23zM2967 2176l20 19l20 31l-20-25zM3027 2190l20 8l20 13l-20-35zM3047 2176l20 35l20-32l-20 6z"/><path class="j5" d="M2083 2195l19 23l18-45l-18 5zM2195 2211l18 22l19 2l-18-49zM2440 2211l19 8l20-7l-19 19zM2750 2243l19 31l20-93l-20 79zM2908 2185l19 0l20 3l-19-4zM3067 2185l20-6l21 6l-20-31z"/><path class="j6" d="M2308 2183l18-2l19-10l-18 34zM2402 2185l19 11l20 25l-19-51zM2402 2196l19 1l19 14l-19-15zM2498 2179l19 16l19-19l-19 8zM2517 2184l19-8l20 4l-19 67zM2594 2216l19-28l20 0l-19-12zM2888 2192l19 23l20-30l-19 0zM2987 2201l20 25l20 15l-20-49z"/><path class="j7" d="M2065 2254l18-59l19-17l-18 3zM2139 2186l19 38l18-40l-18-5zM2158 2224l18-27l19 14l-19-27zM2176 2197l19 12l18 24l-18-22zM2594 2228l20-52l19-5l-19 76zM2614 2176l19 12l19 3l-19-20zM2652 2191l20-1l19-1l-19 0zM2711 2187l19-13l20 56l-19-46zM2730 2174l20 69l19 17l-19-30zM2789 2207l20-18l20-27l-20 19z"/><path class="j8" d="M2102 2218l18-27l19 58l-19-76zM2176 2184l19 27l19-25l-19-7zM2232 2235l19 63l19-12l-19-14zM2479 2185l19-6l19 5l-19 19zM2555 2238l19-36l20 14l-19 67zM2711 2194l19 4l20 45l-20-69zM2750 2230l19 30l20-53l-19-27zM2809 2189l19-4l20 34l-19-57zM2987 2195l20-9l20 4l-20 36zM3007 2226l20-36l20-14l-20 65zM3027 2241l20-65l20 9l-20 55z"/><path class="j9" d="M2327 2205l18-34l20 49l-19-56zM2383 2227l19-31l19 0l-19-11zM2517 2195l19 4l19 39l-19-62zM2575 2283l19-67l20-40l-20 52zM2633 2171l19 20l20-2l-19-11zM2672 2190l19 0l20 4l-20-5zM2691 2189l20 5l19-20l-19 13zM2828 2185l20 0l20 0l-20 34z"/><path class="j10" d="M2102 2178l18-5l19 13l-18-4zM2460 2231l19-19l19-33l-19 6zM2633 2188l19 32l20-30l-20 1zM2672 2189l19 0l20-2l-19-12zM2848 2219l20-34l20 7l-20-5zM2868 2185l19 5l20 25l-19-23zM2927 2185l20 23l20-32l-20 12z"/><path class="j12" d="M2536 2176l19 62l20 45l-19-103z"/><path class="j13" d="M2326 2181l19 29l19 5l-19-44z"/><path class="j16" d="M2789 2181l19 22l20-18l-19 4z"/><path class="j1" d="M2270 2253l18-15l19 17l-18-57z"/><path class="j2" d="M2195 2209l18 0l19 20l-19 4zM2344 2303l19-87l19-4l-18 38zM2729 2220l20-8l20 61l-20-66zM2769 2274l19 21l20-92l-19-22zM2947 2216l19 21l20 20l-19-40z"/><path class="j3" d="M2120 2191l18 48l19-23l-18 33zM2138 2239l19-48l19 30l-19-5zM2194 2211l18 6l19 6l-18-14zM2288 2238l19-2l19-22l-19 41zM2307 2255l19-41l19-4l-19-29zM2307 2236l18 35l19 32l-18-89zM2382 2212l19 3l19-3l-18 39zM2535 2210l19 2l20-8l-19 45zM2671 2213l19 72l20-89l-19-6zM2808 2203l20 64l20-82l-20 0zM2966 2237l20 39l20-84l-20 65z"/><path class="j4" d="M2269 2189l19 62l19-15l-19 2zM2516 2179l19 31l20 39l-19-50zM2594 2268l19-64l19-15l-19-1zM2710 2196l19 24l20-13l-19-9zM2828 2267l19-40l20-35l-19-7zM2887 2190l20 8l20-12l-20 29zM2927 2186l20 30l20 1l-20-9zM2986 2257l20-65l20 65l-19-71z"/><path class="j5" d="M2459 2230l18 30l20-28l-19 22zM2613 2188l19 1l20 31l-19-32zM2613 2204l19-6l19 15l-19-24zM2690 2285l20-91l19 26l-19-24zM2730 2198l19 9l20 67l-19-31zM2769 2273l19 2l20-46l-20 66zM2848 2185l19 7l20-2l-19-5z"/><path class="j6" d="M2213 2209l18 14l19-22l-18 28zM2345 2210l19 40l19 27l-19-62zM2364 2250l18-38l20 39l-19 26zM2420 2212l19 1l20 17l-19-43zM2478 2254l19-22l19-53l-19 49zM2497 2232l19-37l19 15l-19-31zM2574 2204l19-2l20 2l-19 64zM2632 2189l19 24l20 0l-19 7zM2749 2207l20 66l19 22l-19-21zM2808 2229l19 94l20-96l-19 40z"/><path class="j7" d="M2250 2201l19-12l19 49l-18 15zM2383 2277l19-26l19-54l-19-1zM2402 2251l18-39l20-25l-19 10zM2788 2295l20-66l20 38l-20-64zM2887 2206l19 26l20-30l-19-4zM2907 2198l19 4l21 14l-20-30z"/><path class="j8" d="M2421 2197l19-10l19 32l-19-8zM2691 2190l19 6l20 2l-19-4z"/><path class="j9" d="M2157 2191l18 52l19-32l-18 10zM2326 2214l18 89l20-53l-19-40zM2440 2187l19 43l19 24l-19-35zM2536 2199l19 50l19-47l-19 36zM2555 2249l19-45l20 64l-20-66zM2574 2202l20 66l19-80l-19 28zM2651 2213l20-11l19 83l-19-72zM3007 2186l19 71l21-59l-20-8z"/><path class="j10" d="M2232 2229l18-28l20 52l-19 45zM2231 2223l19 51l19-85l-19 12zM2497 2228l19-49l20 20l-19-4zM2926 2202l20 6l20 29l-19-21zM2967 2217l19 40l21-71l-20 9z"/><path class="j11" d="M2157 2216l19 5l19-12l-19-12z"/><path class="j12" d="M2867 2192l20 14l20-8l-20-8z"/><path class="j13" d="M2459 2219l19 35l19-26l-18-16zM2847 2227l20 24l20-45l-20-14z"/><path class="j17" d="M2652 2220l19-7l20-23l-19 0z"/><path class="j18" d="M2176 2221l18-10l19-2l-18 0z"/><path class="j1" d="M2827 2323l20-70l20-2l-20-24z"/><path class="j2" d="M2651 2225l19 28l20-6l-19-45zM2748 2228l19 49l20-59l-19 14zM2946 2208l20 2l20 66l-20-39z"/><path class="j3" d="M2175 2243l18-16l19-10l-18-6zM2268 2225l19-4l19-14l-18 44zM2477 2260l19-23l20-42l-19 37zM2670 2253l19-33l20-1l-19 28zM2867 2251l19-41l20 22l-19-26z"/><path class="j4" d="M2249 2207l19 41l19-27l-19 4zM2288 2251l18-44l19 64l-18-35zM2287 2221l18 7l20-4l-19-17zM2382 2215l18 21l20-27l-19 6zM2477 2215l19-5l19 4l-19 23zM2535 2269l19-48l19-8l-19-1zM2554 2212l19 1l20-11l-19 2zM2593 2202l19 30l20-34l-19 6zM2847 2253l19-26l20-17l-19 41zM2906 2232l20 26l20-50l-20-6z"/><path class="j5" d="M2231 2184l18 23l19 18l-18 49zM2458 2245l19-30l19 22l-19 23zM2592 2217l19-2l20-10l-19 27zM2788 2275l19-84l20 132l-19-94zM2886 2210l20-2l20 50l-20-26zM2906 2208l19 16l20-14l-19 48z"/><path class="j6" d="M2193 2227l19-6l19-37l-19 33zM2250 2274l18-49l20 26l-19-62zM2325 2271l19-36l19-19l-19 87zM2516 2195l19 74l19-57l-19-2zM2632 2198l19 27l20-23l-20 11zM2749 2212l19 20l20 43l-19-2zM2926 2258l19-48l21 0l-20-2z"/><path class="j7" d="M2212 2217l19-33l19 90l-19-51zM2496 2237l19-23l20 55l-19-74zM2631 2205l19 70l20-22l-19-28zM2671 2202l19 45l20-53l-20 91zM2787 2218l19-3l20 14l-19-38z"/><path class="j8" d="M2401 2215l19-6l19 4l-19-1zM2400 2236l19 56l20-7l-19-76zM2573 2213l19 4l20 15l-19-30zM2690 2247l19-28l20 5l-19-30zM2826 2229l20-11l20 9l-19 26z"/><path class="j9" d="M2439 2213l19 32l19 15l-18-30zM2554 2221l18 65l20-69l-19-4zM2710 2194l19 30l20-12l-20 8zM2729 2224l19 4l20 4l-19-20zM2807 2191l19 38l21 24l-20 70zM2866 2227l19-3l21-16l-20 2z"/><path class="j10" d="M2212 2221l18-9l19-5l-18-23zM2344 2235l18 21l20-41l-19 1zM2439 2285l18-10l20-60l-19 30zM2612 2232l19-27l20 20l-19-27z"/><path class="j11" d="M2306 2207l19 17l19 11l-19 36zM2363 2216l19-1l19 0l-19-3zM2362 2256l19-36l19 16l-18-21zM2768 2232l19-14l20-27l-19 84z"/><path class="j12" d="M2420 2209l19 76l19-40l-19-32zM2515 2214l19 109l20-102l-19 48z"/><path class="j13" d="M2325 2224l18 49l19-17l-18-21z"/><path class="j14" d="M2709 2219l19 27l20-18l-19-4z"/><path class="j0" d="M2419 2292l19 3l19-20l-18 10zM2553 2307l19-15l19-38l-19 32z"/><path class="j1" d="M2534 2323l19-16l19-21l-18-65z"/><path class="j2" d="M2362 2242l18 36l20-32l-19-26zM2400 2246l18-23l20 72l-19-3zM2728 2246l19 45l20-14l-19-49zM2727 2233l19 4l20 17l-19 37z"/><path class="j3" d="M2248 2228l19 6l19 14l-18 0zM2305 2228l19 26l19 19l-18-49zM2418 2223l19 24l19 10l-18 38zM2438 2295l18-38l20-40l-19 58zM2865 2264l19-44l21 9l-20-5z"/><path class="j4" d="M2343 2273l19-31l19-22l-19 36zM2611 2215l19 45l20 15l-19-70zM2650 2275l19-69l20 14l-19 33zM2688 2266l19-41l20 8l-19-8zM2767 2277l19-37l20-25l-19 3z"/><path class="j5" d="M2304 2293l19-64l19-21l-18 46zM2457 2275l19-58l20-7l-19 5zM2456 2257l19 5l20 3l-19-48zM2533 2242l19-13l20 63l-19 15zM2591 2254l19-10l20 16l-19-45zM2649 2226l19-5l20 45l-19-60zM2806 2215l20 20l20-17l-20 11zM2826 2235l19 1l20 28l-19-46z"/><path class="j6" d="M2230 2212l18 16l20 20l-19-41zM2268 2248l18 0l19-20l-18-7zM2286 2248l18 45l20-39l-19-26zM2496 2210l18 11l20 102l-19-109zM2572 2292l18-47l20-1l-19 10zM2708 2225l19 8l20 58l-19-45zM2786 2240l19-9l21 4l-20-20z"/><path class="j7" d="M2476 2217l19 48l19-44l-18-11zM2495 2265l18-18l20-5l-19-21zM2610 2244l19-20l20 2l-19 34z"/><path class="j8" d="M2342 2208l19 29l19 41l-18-36zM2572 2286l19-32l20-39l-19 2zM2630 2260l19-34l20-20l-19 69zM2689 2220l19 5l20 21l-19-27zM2885 2224l20 5l20-5l-19-16z"/><path class="j9" d="M2380 2278l19 37l19-92l-18 23zM2747 2291l19-37l20-14l-19 37zM2766 2254l19 19l20-42l-19 9zM2845 2236l19-22l20 6l-19 44z"/><path class="j10" d="M2669 2206l19 60l20-41l-19-5zM2846 2218l19 46l20-40l-19 3z"/><path class="j11" d="M2267 2234l18 45l19 14l-18-45zM2381 2220l19 26l19 46l-19-56z"/><path class="j13" d="M2324 2254l18-46l20 34l-19 31zM2805 2231l20-14l20 19l-19-1z"/><path class="j14" d="M2514 2221l19 21l20 65l-19 16z"/><path class="j3" d="M2361 2237l18 1l20 77l-19-37zM2399 2315l18-46l20-22l-19-24zM2571 2234l18 0l20 41l-19-30zM2590 2245l19 30l20-51l-19 20zM2784 2242l19 51l21-32l-20-21z"/><path class="j4" d="M2322 2243l18 2l20 2l-19-9zM2341 2238l19 9l19-9l-18-1zM2398 2238l18 11l20-17l-19 37zM2609 2275l19 24l20-65l-19-10zM2726 2236l19 34l20-29l-19-4zM2765 2241l19 1l20-2l-19 33z"/><path class="j5" d="M2379 2238l19 0l19 31l-18 46zM2475 2262l19-8l19-7l-18 18zM2668 2221l19 5l20-1l-19 41zM2825 2217l19 37l20-40l-19 22z"/><path class="j6" d="M2437 2247l18-15l20 30l-19-5zM2436 2232l18 20l20-25l-19 5zM2455 2232l19-5l20 27l-19 8zM2551 2238l18-13l20 9l-18 0zM2745 2270l19 0l20-28l-19-1zM2804 2240l20 21l20-7l-19-37z"/><path class="j7" d="M2285 2279l18-46l20-4l-19 64zM2628 2299l19-45l20-26l-19 6z"/><path class="j8" d="M2417 2269l19-37l19 0l-18 15zM2512 2258l19 31l20-51l-19 33zM2532 2271l19-33l20-4l-19-5zM2552 2229l19 5l19 11l-18 47zM2706 2246l19-12l20 36l-19-34z"/><path class="j9" d="M2589 2234l19-4l20 69l-19-24zM2648 2234l19-6l20-2l-19-5zM2687 2226l19 20l20-10l-19-11z"/><path class="j10" d="M2323 2229l18 9l20-1l-19-29zM2513 2247l19 24l20-42l-19 13zM2629 2224l19 10l20-13l-19 5zM2746 2237l19 4l20 32l-19-19zM2785 2273l19-33l21-23l-20 14z"/><path class="j11" d="M2494 2254l18 4l20 13l-19-24zM2667 2228l19 31l20-13l-19-20z"/><path class="j12" d="M2303 2233l19 10l19-5l-18-9z"/><path class="j13" d="M2474 2227l18 36l20-5l-18-4z"/><path class="j14" d="M2360 2247l18 109l20-118l-19 0z"/><path class="j18" d="M2707 2225l19 11l20 1l-19-4z"/><path class="j2" d="M2358 2299l19-38l19-9l-18 104z"/><path class="j4" d="M2340 2245l18 54l20 57l-18-109zM2378 2356l18-104l20-3l-18-11zM2724 2304l18 24l21-65l-19-5z"/><path class="j5" d="M2454 2252l19-10l19 21l-18-36zM2453 2262l18 35l20-30l-18-25zM2473 2242l18 25l20-19l-19 15zM2492 2263l19-15l20 41l-19-31zM2568 2238l19 13l20 5l-19-9zM2608 2230l19 16l20 8l-19 45z"/><path class="j6" d="M2531 2289l19-66l19 2l-18 13zM2530 2256l18 9l20-27l-18-15zM2685 2249l18 80l21-25l-19-56z"/><path class="j7" d="M2415 2245l18 41l20-24l-19-13zM2434 2249l19 13l20-20l-19 10zM2491 2267l19-14l20 3l-19-8zM2511 2248l19 8l20-33l-19 66zM2647 2254l19 24l20-19l-19-31zM2705 2248l19 56l20-46l-19-24zM2725 2234l19 24l20 12l-19 0zM2764 2270l19-26l20 49l-19-51z"/><path class="j8" d="M2377 2261l18 29l20-45l-19 7zM2396 2252l19-7l19 4l-18 0zM2569 2225l19 22l20-17l-19 4zM2588 2247l19 9l20-10l-19-16zM2627 2246l19 16l20 16l-19-24zM2666 2278l19-29l20-1l-19 11z"/><path class="j9" d="M2646 2262l18 52l21-65l-19 29z"/><path class="j10" d="M2550 2223l18 15l20 9l-19-22zM2744 2258l19 5l20-19l-19 26z"/><path class="j11" d="M2607 2256l19 28l20-22l-19-16zM2686 2259l19-11l20-14l-19 12z"/><path class="j13" d="M2416 2249l18 0l20 3l-18-20z"/><path class="j2" d="M2433 2286l19 1l19 10l-18-35zM2452 2287l18 30l20-37l-19 17zM2703 2329l19-75l20 74l-18-24z"/><path class="j3" d="M2395 2290l18-23l20 19l-18-41zM2432 2243l18 70l20 4l-18-30zM2470 2317l18-50l20 3l-18 10zM2508 2270l19-5l20 30l-19-9zM2587 2251l18 32l21 1l-19-28zM2624 2279l19-6l20-15l-19 14z"/><path class="j4" d="M2585 2326l19-54l20 7l-19 4zM2605 2283l19-4l20-7l-18 12zM2626 2284l18-12l20 42l-18-52zM2683 2252l19 7l20-5l-19 75z"/><path class="j6" d="M2510 2253l18 33l20-21l-18-9z"/><path class="j7" d="M2413 2267l19-24l20 44l-19-1zM2471 2297l19-17l20-27l-19 14zM2528 2286l19 9l20-20l-19-10zM2644 2272l19-14l20-6l-19 62z"/><path class="j8" d="M2548 2265l19 10l20-24l-19-13z"/><path class="j9" d="M2547 2295l18 43l20-12l-18-51zM2664 2314l19-62l20 77l-18-80zM2663 2258l19 108l20-107l-19-7z"/><path class="j10" d="M2490 2280l18-10l20 16l-18-33z"/><path class="j12" d="M2567 2275l18 51l20-43l-18-32z"/><path class="j2" d="M2565 2338l19-58l20-8l-19 54zM2604 2272l19 60l20-59l-19 6z"/><path class="j3" d="M2623 2332l18-52l20-9l-18 2z"/><path class="j4" d="M2450 2313l18-27l20-19l-18 50z"/><path class="j5" d="M2525 2280l18 3l21-10l-19 8z"/><path class="j6" d="M2584 2280l18 50l21 2l-19-60z"/><path class="j7" d="M2527 2265l18 16l20 57l-18-43zM2545 2281l19-8l20 7l-19 58zM2602 2330l19-8l20-42l-18 52z"/><path class="j8" d="M2487 2273l18 5l20 2l-18-48zM2643 2273l18-2l21 95l-19-108z"/><path class="j10" d="M2564 2273l18-3l20 60l-18-50z"/><path class="j12" d="M2468 2286l19-13l20-41l-19 35z"/><path class="j13" d="M2507 2232l18 48l20 1l-18-16z"/><path class="j18" d="M2488 2267l19-35l20 33l-19 5z"/><path class="j3" d="M2542 2350l18-55l20-17l-18 60zM2582 2270l19 20l20 32l-19 8z"/><path class="j4" d="M2505 2278l18 30l20-25l-18-3zM2523 2308l19 42l20-12l-19-55zM2543 2283l19 55l20-68l-18 3zM2562 2338l18-60l21 12l-19-20z"/><path class="j1" d="M2898 2218l29 0l-16 20zM2155 2207l27 0l-18 25zM2685 2261l29 0l-12 27zM2007 2176l28 0l-20 50zM3244 2146l36 0l-18 29zM2376 2255l36 0l-16 17zM2139 2203l23 0l-14 42zM2859 2226l25 0l-9 37zM2686 2262l25 0l-6 28zM2347 2248l33 0l-21 22zM2917 2214l27 0l-19 37zM2844 2229l26 0l-19 57zM2598 2280l25 0l-7 61zM2816 2234l35 0l-18 24z"/><path class="j2" d="M2160 2207l21 0l-6 33zM2932 2211l21 0l-6 64zM2885 2221l20 0l-6 23zM2845 2229l21 0l-9 39zM2373 2253l20 0l-10 52zM3134 2169l26 0l-18 28zM2641 2271l21 0l-11 13zM3272 2140l34 0l-22 27zM1977 2170l39 0l-19 46zM2325 2243l26 0l-12 25zM2655 2267l36 0l-19 25zM2421 2264l31 0l-21 42zM2061 2188l37 0l-14 17zM2988 2198l35 0l-19 41zM3129 2169l35 0l-13 28z"/><path class="j3" d="M2427 2264l23 0l-18 60zM2145 2206l37 0l-16 35zM2424 2265l38 0l-17 23zM2503 2281l25 0l-11 34z"/><path class="j4" d="M2959 2205l27 0l-15 31zM3030 2191l26 0l-8 54z"/></g>
<g transform="scale(.1)"><path class="j2" d="M2553 2401l20 16l18-6l-21-29z"/><path class="j5" d="M2533 2401l20 0l17-19l-20 5z"/><path class="j6" d="M2515 2378l20 16l18 7l-20 0z"/><path class="j1" d="M2538 2440l20-14l18-9l-20 62zM2556 2479l20-62l17-18l-20 18z"/><path class="j3" d="M2518 2431l20 9l18 39l-21-85z"/><path class="j5" d="M2501 2418l20 2l17 20l-20-9zM2593 2399l21-12l17 7l-20-1z"/><path class="j7" d="M2576 2417l20-31l18 1l-21 12z"/><path class="j8" d="M2481 2388l20 30l17 13l-20-33zM2498 2398l20 33l17-37l-20-16zM2573 2417l20-18l18-6l-20 18z"/><path class="j9" d="M2463 2399l20 3l18 16l-20-30z"/><path class="j11" d="M2535 2394l21 85l17-62l-20-16z"/><path class="j15" d="M2614 2387l20 58l17-55l-20 4z"/><path class="j3" d="M2521 2420l20-15l17 21l-20 14z"/><path class="j4" d="M2446 2402l20 2l17-2l-20-3zM2448 2475l20-76l18 86l-20-81zM2466 2404l20 81l17-20l-20-63zM2503 2465l20-56l18-4l-20 15zM2523 2409l20 3l18-11l-20 4zM2558 2426l21-22l17-18l-20 31zM2596 2386l20 16l18 43l-20-58zM2674 2403l21 2l17-10l-20 5z"/><path class="j5" d="M2579 2404l20-9l17 7l-20-16zM2599 2395l20 34l17 0l-20-27zM2634 2445l20-47l18 14l-21-22z"/><path class="j6" d="M2483 2402l20 63l18-45l-20-2zM2616 2402l20 27l18-31l-20 47z"/><path class="j7" d="M2428 2405l20 70l18-71l-20-2z"/><path class="j8" d="M2411 2402l20 8l17 65l-20-70zM2486 2485l20-71l17-5l-20 56zM2561 2401l20 49l18-55l-20 9z"/><path class="j9" d="M2654 2398l20 5l18-3l-20 12z"/><path class="j12" d="M2541 2405l20-4l18 3l-21 22z"/><path class="j14" d="M2636 2429l21-1l17-25l-20-5z"/><path class="j1" d="M2584 2430l20 47l17-15l-20-48zM2735 2413l20 35l18 50l-20-45z"/><path class="j3" d="M2394 2446l20 16l17-52l-20-8zM2396 2411l20 13l18-3l-20 41zM2414 2462l20-41l17 8l-20-19zM2639 2411l20-7l18 92l-20-68zM2677 2496l20-82l18-11l-20 2z"/><path class="j4" d="M2359 2483l20-59l17-13l-20 61z"/><path class="j5" d="M2376 2472l20-61l18 51l-20-16zM2471 2420l20-19l17 21l-20-15zM2564 2424l20 6l17-16l-20 36zM2619 2429l20-18l18 17l-21 1zM2657 2428l20 68l18-91l-21-2z"/><path class="j6" d="M2434 2421l19-4l18 3l-20 9zM2508 2422l20 0l18 12l-20 8zM2526 2442l20-8l18-10l-21-12zM2697 2414l20 45l18-46l-20-10z"/><path class="j7" d="M2543 2412l21 12l17 26l-20-49zM2581 2450l20-36l18 15l-20-34zM2621 2462l20-48l18-10l-20 7z"/><path class="j8" d="M2488 2407l20 15l18 20l-20-28zM2506 2414l20 28l17-30l-20-3zM2601 2414l20 48l18-51l-20 18z"/><path class="j9" d="M2451 2429l20-9l17-13l-20-8zM2468 2399l20 8l18 7l-20 71zM2546 2434l20-14l18 10l-20-6zM2659 2404l20 15l18-5l-20 82z"/><path class="j10" d="M2431 2410l20 19l17-30l-20 76z"/><path class="j11" d="M2715 2403l20 10l18 40l-21-10z"/><path class="j12" d="M2695 2405l20-2l17 40l-20-48z"/><path class="j1" d="M2720 2429l20 44l18-21l-21 34z"/><path class="j2" d="M2566 2420l20 79l18-22l-20-47zM2606 2469l20-22l18-21l-20 40z"/><path class="j3" d="M2324 2432l20 30l17-29l-19 50zM2511 2483l20 13l17-24l-20-50zM2758 2452l20-15l18-26l-21 11z"/><path class="j4" d="M2491 2401l20 82l17-61l-20 0zM2548 2472l20-52l18 79l-20-79zM2699 2406l21 23l17 57l-20-27z"/><path class="j5" d="M2604 2477l20-11l17-52l-20 48zM2682 2423l20 30l18-24l-21-23z"/><path class="j6" d="M2344 2462l20-22l17 8l-20-15zM2453 2417l20 8l18-24l-20 19zM2493 2425l20 5l18 66l-20-13zM2568 2420l20 82l18-33l-20 30zM2586 2499l20-30l18-3l-20 11z"/><path class="j7" d="M2342 2483l19-50l18-9l-20 59zM2361 2433l20 15l18 28l-20-52zM2418 2420l20 13l18 2l-20-4zM2644 2426l20 69l18-72l-20-18zM2717 2459l20 27l18-38l-20-35zM2775 2422l21-11l18 47l-21 7z"/><path class="j8" d="M2379 2424l20 52l17-52l-20-13zM2399 2476l19-56l18 11l-20-7zM2416 2424l20 7l17-14l-19 4zM2436 2431l20 4l17-10l-20-8zM2456 2435l20-6l17-4l-20 0zM2528 2422l20 50l18-52l-20 14zM2662 2405l20 18l17-17l-20 13zM2737 2486l21-34l17-30l-20 26zM2796 2411l20 15l18-13l-20 45z"/><path class="j9" d="M2381 2448l20 22l17-50l-19 56zM2624 2466l20-40l18-21l-21 9z"/><path class="j10" d="M2473 2425l20 0l18 58l-20-82zM2531 2496l20-66l17-10l-20 52z"/><path class="j11" d="M2641 2414l21-9l17 14l-20-15zM2755 2448l20-26l18 43l-20 33z"/><path class="j12" d="M2307 2438l20 1l17 23l-20-30zM2679 2419l20-13l18 53l-20-45z"/><path class="j1" d="M2740 2473l20-23l18-13l-20 15z"/><path class="j2" d="M2292 2444l19 40l18 16l-20-38zM2646 2465l20-29l18 32l-20 27zM2664 2495l20-27l18-15l-20-30zM2684 2468l20 5l18-38l-20 18z"/><path class="j3" d="M2533 2440l20 13l18-13l-20-10zM2551 2430l20 10l17 62l-20-82zM2553 2453l20 48l18-67l-20 6zM2742 2430l20 19l18-16l-20 17z"/><path class="j4" d="M2272 2540l20-96l17 18l-19 7zM2327 2439l19 38l18-37l-20 22zM2702 2453l20-18l18 38l-20-44zM2760 2450l20-17l18-14l-20 18z"/><path class="j5" d="M2478 2432l20 55l17-56l-19 0zM2591 2434l19 19l18-27l-20 5zM2626 2447l20 18l18 30l-20-69zM2704 2473l20-5l18-38l-20 5z"/><path class="j6" d="M2329 2500l20-55l17-1l-20 33zM2346 2477l20-33l17-4l-19 0zM2608 2431l20-5l18 39l-20-18zM2780 2433l20 32l18-38l-20-8z"/><path class="j7" d="M2290 2469l19-7l18-23l-20-1zM2364 2440l19 0l18 30l-20-22zM2515 2431l20 13l18 9l-20-13zM2798 2419l20 8l18 8l-20-9z"/><path class="j8" d="M2383 2440l20 5l18-14l-20 39zM2421 2431l20 2l17-5l-20 5zM2458 2428l20 4l18-1l-20-2zM2666 2436l20 6l18 31l-20-5z"/><path class="j9" d="M2496 2431l19 0l18 9l-20-10zM2588 2502l20-71l18 16l-20 22z"/><path class="j10" d="M2309 2462l20 38l17-23l-19-38zM2403 2445l20-6l18-6l-20-2zM2513 2430l20 10l18-10l-20 66zM2778 2437l20-18l18 7l-20-15zM2836 2435l20-9l18 5l-20 20z"/><path class="j11" d="M2255 2438l19 29l18-23l-20 96zM2571 2440l20-6l17-3l-20 71zM2628 2426l20 14l18-4l-20 29zM2722 2435l20-5l18 20l-20 23zM2856 2426l21 10l18-10l-21 5z"/><path class="j12" d="M2366 2444l20-20l17 21l-20-5zM2401 2470l20-39l17 2l-20-13zM2441 2433l19 2l18-3l-20-4zM2476 2429l20 2l17-1l-20-5zM2816 2426l20 9l18 16l-20-38zM2818 2427l20 12l18-13l-20 9z"/><path class="j13" d="M2438 2433l20-5l18 1l-20 6z"/><path class="j2" d="M2220 2459l20 53l17-3l-19-53zM2240 2512l19-55l18 42l-20 10zM2726 2457l20 98l18-86l-20-30z"/><path class="j3" d="M2238 2456l19 53l17-42l-19-29zM2257 2509l20-10l17-54l-20 22zM2274 2467l20-22l17 39l-19-40zM2277 2499l19-37l18-3l-20-14zM2388 2550l19-95l18 19l-20-31zM2443 2497l19-33l18-12l-20-17zM2555 2444l20 2l18 19l-20 36zM2575 2446l20 19l18 27l-20-27zM2593 2465l20 27l17-48l-20 9zM2613 2492l19-36l18 6l-20-18zM2688 2470l20-10l18-3l-20 13zM2706 2470l20-13l18-18l-20 29zM2724 2468l20-29l18 10l-20-19zM2744 2439l20 30l18-9l-20-11zM2820 2526l20-80l19-12l-21 5z"/><path class="j4" d="M2460 2435l20 17l18 35l-20-55zM2480 2452l20 29l18 5l-20 1zM2498 2487l20-1l17-42l-20-13zM2573 2501l20-36l17-12l-19-19zM2650 2462l20-16l18 24l-20-29zM2686 2442l20 28l18-2l-20 5zM2800 2465l20 61l18-87l-20-12zM2838 2439l21-5l18 2l-21-10zM2859 2434l20 21l18-17l-20-2zM2877 2436l20 2l18-11l-20-1z"/><path class="j5" d="M2423 2439l20 58l17-62l-19-2zM2668 2441l20 29l18 0l-20-28zM2764 2469l20-13l18-18l-20 22zM2917 2455l20-9l19 43l-21-27z"/><path class="j6" d="M2203 2451l19 17l18 44l-20-53zM2294 2445l20 14l17-3l-20 28zM2311 2484l20-28l18-11l-20 55zM2405 2443l20 31l18 23l-20-58zM2425 2474l20-25l17 15l-19 33zM2500 2481l20 28l17-65l-19 42zM2518 2486l19-42l18 0l-20 0zM2610 2453l20-9l18-4l-20-14zM2630 2444l20 18l18-21l-20-1z"/><path class="j7" d="M2537 2444l20 43l18-41l-20-2zM2802 2438l20 10l18-2l-20 80z"/><path class="j8" d="M2351 2461l19 30l18 59l-20-106zM2762 2449l20 11l18 5l-20-32zM2897 2438l20 17l18 7l-20-35z"/><path class="j9" d="M2462 2464l20-2l18 19l-20-29zM2782 2460l20-22l18 88l-20-61zM2879 2455l20 34l18-34l-20-17z"/><path class="j10" d="M2314 2459l19 20l18-18l-20-5zM2368 2444l20 106l17-107l-19-19zM2840 2446l21-6l18 15l-20-21z"/><path class="j11" d="M2349 2445l19-1l18-20l-20 20zM2386 2424l19 19l18-4l-20 6zM2535 2444l20 0l18 57l-20-48z"/><path class="j12" d="M2331 2456l20 5l17-17l-19 1z"/><path class="j13" d="M2648 2440l20 1l18 1l-20-6z"/><path class="j2" d="M2502 2464l20 17l17 13l-19 15z"/><path class="j3" d="M2222 2468l20-3l17-8l-19 55zM2259 2457l20 32l17-27l-19 37zM2372 2494l20 10l17-26l-19-25zM2595 2465l20-18l17 9l-19 36zM2708 2460l20 2l18 93l-20-98zM2861 2440l20 15l18 34l-20-34zM2958 2492l20 15l18-68l-20 7z"/><path class="j4" d="M2205 2479l19-6l18-8l-20 3zM2316 2496l19-31l18 49l-20-35zM2634 2467l20 2l18-9l-20-8zM2748 2502l20-43l18-16l-20 14zM2822 2448l20 28l19-36l-21 6z"/><path class="j5" d="M2296 2462l20 34l17-17l-19-20zM2298 2472l19 26l18-33l-19 31zM2335 2465l20 36l17-7l-19 20zM2353 2514l19-20l18-41l-20 38zM2390 2453l19 25l18 7l-20-30zM2520 2509l19-15l18-7l-20-43zM2522 2481l19-2l18-12l-20 27zM2557 2487l20-26l18 4l-20-19zM2559 2467l20 1l18-8l-20 1zM2577 2461l20-1l18-13l-20 18zM2786 2443l20 16l18-1l-20 21zM2901 2475l20-25l18-4l-20-16z"/><path class="j6" d="M2279 2489l19-17l18 24l-20-34zM2333 2479l20 35l17-23l-19-30zM2370 2491l20-38l17 2l-19 95zM2407 2455l20 30l18-36l-20 25zM2409 2478l20 20l18-36l-20 23zM2484 2500l20-12l18-7l-20-17zM2728 2462l20 40l18-45l-20 98zM2746 2555l20-98l18-1l-20 13z"/><path class="j7" d="M2168 2491l19-25l18 13l-20-23zM2261 2450l19 20l18 2l-19 17zM2482 2462l20 2l18 45l-20-28zM2539 2494l20-27l18-6l-20 26zM2672 2460l20 27l18-24l-20-4zM2804 2479l20-21l18 18l-20-28zM2939 2446l21 2l18 59l-20-15z"/><path class="j8" d="M2242 2465l19-15l18 39l-20-32zM2670 2446l20 13l18 1l-20 10zM2937 2446l21 46l18-46l-20 43zM2978 2507l20-52l18-12l-20-4z"/><path class="j9" d="M2151 2472l19 0l17-6l-19 25zM2185 2456l20 23l17-11l-19-17zM2445 2449l19-24l18 37l-20 2zM2464 2425l20 75l18-36l-20-2zM2597 2460l20 86l17-79l-19-20zM2863 2454l20 36l18-15l-20-20zM2881 2455l20 20l18-45l-20 59z"/><path class="j10" d="M2615 2447l19 20l18-15l-20 4zM2824 2458l20 48l19-52l-21 22zM2919 2430l20 16l19 46l-21-46z"/><path class="j11" d="M2187 2466l20 44l17-37l-19 6zM2447 2462l19 12l18 26l-20-75zM2710 2463l20 93l18-54l-20-40zM2899 2489l20-59l18 16l-20 9z"/><path class="j12" d="M2224 2473l20 66l17-89l-19 15zM2690 2459l20 4l18-1l-20-2zM2842 2476l21-22l18 1l-20-15z"/><path class="j13" d="M2632 2456l20-4l18-6l-20 16zM2652 2452l20 8l18-1l-20-13z"/><path class="j14" d="M2766 2457l20-14l18 36l-20-23z"/><path class="j15" d="M2427 2485l20-23l17-37l-19 24zM2784 2456l20 23l18-31l-20-10z"/><path class="j1" d="M2207 2510l19 26l18 3l-20-66zM2466 2474l20 56l18-42l-20 12z"/><path class="j2" d="M2317 2498l20-4l18 7l-20-36zM2337 2494l19-18l18 55l-19-30zM2355 2501l19 30l18-27l-20-10zM2356 2476l20 32l18-25l-20 48zM2411 2510l20-30l18 31l-20-13zM2449 2511l19-40l18 59l-20-56z"/><path class="j3" d="M2319 2538l20-52l17-10l-19 18zM2374 2531l20-48l17 27l-19-6zM2429 2498l20 13l17-37l-19-12zM2750 2488l20 13l18-45l-20 3zM2883 2490l20 8l18-48l-20 25z"/><path class="j4" d="M2226 2536l19-51l18 19l-19 35zM2263 2504l19 78l18-66l-20-46zM2392 2504l19 6l18-12l-20-20zM2394 2483l19-6l18 3l-20 30zM2506 2501l19 26l18-40l-20-21zM2579 2468l20-3l18 81l-20-86zM2692 2487l20-16l18 85l-20-93zM2806 2459l20-4l18 51l-20-48zM2808 2511l20-43l18-3l-20-10zM2826 2455l20 10l19-7l-21 48zM2885 2467l20-9l18 4l-20 36zM2923 2462l20 74l18-71l-20-4zM2961 2465l21 5l18-7l-20 27zM3000 2463l20 14l19-26l-21-2z"/><path class="j5" d="M2209 2476l19 86l17-77l-19 51zM2486 2530l20-29l17-35l-19 22zM2617 2546l19-73l18-4l-20-2zM2618 2477l20 35l18-22l-20-17zM2654 2469l20-2l18 20l-20-27zM2865 2458l20 9l18 31l-20-8zM2980 2490l20-27l18-14l-20 6z"/><path class="j6" d="M2116 2520l19-33l18-11l-20 32zM2170 2472l19 4l18 34l-20-44zM2189 2476l20 0l17 60l-19-26zM2245 2485l20 5l17 92l-19-78zM2300 2516l19 22l18-44l-20 4zM2504 2488l19-22l18 13l-19 2zM2636 2473l20 17l18-23l-20 2zM2712 2471l20-11l18 28l-20 68zM2768 2459l20-3l18 3l-20-16zM2788 2456l20 55l18-56l-20 4zM2903 2498l20-36l18-1l-20-11zM2960 2448l20 42l18-35l-20 52z"/><path class="j7" d="M2244 2539l19-35l17-34l-19-20zM2541 2479l20-15l18 4l-20-1zM2561 2464l20 48l18-47l-20 3zM2581 2512l19-16l18-19l-19-12zM2732 2460l20 41l18 0l-20-13zM2941 2461l20 4l19 25l-20-42zM2998 2455l20-6l19 8l-21-14z"/><path class="j8" d="M2099 2487l19-1l17 1l-19 33zM2133 2508l20-32l17-4l-19 0zM2153 2476l19 21l17-21l-19-4zM2280 2470l20 46l17-18l-19-26zM2730 2556l20-68l18-29l-20 43zM2770 2501l20-24l18 34l-20-55z"/><path class="j9" d="M2172 2497l19-31l18 10l-20 0zM2431 2480l19 7l18-16l-19 40zM2468 2471l20 13l18 17l-20 29zM2523 2466l20 21l18-23l-20 15zM2599 2465l19 12l18-4l-19 73zM2674 2467l20 9l18-5l-20 16zM2846 2465l20-12l19 14l-20-9zM3039 2451l20 10l18 90l-20-90z"/><path class="j10" d="M2694 2476l20 0l18-16l-20 11zM2844 2506l21-48l18 32l-20-36z"/><path class="j11" d="M2656 2490l20 1l18-15l-20-9zM2921 2450l20 11l19-13l-21-2z"/><path class="j12" d="M2282 2582l20-103l17 59l-19-22z"/><path class="j13" d="M2135 2487l19 2l18 8l-19-21z"/><path class="j15" d="M2543 2487l20-9l18 34l-20-48z"/><path class="j17" d="M3018 2449l21 2l18 10l-20-4z"/><path class="j1" d="M2945 2523l20-15l18-1l-20-14z"/><path class="j2" d="M2210 2491l20 44l17-38l-19 65zM2228 2562l19-65l18-7l-20-5zM2230 2535l19-38l18 30l-20-30zM2527 2505l20 39l18-51l-20-6zM2638 2512l20-31l18 10l-20-1z"/><path class="j3" d="M2137 2537l19-26l18-25l-20 3zM2303 2505l20 40l18-59l-20 44zM2339 2486l19 22l18 0l-20-32zM2490 2485l19 47l18-27l-20-21zM2640 2573l20-34l18-55l-20-3zM2678 2484l20 41l18-43l-20 10zM2696 2492l20-10l18 55l-20-61zM2752 2501l20-32l18 8l-20 24zM2790 2477l20 106l18-115l-20 43zM2906 2473l20 71l19-21l-20-48zM3040 2478l20-4l19-2l-20-11z"/><path class="j4" d="M2047 2487l19 14l17-17l-19 71zM2267 2527l19-29l17 7l-19 24zM2413 2477l20 67l17-57l-19-7zM2620 2479l20 94l18-92l-20 31zM2734 2537l20-61l18-7l-20 32zM2772 2469l20 4l18 110l-20-106zM2905 2458l20 17l18 61l-20-74zM2925 2475l20 48l18-30l-20 43zM2963 2493l20 14l19-37l-20 0zM3002 2470l20-13l18 21l-20-1z"/><path class="j5" d="M2174 2486l19 14l17-9l-19-25zM2358 2508l20-16l17 11l-19 5zM2488 2484l19 0l18 43l-19-26zM2507 2484l20 21l18-18l-20 40zM2525 2527l20-40l18-9l-20 9zM2830 2475l20 69l18-72l-20-13zM3060 2474l21 2l18 42l-20-46z"/><path class="j6" d="M2083 2484l19 9l18 29l-20-21zM2154 2489l20-3l17-20l-19 31zM2433 2544l19-35l18-6l-20-16zM2676 2491l20 1l18-16l-20 0zM3022 2457l20 106l18-89l-20 4z"/><path class="j7" d="M2341 2486l19 16l18-10l-20 16zM2600 2496l20-17l18 33l-20-35z"/><path class="j8" d="M2064 2555l19-71l17 17l-19-14zM2100 2501l20 21l17 15l-19-51zM2118 2486l19 51l17-48l-19-2zM2156 2511l19 44l18-55l-19-14zM2265 2490l19 39l18-50l-20 103zM2321 2530l20-44l17 22l-19-22zM2415 2485l19 17l18 7l-19 35zM2792 2473l20 39l18-37l-20 108zM2828 2468l20-9l18-6l-20 12zM2886 2478l20-5l19 2l-20-17zM2943 2536l20-43l19-23l-21-5z"/><path class="j9" d="M2081 2487l19 14l18-15l-19 1zM2247 2497l20 30l17 2l-19-39zM2284 2529l19-24l18 25l-19-51zM2376 2508l19-5l18-26l-19 6zM2378 2492l19-21l18 14l-20 18zM2563 2478l20-16l17 34l-19 16zM2716 2482l19 3l19-9l-20 61zM3020 2477l20 1l19-17l-20-10zM3099 2518l20-28l19-19l-20-11z"/><path class="j10" d="M2120 2522l19-22l17 11l-19 26zM2191 2466l19 25l18 71l-19-86zM2545 2487l20 6l18-31l-20 16zM2602 2517l20-23l18 79l-20-94zM2658 2481l20 3l18 8l-20-1zM2810 2583l20-108l18-16l-20 9zM2866 2453l20 25l19-20l-20 9zM2983 2507l20-33l19-17l-20 13zM3059 2461l20 11l19-35l-21 114z"/><path class="j11" d="M2302 2479l19 51l18-44l-20 52zM2395 2503l20-18l18 59l-20-67zM2450 2487l20 16l18-19l-20-13zM2982 2470l20 0l18 7l-20-14zM3079 2472l20 46l19-58l-20-23z"/><path class="j12" d="M2583 2462l19 55l18-38l-20 17zM2754 2476l19 21l19-24l-20-4zM2868 2472l20 5l18-4l-20 5z"/><path class="j13" d="M2193 2500l19 0l18 35l-20-44zM2470 2503l20-18l17-1l-19 0zM2714 2476l20 61l18-36l-20-41z"/><path class="j14" d="M2565 2493l19 8l18 16l-19-55zM2848 2459l20 13l18 6l-20-25z"/><path class="j17" d="M2452 2509l20-24l18 0l-20 18z"/><path class="j1" d="M2139 2500l19 55l17 0l-19-44z"/><path class="j2" d="M2286 2498l19 34l18 13l-20-40zM2323 2545l19-17l18-26l-19-16zM2660 2539l19-49l19 35l-20-41zM2812 2512l19 34l19-2l-20-69zM3081 2476l20 10l18 4l-20 28z"/><path class="j3" d="M2031 2525l19-20l17 57l-19-49zM2067 2562l19-8l18-43l-19 11zM2212 2500l19 7l18-10l-19 38zM2287 2503l20 4l17 38l-19-13zM2529 2594l19-71l18-29l-19 50zM2642 2548l19-56l18-2l-19 49zM2775 2493l20 72l18-64l-20 43zM2813 2501l20-2l18-6l-20 53zM2965 2508l20-32l18-2l-20 33zM3121 2472l20 33l19-24l-20 62zM3140 2543l20-62l19-13l-21 21z"/><path class="j4" d="M2194 2498l20 33l17-24l-19-7zM2249 2497l19 4l18-3l-19 29zM2548 2523l20-18l18-7l-20-4zM2966 2473l20 52l19-28l-20-21zM2985 2476l20 21l18 7l-20-30zM3005 2497l20-11l19 8l-21 10z"/><path class="j5" d="M2102 2493l19 38l18-31l-19 22zM2121 2531l19-12l18 36l-19-55zM2250 2505l20 56l17-58l-19-2zM2361 2545l20-36l18 0l-20-19zM2397 2471l19 97l18-66l-19-17zM2491 2557l20-72l18 109l-20-62zM2547 2544l19-50l18 7l-19-8zM2735 2485l20-5l18 17l-19-21zM2793 2544l20-43l18 45l-19-34zM2908 2490l20 28l18-28l-20 54zM3003 2474l20 30l19 59l-20-106z"/><path class="j6" d="M2012 2496l19 29l17-12l-19-14zM2104 2511l19 0l17 8l-19 12zM2175 2555l19-57l18 2l-19 0zM2177 2509l19 46l18-24l-20-33zM2324 2545l20-1l17 1l-19-17zM2399 2509l19-9l18 1l-20 67zM2434 2502l20 35l18-52l-20 24zM2473 2527l20 41l18-83l-20 72zM2622 2494l20 54l18-9l-20 34zM2850 2544l20-88l18 21l-20-5zM2888 2477l20 13l18 54l-20-71zM2928 2518l20-21l18-24l-20 17zM3082 2518l20-32l19-14l-20 14z"/><path class="j7" d="M2231 2507l19-2l18-4l-19-4zM2305 2532l19 13l18-17l-19 17zM2342 2528l19 17l18-55l-19 12zM2379 2490l20 19l17 59l-19-97zM2454 2537l19-10l18 30l-19-72zM2509 2532l20 62l18-50l-20-39zM2511 2485l19 135l18-97l-19 71zM2566 2494l20 4l18-22l-20 25zM2773 2497l20 47l19-32l-20-39zM2851 2493l20 17l19-18l-20-36zM2926 2544l20-54l19 18l-20 15zM3023 2504l21-10l18-15l-20 84zM3101 2486l20-14l19 71l-21-53z"/><path class="j8" d="M2029 2499l19 14l18-12l-19-14zM2214 2531l19-23l17-3l-19 2zM2268 2501l19 2l18 29l-19-34zM2472 2485l19 72l18-25l-19-47zM2623 2490l20 14l18-12l-19 56zM2698 2525l19-21l18-19l-19-3zM3042 2563l20-84l19-3l-21-2zM3119 2490l21 53l18-54l-20-18zM3160 2481l20 3l19-9l-20-7z"/><path class="j9" d="M1994 2504l19-5l18 26l-19-29zM2048 2513l19 49l18-40l-19-21zM2140 2519l19-8l18-2l-19 46zM2416 2568l20-67l18 36l-20-35zM2584 2501l20-25l18 18l-20 23zM2717 2504l20-22l18-2l-20 5zM2737 2482l20 18l18-7l-20-13zM3044 2494l20 12l18 12l-20-39z"/><path class="j10" d="M2066 2501l19 21l17-29l-19-9zM2085 2522l19-11l17 20l-19-38zM2870 2456l20 36l18-2l-20-13zM2890 2492l20-2l18 28l-20-28zM2946 2490l20-17l19 3l-20 32z"/><path class="j11" d="M2158 2555l19-46l17-11l-19 57zM2436 2501l19 3l18 23l-19 10zM2586 2498l19 3l18-11l-19-14zM2661 2492l20 52l18-62l-20 8zM2699 2482l20 9l18-9l-20 22z"/><path class="j12" d="M2604 2476l19 14l19 58l-20-54zM2679 2490l20-8l18 22l-19 21zM2831 2546l20-53l19-37l-20 88z"/><path class="j13" d="M2360 2502l19-12l18-19l-19 21zM3062 2479l20 39l19-32l-20-10z"/><path class="j15" d="M2755 2480l20 13l18 51l-20-47z"/><path class="j1" d="M2420 2549l19 5l18 11l-20-51zM2968 2509l20-2l18 63l-20-45zM3045 2534l20 48l19-75l-20-1z"/><path class="j2" d="M2307 2507l19 11l18 26l-20 1zM2607 2557l19-47l19 24l-20-16zM3025 2486l20 48l19-28l-20-12z"/><path class="j3" d="M1996 2550l19-14l17-2l-19-35zM2289 2527l19-3l18-6l-19-11zM2437 2514l20 51l18-51l-20-10zM2512 2513l20 6l18 7l-20 94zM2532 2519l19 30l18-41l-19 18zM2643 2504l20 2l18 38l-20-52zM2758 2590l20 0l18-90l-19 1zM3141 2505l20-16l19-5l-20-3z"/><path class="j4" d="M1977 2522l19 28l17-51l-19 5zM2069 2501l19 46l17-33l-19 40zM2142 2506l19 15l17-3l-19-7zM2196 2555l19 0l18-47l-19 23zM2198 2517l19-4l17 31l-19 11zM2345 2516l19-10l18 50l-19-39zM2645 2534l19-39l18 16l-19-5zM2757 2500l20 1l18 64l-20-72zM2796 2500l20 6l18 2l-19 5zM2815 2513l19-5l19-15l-20 6zM2871 2510l20-10l19-10l-20 2zM2891 2500l20 3l19 36l-20-49zM2930 2539l19-44l19 14l-20-12zM2949 2495l20-2l19 14l-20 2z"/><path class="j5" d="M1942 2509l19 15l18 1l-19 81zM2032 2534l19 8l18-41l-19 4zM2050 2505l19-4l17 53l-19 8zM2178 2518l20-1l17 38l-19 0zM2271 2517l19 0l18 7l-19 3zM2457 2565l19-52l18 2l-19-1zM2569 2508l20 13l18 36l-20-55zM2605 2501l20 17l18-14l-20-14zM2701 2503l19 3l19-6l-20-9zM3104 2496l20-9l19 82l-20-96zM3123 2473l20 96l18-80l-20 16zM3143 2569l20-29l19-28l-21-23z"/><path class="j6" d="M1979 2525l18 39l18-28l-19 14zM2088 2547l19-18l17-14l-19-1zM2234 2544l19-22l18-5l-19-22zM2344 2544l19-27l18-8l-20 36zM2719 2491l20 9l18 0l-20-18zM2739 2500l19 90l19-89l-20-1zM2833 2499l20-6l18 17l-20-17zM2853 2493l20-5l18 12l-20 10zM3006 2570l21-78l18 42l-20-48zM3180 2484l20-4l19-19l-20 14z"/><path class="j7" d="M2086 2554l19-40l18-3l-19 0zM2124 2515l19 9l18-3l-19-15zM2363 2517l19 39l18-32l-19-15zM2382 2556l20-55l18 48l-20-25zM2400 2524l20 25l17-35l-19-14zM2475 2514l19 1l18-2l-19 55zM2493 2568l19-55l18 107l-19-135zM2494 2515l20 43l18-39l-20-6zM2530 2620l20-94l18-21l-20 18zM2550 2526l19-18l18-6l-19 3zM2568 2505l19-3l18-1l-19-3zM2777 2501l19-1l19 13l-20 52zM2795 2565l20-52l18-14l-20 2zM2988 2507l20 64l19-79l-21 78zM3102 2486l21-13l18 32l-20-33zM3182 2512l20-11l19 8l-21-29z"/><path class="j8" d="M2159 2511l19 7l18 37l-19-46zM2326 2518l19-2l18 1l-19 27zM2720 2506l20 48l18 36l-19-90zM2986 2525l20 45l19-84l-20 11zM3027 2492l20 21l18 69l-20-48zM3064 2506l20 1l18-21l-20 32zM3065 2582l20-80l19-6l-20 11zM3200 2480l21 29l18-13l-20-35z"/><path class="j9" d="M2123 2511l19-5l17 5l-19 8zM2455 2504l20 10l18 54l-20-41zM2587 2502l20 55l18-39l-20-17zM2681 2544l20-41l18-12l-20-9zM2682 2511l20 33l18-38l-19-3zM3221 2509l20-21l19-22l-21 30z"/><path class="j10" d="M2013 2499l19 35l18-29l-19 20zM2233 2508l19-13l18 66l-20-56zM2270 2561l19-34l18-20l-20-4zM2418 2500l19 14l18-10l-19-3zM2663 2506l19 5l19-8l-20 41zM2873 2488l20 10l18 5l-20-3zM2948 2497l20 12l18 16l-20-52zM3084 2507l20-11l19-23l-21 13z"/><path class="j11" d="M1960 2606l19-81l17 25l-19-28zM2015 2536l19-18l17 24l-19-8zM2161 2521l19 29l18-33l-20 1zM2910 2490l20 49l18-42l-20 21zM2911 2503l20 2l18-10l-19 44z"/><path class="j12" d="M2105 2514l19 1l18-9l-19 5zM2308 2524l19-4l18-4l-19 2zM2834 2508l20 2l19-22l-20 5z"/><path class="j13" d="M2215 2555l19-11l18-49l-19 13zM3161 2489l21 23l18-32l-20 4z"/><path class="j15" d="M2051 2542l19-35l18 40l-19-46zM2252 2495l19 22l18 10l-19 34zM2381 2509l19 15l18-24l-19 9zM2625 2518l20 16l18-28l-20-2z"/><path class="j1" d="M2108 2611l19-82l18 54l-19-1zM2684 2585l19-56l19 34l-20-19zM2722 2563l19-39l19 30l-20 0zM2912 2608l20-49l19-29l-20-25z"/><path class="j2" d="M1962 2568l19 55l18-93l-19-1zM2089 2523l19 88l18-29l-19-53zM2126 2582l19 1l17-41l-19-18zM2514 2558l19-33l18 24l-19-30zM2740 2554l20 0l18 36l-20 0zM2932 2559l20-48l19 60l-20-41zM3144 2505l20-7l19 49l-20-7z"/><path class="j3" d="M1944 2557l18 11l18-39l-19-5zM2143 2524l19 18l18 8l-19-29zM2162 2542l19 30l18-52l-19 30zM2218 2551l19 1l18-22l-19 13zM2273 2535l19 25l18-14l-20-29zM2439 2554l19-29l18-12l-19 52zM2571 2521l19 5l18 48l-19-53zM2628 2569l19 0l19-43l-20-12zM2703 2529l20-12l18 7l-19 39zM2951 2530l20 41l18-63l-20-15zM2989 2508l20 51l19-51l-20 63zM3008 2571l20-63l19 5l-20-21zM3028 2508l20 1l19-3l-20 7z"/><path class="j4" d="M1980 2529l19 1l17 2l-19 32zM2016 2532l19 38l18-26l-19-26zM2035 2570l19-40l17-11l-18 25zM2107 2529l19 53l17-58l-19-9zM2181 2572l19 28l18-49l-19-31zM2199 2520l19 31l18-8l-19-30zM2290 2517l20 29l17-26l-19 4zM2403 2568l19-30l18-10l-19 31zM2421 2559l19-31l18-3l-19 29zM2458 2525l20 12l18-19l-20-5zM2476 2513l20 5l18 40l-20-43zM2515 2537l19-9l18 8l-19-11zM2551 2549l20-28l18 0l-20-13zM2666 2526l19 77l18-74l-19 56zM2779 2521l20 9l18 47l-19-63zM2798 2514l19 63l19-80l-20 9zM2854 2510l20 50l19-62l-20-10zM2894 2506l20 39l18 14l-20 49zM3124 2487l20 18l19 35l-20 29zM3125 2507l20 11l19-20l-20 7zM3203 2492l20 1l19 45l-20-34zM3222 2504l20 34l19-12l-20-38zM3241 2488l20 38l19 21l-20-81z"/><path class="j5" d="M2366 2541l19-4l18 31l-19-40zM2384 2528l19 40l18-9l-19-58zM2816 2506l20-9l18 13l-20-2zM2931 2505l20 25l18-37l-20 2zM3085 2502l20 2l19-17l-20 9zM3163 2540l20 7l19-46l-20 11z"/><path class="j6" d="M2071 2519l19 46l18 46l-19-88zM2180 2550l19-30l18-7l-19 4zM2236 2543l19-13l18 5l-20-13zM2255 2530l19 4l18 26l-19-25zM2292 2560l19-36l18 32l-19-10zM2329 2556l19 73l18-88l-19-16zM2440 2528l20 24l18-15l-20-12zM2478 2537l19 38l18-38l-19-19zM2646 2514l20 12l18 59l-20-90zM2817 2577l20-47l19 20l-20-53zM2836 2497l20 53l18 10l-20-50zM2969 2493l20 15l19 63l-20-64zM3009 2559l20-51l19 1l-20-1zM3067 2506l20 51l18-53l-20-2zM3164 2498l20 10l19-16l-20 55zM3183 2547l20-55l19 12l-20-3zM3202 2501l20 3l19-16l-20 21z"/><path class="j7" d="M1961 2524l19 5l17 35l-18-39zM1999 2530l19-10l17 50l-19-38zM2145 2583l19-57l17 46l-19-30zM2310 2546l19 10l18-31l-20-5zM2589 2521l19 53l18-64l-19 47zM2590 2526l20-25l18 68l-20 5zM2778 2590l20-76l18-8l-20-6zM2971 2571l20-40l18 28l-20-51zM3048 2509l20-2l19 50l-20-51z"/><path class="j8" d="M1997 2564l19-32l18-14l-19 18zM2347 2525l19 16l18-13l-20-22zM2893 2498l19 110l19-103l-20-2zM3047 2513l20-7l18-4l-20 80zM3087 2557l20-9l18-41l-20-3z"/><path class="j9" d="M2253 2522l20 13l17-18l-19 0zM2364 2506l20 22l18-27l-20 55zM2496 2518l19 19l18-12l-19 33zM2552 2536l20 21l18-31l-19-5zM2608 2574l20-5l18-55l-20-4z"/><path class="j10" d="M2327 2520l20 5l17-19l-19 10zM2402 2501l19 58l18-5l-19-5zM2856 2550l19 6l19-50l-20 54z"/><path class="j11" d="M1925 2520l19 37l17-33l-19-15zM2034 2518l19 26l17-37l-19 35zM2533 2525l19 11l19-15l-20 28zM2741 2524l20 5l18-8l-19 33zM2874 2560l20-54l18 102l-19-110z"/><path class="j12" d="M2217 2513l19 30l17-21l-19 22zM2626 2510l20 4l18-19l-19 39zM2664 2495l20 90l18-41l-20-33zM2760 2554l19-33l19-7l-20 76zM3105 2504l20 3l19-2l-20-18z"/><path class="j13" d="M2053 2544l18-25l18 4l-19-16zM2702 2544l20 19l18-9l-20-48z"/><path class="j14" d="M2070 2507l19 16l18 6l-19 18z"/><path class="j1" d="M2330 2547l19 34l18 4l-19 44zM2647 2569l20 28l18 6l-19-77zM2837 2530l20 26l18 0l-19-6z"/><path class="j2" d="M2201 2595l19-4l18-9l-19-39zM2312 2546l19 17l18 18l-19-34zM2460 2552l19-14l18 37l-19-38zM2629 2536l20 5l18 56l-20-28zM2667 2597l19-63l19 0l-20 69zM2972 2526l20 0l19 31l-20-26z"/><path class="j3" d="M2055 2582l19-30l18-4l-19 5zM2073 2553l19-5l17-13l-19 30zM2165 2544l19 38l17 13l-19-42zM2200 2600l19-57l18 9l-19-1zM2497 2575l19-38l18-9l-19 9zM2516 2537l20 5l18 13l-20-27zM2743 2565l19 30l19-74l-20 8zM2914 2545l20-18l18-16l-20 48zM3107 2548l20-36l18 6l-20-11z"/><path class="j4" d="M2000 2579l19-45l17 46l-18-60zM2019 2534l19 4l17 44l-19-2zM2127 2529l19 39l18-42l-19 57zM2219 2543l19 39l18 0l-19-30zM2610 2501l19 35l18 33l-19 0zM2895 2515l20 54l19-42l-20 18zM2952 2511l20 15l19 5l-20 40zM3068 2507l20 20l19 21l-20 9zM3108 2525l20 8l19 6l-20-27zM3127 2512l20 27l18-40l-20 19zM3165 2499l21 16l18 20l-20-27z"/><path class="j5" d="M2092 2548l18 5l18 51l-19-69zM2238 2582l19-2l18-21l-19 23zM2275 2559l19-29l18 16l-19-17zM2367 2585l19-38l18-16l-19 6zM2422 2538l19-4l19 18l-20-24zM2649 2541l19 0l18-7l-19 63zM2800 2523l20 47l18-40l-19 25zM2915 2569l20-34l18 22l-19-30zM2953 2557l20-29l19-2l-20 0zM3030 2541l20 30l19-49l-20-16z"/><path class="j6" d="M2036 2580l19 2l18-29l-19-23zM2090 2565l19-30l18-6l-19 82zM2109 2535l19 69l18-36l-19-39zM2182 2553l19 42l18-52l-19 57zM2293 2529l19 17l18 1l-19-23zM2311 2524l19 23l18 82l-19-73zM2349 2581l19 18l18-52l-19 38zM2386 2547l19-1l18 41l-19-56zM2461 2541l19-1l18 1l-19-3zM2723 2517l20 48l18-36l-20-5zM2761 2529l20-8l18 9l-20-9zM2934 2527l19 30l19-31l-20-15zM2992 2526l20 56l18-41l-19 16zM3145 2518l20-19l19 9l-20-10z"/><path class="j7" d="M2256 2582l19-23l18-30l-19 5zM2536 2542l19 1l18-12l-19 24zM2554 2555l19-24l18-2l-19 28zM2611 2533l19 43l19-35l-20-5zM2685 2603l20-69l18-17l-20 12zM2705 2534l19 13l19 18l-20-48zM2724 2547l20 55l18-7l-19-30zM2762 2595l20-61l18-11l-19-2zM2838 2530l20 35l19-43l-20 34zM2857 2556l20-34l18-7l-20 41zM2991 2531l20 26l18-49l-20 51z"/><path class="j8" d="M2018 2520l18 60l18-50l-19 40zM2054 2530l19 23l17 12l-19-46zM2128 2604l19-57l18-3l-19 24zM2164 2526l18 27l18 47l-19-28zM2237 2552l19 30l18-48l-19-4zM2498 2541l19 4l19-3l-20-5zM2534 2528l20 27l18 2l-20-21zM2573 2531l20 19l18-17l-20-4zM2819 2555l19-25l19 26l-20-26zM2875 2556l20-41l19 30l-20-39zM3049 2506l20 16l19 5l-20-20z"/><path class="j9" d="M2348 2629l19-44l18-48l-19 4zM2385 2537l19-6l18 7l-19 30zM2423 2587l20-21l18-25l-20-7zM2479 2538l19 3l18-4l-19 38zM2877 2522l19 13l19 34l-20-54zM3088 2527l20-2l19-13l-20 36z"/><path class="j10" d="M2146 2568l19-24l17 9l-18-27zM2441 2534l20 7l18-3l-19 14z"/><path class="j11" d="M2274 2534l19-5l18-5l-19 36zM2404 2531l19 56l18-53l-19 4zM2799 2530l20 25l18-25l-20 47z"/><path class="j12" d="M3029 2508l20-2l19 1l-20 2zM3069 2522l20 18l19-15l-20 2zM3147 2539l20-23l19-1l-21-16z"/><path class="j13" d="M1981 2623l19-44l18-59l-19 10zM2572 2557l19-28l19-28l-20 25z"/><path class="j14" d="M2591 2529l20 4l18 3l-19-35zM2686 2534l20 5l18 8l-19-13zM3011 2557l19-16l19-35l-20 2z"/><path class="j16" d="M3184 2508l20 27l19-42l-20-1z"/><path class="j17" d="M2781 2521l19 2l19 32l-20-25z"/><path class="j0" d="M2821 2572l20 38l18-28l-19 3z"/><path class="j1" d="M2111 2655l19-41l18-49l-19-8zM2220 2591l19 0l18-11l-19 2zM2820 2570l20 15l18-20l-20-35zM2840 2585l19-3l19-31l-20 14z"/><path class="j2" d="M2350 2553l19 2l18 58l-19-14zM2707 2571l19-24l19 20l-20 25zM2725 2592l20-25l18-22l-19 57z"/><path class="j3" d="M2110 2553l19 4l18-10l-19 57zM2257 2580l19-9l18-41l-19 29zM2331 2563l19-10l18 46l-19-18zM2406 2557l20 11l18-16l-19 39zM2517 2545l20 13l18-15l-19-1zM2593 2550l19-9l18 35l-19-43zM2858 2565l20-14l18-16l-19-13zM2859 2582l20-32l18-9l-19 10zM2916 2535l20 62l18-64l-19 2z"/><path class="j4" d="M2332 2582l19 16l18-43l-19-2zM2443 2566l19 0l18-26l-19 1zM2519 2556l19 2l18-14l-19 14zM2612 2541l19 34l19-4l-20 5zM3089 2540l20-14l19 7l-20-8zM3090 2531l20 6l19 10l-20-21z"/><path class="j5" d="M2093 2584l18 71l18-98l-19-4zM2129 2557l19 8l18-15l-19-3zM2166 2550l19 6l18 21l-19 5zM2258 2540l19 23l18 4l-19 4zM2313 2538l19 44l18-29l-19 10zM2556 2544l19 51l19-40l-20 34zM2744 2602l19-57l19-11l-20 61zM2936 2597l20-22l18-41l-20-1zM2974 2534l20 27l19-30l-20-9zM3032 2532l19 9l19-9l-20 39zM3050 2571l20-39l19 8l-20-18z"/><path class="j6" d="M2184 2582l19-5l17 14l-19 4zM2185 2556l19 7l17-10l-18 24zM2203 2577l18-24l18 38l-19 0zM2368 2599l19 14l18-67l-19 1zM2387 2613l19-56l19 34l-20-45zM2425 2591l19-39l18 14l-19 0zM2462 2566l19 4l18-42l-19 12zM2481 2570l19-16l19 2l-20-28zM2668 2541l19 1l19-3l-20-5zM2745 2567l19-23l19 5l-20-4zM3051 2541l20 14l19-24l-20 1z"/><path class="j7" d="M2239 2591l19-51l18 31l-19 9zM2537 2558l19-14l18 45l-19-46zM2631 2575l20 5l18-38l-19 29zM2687 2542l20 29l18 21l-19-53zM2706 2539l19 53l19 10l-20-55zM2783 2549l19 33l19-10l-20-6zM2801 2566l20 6l19 13l-20-15zM2973 2528l20-6l19 60l-20-56z"/><path class="j8" d="M2038 2538l18 21l18-7l-19 30zM2276 2571l19-4l18-29l-19-8zM2294 2530l19 8l18 25l-19-17zM2405 2546l20 45l18-25l-20 21zM2480 2540l19-12l18 17l-19-4zM2630 2576l20-5l18-30l-19 0zM2878 2551l19-10l19-6l-20 0zM2897 2541l20 22l19 34l-20-62zM2954 2533l20 1l19-12l-20 6zM3070 2532l20-1l19-5l-20 14zM3109 2526l20 21l19-47l-20 33zM3128 2533l20-33l19 16l-20 23z"/><path class="j9" d="M2147 2547l19 3l18 32l-19-38zM2295 2567l19 8l18 7l-19-44zM2369 2555l19 8l18-6l-19 56zM2763 2545l20 4l18 17l-19-32zM2896 2535l20 0l19 0l-20 34zM2993 2522l20 9l19 1l-20 50zM3012 2582l20-50l18 39l-20-30zM3013 2531l20 39l18-29l-19-9z"/><path class="j10" d="M2056 2559l19 2l18 23l-19-32zM2074 2552l19 32l17-31l-18-5zM2148 2565l19-10l18 1l-19-6zM2499 2528l20 28l18 2l-20-13zM2574 2589l20-34l18-14l-19 9zM2782 2534l19 32l19 4l-20-47z"/><path class="j11" d="M2555 2543l19 46l19-39l-20-19zM2650 2571l19-29l18 0l-19-1zM2669 2542l20 14l18 15l-20-29z"/><path class="j12" d="M2221 2553l19 8l18-21l-19 51zM2444 2552l19 6l18 12l-19-4zM2594 2555l19-6l18 26l-19-34z"/><path class="j13" d="M2935 2535l19-2l19-5l-20 29z"/><path class="j15" d="M2075 2561l19-6l17 100l-18-71z"/><path class="j1" d="M2632 2584l20-16l18 52l-19-40zM2842 2632l19-73l19 37l-20-1z"/><path class="j2" d="M2333 2588l19-19l18-1l-19 30zM2445 2649l19-28l18-55l-19-8zM2520 2557l19 51l18 22l-19-72zM2613 2549l19 35l19-4l-20-5zM2937 2548l20 48l18-47l-19 26z"/><path class="j3" d="M2112 2613l19-8l18-48l-19 57zM2315 2570l19 82l18-83l-19 19zM2426 2568l19 81l18-91l-19-6zM2463 2558l19 8l18-12l-19 16zM2482 2566l19 36l19-45l-20-3zM2557 2630l19-38l19-25l-20 28zM2708 2624l19-70l19 11l-20-18zM2764 2544l20 20l18 18l-19-33zM2802 2582l20-34l19 62l-20-38zM2995 2552l20 0l19 70l-20-61z"/><path class="j4" d="M2204 2563l18 17l18-19l-19-8zM2500 2554l20 3l18 1l-19-2zM2595 2567l19-7l18 24l-19-35zM2727 2554l20-6l18 62l-19-45zM2841 2610l19-15l19-45l-20 32zM3014 2561l20 61l18-76l-19 24z"/><path class="j5" d="M2240 2561l19 3l18-1l-19-23zM2427 2550l19 55l18 16l-19 28zM2539 2608l19-32l18 16l-19 38zM2576 2592l20-25l18-7l-19 7zM2689 2580l20-17l18-9l-19 70zM2746 2565l19 45l19-46l-20-20zM2879 2550l19-10l19 23l-20-22zM2956 2575l19-26l19 12l-20-27zM2957 2596l19-10l19-34l-20-3z"/><path class="j6" d="M2094 2555l18 58l18 1l-19 41zM2314 2575l19 13l18 10l-19-16zM2388 2563l20 64l18-59l-20-11zM2765 2610l20-57l18 23l-19-12zM2880 2596l19 19l19-15l-20-60zM3034 2622l19-36l19-40l-20 0zM3071 2555l20 9l19-27l-20-6z"/><path class="j7" d="M2168 2607l19-23l18 5l-19-40zM2259 2564l19 6l18-14l-19 7zM2351 2598l19-30l18-5l-19-8zM2389 2586l19-14l19-22l-19 77zM2614 2560l19 37l19-29l-20 16zM2917 2563l20-15l19 27l-20 22zM3033 2570l19-24l19 9l-20-14zM3052 2546l20 0l19 18l-20-9z"/><path class="j8" d="M2277 2563l19-7l18 19l-19-8zM2278 2570l19 2l18-2l-19-14zM2352 2569l19 6l18 11l-19-18zM2370 2568l19 18l19 41l-20-64zM2651 2580l19 40l19-64l-20-14zM2726 2547l20 18l18-21l-19 23zM2860 2595l20 1l18-56l-19 10zM2898 2540l20 60l19-52l-20 15z"/><path class="j9" d="M2130 2614l19-57l18-2l-19 10zM2222 2580l19-10l18-6l-19-3zM2241 2570l19 7l18-7l-19-6zM2464 2621l19-14l18-5l-19-36zM2538 2558l19 72l18-35l-19-51zM2652 2568l19-18l18 30l-19 40zM2822 2548l20 84l18-37l-19 15zM2994 2561l20 0l19 9l-20-39z"/><path class="j10" d="M2149 2557l19 50l18-58l-19 6zM2186 2549l19 40l17-9l-18-17zM2408 2627l19-77l18 99l-19-81zM2501 2602l19-32l19 38l-19-51zM2575 2595l20-28l18-18l-19 6z"/><path class="j11" d="M2296 2556l19 14l18 18l-19-13zM2689 2556l19 68l18-77l-19 24zM2918 2600l20-57l19 53l-20-48zM2975 2549l20 3l19 9l-20 0z"/><path class="j12" d="M2131 2605l19-2l18 4l-19-50zM2167 2555l19-6l18 14l-19-7zM2803 2576l20-14l19 70l-20-84z"/><path class="j13" d="M2670 2620l19-40l19 44l-19-68z"/><path class="j14" d="M2205 2589l18-56l18 37l-19 10zM2784 2564l19 12l19-28l-20 34z"/><path class="j2" d="M2334 2652l19-36l18-41l-19-6z"/><path class="j3" d="M2169 2689l19-61l17-44l-18 0zM2297 2572l19 54l18 26l-19-82zM2483 2607l19-38l18 1l-19 32zM2520 2570l20 4l18 2l-19 32zM2558 2576l19 7l19-16l-20 25zM2577 2583l19-4l19 3l-19-15zM2615 2582l19-8l19 38l-20-15zM2690 2622l20-46l18 2l-19-15zM2710 2576l19 2l19 8l-20-8zM2804 2578l20 11l18-28l-19 1zM2862 2587l19-14l19-5l-19 8zM2939 2558l19 21l19 67l-20-85z"/><path class="j4" d="M2150 2603l19 86l18-105l-19 23zM2335 2578l19 68l18-64l-19 34zM2390 2557l19 52l18-30l-19-7zM2409 2609l19-10l19-17l-20-3zM2427 2579l20 3l18-12l-19 35zM2559 2613l19-51l18 17l-19 4zM2596 2579l20 1l18-6l-19 8zM2823 2562l19-1l19-2l-19 73zM2861 2559l20 17l18 39l-19-19z"/><path class="j5" d="M2484 2572l19 66l18-65l-19-4zM2728 2578l20 8l18-26l-19-12zM2766 2560l20 10l18 8l-19-25z"/><path class="j6" d="M2371 2575l19-18l18 15l-19 14zM2633 2597l20 15l18-62l-19 18zM2653 2612l19-39l18 49l-19-72zM2672 2573l19 18l19-15l-20 46zM2747 2548l19 12l19-7l-20 57zM2881 2576l19-8l19-23l-20 70z"/><path class="j7" d="M2188 2628l18-21l18-22l-19-1zM2242 2578l19-2l18-9l-19 10zM2298 2579l19 23l18-24l-19 48zM2353 2616l19-34l18-25l-19 18zM2709 2563l19 15l19-30l-20 6zM2786 2570l19 35l19-16l-20-11zM2842 2561l20 26l19-11l-20-17z"/><path class="j8" d="M2279 2567l19 12l18 47l-19-54zM2596 2567l19 15l18 15l-19-37zM2671 2550l19 72l19-59l-20 17zM2748 2586l19 5l19-21l-20-10zM2900 2568l20 38l19-48l-20-13zM2977 2646l20-80l19-9l-20-1zM3015 2552l19 2l19 32l-19 36z"/><path class="j9" d="M2187 2584l18 0l18-51l-18 56zM2223 2533l19 45l18-1l-19-7zM2224 2585l19 20l18-29l-19 2zM2372 2582l19 63l18-36l-19-52zM2408 2572l19 7l19 26l-19-55zM2447 2582l19-4l18-6l-19-2zM2465 2570l19 2l18-3l-19 38zM2540 2574l19 39l18-30l-19-7zM2785 2553l19 25l19-16l-20 14zM2824 2589l19 20l19-22l-20-26zM2957 2561l20 85l19-90l-20 30z"/><path class="j10" d="M2521 2573l19 4l19 36l-19-39zM2634 2574l19-2l19 1l-19 39zM2919 2545l20 13l18 3l-19-18z"/><path class="j11" d="M2205 2584l19 1l18-7l-19-45zM2261 2576l19 44l18-41l-19-12zM2446 2605l19-35l18 37l-19 14zM2996 2556l20 1l18-3l-19-2z"/><path class="j12" d="M2260 2577l19-10l18 5l-19-2zM2502 2569l19 4l19 1l-20-4zM2938 2543l19 18l19 25l-19 10z"/><path class="j13" d="M2316 2626l19-48l18 38l-19 36zM2976 2586l20-30l19-4l-20 0z"/><path class="j15" d="M2899 2615l20-70l19-2l-20 57z"/><path class="j1" d="M2299 2608l19 57l18-40l-19-23z"/><path class="j2" d="M2318 2665l18-71l19 19l-19 12zM2485 2650l19-58l18-6l-19 52zM2805 2605l20 23l18-19l-19-20z"/><path class="j3" d="M2373 2588l19-12l18 65l-19 4zM2410 2641l19-7l18 13l-19-48zM2748 2591l20 4l18-13l-19 9zM2786 2582l20-10l19 56l-20-23z"/><path class="j4" d="M2428 2599l19 48l19-69l-19 4zM2429 2634l19-39l18 49l-19 3zM2466 2578l19 72l18-12l-19-66zM2503 2638l19-52l18-9l-19-4zM2579 2651l19-53l18-14l-19 23zM2692 2572l19 111l19-111l-20 56zM2768 2595l19 10l19-33l-20 10zM2806 2572l19 89l19-79l-19 46zM2825 2628l19-46l19-5l-20 32zM2844 2582l19 46l19-59l-19 8zM2881 2573l20 0l19 33l-20-38zM2958 2579l20-9l19-4l-20 80z"/><path class="j5" d="M2281 2656l18-57l19 66l-19-57zM2317 2602l19 23l18 21l-19-68zM2355 2613l19 12l18-49l-19 12zM2391 2645l19-4l18-42l-19 10zM2654 2590l19 4l19-22l-19 3zM2901 2573l19 18l19-13l-19 28z"/><path class="j6" d="M2244 2594l18 6l19 56l-19-59zM2262 2597l19 59l18-48l-19 12zM2280 2620l19-12l18-6l-19-23zM2466 2644l19-47l19-5l-19 58zM2540 2577l20 3l18-18l-19 51zM2541 2578l19 3l19 70l-19-71zM2616 2584l19 0l19 6l-19-28zM2710 2628l20-56l18 19l-19-13z"/><path class="j7" d="M2243 2605l19-8l18 23l-19-44zM2560 2580l19 71l18-44l-19-45zM2578 2562l19 45l19-27l-20-1zM2729 2578l19 13l19 0l-19-5zM2920 2606l19-28l19 1l-19-21z"/><path class="j8" d="M2225 2644l19-50l18 3l-19 8zM2597 2607l19-23l19-22l-19 18zM2673 2575l19-3l18 56l-19-37zM2882 2569l20 23l18-1l-19-18zM2939 2578l20-16l19 8l-20 9z"/><path class="j9" d="M2336 2625l19-12l18-25l-19 58zM2354 2646l19-58l18 57l-19-63zM2392 2576l19 22l18 36l-19 7zM2522 2586l19-8l19 2l-20-3zM2653 2572l20 3l18 16l-19-18zM2767 2591l19-9l19 23l-19-35zM2843 2609l20-32l18-4l-19 14zM2920 2591l20 22l19-51l-20 16z"/><path class="j11" d="M2730 2572l19 22l19 1l-20-4zM2863 2577l19-8l19 4l-20 0z"/><path class="j12" d="M2447 2647l19-3l19 6l-19-72zM2616 2580l19-18l18 10l-19 2z"/><path class="j13" d="M2206 2607l19 37l18-39l-19-20z"/><path class="j15" d="M2635 2562l19 28l19-15l-20-3z"/><path class="j16" d="M2504 2592l19-8l18-6l-19 8z"/><path class="j18" d="M2691 2591l19 37l19-50l-19-2z"/><path class="j2" d="M2336 2594l19 64l19-33l-19-12z"/><path class="j3" d="M2318 2639l19 0l18 19l-19-64zM2337 2639l19-35l18-6l-19 60zM2673 2594l19 11l19 78l-19-111zM2712 2614l19-11l19 56l-20-66zM2730 2593l20 66l18-73l-19 8zM2768 2586l20 66l18-11l-19-36zM2863 2628l20-5l19-31l-20-23zM2902 2592l19-15l19 36l-20-22z"/><path class="j4" d="M2262 2600l19 19l18-20l-18 57zM2467 2619l19-10l18 19l-19-31zM2711 2683l19-90l19 1l-19-22z"/><path class="j5" d="M2281 2619l19-16l18 36l-19-40zM2355 2658l19-60l18 16l-18 11zM2411 2608l19 36l19-10l-19-23zM2449 2634l18 14l19-39l-19 10zM2598 2607l19 4l19 11l-19-22zM2787 2605l19 36l19 20l-19-89zM2825 2661l20-79l18 46l-19-46z"/><path class="j6" d="M2374 2598l19 14l18-4l-19 6zM2411 2598l19 13l18-16l-19 39zM2430 2611l19 23l18-15l-19-24zM2485 2597l19 31l19-44l-19 8zM2560 2581l19 13l19 4l-19 53zM2579 2594l19 13l19-7l-19-2zM2655 2584l19 28l18-7l-19-11zM2692 2605l20 9l18-21l-19 90zM2845 2582l19 14l19 27l-20 5zM2864 2596l19 4l19-12l-19 35z"/><path class="j7" d="M2299 2599l19 40l18-45l-18 71zM2300 2603l19-12l18 48l-19 0zM2392 2614l19-6l19 3l-19-13zM2542 2634l19-29l18-11l-19-13zM2561 2605l19-10l18 12l-19-13zM2674 2612l19-2l19 4l-20-9zM2788 2652l19-33l19 16l-20 6z"/><path class="j8" d="M2486 2609l19-7l18 34l-19-8zM2635 2584l20 0l18 10l-19-4zM2749 2594l19-8l19 19l-19-10zM2826 2635l19-31l19-8l-19-14z"/><path class="j9" d="M2523 2636l19-31l19 0l-19 29zM2636 2622l19-34l19 24l-19-28zM2806 2641l20-6l19-53l-20 79zM2883 2623l19-35l19-11l-19 15z"/><path class="j10" d="M2504 2628l19 8l19-2l-19-50z"/><path class="j12" d="M2448 2595l19 24l18-22l-19 47zM2598 2598l19 2l18-16l-19 0z"/><path class="j13" d="M2617 2600l19 22l19-38l-20 0zM2750 2659l19-63l19 56l-20-66z"/><path class="j14" d="M2374 2625l18-11l19-16l-19-22z"/><path class="j19" d="M2523 2584l19 50l18-53l-19-3z"/><path class="j2" d="M2412 2649l19 15l18-38l-19 18zM2468 2618l19 29l18-8l-19 3zM2712 2635l19 11l19-31l-19-12zM2769 2614l20 2l18 62l-19-47z"/><path class="j3" d="M2505 2639l19-23l19 5l-19-3zM2561 2642l19-1l19-9l-19-37zM2807 2619l19-21l19 6l-19 31z"/><path class="j4" d="M2524 2618l19 3l18 21l-19-37zM2693 2614l20 3l18 29l-19-11z"/><path class="j5" d="M2505 2602l19 16l18-13l-19 31zM2543 2621l19-1l18 21l-19 1zM2599 2632l19-29l19 50l-20-42zM2617 2611l20 42l18-65l-19 34zM2618 2603l19 58l19 2l-19-10z"/><path class="j6" d="M2375 2619l18 5l19 25l-19-37zM2486 2642l19-3l19-21l-19-16zM2769 2596l19 35l19-12l-19 33z"/><path class="j7" d="M2393 2612l19 37l18-5l-19-36zM2674 2590l19 24l19 21l-19-25zM2731 2646l20-14l18-18l-19 1z"/><path class="j8" d="M2580 2595l19 37l18-21l-19-4zM2580 2641l19 23l19-61l-19 29zM2845 2604l19 28l19-32l-19-4z"/><path class="j9" d="M2356 2628l19-5l18 1l-18-5zM2467 2648l19-6l19-40l-19 7zM2542 2605l19 37l19-47l-19 10zM2637 2653l19 10l18-73l-19-2zM2693 2610l19 25l19-32l-19 11zM2807 2678l20-50l19-46l-20 16z"/><path class="j10" d="M2319 2591l19 18l18-5l-19 35zM2449 2626l19-8l18 24l-19 6zM2656 2663l19-51l18 2l-19-24zM2731 2603l19 12l19-19l-19 63zM2750 2615l19-1l19 17l-19-35zM2826 2598l20-16l18 50l-19-28z"/><path class="j11" d="M2338 2609l18 19l19-9l-19-15z"/><path class="j12" d="M2430 2644l19-18l18 22l-18-14zM2788 2631l19 47l19-80l-19 21z"/><path class="j13" d="M2393 2624l19 2l19 38l-19-15zM2431 2664l18-2l19-44l-19 8z"/><path class="j14" d="M2356 2604l19 15l18-7l-19-14zM2655 2588l19 2l19 20l-19 2z"/><path class="j2" d="M2581 2661l19-24l18 20l-19 7zM2599 2664l19-7l19 4l-19-58z"/><path class="j3" d="M2431 2674l19-35l18-21l-19 44zM2562 2620l19 41l18 3l-19-23zM2562 2639l19 18l19-20l-19 24zM2751 2632l19-10l19-6l-20-2z"/><path class="j4" d="M2487 2647l19-31l18 0l-19 23z"/><path class="j5" d="M2375 2623l19 22l18-19l-19-2zM2487 2631l19 86l19-42l-19-59zM2732 2619l19 44l19-41l-19 10zM2770 2622l19 4l19 54l-19-64z"/><path class="j6" d="M2412 2634l19-1l19 6l-19 35zM2450 2639l19 1l18-9l-19-13zM2600 2637l19 7l18-20l-19 33zM2637 2661l19-36l19-13l-19 51zM2637 2624l19 65l19-95l-19 31z"/><path class="j7" d="M2449 2662l19-44l19 29l-19-29zM2506 2616l19 59l18-6l-19-53zM2543 2669l19-30l19 22l-19-41zM2694 2628l19-2l19-7l-19-2zM2751 2663l19-32l19-5l-19-4z"/><path class="j8" d="M2394 2645l18-11l19 40l-19-48zM2525 2675l18-36l19 0l-19 30zM2675 2594l19 29l19 3l-19 2z"/><path class="j9" d="M2412 2626l19 48l18-12l-18 2zM2524 2616l19 53l19-49l-19 1zM2713 2617l19 2l19 13l-20 14zM2789 2616l19 64l19-52l-20 50z"/><path class="j10" d="M2656 2625l19-31l19 34l-19-16z"/><path class="j11" d="M2468 2618l19 13l19-15l-19 31zM2618 2657l19-33l19 1l-19 36zM2713 2626l19 6l19 31l-19-44z"/><path class="j14" d="M2675 2612l19 16l19-11l-20-3z"/><path class="j1" d="M2506 2717l19-40l18-38l-18 36z"/><path class="j2" d="M2469 2640l18 29l19 48l-19-86zM2487 2669l19-34l19 42l-19 40z"/><path class="j3" d="M2581 2657l19 33l19-46l-19-7zM2619 2636l19 56l19 2l-19-53zM2713 2687l19-56l19 19l-19-18z"/><path class="j4" d="M2638 2641l19 53l18-64l-19 59zM2657 2694l18-47l19-4l-19-13z"/><path class="j5" d="M2600 2690l19-54l19 5l-19 3zM2619 2644l19-3l18 48l-19-65z"/><path class="j6" d="M2506 2635l19 9l19-12l-19 45zM2581 2660l19-13l19-11l-19 54zM2675 2630l19 13l19 44l-19-64zM2694 2623l19 64l19-55l-19-6z"/><path class="j7" d="M2431 2633l19 1l19 6l-19-1zM2450 2634l19 0l18 35l-18-29z"/><path class="j8" d="M2525 2677l19-45l18 47l-19-40zM2544 2632l18 24l19 4l-19 19z"/><path class="j9" d="M2562 2679l19-19l19 30l-19-33zM2694 2643l19 63l19-75l-19 56z"/><path class="j10" d="M2543 2639l19 40l19-22l-19-18zM2732 2632l19 18l19-19l-19 32z"/><path class="j11" d="M2656 2689l19-59l19-7l-19-29z"/><path class="j13" d="M2469 2634l19 20l18-19l-19 34z"/><path class="j3" d="M2600 2659l19 6l19 14l-19-18zM2657 2654l19 15l18-18l-19-4zM2675 2647l19 4l19 55l-19-63z"/><path class="j4" d="M2619 2661l19 18l19-25l-19 38zM2638 2679l19-18l19 8l-19-15z"/><path class="j5" d="M2544 2683l19-28l18 55l-19-54z"/><path class="j6" d="M2581 2710l19-51l19 2l-19-14z"/><path class="j7" d="M2506 2654l19 2l19 27l-19-39z"/><path class="j8" d="M2525 2656l19 33l19-34l-19 28zM2562 2656l19 54l19-63l-19 13zM2600 2647l19 14l19 31l-19-56z"/><path class="j9" d="M2525 2644l19 39l18-27l-18-24zM2563 2655l18 24l19-20l-19 51z"/><path class="j10" d="M2638 2692l19-38l18-7l-18 47z"/><path class="j12" d="M2488 2654l18 0l19-10l-19-9z"/><path class="j4" d="M2562 2677l19-9l19-5l-19 16zM2581 2679l19-16l19 2l-19-6z"/><path class="j9" d="M2544 2689l18-12l19 2l-18-24zM2581 2668l19 4l19 42l-19-51z"/><path class="j10" d="M2619 2665l19-18l19 14l-19 18z"/><path class="j11" d="M2600 2663l19 51l19-67l-19 18z"/><path class="j1" d="M2753 2623l36 0l-14 27zM3096 2530l35 0l-23 48zM2771 2619l33 0l-17 33zM2705 2637l29 0l-8 28zM2314 2610l33 0l-22 33zM2844 2599l36 0l-18 20zM1983 2537l40 0l-22 18zM1994 2540l38 0l-14 60zM3161 2513l33 0l-10 59zM2749 2626l24 0l-11 29zM2009 2541l24 0l-18 15zM2016 2543l25 0l-9 25zM2046 2550l24 0l-8 55zM2674 2647l25 0l-15 34zM2912 2581l30 0l-12 12zM3173 2509l39 0l-26 56zM2073 2557l36 0l-16 46z"/><path class="j2" d="M2006 2540l21 0l-5 26zM2165 2577l30 0l-18 40zM3053 2542l33 0l-12 39zM3039 2546l34 0l-14 32zM2631 2657l30 0l-21 61zM2615 2662l31 0l-22 22zM2646 2654l22 0l-17 56zM2890 2587l33 0l-12 44zM2897 2586l25 0l-12 31zM3151 2517l23 0l-5 61zM2471 2645l35 0l-21 43zM2786 2616l27 0l-8 59zM1993 2539l34 0l-15 40zM2263 2599l31 0l-9 52z"/><path class="j3" d="M2556 2664l37 0l-21 27zM2470 2645l38 0l-13 23zM2885 2588l34 0l-21 39z"/><path class="j4" d="M2229 2592l40 0l-27 44z"/></g></g><g opacity=".35"><line x1="223" y1="46" x2="308" y2="20" stroke="#c83c3c" stroke-width="1.15" stroke-dasharray="3 2.2" fill="none"/><line x1="223.6" y1="192.8" x2="308" y2="168" stroke="#c83c3c" stroke-width="1.15" stroke-dasharray="3 2.2" fill="none"/><line x1="256" y1="33" x2="364" y2="69" stroke="#c83c3c" stroke-width="1.15" stroke-dasharray="3 2.2" fill="none"/><line x1="290.5" y1="188.4" x2="364.2" y2="217.2" stroke="#c83c3c" stroke-width="1.15" stroke-dasharray="3 2.2" fill="none"/></g>
<g stroke="#444" stroke-width=".8" fill="none">
<line x1="167" y1="15" x2="167" y2="124"/>
<line x1="167" y1="30.2" x2="172.5" y2="30.2"/>
<line x1="167" y1="69.8" x2="172.5" y2="69.8"/>
<line x1="167" y1="109" x2="172.5" y2="109"/>
<polyline points="190.4,94.3 190.4,115.3 261,131.5 331.8,113.1"/>
<line x1="167" y1="162" x2="167" y2="272.5"/>
<line x1="167" y1="179" x2="172.5" y2="179"/>
<line x1="167" y1="218.4" x2="172.5" y2="218.4"/>
<line x1="167" y1="257.2" x2="172.5" y2="257.2"/>
<polyline points="190.4,241.7 190.4,262.7 260.9,279.2 331.6,260.7"/>
</g>
<text font-size="9.2" transform="translate(181.6 18.9) scale(1.1 1)" class="pl2">(b)</text>
<text font-size="8.2" text-anchor="end" transform="translate(163.3 33.6) scale(.9 1)">100</text>
<text font-size="8.2" text-anchor="end" transform="translate(163.3 73) scale(.9 1)">200</text>
<text font-size="8.2" text-anchor="end" transform="translate(163.3 112.3) scale(.9 1)">300</text>
<text font-size="8.2" text-anchor="end" transform="translate(187.5 97.8) scale(.9 1)">200</text>
<text font-size="8.2" text-anchor="end" transform="translate(187.5 113.8) scale(.9 1)">140</text>
<text font-size="8.2" text-anchor="middle" transform="translate(188.7 124.3) scale(.9 1)">50</text>
<text font-size="8.2" text-anchor="middle" transform="translate(261.5 140) scale(.9 1)">1</text>
<text font-size="8.2" text-anchor="middle" transform="translate(332.4 121.3) scale(.9 1)">50</text>
<text font-size="9.5" text-anchor="middle" transform="translate(145 77) rotate(-90)" class="tt">Z position (Voxel)</text>
<text font-size="10" font-style="italic" transform="translate(183.6 133.2) rotate(11.5)" class="tt">Y position(Voxel)</text>
<text font-size="10" font-style="italic" transform="translate(273.2 149.6) rotate(-16.5)" class="tt">X position(Voxel)</text>
<rect x="344.3" y="9.3" width="3.7" height="120.7" fill="url(#jet)"/>
<text x="351.2" y="16.8" font-size="7.4">250</text>
<text x="351.2" y="39" font-size="7.4">200</text>
<text x="351.2" y="62.3" font-size="7.4">150</text>
<text x="351.2" y="86.3" font-size="7.4">100</text>
<text x="351.2" y="107.7" font-size="7.4">50</text>
<text x="351.2" y="130" font-size="7.4">0</text>
<text font-size="9.2" transform="translate(180.4 166.3) scale(1.1 1)" class="pl2">(d)</text>
<text font-size="8.2" text-anchor="end" transform="translate(162.3 181.8) scale(.9 1)">150</text>
<text font-size="8.2" text-anchor="end" transform="translate(162.3 221) scale(.9 1)">300</text>
<text font-size="8.2" text-anchor="end" transform="translate(162.3 259.9) scale(.9 1)">450</text>
<text font-size="8.2" text-anchor="end" transform="translate(187.2 244.6) scale(.9 1)">200</text>
<text font-size="8.2" text-anchor="end" transform="translate(187.2 261.8) scale(.9 1)">140</text>
<text font-size="8.2" text-anchor="middle" transform="translate(189 270.5) scale(.9 1)">50</text>
<text font-size="8.2" text-anchor="middle" transform="translate(261 288) scale(.9 1)">1</text>
<text font-size="8.2" text-anchor="middle" transform="translate(332 267.8) scale(.9 1)">50</text>
<text font-size="9.5" text-anchor="middle" transform="translate(144 218.4) rotate(-90)" class="tt">X position (Voxel)</text>
<text font-size="10" font-style="italic" transform="translate(187.6 279.6) rotate(13.5)" class="tt">Y position(Voxel)</text>
<text font-size="10" font-style="italic" transform="translate(274.8 300) rotate(-17)" class="tt">Z position(Voxel)</text>
<rect x="345.6" y="157.5" width="3.1" height="119.8" fill="url(#jet)"/>
<text x="352" y="165.6" font-size="7.4">250</text>
<text x="352" y="186" font-size="7.4">200</text>
<text x="352" y="209.3" font-size="7.4">150</text>
<text x="352" y="233.8" font-size="7.4">100</text>
<text x="352" y="255.5" font-size="7.4">50</text>
<text x="352" y="277.3" font-size="7.4">0</text>
<line x1="402.5" y1="103.5" x2="541.5" y2="103.5" stroke="#e4e4e4" stroke-width=".6"/>
<line x1="402.5" y1="85.5" x2="541.5" y2="85.5" stroke="#e4e4e4" stroke-width=".6"/>
<line x1="402.5" y1="67.5" x2="541.5" y2="67.5" stroke="#e4e4e4" stroke-width=".6"/>
<line x1="402.5" y1="49.5" x2="541.5" y2="49.5" stroke="#e4e4e4" stroke-width=".6"/>
<line x1="402.5" y1="31.5" x2="541.5" y2="31.5" stroke="#e4e4e4" stroke-width=".6"/>
<rect x="440" y="95" width="100" height="24" fill="#fff"/>
<polyline points="403.1,55.6 403.4,48.6 403.7,46.2 404,54.1 404.3,56.6 404.6,77.9 404.9,54.2 405.3,70 405.6,51.7 405.9,63.6 406.2,51.1 406.5,54.2 406.8,51.5 407.1,54.6 407.4,57.2 407.7,54 408,61.8 408.3,54.6 408.6,56 408.9,52.3 409.3,58.8 409.6,65 409.9,57.9 410.2,60.2 410.5,67.8 410.8,91.3 411.1,78.6 411.4,86.3 411.7,67.8 412,61 412.3,53.5 412.6,56 412.9,59.8 413.3,55.6 413.6,52 413.9,55.6 414.2,52.9 414.5,49 414.8,53.8 415.1,59.2 415.4,64.2 415.7,54.4 416,41.4 416.3,59.6 416.6,61 416.9,62.5 417.2,67.9 417.6,60.6 417.9,42.3 418.2,59.4 418.5,50.2 418.8,49 419.1,49.5 419.4,50.8 419.7,48.6 420,74.5 420.3,54.3 420.6,52 420.9,63.3 421.2,48.1 421.6,57.8 421.9,52.6 422.2,66 422.5,56.3 422.8,54.2 423.1,59.7 423.4,54.4 423.7,55.7 424,53.2 424.3,57.4 424.6,50.8 424.9,50.4 425.2,69.2 425.6,74.9 425.9,47.4 426.2,42.7 426.5,58.1 426.8,52.2 427.1,66.3 427.4,54.5 427.7,60.5 428,51.3 428.3,60.4 428.6,54.9 428.9,48.6 429.2,60.9 429.6,81.6 429.9,64.4 430.2,58.4 430.5,49.1 430.8,42.2 431.1,59 431.4,60.2 431.7,54.1 432,56.7 432.3,49.6 432.6,56.9 432.9,54.7 433.2,55.4 433.6,42.1 433.9,60 434.2,55.7 434.5,54.1 434.8,43.2 435.1,56.8 435.4,78.5 435.7,61.6 436,52.1 436.3,55.1 436.6,63 436.9,68.1 437.2,69.6 437.6,42.8 437.9,49.6 438.2,55.4 438.5,63.2 438.8,52.2 439.1,40.8 439.4,53.3 439.7,58.1 440,53.7 440.3,71.3 440.6,81 440.9,58.9 441.2,56.2 441.5,50.3 441.9,53.2 442.2,76.1 442.5,55.3 442.8,53.9 443.1,90.8 443.4,68 443.7,57.1 444,59.5 444.3,54.4 444.6,52.4 444.9,47.3 445.2,47.8 445.5,46.9 445.9,60.2 446.2,75.6 446.5,60.6 446.8,60.5 447.1,63.8 447.4,76.9 447.7,59.2 448,56 448.3,57.7 448.6,66.7 448.9,61.1 449.2,57 449.5,70.3 449.9,50.5 450.2,56.8 450.5,60 450.8,47.2 451.1,48 451.4,42.7 451.7,47.8 452,75.4 452.3,52.3 452.6,51.8 452.9,51.1 453.2,67.1 453.5,52.5 453.9,53.4 454.2,62.6 454.5,59.7 454.8,61.5 455.1,85.3 455.4,59.1 455.7,54.1 456,50.7 456.3,39.2 456.6,46 456.9,53.8 457.2,57.2 457.5,57.3 457.9,66.7 458.2,55.2 458.5,55.5 458.8,52.6 459.1,61.3 459.4,69.9 459.7,58.8 460,61 460.3,59.2 460.6,60.3 460.9,56.3 461.2,59 461.5,62.8 461.8,63.4 462.2,52.4 462.5,54 462.8,61.1 463.1,58.1 463.4,82.7 463.7,50.6 464,86.6 464.3,55.8 464.6,53 464.9,62.1 465.2,57.1 465.5,51.2 465.8,51.3 466.2,52.4 466.5,72.9 466.8,52 467.1,52.4 467.4,54.9 467.7,52.1 468,59 468.3,53.1 468.6,57.2 468.9,62.1 469.2,56.7 469.5,47.4 469.8,47 470.2,54.5 470.5,51.6 470.8,56.3 471.1,56.7 471.4,55.7 471.7,67.9 472,71.4 472.3,77 472.6,62.8 472.9,66.6 473.2,68.6 473.5,66.5 473.8,56.3 474.2,47.3 474.5,75.2 474.8,48.4 475.1,53.9 475.4,64.9 475.7,59.1 476,55 476.3,57.7 476.6,55.1 476.9,52.5 477.2,58.8 477.5,64.9 477.8,61 478.2,59.3 478.5,59.2 478.8,52.2 479.1,45.2 479.4,53.2 479.7,51 480,48.7 480.3,48.9 480.6,47.2 480.9,54 481.2,51.1 481.5,43.1 481.8,45.9 482.2,54.6 482.5,52.1 482.8,47.5 483.1,66.4 483.4,56.2 483.7,47.9 484,71.7 484.3,54.5 484.6,55.3 484.9,61.8 485.2,52.1 485.5,52.3 485.8,60.3 486.1,82 486.5,57.6 486.8,66.5 487.1,64.2 487.4,58.2 487.7,53.6 488,53.9 488.3,80.1 488.6,67.7 488.9,74.6 489.2,49.6 489.5,52.2 489.8,52.7 490.1,51.6 490.5,59.4 490.8,61.1 491.1,77.5 491.4,51.5 491.7,67.2 492,53.8 492.3,84.3 492.6,81.4 492.9,81.8 493.2,55.8 493.5,64 493.8,52.6 494.1,57 494.5,64.6 494.8,60.9 495.1,60 495.4,78.9 495.7,62.3 496,56.6 496.3,37.3 496.6,76.1 496.9,53.3 497.2,56.3 497.5,55 497.8,83.9 498.1,65.9 498.5,57.9 498.8,57 499.1,47.8 499.4,55.9 499.7,54.9 500,34.2 500.3,52.8 500.6,59.2 500.9,57.5 501.2,56.8 501.5,51.8 501.8,53.3 502.1,58.6 502.5,56 502.8,61.9 503.1,43 503.4,64.6 503.7,60.5 504,62.5 504.3,55.6 504.6,68.1 504.9,46.1 505.2,65.9 505.5,47 505.8,72.6 506.1,53.8 506.5,53.1 506.8,47.8 507.1,67.1 507.4,54.8 507.7,48.7 508,51.6 508.3,54.3 508.6,59.3 508.9,60.3 509.2,61.2 509.5,72.8 509.8,58.1 510.1,53.9 510.4,56.1 510.8,50.5 511.1,73 511.4,51.7 511.7,66.9 512,62 512.3,55.8 512.6,47.4 512.9,59.5 513.2,42.3 513.5,80.4 513.8,67.3 514.1,58 514.4,56.6 514.8,51.2 515.1,54.4 515.4,54 515.7,85.6 516,56.6 516.3,58.5 516.6,55.2 516.9,53.1 517.2,64.3 517.5,53.9 517.8,78.8 518.1,51.5 518.4,51.2 518.8,56.6 519.1,59.2 519.4,48.2 519.7,43.7 520,62.7 520.3,50.8 520.6,56.5 520.9,60 521.2,57.1 521.5,55 521.8,61.2 522.1,60.8 522.4,61.2 522.8,68.5 523.1,48.8 523.4,64.9 523.7,57.6 524,59.4 524.3,55.2 524.6,58.1 524.9,54.9 525.2,47.2 525.5,50.1 525.8,51 526.1,51.7 526.4,57.9 526.8,53.9 527.1,56 527.4,60.1 527.7,58 528,58 528.3,52.8 528.6,68.9 528.9,58.1 529.2,49.2 529.5,47.7 529.8,45.5 530.1,48 530.4,52.9 530.7,56.7 531.1,44.3 531.4,70.2 531.7,53.4 532,47.9 532.3,59 532.6,64.6 532.9,73.2 533.2,75.1 533.5,65.9 533.8,59.7 534.1,58 534.4,65.4 534.7,56.2 535.1,44.7 535.4,58.5 535.7,47.5 536,55.7 536.3,58.3 536.6,81.7 536.9,64.3 537.2,52.8 537.5,67.2 537.8,58 538.1,58.2 538.4,64.8 538.7,87.7 539.1,53.6 539.4,63.7 539.7,61.7 540,57.7 540.3,51.2 540.6,46.7 540.9,54.1" fill="none" stroke="#4f88c6" stroke-width=".6" stroke-linejoin="bevel"/>
<line x1="402.5" y1="58" x2="541.5" y2="58" stroke="#c0504d" stroke-width=".55"/>
<rect x="402.5" y="13.5" width="139.0" height="108.0" fill="none" stroke="#8a8a8a" stroke-width="1"/>
<text x="396.9" y="121.5" font-size="7.5" text-anchor="end">100</text>
<text x="396.9" y="104.4" font-size="7.5" text-anchor="end">120</text>
<text x="396.9" y="87.3" font-size="7.5" text-anchor="end">140</text>
<text x="396.9" y="70.3" font-size="7.5" text-anchor="end">160</text>
<text x="396.9" y="53.2" font-size="7.5" text-anchor="end">180</text>
<text x="396.9" y="36.1" font-size="7.5" text-anchor="end">200</text>
<text x="396.9" y="19.1" font-size="7.5" text-anchor="end">220</text>
<text x="401.5" y="133.8" font-size="7.5" text-anchor="middle">0</text>
<text x="437.3" y="133.8" font-size="7.5" text-anchor="middle">100</text>
<text x="468.2" y="133.8" font-size="7.5" text-anchor="middle">200</text>
<text x="499.8" y="133.8" font-size="7.5" text-anchor="middle">300</text>
<text x="530.8" y="133.8" font-size="7.5" text-anchor="middle">400</text>
<text font-size="9.2" transform="translate(468.3 8.8) scale(1.1 1)" class="pl2">(c)</text>
<line x1="445.3" y1="100" x2="466.7" y2="100" stroke="#5b9bd5" stroke-width="1.3"/>
<line x1="445.5" y1="114.5" x2="472" y2="114.5" stroke="#b02020" stroke-width="1.4" stroke-dasharray="1.4 2.4"/>
<text x="484.3" y="102.6" font-size="7.5">Image data</text>
<text x="477.2" y="116.4" font-size="7.5">Attenuation trend</text>
<text font-size="10" text-anchor="middle" transform="translate(379.2 68) rotate(-90)" class="tt">Gray level</text>
<text x="472" y="147.4" font-size="10" text-anchor="middle" font-style="italic" class="tt">X position(Voxel)</text>
<line x1="402.5" y1="253.5" x2="544.5" y2="253.5" stroke="#e4e4e4" stroke-width=".6"/>
<line x1="402.5" y1="240.5" x2="544.5" y2="240.5" stroke="#e4e4e4" stroke-width=".6"/>
<line x1="402.5" y1="227.5" x2="544.5" y2="227.5" stroke="#e4e4e4" stroke-width=".6"/>
<line x1="402.5" y1="214.5" x2="544.5" y2="214.5" stroke="#e4e4e4" stroke-width=".6"/>
<line x1="402.5" y1="201.5" x2="544.5" y2="201.5" stroke="#e4e4e4" stroke-width=".6"/>
<line x1="402.5" y1="188.5" x2="544.5" y2="188.5" stroke="#e4e4e4" stroke-width=".6"/>
<rect x="432" y="179" width="108" height="26" fill="#fff"/>
<polyline points="403.1,201.5 403.4,191.1 403.7,192.4 404,198.2 404.4,206.7 404.7,215.8 405,222.3 405.3,219.7 405.6,224.2 405.9,221 406.2,215.5 406.6,228.1 406.9,223.6 407.2,232.1 407.5,217.3 407.8,215.7 408.1,215.2 408.4,222 408.8,227.1 409.1,223.4 409.4,220.9 409.7,220.6 410,217.7 410.3,218 410.6,221.1 411,234.3 411.3,218.9 411.6,218 411.9,218 412.2,225 412.5,215.6 412.8,216.4 413.2,220.1 413.5,220 413.8,214.5 414.1,198.9 414.4,202.8 414.7,213.2 415,221 415.4,217.1 415.7,230.2 416,217 416.3,215.4 416.6,217.3 416.9,223.1 417.2,238.9 417.6,217.4 417.9,226.3 418.2,234.1 418.5,218.3 418.8,218.3 419.1,216.5 419.4,231.8 419.8,211.8 420.1,219 420.4,223.2 420.7,232.7 421,224.7 421.3,218 421.6,215.8 422,219.5 422.3,223.1 422.6,217.2 422.9,214.1 423.2,212.8 423.5,218.1 423.8,230.6 424.2,224.6 424.5,222.8 424.8,219.7 425.1,218.6 425.4,223.8 425.7,221.4 426,220.8 426.4,220.4 426.7,220.6 427,221.3 427.3,219.3 427.6,219.7 427.9,219.7 428.2,222.4 428.6,220.5 428.9,221.2 429.2,227.3 429.5,222.6 429.8,222.6 430.1,229.6 430.4,220.9 430.8,221.5 431.1,220.9 431.4,221.3 431.7,222.8 432,227.5 432.3,219 432.6,225.2 433,224.4 433.3,221.1 433.6,220.5 433.9,233.9 434.2,218.8 434.5,217 434.8,219 435.2,212.4 435.5,227.8 435.8,221.1 436.1,223 436.4,224.4 436.7,222.6 437,218.4 437.4,222.9 437.7,225 438,221.7 438.3,220.8 438.6,216.3 438.9,217.1 439.2,219.8 439.6,222.6 439.9,222.4 440.2,223.4 440.5,227.4 440.8,225.3 441.1,238.3 441.4,224.9 441.8,225.5 442.1,219.6 442.4,219.9 442.7,219.4 443,223.7 443.3,226.9 443.6,226.2 444,229.8 444.3,225.3 444.6,225.3 444.9,222 445.2,222.4 445.5,226.4 445.8,234.2 446.2,227.4 446.5,225.4 446.8,228.4 447.1,227 447.4,223.8 447.7,238.2 448,227.4 448.4,227.9 448.7,226 449,239.8 449.3,222.3 449.6,224.4 449.9,228.8 450.2,237.9 450.6,223.4 450.9,237.5 451.2,223.7 451.5,227.8 451.8,236.1 452.1,225.9 452.4,222.9 452.8,224.4 453.1,234.4 453.4,230.5 453.7,227.1 454,222.8 454.3,222.6 454.6,217.4 455,218.2 455.3,218.8 455.6,220.3 455.9,227.8 456.2,224.7 456.5,224 456.8,227.1 457.2,243.3 457.5,224.9 457.8,227.4 458.1,227.6 458.4,224.4 458.7,226.9 459,228.3 459.4,226.1 459.7,232.4 460,243.5 460.3,233.8 460.6,231.7 460.9,228 461.2,227.7 461.6,228.1 461.9,227.7 462.2,223.2 462.5,229 462.8,225.9 463.1,231.5 463.4,248 463.8,225.2 464.1,248.4 464.4,228.9 464.7,226.5 465,239.4 465.3,229.9 465.6,230.2 466,235 466.3,232.1 466.6,232.6 466.9,226.6 467.2,230.4 467.5,224.6 467.8,228.6 468.2,223.2 468.5,224.9 468.8,225.9 469.1,225.4 469.4,221.2 469.7,223.3 470,221.6 470.4,227 470.7,232.1 471,238.5 471.3,252.6 471.6,236.1 471.9,228.7 472.2,229 472.6,230.6 472.9,232.1 473.2,231.8 473.5,243.3 473.8,235.2 474.1,230.4 474.4,243.2 474.8,232.8 475.1,233.4 475.4,232.9 475.7,234.7 476,242.3 476.3,233.7 476.6,235.3 477,225.7 477.3,229.8 477.6,232.4 477.9,233.3 478.2,235.2 478.5,240.2 478.8,236 479.2,232.5 479.5,248.9 479.8,241.6 480.1,236 480.4,233.7 480.7,226.6 481,230.2 481.4,229.8 481.7,233 482,229.8 482.3,232.3 482.6,224.4 482.9,229.6 483.2,231.9 483.6,235.8 483.9,232.1 484.2,250.9 484.5,236.4 484.8,248.7 485.1,232.3 485.4,233 485.8,239.4 486.1,233.6 486.4,227.1 486.7,225 487,225.7 487.3,231.9 487.6,231.1 488,229.6 488.3,227.8 488.6,235.7 488.9,227.3 489.2,231 489.5,245 489.8,235.8 490.2,233.8 490.5,233.7 490.8,232.2 491.1,236.1 491.4,230.9 491.7,232.9 492,237.4 492.4,233.8 492.7,229.9 493,226.5 493.3,245 493.6,232.8 493.9,242.9 494.2,228 494.6,230.6 494.9,230.7 495.2,235.1 495.5,233.2 495.8,236.5 496.1,236 496.4,235.7 496.8,236.7 497.1,241.9 497.4,240.6 497.7,236.6 498,251.7 498.3,246.9 498.6,234.7 499,233.1 499.3,231.9 499.6,236.3 499.9,235.8 500.2,236.7 500.5,255.8 500.8,241.5 501.2,238.7 501.5,239.7 501.8,231.4 502.1,239.7 502.4,235.9 502.7,237.2 503,231.2 503.4,236.8 503.7,237 504,238.9 504.3,238 504.6,237.3 504.9,233.7 505.2,239.5 505.6,238 505.9,232.6 506.2,236.5 506.5,237.2 506.8,239.7 507.1,245.9 507.4,241.4 507.8,235.6 508.1,237.9 508.4,243 508.7,239.1 509,255.1 509.3,234.8 509.6,233.7 510,236.6 510.3,236.1 510.6,242.3 510.9,236.6 511.2,236.8 511.5,234.3 511.8,233.2 512.2,236.7 512.5,238 512.8,240.7 513.1,245.4 513.4,241.9 513.7,239.5 514,242.1 514.4,253.2 514.7,238.1 515,243.6 515.3,240.2 515.6,244.6 515.9,239.2 516.2,237.2 516.6,238.5 516.9,240 517.2,240.3 517.5,240.1 517.8,241.1 518.1,246 518.4,240.1 518.8,244.1 519.1,242.5 519.4,259.8 519.7,239.8 520,244.5 520.3,238.3 520.6,237.2 521,231 521.3,234.7 521.6,239.9 521.9,249.2 522.2,249.6 522.5,237.7 522.8,235.7 523.2,239.8 523.5,255.3 523.8,239.6 524.1,245.3 524.4,244.7 524.7,244.3 525,237.7 525.4,241.2 525.7,236.4 526,238.8 526.3,244.9 526.6,236.2 526.9,241.7 527.2,247.9 527.6,235.4 527.9,240.2 528.2,244.4 528.5,239.6 528.8,240.4 529.1,244.6 529.4,246.1 529.8,244.7 530.1,240.2 530.4,241.9 530.7,254.1 531,236.1 531.3,235.6 531.6,234.9 532,235.2 532.3,243.7 532.6,239.3 532.9,239.9 533.2,257.7 533.5,245.2 533.8,248.3 534.2,255.1 534.5,245.2 534.8,247.2 535.1,252.3 535.4,254 535.7,250.5 536,252.3 536.4,249.9 536.7,239.7 537,251.4 537.3,250.2 537.6,253.8 537.9,248.3 538.2,262.7 538.6,243.8 538.9,263.9 539.2,263.9 539.5,254.1 539.8,246.8 540.1,253.1 540.4,240.5 540.8,247.8 541.1,248.9 541.4,251.6 541.7,245.1 542,248.4 542.3,259.5 542.6,247.1 543,247.7 543.3,248.4 543.6,257.8 543.9,263.9" fill="none" stroke="#4f88c6" stroke-width=".6" stroke-linejoin="bevel"/>
<line x1="402.5" y1="216.4" x2="544.5" y2="245.1" stroke="#c0504d" stroke-width=".55"/>
<rect x="402.5" y="175.5" width="142.0" height="91.0" fill="none" stroke="#8a8a8a" stroke-width="1"/>
<text x="398.9" y="267.7" font-size="7.5" text-anchor="end">100</text>
<text x="398.9" y="255" font-size="7.5" text-anchor="end">120</text>
<text x="398.9" y="242.3" font-size="7.5" text-anchor="end">140</text>
<text x="398.9" y="229.6" font-size="7.5" text-anchor="end">160</text>
<text x="398.9" y="216.9" font-size="7.5" text-anchor="end">180</text>
<text x="398.9" y="204.2" font-size="7.5" text-anchor="end">200</text>
<text x="398.9" y="191.5" font-size="7.5" text-anchor="end">220</text>
<text x="398.9" y="178.8" font-size="7.5" text-anchor="end">240</text>
<text x="398" y="277.7" font-size="7.5" text-anchor="middle">0</text>
<text x="433.3" y="277.7" font-size="7.5" text-anchor="middle">100</text>
<text x="465.3" y="277.7" font-size="7.5" text-anchor="middle">200</text>
<text x="496.1" y="277.7" font-size="7.5" text-anchor="middle">300</text>
<text x="527.8" y="277.7" font-size="7.5" text-anchor="middle">400</text>
<text font-size="9.2" transform="translate(451.4 170.4) scale(1.1 1)" class="pl2">(e)</text>
<line x1="437.6" y1="185" x2="458.6" y2="185" stroke="#5b9bd5" stroke-width="1.3"/>
<line x1="437.8" y1="200" x2="464" y2="200" stroke="#b02020" stroke-width="1.4" stroke-dasharray="1.4 2.4"/>
<text x="475.7" y="187.8" font-size="7.5">Image data</text>
<text x="469.5" y="202.1" font-size="7.5">Attenuation trend</text>
<text font-size="10" text-anchor="middle" transform="translate(381 220.5) rotate(-90)" class="tt">Gray level</text>
<text x="468.8" y="291.2" font-size="10" text-anchor="middle" font-style="italic" class="tt">Z position(Voxel)</text>
<clipPath id="cr"><rect x="300" y="0" width="80" height="301"/></clipPath><g clip-path="url(#cr)"><line x1="256" y1="33" x2="364" y2="69" stroke="#c83c3c" stroke-width="1.15" stroke-dasharray="3 2.2" fill="none"/><line x1="290.5" y1="188.4" x2="364.2" y2="217.2" stroke="#c83c3c" stroke-width="1.15" stroke-dasharray="3 2.2" fill="none"/></g>
</svg></body></html>
